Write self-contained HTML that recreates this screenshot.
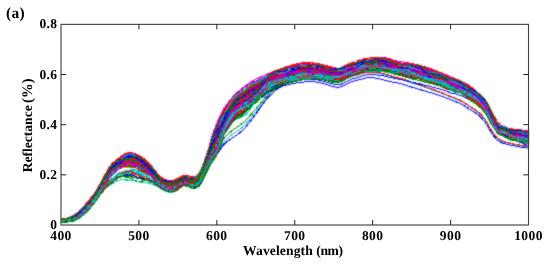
<!DOCTYPE html>
<html><head><meta charset="utf-8"><title>Reflectance spectra</title>
<style>
html,body{margin:0;padding:0;background:#fff;}
body{width:550px;height:264px;overflow:hidden;}
svg{display:block;font-family:"Liberation Serif",serif;font-weight:bold;fill:#000;text-rendering:geometricPrecision;}
.c polyline{shape-rendering:crispEdges;fill:none;stroke-width:1.05;}
</style></head>
<body>
<svg width="550" height="264" viewBox="0 0 550 264">
<rect width="550" height="264" fill="#fff"/>
<defs><filter id="b" color-interpolation-filters="sRGB" x="0" y="0" width="550" height="264" filterUnits="userSpaceOnUse"><feConvolveMatrix order="3" kernelMatrix="0.04 0.11 0.04 0.11 0.4 0.11 0.04 0.11 0.04" divisor="1" edgeMode="duplicate" preserveAlpha="false"/></filter></defs>
<g class="c" shape-rendering="crispEdges" filter="url(#b)">
<polyline points="61.0,220.5 63.0,220.5 65.0,220.3 67.0,220.0 69.0,219.6 71.0,219.0 73.0,218.5 75.0,217.7 77.0,216.4 79.0,214.7 81.0,213.2 83.0,211.1 85.0,208.9 87.0,206.7 89.0,204.2 91.0,201.5 93.0,199.0 95.0,196.0 97.0,192.7 99.0,189.2 101.0,185.7 103.0,182.5 105.0,178.9 107.0,175.7 109.0,172.4 111.0,169.4 113.0,166.9 115.0,164.7 117.0,163.1 119.0,162.1 121.0,161.1 123.0,159.7 125.0,159.2 127.0,159.2 129.0,159.6 131.0,159.9 133.0,160.3 135.0,161.1 137.0,161.8 139.0,162.9 141.0,164.1 143.0,165.1 145.0,165.9 147.0,167.1 149.0,168.6 151.0,170.1 153.0,172.0 155.0,174.1 157.0,176.0 159.0,178.2 161.0,180.1 163.0,181.5 165.0,182.3 167.0,183.3 169.0,183.5 171.0,183.8 173.0,183.4 175.0,182.7 177.0,181.8 179.0,181.0 181.0,180.2 183.0,179.4 185.0,179.2 187.0,179.5 189.0,180.3 191.0,181.0 193.0,181.2 195.0,181.3 197.0,180.6 199.0,179.2 201.0,176.1 203.0,171.8 205.0,167.2 207.0,162.5 209.0,157.4 211.0,152.0 213.0,147.0 215.0,142.3 217.0,138.0 219.0,132.7 221.0,126.8 223.0,121.5 225.0,117.3 227.0,113.6 229.0,110.3 231.0,107.5 233.0,104.8 235.0,103.0 237.0,101.6 239.0,100.6 241.0,99.4 243.0,98.2 245.0,96.5 247.0,94.7 249.0,92.8 251.0,91.2 253.0,89.7 255.0,88.4 257.0,87.4 259.0,86.2 261.0,85.1 263.0,83.9 265.0,82.6 267.0,81.2 269.0,79.9 271.0,79.0 273.0,77.6 275.0,76.5 277.0,75.1 279.0,73.8 281.0,72.7 283.0,71.6 285.0,70.5 287.0,69.5 289.0,68.5 291.0,67.5 293.0,66.6 295.0,65.9 297.0,65.2 299.0,65.0 301.0,65.0 303.0,65.2 305.0,65.6 307.0,66.0 309.0,66.3 311.0,66.5 313.0,66.5 315.0,66.7 317.0,66.9 319.0,67.1 321.0,67.4 323.0,68.3 325.0,69.2 327.0,70.1 329.0,71.1 331.0,71.7 333.0,72.1 335.0,72.5 337.0,72.7 339.0,72.6 341.0,72.4 343.0,71.7 345.0,70.4 347.0,69.3 349.0,68.4 351.0,67.1 353.0,66.2 355.0,65.2 357.0,64.2 359.0,63.0 361.0,61.7 363.0,61.2 365.0,61.2 367.0,61.6 369.0,61.9 371.0,62.2 373.0,62.4 375.0,62.3 377.0,62.5 379.0,62.5 381.0,63.2 383.0,63.7 385.0,64.0 387.0,64.3 389.0,64.7 391.0,65.1 393.0,65.7 395.0,66.3 397.0,66.5 399.0,67.0 401.0,67.3 403.0,67.9 405.0,68.1 407.0,68.2 409.0,68.1 411.0,68.4 413.0,68.5 415.0,68.0 417.0,67.6 419.0,67.1 421.0,67.0 423.0,67.3 425.0,68.0 427.0,68.0 429.0,68.4 431.0,69.3 433.0,70.2 435.0,71.2 437.0,72.2 439.0,73.3 441.0,74.5 443.0,75.6 445.0,77.1 447.0,78.4 449.0,79.4 451.0,80.2 453.0,81.0 455.0,81.2 457.0,81.9 459.0,82.6 461.0,82.8 463.0,84.3 465.0,85.9 467.0,87.2 469.0,88.8 471.0,90.2 473.0,91.3 475.0,92.7 477.0,94.2 479.0,95.8 481.0,97.4 483.0,99.0 485.0,101.7 487.0,104.5 489.0,108.8 491.0,112.6 493.0,116.0 495.0,119.9 497.0,123.3 499.0,125.4 501.0,126.9 503.0,127.9 505.0,129.6 507.0,131.1 509.0,132.5 511.0,133.6 513.0,134.5 515.0,135.2 517.0,135.5 519.0,135.5 521.0,135.7 523.0,136.2 525.0,136.2 528.5,136.7" stroke="#404040"/>
<polyline points="61.0,220.0 63.0,219.8 65.0,219.6 67.0,219.4 69.0,218.7 71.0,218.0 73.0,217.3 75.0,216.2 77.0,215.0 79.0,213.4 81.0,211.6 83.0,209.8 85.0,207.8 87.0,205.6 89.0,203.3 91.0,200.9 93.0,198.4 95.0,195.7 97.0,192.6 99.0,189.0 101.0,185.8 103.0,182.5 105.0,179.3 107.0,176.0 109.0,173.2 111.0,170.5 113.0,168.1 115.0,166.0 117.0,164.2 119.0,163.1 121.0,161.9 123.0,160.4 125.0,159.5 127.0,159.2 129.0,159.3 131.0,159.0 133.0,159.1 135.0,159.7 137.0,160.4 139.0,161.5 141.0,162.9 143.0,164.0 145.0,165.4 147.0,166.9 149.0,168.7 151.0,170.7 153.0,172.7 155.0,175.0 157.0,177.0 159.0,179.6 161.0,181.6 163.0,182.9 165.0,183.9 167.0,184.8 169.0,185.2 171.0,185.4 173.0,185.0 175.0,184.1 177.0,183.0 179.0,182.1 181.0,180.8 183.0,179.8 185.0,179.5 187.0,179.5 189.0,180.0 191.0,180.3 193.0,180.4 195.0,180.2 197.0,179.2 199.0,177.1 201.0,173.5 203.0,169.2 205.0,164.1 207.0,159.0 209.0,153.4 211.0,147.7 213.0,142.7 215.0,138.3 217.0,134.4 219.0,130.2 221.0,125.6 223.0,121.3 225.0,118.0 227.0,115.1 229.0,112.4 231.0,109.7 233.0,107.3 235.0,105.6 237.0,104.0 239.0,102.7 241.0,101.3 243.0,99.9 245.0,98.0 247.0,96.1 249.0,94.2 251.0,92.5 253.0,90.9 255.0,89.6 257.0,88.3 259.0,87.2 261.0,85.8 263.0,84.7 265.0,83.4 267.0,82.0 269.0,80.8 271.0,80.0 273.0,79.2 275.0,78.4 277.0,77.4 279.0,76.8 281.0,76.3 283.0,75.9 285.0,75.4 287.0,74.8 289.0,74.3 291.0,73.7 293.0,73.1 295.0,72.5 297.0,72.0 299.0,71.7 301.0,71.5 303.0,71.4 305.0,71.3 307.0,71.2 309.0,71.2 311.0,70.9 313.0,70.8 315.0,70.5 317.0,70.6 319.0,70.6 321.0,70.7 323.0,71.1 325.0,71.9 327.0,72.5 329.0,73.1 331.0,73.5 333.0,73.7 335.0,73.9 337.0,74.0 339.0,73.9 341.0,73.6 343.0,72.9 345.0,71.9 347.0,70.9 349.0,70.2 351.0,69.3 353.0,68.6 355.0,67.9 357.0,67.1 359.0,66.3 361.0,65.1 363.0,64.4 365.0,64.2 367.0,64.2 369.0,64.1 371.0,64.2 373.0,63.7 375.0,63.4 377.0,63.2 379.0,63.1 381.0,63.3 383.0,63.7 385.0,64.0 387.0,64.1 389.0,64.5 391.0,65.0 393.0,65.7 395.0,66.4 397.0,66.9 399.0,67.4 401.0,68.2 403.0,68.7 405.0,69.2 407.0,69.8 409.0,70.2 411.0,71.1 413.0,71.5 415.0,71.9 417.0,72.2 419.0,72.5 421.0,73.0 423.0,73.8 425.0,74.8 427.0,75.2 429.0,75.7 431.0,76.4 433.0,77.1 435.0,77.7 437.0,78.4 439.0,78.8 441.0,79.6 443.0,80.4 445.0,81.3 447.0,82.2 449.0,82.9 451.0,83.7 453.0,84.2 455.0,84.4 457.0,85.2 459.0,86.0 461.0,86.3 463.0,87.8 465.0,89.4 467.0,90.7 469.0,92.2 471.0,93.7 473.0,95.1 475.0,96.3 477.0,97.9 479.0,99.7 481.0,101.3 483.0,103.3 485.0,106.0 487.0,108.8 489.0,112.9 491.0,116.9 493.0,120.0 495.0,123.5 497.0,126.3 499.0,128.1 501.0,129.0 503.0,129.7 505.0,130.6 507.0,131.6 509.0,132.5 511.0,133.2 513.0,133.7 515.0,134.0 517.0,134.0 519.0,134.0 521.0,134.1 523.0,134.6 525.0,134.9 528.5,135.7" stroke="#bfbf00"/>
<polyline points="61.0,219.9 63.0,219.9 65.0,219.8 67.0,219.4 69.0,219.0 71.0,218.2 73.0,217.5 75.0,216.6 77.0,214.9 79.0,213.4 81.0,211.7 83.0,210.0 85.0,208.2 87.0,206.4 89.0,204.0 91.0,201.7 93.0,199.2 95.0,196.1 97.0,192.7 99.0,189.0 101.0,185.7 103.0,182.4 105.0,179.1 107.0,176.1 109.0,173.2 111.0,170.4 113.0,167.7 115.0,165.1 117.0,162.8 119.0,161.8 121.0,160.5 123.0,159.2 125.0,158.9 127.0,159.3 129.0,159.8 131.0,159.8 133.0,159.5 135.0,159.5 137.0,159.6 139.0,160.3 141.0,161.6 143.0,162.8 145.0,164.5 147.0,166.6 149.0,168.6 151.0,170.6 153.0,172.8 155.0,174.7 157.0,176.4 159.0,178.7 161.0,180.6 163.0,182.0 165.0,183.3 167.0,184.4 169.0,184.9 171.0,184.8 173.0,184.3 175.0,183.1 177.0,181.9 179.0,180.6 181.0,179.6 183.0,178.8 185.0,178.7 187.0,179.1 189.0,180.0 191.0,180.7 193.0,180.8 195.0,180.6 197.0,179.5 199.0,177.6 201.0,174.0 203.0,169.6 205.0,165.1 207.0,160.3 209.0,155.4 211.0,150.4 213.0,145.7 215.0,141.2 217.0,136.9 219.0,131.9 221.0,126.8 223.0,122.7 225.0,119.9 227.0,117.7 229.0,115.7 231.0,113.4 233.0,110.9 235.0,108.3 237.0,105.6 239.0,103.3 241.0,101.0 243.0,99.3 245.0,97.9 247.0,96.6 249.0,95.5 251.0,94.3 253.0,93.0 255.0,91.5 257.0,89.9 259.0,88.3 261.0,86.8 263.0,85.7 265.0,84.6 267.0,83.8 269.0,83.2 271.0,82.6 273.0,81.8 275.0,80.5 277.0,79.0 279.0,77.6 281.0,76.6 283.0,76.0 285.0,75.5 287.0,75.2 289.0,75.1 291.0,74.7 293.0,74.3 295.0,73.6 297.0,72.8 299.0,72.0 301.0,71.5 303.0,71.1 305.0,70.9 307.0,71.1 309.0,71.3 311.0,71.3 313.0,71.3 315.0,71.1 317.0,70.7 319.0,70.4 321.0,70.4 323.0,71.2 325.0,71.9 327.0,73.1 329.0,74.3 331.0,75.3 333.0,75.9 335.0,76.1 337.0,76.0 339.0,75.4 341.0,74.8 343.0,73.6 345.0,72.6 347.0,71.8 349.0,71.4 351.0,70.7 353.0,70.2 355.0,69.5 357.0,68.5 359.0,67.2 361.0,65.8 363.0,65.0 365.0,65.0 367.0,65.1 369.0,65.4 371.0,65.8 373.0,65.7 375.0,65.5 377.0,64.9 379.0,64.4 381.0,64.3 383.0,64.3 385.0,64.6 387.0,65.1 389.0,66.0 391.0,67.3 393.0,68.5 395.0,69.4 397.0,69.7 399.0,70.1 401.0,70.2 403.0,70.5 405.0,70.9 407.0,71.5 409.0,72.1 411.0,73.2 413.0,73.7 415.0,74.0 417.0,73.9 419.0,73.6 421.0,73.2 423.0,73.5 425.0,74.1 427.0,74.7 429.0,75.8 431.0,76.8 433.0,77.8 435.0,78.8 437.0,79.2 439.0,79.2 441.0,79.5 443.0,79.8 445.0,80.4 447.0,81.4 449.0,82.4 451.0,83.7 453.0,84.6 455.0,85.2 457.0,86.0 459.0,86.5 461.0,86.7 463.0,87.9 465.0,89.4 467.0,91.0 469.0,93.0 471.0,94.8 473.0,96.6 475.0,98.1 477.0,99.5 479.0,100.7 481.0,101.9 483.0,103.1 485.0,105.3 487.0,108.0 489.0,112.6 491.0,116.9 493.0,120.6 495.0,124.5 497.0,127.3 499.0,129.2 501.0,129.9 503.0,130.4 505.0,131.4 507.0,132.3 509.0,133.5 511.0,134.6 513.0,135.6 515.0,136.3 517.0,136.6 519.0,136.6 521.0,136.6 523.0,136.8 525.0,137.1 528.5,138.2" stroke="#404040"/>
<polyline points="61.0,220.8 63.0,220.6 65.0,220.2 67.0,220.0 69.0,219.6 71.0,219.1 73.0,218.5 75.0,217.7 77.0,216.5 79.0,214.9 81.0,213.3 83.0,211.5 85.0,209.5 87.0,207.5 89.0,205.3 91.0,202.8 93.0,200.4 95.0,197.7 97.0,194.5 99.0,190.9 101.0,187.6 103.0,184.5 105.0,181.5 107.0,178.9 109.0,176.7 111.0,174.7 113.0,172.9 115.0,170.8 117.0,168.9 119.0,167.5 121.0,166.0 123.0,164.4 125.0,163.4 127.0,163.0 129.0,163.2 131.0,163.3 133.0,163.5 135.0,163.9 137.0,164.4 139.0,165.2 141.0,166.3 143.0,167.1 145.0,168.4 147.0,170.0 149.0,172.0 151.0,173.8 153.0,175.8 155.0,177.7 157.0,179.5 159.0,181.4 161.0,182.8 163.0,184.3 165.0,185.3 167.0,186.2 169.0,186.6 171.0,187.2 173.0,186.9 175.0,186.2 177.0,185.5 179.0,184.3 181.0,183.0 183.0,182.0 185.0,181.6 187.0,181.9 189.0,182.5 191.0,182.9 193.0,183.2 195.0,183.0 197.0,182.1 199.0,180.1 201.0,176.8 203.0,172.0 205.0,167.3 207.0,162.5 209.0,157.6 211.0,153.0 213.0,148.8 215.0,144.9 217.0,141.3 219.0,136.3 221.0,130.1 223.0,124.5 225.0,119.9 227.0,116.4 229.0,113.4 231.0,110.8 233.0,108.4 235.0,106.7 237.0,105.3 239.0,103.7 241.0,102.0 243.0,100.1 245.0,98.3 247.0,96.7 249.0,95.2 251.0,94.1 253.0,92.7 255.0,91.3 257.0,89.6 259.0,87.8 261.0,85.7 263.0,83.5 265.0,81.5 267.0,80.0 269.0,78.8 271.0,78.0 273.0,77.4 275.0,76.8 277.0,75.9 279.0,75.0 281.0,74.2 283.0,73.3 285.0,72.5 287.0,72.0 289.0,71.4 291.0,70.9 293.0,70.4 295.0,69.7 297.0,69.2 299.0,68.5 301.0,67.9 303.0,67.5 305.0,67.4 307.0,67.4 309.0,67.4 311.0,67.7 313.0,67.9 315.0,68.1 317.0,68.1 319.0,68.0 321.0,67.8 323.0,68.0 325.0,68.3 327.0,68.8 329.0,69.2 331.0,69.7 333.0,70.0 335.0,70.3 337.0,70.2 339.0,70.0 341.0,69.8 343.0,68.9 345.0,67.7 347.0,67.0 349.0,66.4 351.0,66.1 353.0,65.7 355.0,65.6 357.0,64.9 359.0,63.8 361.0,62.5 363.0,61.5 365.0,61.2 367.0,61.0 369.0,61.0 371.0,61.1 373.0,61.2 375.0,61.2 377.0,61.2 379.0,61.1 381.0,61.5 383.0,61.8 385.0,61.8 387.0,61.9 389.0,62.2 391.0,62.9 393.0,63.8 395.0,64.8 397.0,65.4 399.0,65.8 401.0,66.0 403.0,66.1 405.0,66.3 407.0,66.6 409.0,66.9 411.0,68.1 413.0,69.0 415.0,69.8 417.0,70.5 419.0,71.0 421.0,71.6 423.0,72.2 425.0,72.7 427.0,72.9 429.0,73.2 431.0,73.9 433.0,74.8 435.0,75.6 437.0,76.4 439.0,77.1 441.0,77.6 443.0,78.1 445.0,78.8 447.0,79.4 449.0,80.2 451.0,81.1 453.0,81.9 455.0,82.5 457.0,83.5 459.0,84.1 461.0,84.1 463.0,85.0 465.0,86.0 467.0,87.0 469.0,88.0 471.0,89.4 473.0,90.8 475.0,92.3 477.0,94.5 479.0,96.3 481.0,98.1 483.0,100.0 485.0,102.4 487.0,105.3 489.0,109.6 491.0,113.6 493.0,117.2 495.0,121.2 497.0,124.4 499.0,126.3 501.0,127.1 503.0,127.5 505.0,128.5 507.0,129.0 509.0,130.1 511.0,130.9 513.0,131.7 515.0,132.2 517.0,132.6 519.0,132.9 521.0,133.2 523.0,133.7 525.0,133.7 528.5,134.0" stroke="#bfbf00"/>
<polyline points="61.0,221.9 63.0,221.6 65.0,221.3 67.0,220.9 69.0,220.3 71.0,219.8 73.0,219.3 75.0,218.4 77.0,217.3 79.0,215.8 81.0,214.2 83.0,212.6 85.0,210.8 87.0,208.9 89.0,206.9 91.0,204.6 93.0,202.3 95.0,199.5 97.0,196.2 99.0,192.5 101.0,189.2 103.0,185.9 105.0,182.5 107.0,179.6 109.0,176.9 111.0,174.7 113.0,172.8 115.0,171.1 117.0,169.7 119.0,168.7 121.0,168.3 123.0,167.5 125.0,167.4 127.0,167.2 129.0,167.3 131.0,167.1 133.0,166.8 135.0,166.7 137.0,166.6 139.0,166.9 141.0,167.5 143.0,168.2 145.0,169.3 147.0,170.9 149.0,172.7 151.0,175.0 153.0,177.1 155.0,179.4 157.0,181.4 159.0,183.5 161.0,185.3 163.0,186.7 165.0,187.9 167.0,188.7 169.0,188.8 171.0,188.9 173.0,188.5 175.0,187.5 177.0,186.7 179.0,185.4 181.0,184.1 183.0,183.3 185.0,183.2 187.0,183.8 189.0,184.7 191.0,185.3 193.0,185.8 195.0,185.8 197.0,185.2 199.0,183.8 201.0,180.4 203.0,175.4 205.0,170.6 207.0,165.7 209.0,161.0 211.0,156.4 213.0,152.1 215.0,148.6 217.0,145.5 219.0,141.8 221.0,136.7 223.0,132.3 225.0,129.0 227.0,126.2 229.0,123.8 231.0,121.3 233.0,118.5 235.0,116.2 237.0,114.1 239.0,111.7 241.0,109.3 243.0,107.1 245.0,105.0 247.0,103.4 249.0,102.1 251.0,101.2 253.0,100.4 255.0,99.8 257.0,98.8 259.0,97.4 261.0,95.7 263.0,93.8 265.0,91.8 267.0,89.9 269.0,88.1 271.0,86.6 273.0,85.3 275.0,83.7 277.0,82.3 279.0,81.0 281.0,80.4 283.0,79.6 285.0,79.3 287.0,79.0 289.0,79.2 291.0,79.2 293.0,79.2 295.0,79.3 297.0,79.1 299.0,78.8 301.0,78.4 303.0,77.8 305.0,77.3 307.0,76.7 309.0,76.4 311.0,75.8 313.0,75.9 315.0,75.9 317.0,76.2 319.0,76.4 321.0,76.9 323.0,77.6 325.0,78.4 327.0,79.3 329.0,79.9 331.0,80.7 333.0,81.0 335.0,81.1 337.0,80.9 339.0,80.1 341.0,78.9 343.0,77.3 345.0,75.9 347.0,74.5 349.0,73.6 351.0,72.8 353.0,72.3 355.0,72.2 357.0,72.1 359.0,71.5 361.0,71.1 363.0,70.6 365.0,70.4 367.0,70.3 369.0,70.3 371.0,70.0 373.0,69.6 375.0,69.3 377.0,68.8 379.0,68.7 381.0,68.5 383.0,68.4 385.0,68.9 387.0,69.4 389.0,70.1 391.0,71.1 393.0,72.3 395.0,73.5 397.0,74.0 399.0,74.5 401.0,74.8 403.0,74.8 405.0,74.8 407.0,74.7 409.0,74.6 411.0,74.7 413.0,74.9 415.0,75.2 417.0,75.4 419.0,75.6 421.0,76.3 423.0,77.4 425.0,78.7 427.0,79.8 429.0,80.9 431.0,82.2 433.0,83.3 435.0,84.1 437.0,84.6 439.0,85.1 441.0,85.4 443.0,85.4 445.0,85.6 447.0,86.0 449.0,86.5 451.0,87.1 453.0,87.9 455.0,88.7 457.0,89.9 459.0,91.0 461.0,91.9 463.0,93.6 465.0,95.2 467.0,96.5 469.0,97.8 471.0,99.2 473.0,100.1 475.0,101.0 477.0,102.2 479.0,103.5 481.0,104.7 483.0,106.4 485.0,108.7 487.0,111.7 489.0,116.2 491.0,120.4 493.0,124.5 495.0,128.4 497.0,131.6 499.0,133.8 501.0,135.1 503.0,135.9 505.0,136.8 507.0,137.3 509.0,137.8 511.0,138.2 513.0,138.5 515.0,138.6 517.0,138.7 519.0,139.0 521.0,139.2 523.0,139.8 525.0,140.2 528.5,141.5" stroke="#bfbf00"/>
<polyline points="61.0,220.9 63.0,220.7 65.0,220.4 67.0,220.1 69.0,219.5 71.0,219.0 73.0,218.4 75.0,217.6 77.0,216.3 79.0,214.8 81.0,213.1 83.0,211.3 85.0,209.3 87.0,207.2 89.0,204.9 91.0,202.5 93.0,200.0 95.0,197.2 97.0,194.0 99.0,190.5 101.0,187.2 103.0,184.1 105.0,180.8 107.0,177.8 109.0,175.0 111.0,172.5 113.0,170.3 115.0,168.2 117.0,166.4 119.0,165.3 121.0,164.1 123.0,162.7 125.0,162.0 127.0,161.7 129.0,161.8 131.0,161.8 133.0,161.9 135.0,162.5 137.0,163.2 139.0,164.2 141.0,165.5 143.0,166.5 145.0,167.8 147.0,169.3 149.0,171.0 151.0,172.8 153.0,174.9 155.0,176.9 157.0,178.9 159.0,181.1 161.0,182.8 163.0,184.3 165.0,185.4 167.0,186.1 169.0,186.6 171.0,186.8 173.0,186.4 175.0,185.6 177.0,184.7 179.0,183.6 181.0,182.4 183.0,181.4 185.0,181.1 187.0,181.3 189.0,182.0 191.0,182.4 193.0,182.6 195.0,182.5 197.0,181.6 199.0,180.0 201.0,176.8 203.0,172.5 205.0,168.2 207.0,163.9 209.0,159.8 211.0,156.2 213.0,153.2 215.0,151.2 217.0,150.2 219.0,147.8 221.0,143.8 223.0,140.1 225.0,137.3 227.0,135.1 229.0,133.3 231.0,131.5 233.0,129.9 235.0,128.5 237.0,127.2 239.0,126.0 241.0,124.5 243.0,122.9 245.0,121.0 247.0,119.0 249.0,116.8 251.0,114.5 253.0,112.2 255.0,109.9 257.0,107.6 259.0,105.1 261.0,102.6 263.0,100.1 265.0,97.6 267.0,95.3 269.0,93.5 271.0,92.2 273.0,90.8 275.0,89.3 277.0,87.7 279.0,86.3 281.0,85.3 283.0,84.1 285.0,83.0 287.0,82.0 289.0,81.1 291.0,80.3 293.0,79.6 295.0,79.0 297.0,78.4 299.0,78.0 301.0,77.7 303.0,77.4 305.0,77.1 307.0,77.0 309.0,76.9 311.0,76.8 313.0,76.7 315.0,76.8 317.0,76.9 319.0,77.2 321.0,77.4 323.0,77.9 325.0,78.5 327.0,79.1 329.0,79.7 331.0,80.1 333.0,80.5 335.0,80.9 337.0,81.0 339.0,80.9 341.0,80.5 343.0,79.6 345.0,78.7 347.0,77.6 349.0,76.6 351.0,75.7 353.0,75.0 355.0,74.4 357.0,73.7 359.0,72.9 361.0,72.1 363.0,71.4 365.0,71.0 367.0,70.8 369.0,70.6 371.0,70.5 373.0,70.4 375.0,70.4 377.0,70.4 379.0,70.4 381.0,70.8 383.0,71.1 385.0,71.4 387.0,71.7 389.0,72.1 391.0,72.5 393.0,73.1 395.0,73.6 397.0,73.9 399.0,74.3 401.0,74.7 403.0,75.2 405.0,75.6 407.0,76.0 409.0,76.4 411.0,77.0 413.0,77.5 415.0,77.9 417.0,78.2 419.0,78.6 421.0,79.0 423.0,79.6 425.0,80.3 427.0,80.8 429.0,81.3 431.0,81.9 433.0,82.6 435.0,83.2 437.0,83.8 439.0,84.4 441.0,85.1 443.0,85.8 445.0,86.6 447.0,87.4 449.0,88.2 451.0,88.9 453.0,89.5 455.0,90.0 457.0,90.8 459.0,91.4 461.0,91.9 463.0,93.2 465.0,94.5 467.0,95.7 469.0,97.0 471.0,98.3 473.0,99.6 475.0,100.8 477.0,102.3 479.0,103.9 481.0,105.6 483.0,107.5 485.0,110.0 487.0,113.0 489.0,116.9 491.0,120.7 493.0,124.0 495.0,127.3 497.0,130.1 499.0,131.8 501.0,132.9 503.0,133.8 505.0,134.8 507.0,135.7 509.0,136.6 511.0,137.4 513.0,138.0 515.0,138.5 517.0,138.9 519.0,139.2 521.0,139.7 523.0,140.2 525.0,140.7 528.5,141.6" stroke="#008000" style="stroke-width:1"/>
<polyline points="61.0,221.0 63.0,220.8 65.0,220.6 67.0,220.3 69.0,219.7 71.0,219.2 73.0,218.7 75.0,217.9 77.0,216.6 79.0,215.1 81.0,213.5 83.0,211.7 85.0,209.7 87.0,207.6 89.0,205.2 91.0,202.8 93.0,200.4 95.0,197.6 97.0,194.4 99.0,190.9 101.0,187.6 103.0,184.5 105.0,181.3 107.0,178.4 109.0,175.7 111.0,173.2 113.0,171.0 115.0,168.9 117.0,167.1 119.0,165.9 121.0,164.8 123.0,163.4 125.0,162.7 127.0,162.4 129.0,162.5 131.0,162.6 133.0,162.7 135.0,163.3 137.0,164.0 139.0,165.0 141.0,166.2 143.0,167.3 145.0,168.5 147.0,169.9 149.0,171.6 151.0,173.4 153.0,175.4 155.0,177.5 157.0,179.4 159.0,181.6 161.0,183.3 163.0,184.8 165.0,185.9 167.0,186.7 169.0,187.2 171.0,187.4 173.0,187.0 175.0,186.1 177.0,185.3 179.0,184.1 181.0,182.9 183.0,181.9 185.0,181.6 187.0,181.8 189.0,182.5 191.0,182.9 193.0,183.1 195.0,183.0 197.0,182.2 199.0,180.6 201.0,177.5 203.0,173.2 205.0,169.0 207.0,164.9 209.0,161.1 211.0,157.8 213.0,155.2 215.0,153.6 217.0,153.1 219.0,151.1 221.0,147.2 223.0,143.6 225.0,140.9 227.0,138.8 229.0,137.1 231.0,135.4 233.0,133.9 235.0,132.5 237.0,131.2 239.0,129.9 241.0,128.4 243.0,126.7 245.0,124.8 247.0,122.7 249.0,120.4 251.0,118.0 253.0,115.6 255.0,113.1 257.0,110.6 259.0,107.9 261.0,105.2 263.0,102.6 265.0,100.0 267.0,97.5 269.0,95.7 271.0,94.2 273.0,92.8 275.0,91.1 277.0,89.4 279.0,87.9 281.0,86.9 283.0,85.5 285.0,84.3 287.0,83.3 289.0,82.3 291.0,81.5 293.0,80.7 295.0,80.0 297.0,79.4 299.0,79.0 301.0,78.6 303.0,78.2 305.0,78.0 307.0,77.8 309.0,77.6 311.0,77.4 313.0,77.3 315.0,77.3 317.0,77.5 319.0,77.7 321.0,77.9 323.0,78.3 325.0,78.8 327.0,79.4 329.0,79.9 331.0,80.3 333.0,80.7 335.0,81.0 337.0,81.1 339.0,81.0 341.0,80.5 343.0,79.6 345.0,78.6 347.0,77.5 349.0,76.4 351.0,75.6 353.0,74.8 355.0,74.2 357.0,73.4 359.0,72.6 361.0,71.7 363.0,71.0 365.0,70.7 367.0,70.4 369.0,70.2 371.0,70.1 373.0,70.1 375.0,70.0 377.0,70.0 379.0,70.0 381.0,70.3 383.0,70.6 385.0,70.9 387.0,71.3 389.0,71.7 391.0,72.1 393.0,72.7 395.0,73.2 397.0,73.6 399.0,74.0 401.0,74.4 403.0,74.9 405.0,75.3 407.0,75.8 409.0,76.1 411.0,76.8 413.0,77.3 415.0,77.7 417.0,78.0 419.0,78.4 421.0,78.8 423.0,79.5 425.0,80.2 427.0,80.6 429.0,81.1 431.0,81.8 433.0,82.5 435.0,83.1 437.0,83.7 439.0,84.4 441.0,85.0 443.0,85.8 445.0,86.6 447.0,87.4 449.0,88.2 451.0,88.9 453.0,89.5 455.0,90.0 457.0,90.8 459.0,91.4 461.0,92.0 463.0,93.2 465.0,94.5 467.0,95.7 469.0,97.1 471.0,98.3 473.0,99.6 475.0,100.8 477.0,102.3 479.0,103.9 481.0,105.6 483.0,107.5 485.0,110.0 487.0,113.0 489.0,116.9 491.0,120.7 493.0,124.0 495.0,127.3 497.0,130.0 499.0,131.8 501.0,132.9 503.0,133.7 505.0,134.8 507.0,135.6 509.0,136.5 511.0,137.3 513.0,137.9 515.0,138.4 517.0,138.7 519.0,139.0 521.0,139.4 523.0,139.9 525.0,140.4 528.5,141.2" stroke="#00bfbf" style="stroke-width:1"/>
<polyline points="61.0,220.7 63.0,220.5 65.0,220.3 67.0,219.9 69.0,219.4 71.0,218.8 73.0,218.2 75.0,217.3 77.0,216.0 79.0,214.4 81.0,212.8 83.0,211.0 85.0,209.0 87.0,206.8 89.0,204.5 91.0,202.1 93.0,199.6 95.0,196.8 97.0,193.6 99.0,190.0 101.0,186.8 103.0,183.6 105.0,180.3 107.0,177.3 109.0,174.4 111.0,171.9 113.0,169.6 115.0,167.5 117.0,165.8 119.0,164.6 121.0,163.5 123.0,162.0 125.0,161.3 127.0,161.0 129.0,161.0 131.0,161.1 133.0,161.2 135.0,161.7 137.0,162.4 139.0,163.5 141.0,164.7 143.0,165.8 145.0,167.1 147.0,168.6 149.0,170.3 151.0,172.2 153.0,174.3 155.0,176.4 157.0,178.3 159.0,180.6 161.0,182.3 163.0,183.8 165.0,184.9 167.0,185.6 169.0,186.1 171.0,186.2 173.0,185.9 175.0,185.0 177.0,184.2 179.0,183.0 181.0,181.9 183.0,180.9 185.0,180.6 187.0,180.8 189.0,181.5 191.0,181.9 193.0,182.1 195.0,182.0 197.0,181.1 199.0,179.4 201.0,176.2 203.0,172.0 205.0,167.8 207.0,163.7 209.0,159.9 211.0,156.8 213.0,154.5 215.0,153.3 217.0,153.3 219.0,151.9 221.0,148.6 223.0,145.6 225.0,143.3 227.0,141.7 229.0,140.3 231.0,138.8 233.0,137.5 235.0,136.2 237.0,134.8 239.0,133.3 241.0,131.7 243.0,129.9 245.0,127.9 247.0,125.6 249.0,123.1 251.0,120.6 253.0,117.9 255.0,115.1 257.0,112.4 259.0,109.6 261.0,106.7 263.0,103.9 265.0,101.1 267.0,98.5 269.0,96.4 271.0,94.8 273.0,93.1 275.0,91.2 277.0,89.2 279.0,87.5 281.0,86.3 283.0,84.7 285.0,83.4 287.0,82.1 289.0,81.0 291.0,80.0 293.0,79.1 295.0,78.3 297.0,77.6 299.0,77.1 301.0,76.7 303.0,76.4 305.0,76.1 307.0,76.0 309.0,75.8 311.0,75.6 313.0,75.5 315.0,75.5 317.0,75.7 319.0,75.8 321.0,76.0 323.0,76.5 325.0,77.1 327.0,77.7 329.0,78.2 331.0,78.7 333.0,79.0 335.0,79.4 337.0,79.5 339.0,79.4 341.0,79.0 343.0,78.1 345.0,77.1 347.0,76.1 349.0,75.2 351.0,74.3 353.0,73.6 355.0,73.0 357.0,72.3 359.0,71.5 361.0,70.6 363.0,69.9 365.0,69.6 367.0,69.4 369.0,69.3 371.0,69.2 373.0,69.2 375.0,69.1 377.0,69.0 379.0,69.1 381.0,69.5 383.0,69.8 385.0,70.1 387.0,70.4 389.0,70.9 391.0,71.4 393.0,72.0 395.0,72.5 397.0,72.9 399.0,73.4 401.0,73.9 403.0,74.3 405.0,74.8 407.0,75.2 409.0,75.7 411.0,76.3 413.0,76.9 415.0,77.3 417.0,77.6 419.0,78.0 421.0,78.5 423.0,79.2 425.0,79.9 427.0,80.4 429.0,80.9 431.0,81.6 433.0,82.3 435.0,83.0 437.0,83.6 439.0,84.3 441.0,84.9 443.0,85.7 445.0,86.5 447.0,87.4 449.0,88.2 451.0,89.0 453.0,89.6 455.0,90.1 457.0,90.8 459.0,91.5 461.0,92.0 463.0,93.2 465.0,94.6 467.0,95.8 469.0,97.1 471.0,98.4 473.0,99.6 475.0,100.8 477.0,102.3 479.0,103.9 481.0,105.6 483.0,107.5 485.0,110.0 487.0,113.0 489.0,116.9 491.0,120.7 493.0,124.0 495.0,127.2 497.0,130.0 499.0,131.7 501.0,132.8 503.0,133.6 505.0,134.6 507.0,135.4 509.0,136.2 511.0,137.0 513.0,137.5 515.0,138.0 517.0,138.2 519.0,138.5 521.0,138.8 523.0,139.3 525.0,139.6 528.5,140.3" stroke="#0000ff" style="stroke-width:1"/>
<polyline points="61.0,221.7 63.0,221.5 65.0,221.2 67.0,220.9 69.0,220.5 71.0,220.0 73.0,219.6 75.0,219.0 77.0,217.8 79.0,216.3 81.0,214.8 83.0,213.0 85.0,211.1 87.0,209.0 89.0,206.7 91.0,204.4 93.0,201.9 95.0,199.2 97.0,196.0 99.0,192.6 101.0,189.4 103.0,186.4 105.0,183.3 107.0,180.6 109.0,178.1 111.0,175.8 113.0,173.7 115.0,171.6 117.0,169.8 119.0,168.5 121.0,167.5 123.0,166.3 125.0,165.6 127.0,165.3 129.0,165.4 131.0,165.5 133.0,165.7 135.0,166.3 137.0,167.1 139.0,168.1 141.0,169.3 143.0,170.3 145.0,171.4 147.0,172.7 149.0,174.2 151.0,175.9 153.0,177.7 155.0,179.6 157.0,181.5 159.0,183.6 161.0,185.2 163.0,186.8 165.0,188.0 167.0,188.8 169.0,189.4 171.0,189.6 173.0,189.2 175.0,188.4 177.0,187.5 179.0,186.3 181.0,184.9 183.0,183.8 185.0,183.6 187.0,183.9 189.0,184.5 191.0,184.9 193.0,185.2 195.0,185.1 197.0,184.4 199.0,183.1 201.0,180.0 203.0,175.5 205.0,171.2 207.0,166.8 209.0,162.6 211.0,158.6 213.0,154.8 215.0,151.6 217.0,148.9 219.0,144.7 221.0,139.0 223.0,133.8 225.0,129.6 227.0,126.2 229.0,123.2 231.0,120.3 233.0,117.9 235.0,116.1 237.0,114.6 239.0,113.2 241.0,111.8 243.0,110.3 245.0,108.6 247.0,106.9 249.0,105.1 251.0,103.3 253.0,101.6 255.0,100.0 257.0,98.4 259.0,96.7 261.0,94.9 263.0,93.0 265.0,91.1 267.0,89.4 269.0,88.0 271.0,87.0 273.0,86.1 275.0,85.0 277.0,83.8 279.0,82.8 281.0,82.1 283.0,81.3 285.0,80.5 287.0,79.8 289.0,79.2 291.0,78.7 293.0,78.1 295.0,77.7 297.0,77.3 299.0,77.0 301.0,76.8 303.0,76.6 305.0,76.5 307.0,76.5 309.0,76.4 311.0,76.4 313.0,76.4 315.0,76.6 317.0,76.9 319.0,77.1 321.0,77.5 323.0,78.1 325.0,78.7 327.0,79.4 329.0,80.1 331.0,80.6 333.0,81.1 335.0,81.5 337.0,81.8 339.0,81.8 341.0,81.4 343.0,80.6 345.0,79.7 347.0,78.7 349.0,77.8 351.0,77.0 353.0,76.3 355.0,75.8 357.0,75.2 359.0,74.6 361.0,73.9 363.0,73.3 365.0,73.0 367.0,72.7 369.0,72.6 371.0,72.6 373.0,72.7 375.0,72.8 377.0,73.0 379.0,73.3 381.0,73.7 383.0,74.2 385.0,74.7 387.0,75.3 389.0,75.8 391.0,76.4 393.0,77.0 395.0,77.6 397.0,78.1 399.0,78.6 401.0,79.2 403.0,79.9 405.0,80.5 407.0,81.2 409.0,81.8 411.0,82.6 413.0,83.3 415.0,83.9 417.0,84.6 419.0,85.2 421.0,85.9 423.0,86.6 425.0,87.4 427.0,88.0 429.0,88.7 431.0,89.5 433.0,90.2 435.0,90.8 437.0,91.5 439.0,92.3 441.0,93.0 443.0,93.8 445.0,94.7 447.0,95.6 449.0,96.5 451.0,97.3 453.0,98.1 455.0,98.8 457.0,99.6 459.0,100.5 461.0,101.4 463.0,102.6 465.0,103.8 467.0,105.1 469.0,106.4 471.0,107.8 473.0,109.1 475.0,110.4 477.0,111.8 479.0,113.4 481.0,115.2 483.0,117.4 485.0,119.9 487.0,122.9 489.0,126.6 491.0,130.1 493.0,133.2 495.0,135.9 497.0,138.1 499.0,139.6 501.0,140.7 503.0,141.6 505.0,142.3 507.0,142.8 509.0,143.3 511.0,143.8 513.0,144.3 515.0,144.7 517.0,145.1 519.0,145.4 521.0,145.8 523.0,146.1 525.0,146.5 528.5,147.0" stroke="#00bfbf" style="stroke-width:1"/>
<polyline points="61.0,221.4 63.0,221.2 65.0,220.9 67.0,220.6 69.0,220.1 71.0,219.6 73.0,219.1 75.0,218.4 77.0,217.2 79.0,215.7 81.0,214.1 83.0,212.3 85.0,210.4 87.0,208.3 89.0,206.0 91.0,203.6 93.0,201.2 95.0,198.4 97.0,195.2 99.0,191.7 101.0,188.5 103.0,185.5 105.0,182.3 107.0,179.5 109.0,176.9 111.0,174.5 113.0,172.3 115.0,170.2 117.0,168.4 119.0,167.2 121.0,166.1 123.0,164.8 125.0,164.2 127.0,163.9 129.0,163.9 131.0,164.0 133.0,164.2 135.0,164.8 137.0,165.5 139.0,166.6 141.0,167.8 143.0,168.8 145.0,170.0 147.0,171.3 149.0,172.9 151.0,174.7 153.0,176.6 155.0,178.6 157.0,180.5 159.0,182.6 161.0,184.3 163.0,185.8 165.0,187.0 167.0,187.8 169.0,188.3 171.0,188.5 173.0,188.1 175.0,187.3 177.0,186.4 179.0,185.2 181.0,183.9 183.0,182.9 185.0,182.6 187.0,182.9 189.0,183.5 191.0,183.9 193.0,184.2 195.0,184.1 197.0,183.3 199.0,181.9 201.0,178.7 203.0,174.2 205.0,169.8 207.0,165.2 209.0,160.8 211.0,156.5 213.0,152.5 215.0,149.0 217.0,146.2 219.0,141.9 221.0,136.4 223.0,131.4 225.0,127.4 227.0,124.0 229.0,121.1 231.0,118.3 233.0,115.9 235.0,114.1 237.0,112.6 239.0,111.3 241.0,109.9 243.0,108.5 245.0,106.8 247.0,105.2 249.0,103.5 251.0,101.8 253.0,100.3 255.0,98.8 257.0,97.3 259.0,95.7 261.0,94.0 263.0,92.2 265.0,90.4 267.0,88.7 269.0,87.3 271.0,86.4 273.0,85.5 275.0,84.4 277.0,83.3 279.0,82.3 281.0,81.7 283.0,80.9 285.0,80.1 287.0,79.5 289.0,78.9 291.0,78.3 293.0,77.8 295.0,77.3 297.0,76.9 299.0,76.6 301.0,76.4 303.0,76.2 305.0,76.1 307.0,76.1 309.0,76.0 311.0,76.0 313.0,76.0 315.0,76.2 317.0,76.4 319.0,76.7 321.0,77.1 323.0,77.6 325.0,78.3 327.0,78.9 329.0,79.6 331.0,80.2 333.0,80.6 335.0,81.1 337.0,81.3 339.0,81.3 341.0,80.9 343.0,80.1 345.0,79.2 347.0,78.2 349.0,77.3 351.0,76.5 353.0,75.8 355.0,75.3 357.0,74.7 359.0,74.0 361.0,73.3 363.0,72.7 365.0,72.4 367.0,72.1 369.0,72.0 371.0,72.0 373.0,72.1 375.0,72.2 377.0,72.4 379.0,72.6 381.0,73.0 383.0,73.5 385.0,74.0 387.0,74.5 389.0,75.1 391.0,75.7 393.0,76.3 395.0,76.9 397.0,77.4 399.0,78.0 401.0,78.5 403.0,79.2 405.0,79.8 407.0,80.5 409.0,81.1 411.0,81.9 413.0,82.6 415.0,83.2 417.0,83.8 419.0,84.5 421.0,85.1 423.0,85.9 425.0,86.7 427.0,87.3 429.0,88.0 431.0,88.7 433.0,89.5 435.0,90.2 437.0,90.9 439.0,91.6 441.0,92.3 443.0,93.2 445.0,94.1 447.0,95.0 449.0,95.8 451.0,96.7 453.0,97.4 455.0,98.1 457.0,99.0 459.0,99.8 461.0,100.7 463.0,101.9 465.0,103.1 467.0,104.4 469.0,105.8 471.0,107.1 473.0,108.4 475.0,109.7 477.0,111.2 479.0,112.7 481.0,114.5 483.0,116.7 485.0,119.2 487.0,122.2 489.0,126.0 491.0,129.5 493.0,132.6 495.0,135.3 497.0,137.5 499.0,139.0 501.0,140.2 503.0,141.0 505.0,141.8 507.0,142.3 509.0,142.8 511.0,143.3 513.0,143.8 515.0,144.2 517.0,144.6 519.0,144.9 521.0,145.3 523.0,145.6 525.0,145.9 528.5,146.5" stroke="#ff0000" style="stroke-width:1"/>
<polyline points="61.0,220.9 63.0,220.7 65.0,220.4 67.0,220.1 69.0,219.5 71.0,219.0 73.0,218.4 75.0,217.6 77.0,216.3 79.0,214.8 81.0,213.1 83.0,211.3 85.0,209.3 87.0,207.2 89.0,204.9 91.0,202.5 93.0,200.0 95.0,197.2 97.0,194.0 99.0,190.5 101.0,187.2 103.0,184.1 105.0,180.8 107.0,177.8 109.0,175.0 111.0,172.5 113.0,170.3 115.0,168.2 117.0,166.4 119.0,165.3 121.0,164.1 123.0,162.7 125.0,162.0 127.0,161.7 129.0,161.8 131.0,161.8 133.0,161.9 135.0,162.5 137.0,163.2 139.0,164.2 141.0,165.5 143.0,166.5 145.0,167.8 147.0,169.3 149.0,171.0 151.0,172.8 153.0,174.9 155.0,176.9 157.0,178.9 159.0,181.1 161.0,182.8 163.0,184.3 165.0,185.4 167.0,186.1 169.0,186.6 171.0,186.8 173.0,186.4 175.0,185.6 177.0,184.7 179.0,183.6 181.0,182.4 183.0,181.4 185.0,181.1 187.0,181.3 189.0,182.0 191.0,182.4 193.0,182.6 195.0,182.5 197.0,181.6 199.0,180.0 201.0,176.7 203.0,172.3 205.0,167.8 207.0,163.2 209.0,158.6 211.0,154.1 213.0,150.2 215.0,147.0 217.0,144.4 219.0,140.8 221.0,135.9 223.0,131.4 225.0,127.9 227.0,125.0 229.0,122.5 231.0,120.0 233.0,117.8 235.0,116.1 237.0,114.6 239.0,113.2 241.0,111.8 243.0,110.3 245.0,108.5 247.0,106.7 249.0,104.9 251.0,103.2 253.0,101.5 255.0,99.9 257.0,98.3 259.0,96.6 261.0,94.8 263.0,93.0 265.0,91.3 267.0,89.7 269.0,88.5 271.0,87.8 273.0,87.1 275.0,86.2 277.0,85.3 279.0,84.5 281.0,84.2 283.0,83.5 285.0,83.0 287.0,82.5 289.0,82.0 291.0,81.6 293.0,81.3 295.0,80.9 297.0,80.7 299.0,80.4 301.0,80.2 303.0,79.9 305.0,79.7 307.0,79.6 309.0,79.5 311.0,79.4 313.0,79.4 315.0,79.6 317.0,79.9 319.0,80.3 321.0,80.7 323.0,81.2 325.0,81.8 327.0,82.4 329.0,83.0 331.0,83.5 333.0,84.0 335.0,84.4 337.0,84.7 339.0,84.6 341.0,84.2 343.0,83.4 345.0,82.5 347.0,81.4 349.0,80.3 351.0,79.5 353.0,78.8 355.0,78.2 357.0,77.6 359.0,76.9 361.0,76.3 363.0,75.7 365.0,75.2 367.0,74.9 369.0,74.6 371.0,74.6 373.0,74.7 375.0,74.8 377.0,75.0 379.0,75.2 381.0,75.5 383.0,75.9 385.0,76.3 387.0,76.8 389.0,77.2 391.0,77.6 393.0,78.0 395.0,78.4 397.0,78.8 399.0,79.1 401.0,79.5 403.0,80.0 405.0,80.5 407.0,80.9 409.0,81.4 411.0,82.0 413.0,82.4 415.0,82.9 417.0,83.3 419.0,83.7 421.0,84.1 423.0,84.6 425.0,85.2 427.0,85.6 429.0,86.1 431.0,86.7 433.0,87.2 435.0,87.7 437.0,88.2 439.0,88.8 441.0,89.4 443.0,90.0 445.0,90.7 447.0,91.5 449.0,92.2 451.0,92.9 453.0,93.4 455.0,93.8 457.0,94.4 459.0,94.9 461.0,95.4 463.0,96.4 465.0,97.4 467.0,98.4 469.0,99.5 471.0,100.6 473.0,101.7 475.0,102.7 477.0,104.0 479.0,105.4 481.0,107.0 483.0,108.8 485.0,111.2 487.0,114.1 489.0,118.0 491.0,121.7 493.0,125.0 495.0,128.3 497.0,131.1 499.0,132.9 501.0,134.1 503.0,135.1 505.0,136.2 507.0,137.2 509.0,138.2 511.0,139.1 513.0,139.9 515.0,140.6 517.0,141.2 519.0,141.9 521.0,142.6 523.0,143.4 525.0,144.2 528.5,145.6" stroke="#0000ff" style="stroke-width:1"/>
<polyline points="61.0,221.6 63.0,221.3 65.0,221.1 67.0,220.8 69.0,220.3 71.0,219.8 73.0,219.4 75.0,218.7 77.0,217.5 79.0,216.0 81.0,214.5 83.0,212.7 85.0,210.8 87.0,208.7 89.0,206.3 91.0,204.0 93.0,201.6 95.0,198.8 97.0,195.6 99.0,192.1 101.0,189.0 103.0,185.9 105.0,182.8 107.0,180.1 109.0,177.5 111.0,175.1 113.0,173.0 115.0,170.9 117.0,169.1 119.0,167.9 121.0,166.8 123.0,165.6 125.0,164.9 127.0,164.6 129.0,164.7 131.0,164.8 133.0,164.9 135.0,165.6 137.0,166.3 139.0,167.3 141.0,168.5 143.0,169.5 145.0,170.7 147.0,172.0 149.0,173.6 151.0,175.3 153.0,177.2 155.0,179.1 157.0,181.0 159.0,183.1 161.0,184.7 163.0,186.3 165.0,187.5 167.0,188.3 169.0,188.8 171.0,189.1 173.0,188.6 175.0,187.8 177.0,187.0 179.0,185.7 181.0,184.4 183.0,183.3 185.0,183.1 187.0,183.4 189.0,184.0 191.0,184.4 193.0,184.7 195.0,184.6 197.0,183.8 199.0,182.5 201.0,179.4 203.0,174.9 205.0,170.6 207.0,166.2 209.0,162.0 211.0,158.0 213.0,154.4 215.0,151.4 217.0,149.0 219.0,145.1 221.0,139.7 223.0,134.8 225.0,130.9 227.0,127.6 229.0,124.8 231.0,122.2 233.0,119.9 235.0,118.1 237.0,116.6 239.0,115.4 241.0,114.1 243.0,112.7 245.0,111.2 247.0,109.6 249.0,108.0 251.0,106.4 253.0,104.9 255.0,103.3 257.0,101.8 259.0,100.1 261.0,98.3 263.0,96.4 265.0,94.6 267.0,92.9 269.0,91.7 271.0,90.9 273.0,90.1 275.0,89.2 277.0,88.1 279.0,87.3 281.0,86.9 283.0,86.1 285.0,85.5 287.0,84.9 289.0,84.4 291.0,83.9 293.0,83.5 295.0,83.2 297.0,82.9 299.0,82.7 301.0,82.4 303.0,82.2 305.0,81.9 307.0,81.8 309.0,81.6 311.0,81.6 313.0,81.6 315.0,81.8 317.0,82.2 319.0,82.6 321.0,83.1 323.0,83.6 325.0,84.1 327.0,84.7 329.0,85.4 331.0,85.9 333.0,86.4 335.0,87.0 337.0,87.3 339.0,87.3 341.0,86.8 343.0,86.0 345.0,85.2 347.0,84.1 349.0,82.9 351.0,82.1 353.0,81.4 355.0,80.8 357.0,80.3 359.0,79.8 361.0,79.3 363.0,78.8 365.0,78.3 367.0,77.8 369.0,77.6 371.0,77.6 373.0,77.7 375.0,78.0 377.0,78.4 379.0,78.8 381.0,79.1 383.0,79.6 385.0,80.2 387.0,80.8 389.0,81.3 391.0,81.8 393.0,82.2 395.0,82.5 397.0,82.9 399.0,83.3 401.0,83.8 403.0,84.4 405.0,85.0 407.0,85.6 409.0,86.2 411.0,86.8 413.0,87.5 415.0,88.0 417.0,88.6 419.0,89.2 421.0,89.8 423.0,90.5 425.0,91.0 427.0,91.6 429.0,92.2 431.0,92.8 433.0,93.4 435.0,94.0 437.0,94.6 439.0,95.2 441.0,95.9 443.0,96.7 445.0,97.5 447.0,98.3 449.0,99.1 451.0,99.9 453.0,100.7 455.0,101.4 457.0,102.2 459.0,103.1 461.0,104.0 463.0,105.1 465.0,106.3 467.0,107.6 469.0,108.9 471.0,110.2 473.0,111.4 475.0,112.7 477.0,114.1 479.0,115.7 481.0,117.5 483.0,119.7 485.0,122.2 487.0,125.1 489.0,128.8 491.0,132.2 493.0,135.2 495.0,137.7 497.0,139.8 499.0,141.2 501.0,142.3 503.0,143.2 505.0,143.8 507.0,144.3 509.0,144.7 511.0,145.2 513.0,145.6 515.0,146.0 517.0,146.4 519.0,146.8 521.0,147.1 523.0,147.4 525.0,147.7 528.5,148.2" stroke="#0000ff" style="stroke-width:1"/>
<polyline points="61.0,221.1 63.0,221.0 65.0,220.7 67.0,220.3 69.0,219.6 71.0,219.2 73.0,218.6 75.0,217.8 77.0,216.6 79.0,215.0 81.0,213.5 83.0,211.5 85.0,209.5 87.0,207.3 89.0,204.9 91.0,202.3 93.0,199.8 95.0,197.0 97.0,194.0 99.0,190.6 101.0,187.2 103.0,184.3 105.0,180.9 107.0,177.8 109.0,174.9 111.0,172.1 113.0,169.8 115.0,167.7 117.0,166.0 119.0,164.9 121.0,163.8 123.0,162.4 125.0,161.4 127.0,161.2 129.0,161.1 131.0,161.3 133.0,161.6 135.0,162.5 137.0,163.7 139.0,165.3 141.0,167.0 143.0,168.4 145.0,169.8 147.0,171.1 149.0,172.7 151.0,174.4 153.0,176.4 155.0,178.3 157.0,180.5 159.0,182.5 161.0,184.1 163.0,185.6 165.0,186.8 167.0,187.4 169.0,187.8 171.0,187.9 173.0,187.6 175.0,186.8 177.0,186.0 179.0,185.0 181.0,183.6 183.0,182.7 185.0,182.3 187.0,182.5 189.0,183.0 191.0,183.2 193.0,183.4 195.0,183.3 197.0,182.4 199.0,180.8 201.0,177.8 203.0,173.5 205.0,168.9 207.0,164.3 209.0,159.5 211.0,155.0 213.0,150.7 215.0,147.2 217.0,144.1 219.0,140.1 221.0,134.8 223.0,129.9 225.0,125.7 227.0,122.1 229.0,118.9 231.0,115.4 233.0,112.5 235.0,110.4 237.0,108.7 239.0,107.3 241.0,105.9 243.0,104.0 245.0,101.8 247.0,99.5 249.0,97.0 251.0,94.5 253.0,92.4 255.0,90.5 257.0,89.1 259.0,87.7 261.0,86.4 263.0,85.2 265.0,83.6 267.0,82.4 269.0,81.0 271.0,80.1 273.0,79.4 275.0,78.7 277.0,77.8 279.0,77.1 281.0,76.9 283.0,76.5 285.0,75.9 287.0,75.3 289.0,74.8 291.0,74.1 293.0,73.5 295.0,73.0 297.0,72.6 299.0,72.5 301.0,72.6 303.0,72.7 305.0,72.8 307.0,72.7 309.0,72.9 311.0,72.8 313.0,72.6 315.0,72.6 317.0,72.7 319.0,72.9 321.0,73.3 323.0,73.8 325.0,74.4 327.0,75.2 329.0,75.6 331.0,76.0 333.0,76.1 335.0,76.4 337.0,76.6 339.0,76.6 341.0,76.6 343.0,75.7 345.0,75.0 347.0,73.8 349.0,72.9 351.0,71.9 353.0,70.9 355.0,70.0 357.0,69.2 359.0,68.0 361.0,66.9 363.0,66.1 365.0,65.9 367.0,65.5 369.0,65.3 371.0,64.8 373.0,64.5 375.0,63.9 377.0,63.5 379.0,63.4 381.0,63.6 383.0,63.8 385.0,64.1 387.0,64.0 389.0,64.1 391.0,64.3 393.0,64.7 395.0,65.3 397.0,65.6 399.0,66.0 401.0,66.6 403.0,67.3 405.0,67.9 407.0,68.3 409.0,68.8 411.0,69.4 413.0,70.0 415.0,70.2 417.0,70.5 419.0,70.9 421.0,71.3 423.0,72.4 425.0,73.3 427.0,73.8 429.0,74.2 431.0,74.9 433.0,75.7 435.0,76.2 437.0,77.0 439.0,77.9 441.0,78.9 443.0,80.1 445.0,81.2 447.0,82.3 449.0,83.5 451.0,84.2 453.0,84.9 455.0,85.3 457.0,86.2 459.0,87.0 461.0,87.7 463.0,89.3 465.0,91.1 467.0,92.7 469.0,94.4 471.0,95.9 473.0,97.2 475.0,98.7 477.0,100.4 479.0,102.3 481.0,104.1 483.0,106.4 485.0,109.3 487.0,112.2 489.0,116.1 491.0,119.8 493.0,122.8 495.0,126.0 497.0,128.5 499.0,130.1 501.0,130.9 503.0,131.7 505.0,132.7 507.0,133.6 509.0,134.3 511.0,135.0 513.0,135.3 515.0,135.4 517.0,135.5 519.0,135.4 521.0,135.4 523.0,135.9 525.0,136.2 528.5,136.6" stroke="#0000ff"/>
<polyline points="61.0,219.2 63.0,219.2 65.0,218.9 67.0,218.5 69.0,217.7 71.0,216.8 73.0,216.0 75.0,215.0 77.0,213.6 79.0,211.9 81.0,210.2 83.0,208.3 85.0,206.0 87.0,203.7 89.0,201.2 91.0,198.8 93.0,196.3 95.0,193.5 97.0,190.4 99.0,186.8 101.0,183.3 103.0,179.8 105.0,176.0 107.0,172.2 109.0,168.6 111.0,165.8 113.0,163.6 115.0,161.7 117.0,160.4 119.0,159.6 121.0,158.4 123.0,156.5 125.0,155.2 127.0,154.5 129.0,154.1 131.0,154.0 133.0,153.9 135.0,154.8 137.0,155.5 139.0,156.8 141.0,158.4 143.0,159.4 145.0,160.5 147.0,162.1 149.0,164.0 151.0,166.4 153.0,168.9 155.0,171.5 157.0,173.9 159.0,176.7 161.0,178.7 163.0,180.2 165.0,181.1 167.0,181.4 169.0,181.8 171.0,181.9 173.0,181.7 175.0,180.8 177.0,180.1 179.0,179.2 181.0,178.4 183.0,177.5 185.0,176.9 187.0,176.8 189.0,177.3 191.0,177.6 193.0,177.7 195.0,177.5 197.0,176.5 199.0,174.5 201.0,170.8 203.0,166.1 205.0,160.9 207.0,155.2 209.0,148.9 211.0,142.3 213.0,136.9 215.0,132.6 217.0,129.1 219.0,125.6 221.0,122.0 223.0,118.2 225.0,114.9 227.0,111.9 229.0,108.9 231.0,106.1 233.0,103.8 235.0,102.3 237.0,101.3 239.0,100.5 241.0,99.4 243.0,98.1 245.0,95.9 247.0,93.4 249.0,91.1 251.0,89.3 253.0,88.0 255.0,87.3 257.0,86.7 259.0,86.0 261.0,85.1 263.0,83.7 265.0,82.2 267.0,80.4 269.0,78.9 271.0,77.6 273.0,76.6 275.0,76.0 277.0,75.4 279.0,74.9 281.0,74.7 283.0,74.3 285.0,73.8 287.0,73.0 289.0,72.2 291.0,71.6 293.0,70.9 295.0,70.5 297.0,70.2 299.0,70.2 301.0,70.2 303.0,70.0 305.0,69.9 307.0,69.7 309.0,69.4 311.0,69.1 313.0,68.7 315.0,68.9 317.0,69.2 319.0,69.6 321.0,70.0 323.0,70.8 325.0,71.6 327.0,72.2 329.0,72.5 331.0,72.7 333.0,72.7 335.0,73.1 337.0,73.2 339.0,73.4 341.0,73.3 343.0,72.8 345.0,71.7 347.0,70.5 349.0,69.5 351.0,68.5 353.0,67.6 355.0,67.1 357.0,66.7 359.0,66.1 361.0,65.2 363.0,64.9 365.0,64.6 367.0,64.3 369.0,63.9 371.0,63.4 373.0,63.0 375.0,62.6 377.0,62.4 379.0,62.5 381.0,63.3 383.0,63.7 385.0,64.0 387.0,64.1 389.0,64.1 391.0,64.4 393.0,64.8 395.0,65.6 397.0,66.0 399.0,66.8 401.0,67.5 403.0,68.2 405.0,68.6 407.0,68.8 409.0,68.5 411.0,68.8 413.0,69.0 415.0,69.1 417.0,69.4 419.0,70.0 421.0,70.7 423.0,71.9 425.0,73.0 427.0,73.2 429.0,73.4 431.0,73.8 433.0,74.4 435.0,74.7 437.0,75.6 439.0,76.4 441.0,77.3 443.0,78.3 445.0,79.4 447.0,80.3 449.0,80.7 451.0,81.2 453.0,81.6 455.0,81.9 457.0,82.9 459.0,83.8 461.0,84.8 463.0,86.6 465.0,88.6 467.0,89.8 469.0,91.1 471.0,92.3 473.0,93.3 475.0,94.5 477.0,96.1 479.0,98.0 481.0,100.2 483.0,102.6 485.0,105.3 487.0,108.5 489.0,112.5 491.0,116.1 493.0,119.2 495.0,122.6 497.0,125.6 499.0,127.7 501.0,128.8 503.0,129.9 505.0,131.1 507.0,131.8 509.0,132.5 511.0,133.0 513.0,133.2 515.0,133.3 517.0,133.3 519.0,133.4 521.0,133.7 523.0,134.4 525.0,134.8 528.5,135.5" stroke="#bf00bf"/>
<polyline points="61.0,221.1 63.0,220.8 65.0,220.6 67.0,220.3 69.0,219.6 71.0,219.2 73.0,218.7 75.0,218.2 77.0,217.1 79.0,215.5 81.0,214.0 83.0,212.1 85.0,210.2 87.0,207.9 89.0,205.4 91.0,202.7 93.0,200.2 95.0,196.9 97.0,193.6 99.0,189.9 101.0,186.5 103.0,183.1 105.0,179.8 107.0,177.0 109.0,174.4 111.0,172.2 113.0,170.1 115.0,168.3 117.0,166.6 119.0,165.3 121.0,163.9 123.0,162.1 125.0,160.9 127.0,160.1 129.0,159.8 131.0,159.7 133.0,159.4 135.0,160.2 137.0,161.0 139.0,162.5 141.0,164.2 143.0,165.8 145.0,167.7 147.0,169.5 149.0,171.5 151.0,173.3 153.0,175.5 155.0,177.3 157.0,179.0 159.0,180.9 161.0,182.3 163.0,183.4 165.0,184.3 167.0,185.0 169.0,185.4 171.0,185.6 173.0,185.6 175.0,185.0 177.0,184.6 179.0,183.9 181.0,182.9 183.0,182.1 185.0,181.9 187.0,182.3 189.0,182.9 191.0,183.4 193.0,183.5 195.0,183.3 197.0,182.3 199.0,180.7 201.0,177.3 203.0,172.7 205.0,168.1 207.0,163.4 209.0,159.0 211.0,154.6 213.0,150.8 215.0,147.5 217.0,144.5 219.0,140.2 221.0,134.4 223.0,128.5 225.0,123.7 227.0,119.3 229.0,115.2 231.0,111.5 233.0,108.1 235.0,105.6 237.0,103.9 239.0,102.2 241.0,101.1 243.0,99.9 245.0,98.7 247.0,97.5 249.0,96.3 251.0,95.0 253.0,93.7 255.0,92.2 257.0,90.4 259.0,88.8 261.0,86.7 263.0,84.6 265.0,82.5 267.0,80.6 269.0,79.2 271.0,78.3 273.0,77.7 275.0,77.2 277.0,76.5 279.0,76.2 281.0,75.9 283.0,75.7 285.0,75.3 287.0,74.9 289.0,74.4 291.0,73.9 293.0,73.1 295.0,72.3 297.0,71.6 299.0,71.1 301.0,70.7 303.0,70.4 305.0,70.3 307.0,70.5 309.0,70.9 311.0,71.1 313.0,71.7 315.0,72.2 317.0,72.7 319.0,73.3 321.0,73.8 323.0,74.4 325.0,74.9 327.0,75.5 329.0,75.8 331.0,75.9 333.0,76.0 335.0,76.1 337.0,76.0 339.0,75.8 341.0,75.6 343.0,75.1 345.0,74.3 347.0,73.6 349.0,73.1 351.0,72.5 353.0,72.0 355.0,71.6 357.0,70.8 359.0,69.8 361.0,68.5 363.0,67.4 365.0,66.7 367.0,66.2 369.0,65.7 371.0,65.5 373.0,65.2 375.0,65.0 377.0,64.9 379.0,65.1 381.0,65.7 383.0,66.3 385.0,66.9 387.0,67.3 389.0,67.8 391.0,68.0 393.0,68.5 395.0,68.8 397.0,68.7 399.0,68.6 401.0,68.5 403.0,68.5 405.0,68.4 407.0,68.4 409.0,68.6 411.0,69.4 413.0,70.1 415.0,70.7 417.0,71.2 419.0,71.9 421.0,72.5 423.0,73.3 425.0,74.1 427.0,74.3 429.0,74.5 431.0,74.9 433.0,75.3 435.0,75.6 437.0,75.9 439.0,76.6 441.0,77.2 443.0,78.3 445.0,79.5 447.0,80.8 449.0,82.1 451.0,83.4 453.0,84.6 455.0,85.5 457.0,86.7 459.0,87.6 461.0,88.3 463.0,89.4 465.0,90.7 467.0,91.6 469.0,92.8 471.0,93.9 473.0,95.1 475.0,96.5 477.0,98.3 479.0,100.3 481.0,102.4 483.0,105.0 485.0,108.0 487.0,111.4 489.0,116.0 491.0,120.0 493.0,123.5 495.0,126.7 497.0,129.6 499.0,130.9 501.0,131.8 503.0,132.1 505.0,132.8 507.0,133.4 509.0,134.2 511.0,135.0 513.0,135.6 515.0,136.1 517.0,136.5 519.0,137.0 521.0,137.4 523.0,138.1 525.0,138.4 528.5,138.8" stroke="#bf00bf"/>
<polyline points="61.0,221.1 63.0,220.9 65.0,220.6 67.0,220.1 69.0,219.6 71.0,219.1 73.0,218.5 75.0,217.7 77.0,216.5 79.0,215.0 81.0,213.5 83.0,211.8 85.0,209.7 87.0,207.5 89.0,204.9 91.0,202.5 93.0,199.9 95.0,197.0 97.0,193.8 99.0,190.4 101.0,187.3 103.0,184.2 105.0,180.9 107.0,177.8 109.0,174.7 111.0,171.9 113.0,169.3 115.0,167.2 117.0,165.6 119.0,164.8 121.0,164.1 123.0,163.0 125.0,162.4 127.0,161.9 129.0,161.6 131.0,161.4 133.0,161.1 135.0,161.7 137.0,162.6 139.0,164.0 141.0,165.8 143.0,167.2 145.0,168.5 147.0,169.8 149.0,171.4 151.0,172.8 153.0,174.7 155.0,176.6 157.0,178.6 159.0,180.8 161.0,182.7 163.0,184.2 165.0,185.2 167.0,185.8 169.0,186.0 171.0,186.0 173.0,185.5 175.0,184.6 177.0,183.8 179.0,183.0 181.0,182.2 183.0,181.3 185.0,181.2 187.0,181.5 189.0,181.9 191.0,182.3 193.0,182.4 195.0,182.3 197.0,181.4 199.0,179.9 201.0,176.8 203.0,172.6 205.0,168.1 207.0,163.4 209.0,158.4 211.0,153.4 213.0,148.7 215.0,144.7 217.0,141.4 219.0,137.5 221.0,133.0 223.0,128.9 225.0,125.5 227.0,122.3 229.0,119.0 231.0,115.6 233.0,112.4 235.0,109.9 237.0,108.2 239.0,107.0 241.0,106.1 243.0,105.2 245.0,103.9 247.0,102.3 249.0,100.2 251.0,97.9 253.0,96.0 255.0,94.2 257.0,92.8 259.0,91.7 261.0,90.7 263.0,89.4 265.0,88.2 267.0,86.7 269.0,85.2 271.0,84.1 273.0,82.8 275.0,81.5 277.0,80.4 279.0,79.7 281.0,79.6 283.0,79.2 285.0,78.9 287.0,78.5 289.0,77.9 291.0,77.2 293.0,76.3 295.0,75.6 297.0,75.2 299.0,75.0 301.0,75.0 303.0,75.2 305.0,75.3 307.0,75.4 309.0,75.3 311.0,75.1 313.0,74.7 315.0,74.7 317.0,74.7 319.0,75.0 321.0,75.5 323.0,76.4 325.0,77.4 327.0,78.2 329.0,78.7 331.0,79.0 333.0,78.9 335.0,79.0 337.0,78.8 339.0,78.4 341.0,78.4 343.0,77.7 345.0,76.8 347.0,75.9 349.0,74.9 351.0,74.0 353.0,72.8 355.0,71.7 357.0,70.9 359.0,69.9 361.0,69.2 363.0,68.6 365.0,68.6 367.0,68.7 369.0,68.5 371.0,68.3 373.0,67.8 375.0,67.5 377.0,67.1 379.0,66.9 381.0,67.5 383.0,68.1 385.0,68.9 387.0,69.4 389.0,69.9 391.0,70.3 393.0,70.6 395.0,70.7 397.0,70.9 399.0,71.1 401.0,71.5 403.0,72.4 405.0,73.0 407.0,73.6 409.0,74.0 411.0,74.4 413.0,74.5 415.0,74.4 417.0,74.4 419.0,74.5 421.0,75.1 423.0,76.0 425.0,77.3 427.0,78.1 429.0,78.7 431.0,79.5 433.0,79.9 435.0,80.3 437.0,80.6 439.0,81.1 441.0,81.9 443.0,83.1 445.0,84.3 447.0,85.7 449.0,86.8 451.0,87.6 453.0,88.2 455.0,88.4 457.0,88.8 459.0,89.5 461.0,90.1 463.0,91.8 465.0,93.7 467.0,95.3 469.0,96.9 471.0,98.3 473.0,99.5 475.0,100.4 477.0,101.5 479.0,103.0 481.0,104.6 483.0,106.8 485.0,109.7 487.0,113.1 489.0,117.5 491.0,121.2 493.0,124.3 495.0,127.4 497.0,129.9 499.0,131.4 501.0,132.4 503.0,133.6 505.0,135.0 507.0,136.1 509.0,137.2 511.0,138.1 513.0,138.5 515.0,138.8 517.0,138.8 519.0,138.8 521.0,139.3 523.0,139.8 525.0,140.4 528.5,141.8" stroke="#008000"/>
<polyline points="61.0,221.4 63.0,221.2 65.0,221.1 67.0,220.8 69.0,220.2 71.0,219.7 73.0,219.3 75.0,218.2 77.0,217.0 79.0,215.4 81.0,213.8 83.0,212.0 85.0,210.1 87.0,208.1 89.0,205.8 91.0,203.3 93.0,200.7 95.0,198.0 97.0,194.9 99.0,191.5 101.0,188.4 103.0,185.6 105.0,182.6 107.0,179.8 109.0,176.9 111.0,174.1 113.0,171.3 115.0,168.6 117.0,166.6 119.0,165.3 121.0,164.4 123.0,163.4 125.0,163.1 127.0,163.3 129.0,163.6 131.0,163.6 133.0,163.6 135.0,163.8 137.0,164.4 139.0,165.5 141.0,166.8 143.0,168.1 145.0,169.4 147.0,170.7 149.0,172.3 151.0,173.7 153.0,175.5 155.0,177.6 157.0,179.4 159.0,181.8 161.0,183.8 163.0,185.7 165.0,187.2 167.0,188.3 169.0,188.8 171.0,188.9 173.0,188.5 175.0,187.4 177.0,186.4 179.0,185.0 181.0,183.6 183.0,182.7 185.0,182.6 187.0,182.9 189.0,183.5 191.0,183.9 193.0,184.1 195.0,183.9 197.0,183.1 199.0,181.7 201.0,178.7 203.0,174.6 205.0,170.3 207.0,166.0 209.0,161.7 211.0,157.1 213.0,152.5 215.0,147.9 217.0,144.1 219.0,139.1 221.0,133.7 223.0,129.3 225.0,125.9 227.0,123.5 229.0,121.2 231.0,118.6 233.0,116.0 235.0,113.7 237.0,111.9 239.0,110.2 241.0,108.7 243.0,107.2 245.0,105.6 247.0,103.8 249.0,101.5 251.0,99.1 253.0,96.7 255.0,94.5 257.0,92.5 259.0,90.9 261.0,89.6 263.0,88.4 265.0,87.5 267.0,86.4 269.0,85.8 271.0,85.0 273.0,83.9 275.0,82.5 277.0,81.2 279.0,79.8 281.0,79.2 283.0,78.6 285.0,78.1 287.0,77.8 289.0,77.5 291.0,76.9 293.0,76.5 295.0,75.9 297.0,75.5 299.0,75.3 301.0,75.2 303.0,75.6 305.0,75.7 307.0,76.2 309.0,76.1 311.0,76.1 313.0,75.6 315.0,75.3 317.0,75.0 319.0,74.8 321.0,74.7 323.0,75.3 325.0,76.0 327.0,77.1 329.0,78.0 331.0,78.7 333.0,79.0 335.0,79.5 337.0,79.4 339.0,79.1 341.0,78.7 343.0,77.8 345.0,76.9 347.0,76.1 349.0,75.2 351.0,74.1 353.0,73.1 355.0,72.3 357.0,71.1 359.0,69.9 361.0,68.9 363.0,68.4 365.0,68.5 367.0,68.7 369.0,68.9 371.0,69.2 373.0,69.2 375.0,68.9 377.0,68.4 379.0,67.9 381.0,67.8 383.0,67.8 385.0,67.9 387.0,68.1 389.0,68.6 391.0,69.0 393.0,69.5 395.0,69.9 397.0,70.0 399.0,70.2 401.0,70.7 403.0,71.4 405.0,72.1 407.0,73.0 409.0,73.7 411.0,74.5 413.0,75.0 415.0,75.0 417.0,74.6 419.0,74.3 421.0,74.3 423.0,74.8 425.0,75.5 427.0,76.4 429.0,77.2 431.0,78.4 433.0,79.4 435.0,80.2 437.0,80.8 439.0,81.3 441.0,82.0 443.0,82.7 445.0,83.7 447.0,84.9 449.0,86.0 451.0,86.8 453.0,87.1 455.0,87.4 457.0,87.7 459.0,88.1 461.0,88.1 463.0,89.6 465.0,91.5 467.0,93.3 469.0,95.5 471.0,97.7 473.0,99.4 475.0,100.9 477.0,102.5 479.0,103.9 481.0,105.4 483.0,107.1 485.0,109.7 487.0,112.9 489.0,117.0 491.0,121.0 493.0,124.5 495.0,127.7 497.0,130.2 499.0,131.7 501.0,132.8 503.0,133.7 505.0,135.0 507.0,136.1 509.0,137.3 511.0,138.2 513.0,138.9 515.0,139.2 517.0,139.2 519.0,138.9 521.0,138.9 523.0,138.9 525.0,138.9 528.5,139.7" stroke="#ff0000"/>
<polyline points="61.0,222.5 63.0,222.1 65.0,222.0 67.0,221.8 69.0,221.6 71.0,221.3 73.0,221.1 75.0,220.6 77.0,219.5 79.0,218.1 81.0,216.6 83.0,215.0 85.0,213.1 87.0,211.4 89.0,209.4 91.0,207.2 93.0,204.9 95.0,202.2 97.0,199.1 99.0,195.7 101.0,192.5 103.0,189.8 105.0,187.3 107.0,185.6 109.0,184.3 111.0,183.1 113.0,181.7 115.0,179.9 117.0,177.9 119.0,176.4 121.0,175.5 123.0,174.7 125.0,174.8 127.0,175.1 129.0,175.8 131.0,176.5 133.0,177.1 135.0,177.5 137.0,177.6 139.0,177.5 141.0,177.6 143.0,177.7 145.0,178.5 147.0,179.3 149.0,180.6 151.0,181.8 153.0,183.2 155.0,184.6 157.0,185.8 159.0,187.0 161.0,188.1 163.0,189.3 165.0,190.4 167.0,191.2 169.0,192.0 171.0,192.4 173.0,192.0 175.0,191.4 177.0,190.6 179.0,189.0 181.0,187.3 183.0,186.0 185.0,185.9 187.0,186.5 189.0,187.1 191.0,187.8 193.0,188.5 195.0,188.3 197.0,187.7 199.0,186.6 201.0,183.3 203.0,178.8 205.0,174.2 207.0,170.4 209.0,167.0 211.0,163.9 213.0,160.8 215.0,158.0 217.0,155.0 219.0,149.6 221.0,142.0 223.0,135.4 225.0,130.3 227.0,126.4 229.0,123.5 231.0,121.1 233.0,118.9 235.0,117.1 237.0,115.0 239.0,112.4 241.0,109.8 243.0,107.2 245.0,104.9 247.0,103.2 249.0,101.8 251.0,100.8 253.0,99.5 255.0,98.0 257.0,96.0 259.0,93.6 261.0,90.9 263.0,88.5 265.0,86.5 267.0,85.1 269.0,84.2 271.0,83.9 273.0,83.5 275.0,82.7 277.0,81.5 279.0,80.4 281.0,79.5 283.0,78.5 285.0,77.8 287.0,77.3 289.0,77.2 291.0,77.3 293.0,77.3 295.0,77.2 297.0,77.0 299.0,76.4 301.0,75.9 303.0,75.4 305.0,75.0 307.0,75.3 309.0,75.4 311.0,75.9 313.0,76.3 315.0,76.9 317.0,77.2 319.0,77.3 321.0,77.1 323.0,77.3 325.0,77.5 327.0,78.2 329.0,79.0 331.0,79.9 333.0,80.7 335.0,81.3 337.0,81.4 339.0,81.0 341.0,80.1 343.0,78.8 345.0,77.5 347.0,76.1 349.0,75.5 351.0,74.9 353.0,74.6 355.0,74.2 357.0,73.5 359.0,72.5 361.0,71.3 363.0,69.9 365.0,69.1 367.0,68.7 369.0,68.6 371.0,68.6 373.0,68.9 375.0,69.1 377.0,69.1 379.0,68.9 381.0,68.7 383.0,68.4 385.0,68.1 387.0,67.9 389.0,68.3 391.0,69.0 393.0,70.0 395.0,70.9 397.0,71.3 399.0,71.5 401.0,71.3 403.0,71.2 405.0,71.2 407.0,71.0 409.0,71.2 411.0,72.3 413.0,73.3 415.0,74.1 417.0,74.6 419.0,75.0 421.0,75.0 423.0,75.3 425.0,75.7 427.0,75.9 429.0,76.5 431.0,77.7 433.0,79.0 435.0,80.3 437.0,81.3 439.0,82.1 441.0,82.5 443.0,82.9 445.0,83.5 447.0,84.1 449.0,85.1 451.0,86.3 453.0,87.5 455.0,88.7 457.0,90.2 459.0,90.9 461.0,91.6 463.0,92.6 465.0,93.5 467.0,94.5 469.0,96.1 471.0,97.8 473.0,99.6 475.0,101.6 477.0,103.7 479.0,105.6 481.0,107.3 483.0,109.0 485.0,111.2 487.0,113.9 489.0,117.9 491.0,121.9 493.0,125.7 495.0,129.4 497.0,132.3 499.0,134.3 501.0,135.2 503.0,135.6 505.0,136.2 507.0,136.5 509.0,137.2 511.0,137.9 513.0,138.7 515.0,139.4 517.0,139.9 519.0,140.3 521.0,140.6 523.0,140.4 525.0,140.3 528.5,140.3" stroke="#008000"/>
<polyline points="61.0,220.8 63.0,220.6 65.0,220.5 67.0,220.0 69.0,219.5 71.0,218.7 73.0,218.0 75.0,217.1 77.0,215.7 79.0,214.1 81.0,212.5 83.0,210.8 85.0,208.9 87.0,207.0 89.0,204.6 91.0,202.1 93.0,199.7 95.0,197.0 97.0,193.8 99.0,190.3 101.0,187.2 103.0,184.3 105.0,181.2 107.0,178.4 109.0,175.6 111.0,173.1 113.0,170.6 115.0,168.6 117.0,166.7 119.0,165.7 121.0,164.7 123.0,163.5 125.0,163.1 127.0,162.7 129.0,162.5 131.0,161.8 133.0,161.4 135.0,161.1 137.0,161.3 139.0,161.8 141.0,163.2 143.0,164.3 145.0,165.8 147.0,167.3 149.0,169.1 151.0,171.1 153.0,173.2 155.0,175.3 157.0,177.4 159.0,179.9 161.0,181.7 163.0,183.1 165.0,184.3 167.0,185.2 169.0,185.6 171.0,185.6 173.0,185.2 175.0,184.2 177.0,183.3 179.0,182.3 181.0,181.3 183.0,180.7 185.0,180.5 187.0,180.7 189.0,181.4 191.0,181.8 193.0,182.0 195.0,181.7 197.0,180.6 199.0,178.8 201.0,175.3 203.0,170.7 205.0,166.1 207.0,160.9 209.0,155.7 211.0,149.9 213.0,144.8 215.0,140.2 217.0,136.1 219.0,131.9 221.0,127.4 223.0,123.8 225.0,121.1 227.0,118.8 229.0,116.6 231.0,114.1 233.0,111.6 235.0,109.4 237.0,107.6 239.0,106.0 241.0,104.5 243.0,103.0 245.0,101.4 247.0,99.6 249.0,97.5 251.0,95.5 253.0,93.5 255.0,91.5 257.0,89.7 259.0,88.0 261.0,86.4 263.0,85.0 265.0,83.4 267.0,81.7 269.0,80.2 271.0,79.0 273.0,77.5 275.0,76.2 277.0,74.8 279.0,73.7 281.0,73.2 283.0,72.7 285.0,72.4 287.0,72.3 289.0,72.0 291.0,71.7 293.0,71.3 295.0,70.8 297.0,70.3 299.0,69.9 301.0,69.7 303.0,69.6 305.0,69.8 307.0,69.8 309.0,69.9 311.0,69.6 313.0,69.3 315.0,68.9 317.0,68.6 319.0,68.3 321.0,68.4 323.0,69.0 325.0,69.9 327.0,70.7 329.0,71.5 331.0,72.0 333.0,71.9 335.0,71.9 337.0,71.5 339.0,71.1 341.0,70.9 343.0,70.0 345.0,69.1 347.0,68.6 349.0,68.2 351.0,67.5 353.0,67.0 355.0,66.6 357.0,66.0 359.0,65.2 361.0,64.3 363.0,64.1 365.0,64.4 367.0,64.7 369.0,65.0 371.0,65.0 373.0,64.8 375.0,64.3 377.0,63.7 379.0,63.2 381.0,63.2 383.0,63.4 385.0,63.6 387.0,63.9 389.0,64.5 391.0,65.1 393.0,65.7 395.0,66.4 397.0,66.7 399.0,66.9 401.0,67.2 403.0,67.7 405.0,68.1 407.0,68.6 409.0,69.0 411.0,69.9 413.0,70.4 415.0,70.6 417.0,70.6 419.0,70.7 421.0,71.3 423.0,72.3 425.0,73.7 427.0,74.6 429.0,75.7 431.0,76.9 433.0,77.7 435.0,78.4 437.0,78.6 439.0,78.9 441.0,79.2 443.0,79.8 445.0,80.4 447.0,81.1 449.0,81.9 451.0,82.4 453.0,82.9 455.0,82.9 457.0,83.2 459.0,83.6 461.0,83.7 463.0,85.0 465.0,86.7 467.0,88.3 469.0,90.1 471.0,91.6 473.0,93.0 475.0,94.2 477.0,95.6 479.0,97.0 481.0,98.6 483.0,100.6 485.0,103.3 487.0,106.5 489.0,111.3 491.0,115.7 493.0,119.5 495.0,123.3 497.0,126.3 499.0,128.2 501.0,129.1 503.0,129.9 505.0,131.0 507.0,132.0 509.0,132.9 511.0,133.6 513.0,134.1 515.0,134.2 517.0,134.0 519.0,133.9 521.0,133.8 523.0,134.1 525.0,134.3 528.5,135.4" stroke="#0000ff" stroke-dasharray="4 2"/>
<polyline points="61.0,220.4 63.0,220.4 65.0,220.1 67.0,219.7 69.0,219.0 71.0,218.3 73.0,217.7 75.0,216.7 77.0,215.5 79.0,213.8 81.0,212.1 83.0,210.3 85.0,208.5 87.0,206.3 89.0,204.1 91.0,201.9 93.0,199.6 95.0,197.0 97.0,194.0 99.0,190.7 101.0,187.4 103.0,184.5 105.0,181.3 107.0,178.3 109.0,175.4 111.0,172.6 113.0,170.2 115.0,167.6 117.0,165.5 119.0,164.0 121.0,162.5 123.0,160.8 125.0,159.9 127.0,159.4 129.0,159.5 131.0,159.5 133.0,159.6 135.0,160.2 137.0,160.9 139.0,162.2 141.0,163.5 143.0,164.7 145.0,166.3 147.0,167.9 149.0,169.8 151.0,172.0 153.0,174.2 155.0,176.4 157.0,178.6 159.0,180.9 161.0,182.8 163.0,184.5 165.0,185.5 167.0,186.4 169.0,186.9 171.0,186.9 173.0,186.5 175.0,185.5 177.0,184.6 179.0,183.1 181.0,181.7 183.0,180.6 185.0,180.0 187.0,179.9 189.0,180.5 191.0,180.7 193.0,180.8 195.0,180.6 197.0,179.5 199.0,177.6 201.0,174.1 203.0,169.6 205.0,164.8 207.0,159.8 209.0,154.5 211.0,149.1 213.0,144.2 215.0,140.1 217.0,136.4 219.0,132.0 221.0,127.3 223.0,123.0 225.0,119.9 227.0,117.2 229.0,114.9 231.0,112.5 233.0,110.4 235.0,108.5 237.0,107.0 239.0,105.3 241.0,103.5 243.0,101.4 245.0,99.1 247.0,96.5 249.0,94.1 251.0,91.7 253.0,89.8 255.0,88.0 257.0,86.7 259.0,85.4 261.0,84.3 263.0,83.1 265.0,82.2 267.0,81.1 269.0,80.5 271.0,79.9 273.0,79.6 275.0,79.1 277.0,78.6 279.0,77.9 281.0,77.7 283.0,77.2 285.0,76.7 287.0,76.4 289.0,76.2 291.0,75.8 293.0,75.5 295.0,75.1 297.0,74.9 299.0,74.6 301.0,74.5 303.0,74.4 305.0,74.1 307.0,73.9 309.0,73.6 311.0,73.2 313.0,72.9 315.0,72.4 317.0,72.1 319.0,71.9 321.0,71.7 323.0,72.1 325.0,72.4 327.0,73.2 329.0,73.9 331.0,74.3 333.0,74.9 335.0,75.5 337.0,75.9 339.0,75.9 341.0,75.8 343.0,75.3 345.0,74.5 347.0,73.5 349.0,72.6 351.0,72.1 353.0,71.2 355.0,70.7 357.0,69.9 359.0,68.9 361.0,67.9 363.0,67.3 365.0,67.0 367.0,66.6 369.0,66.6 371.0,66.6 373.0,66.2 375.0,65.7 377.0,65.2 379.0,64.8 381.0,64.7 383.0,64.5 385.0,64.4 387.0,64.2 389.0,64.4 391.0,64.7 393.0,65.4 395.0,66.2 397.0,66.9 399.0,67.6 401.0,68.4 403.0,69.3 405.0,70.1 407.0,71.0 409.0,71.7 411.0,72.9 413.0,73.7 415.0,74.1 417.0,74.5 419.0,74.9 421.0,75.2 423.0,75.9 425.0,76.6 427.0,76.9 429.0,77.5 431.0,78.3 433.0,78.9 435.0,79.4 437.0,80.1 439.0,80.6 441.0,81.2 443.0,81.8 445.0,82.3 447.0,82.9 449.0,83.4 451.0,84.0 453.0,84.3 455.0,84.7 457.0,85.3 459.0,86.0 461.0,86.5 463.0,88.0 465.0,89.9 467.0,91.5 469.0,93.6 471.0,95.5 473.0,97.2 475.0,99.0 477.0,101.0 479.0,102.9 481.0,104.8 483.0,106.9 485.0,109.3 487.0,112.2 489.0,116.0 491.0,119.7 493.0,122.8 495.0,125.9 497.0,128.7 499.0,130.2 501.0,131.1 503.0,131.7 505.0,132.6 507.0,133.4 509.0,134.1 511.0,134.8 513.0,135.4 515.0,135.5 517.0,135.5 519.0,135.4 521.0,135.5 523.0,135.8 525.0,136.1 528.5,136.8" stroke="#bf00bf"/>
<polyline points="61.0,221.5 63.0,221.4 65.0,221.1 67.0,220.6 69.0,220.2 71.0,219.8 73.0,219.6 75.0,219.0 77.0,218.0 79.0,216.5 81.0,215.0 83.0,213.3 85.0,211.3 87.0,208.9 89.0,206.5 91.0,204.0 93.0,201.4 95.0,198.6 97.0,195.4 99.0,192.2 101.0,189.2 103.0,186.4 105.0,183.4 107.0,180.8 109.0,178.5 111.0,176.1 113.0,174.0 115.0,171.9 117.0,170.1 119.0,168.8 121.0,167.5 123.0,166.0 125.0,165.0 127.0,164.3 129.0,164.0 131.0,163.9 133.0,164.1 135.0,165.1 137.0,166.3 139.0,168.0 141.0,169.8 143.0,171.0 145.0,172.3 147.0,173.4 149.0,174.6 151.0,175.9 153.0,177.5 155.0,179.2 157.0,180.9 159.0,182.9 161.0,184.5 163.0,185.8 165.0,187.0 167.0,187.7 169.0,188.3 171.0,188.3 173.0,188.1 175.0,187.6 177.0,186.9 179.0,185.8 181.0,184.6 183.0,183.7 185.0,183.3 187.0,183.5 189.0,183.8 191.0,184.0 193.0,184.3 195.0,183.9 197.0,183.1 199.0,181.8 201.0,178.9 203.0,174.6 205.0,170.4 207.0,166.0 209.0,161.7 211.0,157.6 213.0,153.7 215.0,150.4 217.0,147.5 219.0,143.3 221.0,137.4 223.0,131.9 225.0,127.0 227.0,122.9 229.0,119.0 231.0,115.4 233.0,112.5 235.0,110.7 237.0,109.8 239.0,109.1 241.0,108.9 243.0,108.2 245.0,107.2 247.0,105.7 249.0,103.7 251.0,101.6 253.0,99.5 255.0,97.6 257.0,95.8 259.0,94.1 261.0,92.2 263.0,90.5 265.0,88.9 267.0,87.2 269.0,86.0 271.0,85.2 273.0,84.5 275.0,84.0 277.0,83.3 279.0,83.0 281.0,82.8 283.0,82.4 285.0,81.7 287.0,81.0 289.0,80.1 291.0,79.2 293.0,78.2 295.0,77.4 297.0,76.6 299.0,76.5 301.0,76.3 303.0,76.3 305.0,76.3 307.0,76.4 309.0,76.4 311.0,76.5 313.0,76.5 315.0,76.5 317.0,76.7 319.0,77.1 321.0,77.3 323.0,77.9 325.0,78.1 327.0,78.4 329.0,78.6 331.0,78.7 333.0,78.5 335.0,78.8 337.0,78.8 339.0,79.0 341.0,78.9 343.0,78.4 345.0,77.9 347.0,77.0 349.0,76.2 351.0,75.2 353.0,74.1 355.0,73.2 357.0,72.2 359.0,71.1 361.0,70.0 363.0,69.2 365.0,68.7 367.0,68.5 369.0,68.2 371.0,68.2 373.0,68.0 375.0,68.0 377.0,68.2 379.0,68.5 381.0,69.4 383.0,70.1 385.0,70.9 387.0,71.3 389.0,71.5 391.0,71.6 393.0,71.8 395.0,71.9 397.0,71.9 399.0,72.1 401.0,72.6 403.0,73.2 405.0,74.0 407.0,74.6 409.0,75.2 411.0,76.1 413.0,76.6 415.0,77.2 417.0,77.6 419.0,78.1 421.0,78.7 423.0,79.4 425.0,80.1 427.0,80.2 429.0,80.3 431.0,80.6 433.0,80.8 435.0,81.0 437.0,81.5 439.0,82.1 441.0,83.1 443.0,84.4 445.0,85.7 447.0,87.0 449.0,88.1 451.0,89.1 453.0,89.6 455.0,90.1 457.0,90.5 459.0,91.2 461.0,91.4 463.0,92.7 465.0,93.9 467.0,95.1 469.0,96.5 471.0,97.6 473.0,98.8 475.0,100.0 477.0,101.6 479.0,103.7 481.0,105.9 483.0,108.3 485.0,111.4 487.0,114.5 489.0,118.6 491.0,122.1 493.0,125.0 495.0,128.0 497.0,130.2 499.0,131.8 501.0,132.8 503.0,133.5 505.0,134.7 507.0,135.9 509.0,136.9 511.0,137.9 513.0,138.7 515.0,139.3 517.0,139.8 519.0,140.2 521.0,141.1 523.0,141.7 525.0,142.4 528.5,143.2" stroke="#ff0000"/>
<polyline points="61.0,220.0 63.0,220.0 65.0,219.7 67.0,219.3 69.0,218.5 71.0,217.8 73.0,216.9 75.0,215.9 77.0,214.5 79.0,212.9 81.0,211.2 83.0,209.3 85.0,207.2 87.0,205.1 89.0,202.5 91.0,199.7 93.0,197.2 95.0,194.1 97.0,190.8 99.0,187.0 101.0,183.6 103.0,180.3 105.0,176.8 107.0,173.6 109.0,170.5 111.0,168.0 113.0,166.0 115.0,164.1 117.0,162.7 119.0,162.2 121.0,161.4 123.0,160.2 125.0,159.6 127.0,159.3 129.0,159.1 131.0,158.7 133.0,158.4 135.0,158.6 137.0,159.2 139.0,160.2 141.0,161.7 143.0,162.9 145.0,164.4 147.0,166.2 149.0,168.1 151.0,170.0 153.0,172.1 155.0,174.2 157.0,176.1 159.0,178.3 161.0,180.2 163.0,181.3 165.0,182.2 167.0,182.9 169.0,183.2 171.0,183.2 173.0,182.8 175.0,182.1 177.0,181.4 179.0,180.6 181.0,179.8 183.0,179.3 185.0,179.1 187.0,179.5 189.0,180.3 191.0,180.7 193.0,180.7 195.0,180.4 197.0,179.3 199.0,177.1 201.0,173.4 203.0,168.8 205.0,163.6 207.0,158.1 209.0,152.0 211.0,145.8 213.0,139.9 215.0,134.8 217.0,130.0 219.0,125.2 221.0,120.3 223.0,115.9 225.0,112.3 227.0,109.1 229.0,105.9 231.0,102.7 233.0,99.5 235.0,97.1 237.0,95.2 239.0,93.8 241.0,92.8 243.0,91.9 245.0,91.0 247.0,90.1 249.0,89.0 251.0,88.0 253.0,87.1 255.0,86.2 257.0,85.1 259.0,84.2 261.0,83.0 263.0,81.6 265.0,80.2 267.0,78.5 269.0,77.1 271.0,75.9 273.0,74.9 275.0,73.7 277.0,72.7 279.0,72.1 281.0,71.7 283.0,71.4 285.0,71.3 287.0,71.0 289.0,70.7 291.0,70.3 293.0,69.7 295.0,69.1 297.0,68.7 299.0,68.3 301.0,68.1 303.0,68.2 305.0,68.4 307.0,68.6 309.0,68.9 311.0,68.9 313.0,68.9 315.0,69.1 317.0,69.3 319.0,69.7 321.0,69.9 323.0,70.9 325.0,71.6 327.0,72.4 329.0,72.9 331.0,73.1 333.0,72.9 335.0,72.6 337.0,72.2 339.0,71.6 341.0,71.3 343.0,70.1 345.0,69.0 347.0,68.1 349.0,67.6 351.0,66.8 353.0,66.2 355.0,65.7 357.0,65.0 359.0,63.9 361.0,62.8 363.0,62.3 365.0,62.2 367.0,62.2 369.0,62.3 371.0,62.1 373.0,61.8 375.0,61.4 377.0,60.9 379.0,60.8 381.0,61.3 383.0,61.9 385.0,62.4 387.0,62.8 389.0,63.4 391.0,64.0 393.0,64.7 395.0,65.3 397.0,65.2 399.0,65.5 401.0,65.5 403.0,65.6 405.0,65.7 407.0,66.1 409.0,66.1 411.0,66.7 413.0,67.1 415.0,67.4 417.0,67.5 419.0,68.1 421.0,68.9 423.0,70.1 425.0,71.5 427.0,72.5 429.0,73.3 431.0,74.5 433.0,75.4 435.0,76.1 437.0,76.7 439.0,77.3 441.0,78.1 443.0,79.0 445.0,80.2 447.0,81.4 449.0,82.5 451.0,83.4 453.0,84.3 455.0,84.9 457.0,85.5 459.0,86.1 461.0,86.5 463.0,87.8 465.0,89.1 467.0,90.2 469.0,91.5 471.0,92.6 473.0,93.4 475.0,94.2 477.0,95.4 479.0,96.9 481.0,98.4 483.0,100.3 485.0,103.0 487.0,106.4 489.0,111.1 491.0,115.3 493.0,119.0 495.0,122.7 497.0,125.8 499.0,127.5 501.0,128.5 503.0,129.0 505.0,130.0 507.0,131.0 509.0,131.7 511.0,132.4 513.0,133.0 515.0,133.0 517.0,132.9 519.0,132.7 521.0,132.9 523.0,133.2 525.0,133.5 528.5,133.9" stroke="#008000"/>
<polyline points="61.0,222.1 63.0,221.8 65.0,221.6 67.0,221.3 69.0,220.9 71.0,220.6 73.0,220.4 75.0,219.8 77.0,218.9 79.0,217.5 81.0,216.1 83.0,214.6 85.0,212.8 87.0,210.8 89.0,208.7 91.0,206.3 93.0,204.0 95.0,201.3 97.0,198.2 99.0,194.7 101.0,191.8 103.0,189.0 105.0,186.4 107.0,184.2 109.0,182.3 111.0,180.3 113.0,178.6 115.0,176.9 117.0,175.3 119.0,174.1 121.0,173.4 123.0,172.6 125.0,172.0 127.0,171.7 129.0,171.5 131.0,171.5 133.0,171.7 135.0,172.2 137.0,172.8 139.0,173.6 141.0,174.4 143.0,175.2 145.0,176.0 147.0,176.9 149.0,178.0 151.0,179.2 153.0,180.6 155.0,182.3 157.0,183.8 159.0,185.4 161.0,186.8 163.0,188.3 165.0,189.2 167.0,189.9 169.0,190.3 171.0,190.4 173.0,190.0 175.0,189.3 177.0,188.5 179.0,187.2 181.0,185.7 183.0,184.6 185.0,184.5 187.0,184.7 189.0,185.2 191.0,185.5 193.0,185.8 195.0,185.6 197.0,184.8 199.0,183.3 201.0,180.3 203.0,175.9 205.0,171.5 207.0,167.0 209.0,162.9 211.0,159.2 213.0,155.6 215.0,152.7 217.0,150.4 219.0,146.5 221.0,140.9 223.0,135.4 225.0,131.3 227.0,127.6 229.0,124.2 231.0,121.2 233.0,118.4 235.0,116.3 237.0,114.4 239.0,113.0 241.0,111.5 243.0,109.9 245.0,108.3 247.0,106.6 249.0,104.8 251.0,103.2 253.0,101.5 255.0,99.9 257.0,98.3 259.0,96.4 261.0,94.5 263.0,92.6 265.0,90.5 267.0,88.8 269.0,87.5 271.0,86.6 273.0,85.9 275.0,84.9 277.0,84.0 279.0,83.3 281.0,82.9 283.0,82.2 285.0,81.7 287.0,81.2 289.0,80.6 291.0,80.2 293.0,79.7 295.0,79.1 297.0,78.7 299.0,78.2 301.0,77.7 303.0,77.4 305.0,77.1 307.0,77.1 309.0,76.9 311.0,76.9 313.0,76.8 315.0,77.0 317.0,77.3 319.0,77.5 321.0,78.0 323.0,78.4 325.0,79.1 327.0,79.6 329.0,80.2 331.0,80.6 333.0,80.8 335.0,81.1 337.0,81.0 339.0,80.9 341.0,80.4 343.0,79.5 345.0,78.6 347.0,77.6 349.0,76.8 351.0,75.8 353.0,75.2 355.0,74.6 357.0,73.9 359.0,73.0 361.0,72.1 363.0,71.2 365.0,70.8 367.0,70.4 369.0,70.0 371.0,69.8 373.0,69.6 375.0,69.6 377.0,69.5 379.0,69.5 381.0,70.0 383.0,70.2 385.0,70.7 387.0,71.2 389.0,71.7 391.0,72.3 393.0,72.9 395.0,73.4 397.0,73.7 399.0,73.9 401.0,74.2 403.0,74.5 405.0,75.1 407.0,75.1 409.0,75.6 411.0,76.4 413.0,76.8 415.0,77.1 417.0,77.6 419.0,78.0 421.0,78.5 423.0,79.1 425.0,79.9 427.0,80.2 429.0,80.7 431.0,81.3 433.0,81.7 435.0,82.0 437.0,82.6 439.0,83.1 441.0,83.6 443.0,84.3 445.0,85.3 447.0,86.1 449.0,87.2 451.0,88.0 453.0,88.9 455.0,89.6 457.0,90.6 459.0,91.3 461.0,92.1 463.0,93.4 465.0,94.9 467.0,96.2 469.0,97.6 471.0,98.9 473.0,100.3 475.0,101.6 477.0,103.2 479.0,104.9 481.0,106.7 483.0,108.9 485.0,111.5 487.0,114.8 489.0,119.0 491.0,122.8 493.0,126.0 495.0,129.2 497.0,131.8 499.0,133.5 501.0,134.7 503.0,135.4 505.0,136.3 507.0,137.0 509.0,137.9 511.0,138.5 513.0,139.2 515.0,139.7 517.0,140.0 519.0,140.6 521.0,141.2 523.0,141.7 525.0,142.3 528.5,143.2" stroke="#00bfbf"/>
<polyline points="61.0,219.0 63.0,219.0 65.0,218.6 67.0,218.2 69.0,217.3 71.0,216.6 73.0,215.6 75.0,214.4 77.0,213.0 79.0,211.1 81.0,209.0 83.0,207.0 85.0,204.8 87.0,202.4 89.0,200.1 91.0,197.6 93.0,195.3 95.0,192.5 97.0,189.5 99.0,186.2 101.0,182.8 103.0,179.4 105.0,175.8 107.0,172.3 109.0,168.9 111.0,166.1 113.0,163.6 115.0,161.4 117.0,159.8 119.0,158.9 121.0,157.4 123.0,155.5 125.0,154.5 127.0,153.9 129.0,154.0 131.0,154.2 133.0,154.1 135.0,154.8 137.0,155.5 139.0,156.6 141.0,157.8 143.0,158.6 145.0,159.8 147.0,161.3 149.0,163.2 151.0,165.3 153.0,167.9 155.0,170.5 157.0,172.9 159.0,175.7 161.0,177.7 163.0,179.0 165.0,179.9 167.0,180.7 169.0,181.0 171.0,181.3 173.0,181.0 175.0,180.1 177.0,179.2 179.0,178.3 181.0,177.5 183.0,176.5 185.0,175.9 187.0,175.7 189.0,176.4 191.0,176.7 193.0,176.7 195.0,176.5 197.0,175.5 199.0,173.2 201.0,169.4 203.0,164.9 205.0,159.5 207.0,153.5 209.0,146.8 211.0,139.7 213.0,133.5 215.0,127.9 217.0,122.8 219.0,118.2 221.0,114.0 223.0,110.2 225.0,107.1 227.0,104.5 229.0,102.3 231.0,100.2 233.0,98.6 235.0,97.4 237.0,96.8 239.0,96.1 241.0,94.9 243.0,93.3 245.0,91.2 247.0,88.7 249.0,86.2 251.0,84.0 253.0,82.3 255.0,81.3 257.0,80.5 259.0,79.8 261.0,78.9 263.0,77.9 265.0,76.8 267.0,75.6 269.0,74.4 271.0,73.6 273.0,72.9 275.0,72.2 277.0,71.5 279.0,71.0 281.0,70.5 283.0,69.9 285.0,69.2 287.0,68.6 289.0,67.9 291.0,67.3 293.0,66.9 295.0,66.6 297.0,66.6 299.0,66.5 301.0,66.9 303.0,67.1 305.0,67.1 307.0,67.2 309.0,67.1 311.0,66.9 313.0,66.6 315.0,66.4 317.0,66.3 319.0,66.1 321.0,66.0 323.0,66.4 325.0,66.9 327.0,67.5 329.0,67.8 331.0,68.2 333.0,68.5 335.0,68.8 337.0,69.2 339.0,69.2 341.0,69.3 343.0,68.7 345.0,67.4 347.0,66.4 349.0,65.6 351.0,64.7 353.0,63.9 355.0,63.5 357.0,62.8 359.0,61.9 361.0,61.0 363.0,60.5 365.0,60.6 367.0,60.9 369.0,60.8 371.0,60.8 373.0,60.8 375.0,60.5 377.0,60.1 379.0,60.0 381.0,60.4 383.0,60.3 385.0,60.1 387.0,59.7 389.0,59.6 391.0,59.7 393.0,60.4 395.0,61.1 397.0,61.6 399.0,62.4 401.0,63.2 403.0,64.0 405.0,64.7 407.0,65.1 409.0,65.2 411.0,66.1 413.0,66.7 415.0,66.9 417.0,67.3 419.0,67.5 421.0,68.2 423.0,69.1 425.0,70.2 427.0,70.6 429.0,71.1 431.0,71.8 433.0,72.8 435.0,73.7 437.0,74.7 439.0,75.9 441.0,76.9 443.0,77.8 445.0,78.8 447.0,79.5 449.0,80.1 451.0,80.3 453.0,80.3 455.0,80.1 457.0,80.7 459.0,81.2 461.0,81.5 463.0,83.0 465.0,84.7 467.0,86.1 469.0,87.6 471.0,89.0 473.0,90.4 475.0,92.0 477.0,93.8 479.0,95.9 481.0,97.9 483.0,99.8 485.0,102.5 487.0,105.3 489.0,109.3 491.0,113.0 493.0,116.3 495.0,119.9 497.0,123.1 499.0,125.1 501.0,126.3 503.0,127.2 505.0,128.7 507.0,129.5 509.0,130.5 511.0,131.2 513.0,131.5 515.0,131.5 517.0,131.6 519.0,131.2 521.0,131.3 523.0,131.5 525.0,131.6 528.5,131.8" stroke="#bf00bf"/>
<polyline points="61.0,219.9 63.0,220.0 65.0,219.7 67.0,219.4 69.0,218.5 71.0,217.8 73.0,216.9 75.0,215.9 77.0,214.3 79.0,212.6 81.0,210.9 83.0,209.1 85.0,207.1 87.0,205.1 89.0,202.7 91.0,200.3 93.0,198.0 95.0,195.2 97.0,192.2 99.0,188.9 101.0,185.7 103.0,182.6 105.0,179.1 107.0,175.8 109.0,172.2 111.0,169.0 113.0,166.0 115.0,163.4 117.0,161.7 119.0,160.8 121.0,160.1 123.0,159.1 125.0,158.8 127.0,159.0 129.0,159.4 131.0,159.4 133.0,159.3 135.0,159.6 137.0,159.9 139.0,160.9 141.0,162.3 143.0,163.3 145.0,164.4 147.0,165.7 149.0,167.4 151.0,169.0 153.0,171.2 155.0,173.5 157.0,175.8 159.0,178.5 161.0,180.8 163.0,182.5 165.0,183.8 167.0,184.6 169.0,185.2 171.0,185.0 173.0,184.5 175.0,183.1 177.0,181.9 179.0,180.6 181.0,179.7 183.0,178.7 185.0,178.4 187.0,178.4 189.0,179.3 191.0,179.7 193.0,179.7 195.0,179.6 197.0,178.7 199.0,176.9 201.0,173.6 203.0,169.4 205.0,164.6 207.0,159.3 209.0,153.6 211.0,147.3 213.0,141.5 215.0,136.2 217.0,131.3 219.0,126.6 221.0,122.4 223.0,118.9 225.0,116.6 227.0,114.7 229.0,112.7 231.0,110.2 233.0,107.9 235.0,105.7 237.0,103.7 239.0,102.1 241.0,100.3 243.0,98.4 245.0,96.5 247.0,94.0 249.0,91.4 251.0,88.9 253.0,86.8 255.0,85.1 257.0,84.1 259.0,83.3 261.0,82.8 263.0,82.6 265.0,82.0 267.0,81.2 269.0,80.1 271.0,79.2 273.0,77.9 275.0,76.3 277.0,74.7 279.0,73.4 281.0,72.5 283.0,71.8 285.0,71.2 287.0,70.7 289.0,70.3 291.0,69.5 293.0,68.8 295.0,68.3 297.0,67.7 299.0,67.6 301.0,67.7 303.0,67.9 305.0,68.3 307.0,68.4 309.0,68.2 311.0,67.7 313.0,67.0 315.0,66.3 317.0,65.8 319.0,65.4 321.0,65.5 323.0,66.1 325.0,67.3 327.0,68.5 329.0,69.8 331.0,70.4 333.0,70.9 335.0,71.1 337.0,71.2 339.0,71.0 341.0,70.9 343.0,69.9 345.0,69.0 347.0,68.0 349.0,67.2 351.0,66.1 353.0,64.9 355.0,64.0 357.0,63.0 359.0,61.9 361.0,60.8 363.0,60.5 365.0,61.1 367.0,61.8 369.0,62.2 371.0,62.3 373.0,62.1 375.0,61.2 377.0,60.5 379.0,59.9 381.0,59.8 383.0,59.8 385.0,60.0 387.0,60.2 389.0,60.5 391.0,61.3 393.0,62.1 395.0,62.9 397.0,63.5 399.0,64.3 401.0,65.1 403.0,66.2 405.0,67.1 407.0,68.0 409.0,68.5 411.0,69.2 413.0,69.2 415.0,68.7 417.0,68.2 419.0,67.8 421.0,67.9 423.0,68.6 425.0,69.6 427.0,70.5 429.0,71.4 431.0,72.8 433.0,73.7 435.0,74.6 437.0,75.3 439.0,75.9 441.0,76.6 443.0,77.3 445.0,78.3 447.0,79.3 449.0,80.2 451.0,80.4 453.0,80.5 455.0,80.3 457.0,80.7 459.0,80.9 461.0,81.2 463.0,83.1 465.0,85.3 467.0,87.5 469.0,89.7 471.0,91.5 473.0,93.1 475.0,94.2 477.0,95.6 479.0,96.9 481.0,98.1 483.0,99.6 485.0,102.0 487.0,104.7 489.0,109.0 491.0,112.8 493.0,116.3 495.0,120.0 497.0,123.1 499.0,124.9 501.0,126.0 503.0,127.1 505.0,128.6 507.0,129.8 509.0,131.2 511.0,132.1 513.0,132.6 515.0,132.5 517.0,132.2 519.0,131.5 521.0,131.4 523.0,131.4 525.0,131.6 528.5,132.7" stroke="#bf00bf"/>
<polyline points="61.0,219.4 63.0,219.2 65.0,218.9 67.0,218.7 69.0,218.0 71.0,217.4 73.0,216.7 75.0,215.7 77.0,214.3 79.0,212.5 81.0,210.7 83.0,208.7 85.0,206.5 87.0,204.2 89.0,202.0 91.0,199.5 93.0,197.1 95.0,194.3 97.0,191.0 99.0,187.3 101.0,183.7 103.0,180.2 105.0,176.7 107.0,173.6 109.0,170.6 111.0,168.2 113.0,166.0 115.0,163.9 117.0,162.1 119.0,160.6 121.0,158.7 123.0,156.5 125.0,155.3 127.0,155.0 129.0,155.2 131.0,155.6 133.0,155.8 135.0,156.5 137.0,157.2 139.0,158.1 141.0,159.1 143.0,160.0 145.0,161.5 147.0,163.2 149.0,165.4 151.0,167.8 153.0,170.2 155.0,172.5 157.0,174.5 159.0,176.7 161.0,178.4 163.0,179.5 165.0,180.3 167.0,181.0 169.0,181.7 171.0,182.0 173.0,182.1 175.0,181.3 177.0,180.4 179.0,179.4 181.0,178.3 183.0,177.5 185.0,176.8 187.0,176.8 189.0,177.7 191.0,178.3 193.0,178.4 195.0,178.1 197.0,177.0 199.0,174.8 201.0,170.9 203.0,166.3 205.0,161.3 207.0,155.6 209.0,150.1 211.0,144.3 213.0,139.4 215.0,135.2 217.0,131.0 219.0,126.2 221.0,120.9 223.0,115.8 225.0,112.1 227.0,108.8 229.0,106.4 231.0,104.2 233.0,102.4 235.0,101.1 237.0,99.8 239.0,98.3 241.0,96.5 243.0,94.5 245.0,92.3 247.0,90.3 249.0,88.3 251.0,87.2 253.0,86.2 255.0,85.0 257.0,83.8 259.0,82.4 261.0,80.6 263.0,78.6 265.0,77.0 267.0,75.5 269.0,74.3 271.0,73.7 273.0,73.4 275.0,72.8 277.0,72.1 279.0,71.3 281.0,70.4 283.0,69.5 285.0,68.4 287.0,67.5 289.0,66.9 291.0,66.4 293.0,65.9 295.0,65.3 297.0,64.8 299.0,64.4 301.0,63.9 303.0,63.7 305.0,63.5 307.0,63.6 309.0,64.0 311.0,64.0 313.0,64.3 315.0,64.6 317.0,64.7 319.0,64.8 321.0,64.6 323.0,64.8 325.0,65.4 327.0,65.8 329.0,66.4 331.0,66.9 333.0,67.4 335.0,68.1 337.0,68.3 339.0,68.4 341.0,68.3 343.0,67.5 345.0,66.1 347.0,65.3 349.0,64.9 351.0,64.3 353.0,64.0 355.0,63.7 357.0,63.1 359.0,62.2 361.0,60.7 363.0,59.6 365.0,59.2 367.0,59.2 369.0,59.2 371.0,59.3 373.0,59.5 375.0,59.5 377.0,59.5 379.0,59.6 381.0,59.8 383.0,60.0 385.0,59.9 387.0,59.8 389.0,59.8 391.0,60.4 393.0,61.4 395.0,62.3 397.0,63.0 399.0,63.6 401.0,63.8 403.0,63.9 405.0,64.2 407.0,64.1 409.0,64.2 411.0,65.2 413.0,66.1 415.0,66.8 417.0,67.3 419.0,67.7 421.0,68.0 423.0,68.3 425.0,68.8 427.0,68.7 429.0,68.7 431.0,69.6 433.0,70.3 435.0,71.3 437.0,72.4 439.0,73.3 441.0,74.1 443.0,74.8 445.0,75.6 447.0,76.3 449.0,77.1 451.0,77.8 453.0,78.5 455.0,79.2 457.0,80.2 459.0,80.7 461.0,81.0 463.0,82.1 465.0,83.3 467.0,84.1 469.0,85.4 471.0,86.8 473.0,88.3 475.0,90.1 477.0,92.4 479.0,94.4 481.0,96.4 483.0,98.4 485.0,100.7 487.0,103.3 489.0,107.4 491.0,111.3 493.0,114.9 495.0,119.0 497.0,122.4 499.0,124.4 501.0,125.5 503.0,126.0 505.0,126.9 507.0,127.7 509.0,128.6 511.0,129.5 513.0,130.2 515.0,130.8 517.0,131.1 519.0,131.3 521.0,131.8 523.0,131.9 525.0,131.9 528.5,131.7" stroke="#ff0000"/>
<polyline points="61.0,222.0 63.0,221.7 65.0,221.4 67.0,221.0 69.0,220.5 71.0,219.9 73.0,219.4 75.0,218.5 77.0,217.4 79.0,216.0 81.0,214.4 83.0,212.6 85.0,210.7 87.0,208.5 89.0,206.2 91.0,203.7 93.0,201.5 95.0,198.9 97.0,196.0 99.0,192.8 101.0,189.6 103.0,186.8 105.0,183.5 107.0,180.5 109.0,177.7 111.0,175.3 113.0,173.0 115.0,171.0 117.0,169.4 119.0,168.6 121.0,168.1 123.0,167.0 125.0,166.6 127.0,166.0 129.0,165.6 131.0,165.6 133.0,165.5 135.0,166.0 137.0,166.9 139.0,167.8 141.0,169.1 143.0,169.9 145.0,170.8 147.0,171.9 149.0,173.2 151.0,174.9 153.0,176.9 155.0,179.0 157.0,181.3 159.0,183.7 161.0,185.7 163.0,187.5 165.0,188.8 167.0,189.7 169.0,190.1 171.0,190.3 173.0,189.8 175.0,188.9 177.0,188.2 179.0,187.1 181.0,185.8 183.0,184.7 185.0,184.7 187.0,185.0 189.0,185.4 191.0,185.6 193.0,186.0 195.0,186.1 197.0,185.4 199.0,184.4 201.0,181.5 203.0,176.9 205.0,172.4 207.0,167.6 209.0,162.9 211.0,158.0 213.0,153.3 215.0,149.2 217.0,145.8 219.0,141.5 221.0,136.2 223.0,131.3 225.0,127.4 227.0,123.8 229.0,120.6 231.0,117.3 233.0,114.6 235.0,112.6 237.0,111.3 239.0,110.1 241.0,108.7 243.0,107.1 245.0,104.8 247.0,102.4 249.0,99.4 251.0,96.8 253.0,94.5 255.0,92.7 257.0,91.4 259.0,90.4 261.0,89.2 263.0,87.9 265.0,86.4 267.0,84.5 269.0,83.0 271.0,81.5 273.0,80.2 275.0,78.7 277.0,77.7 279.0,76.8 281.0,76.3 283.0,76.0 285.0,75.5 287.0,75.0 289.0,74.5 291.0,74.0 293.0,73.5 295.0,73.2 297.0,73.1 299.0,73.2 301.0,73.3 303.0,73.5 305.0,73.5 307.0,73.5 309.0,73.3 311.0,72.8 313.0,72.2 315.0,71.9 317.0,71.9 319.0,71.9 321.0,72.3 323.0,73.0 325.0,73.7 327.0,74.6 329.0,75.1 331.0,75.4 333.0,75.4 335.0,75.5 337.0,75.5 339.0,75.4 341.0,75.2 343.0,74.4 345.0,73.4 347.0,72.3 349.0,71.2 351.0,70.1 353.0,69.3 355.0,68.5 357.0,67.9 359.0,67.3 361.0,66.6 363.0,66.4 365.0,66.7 367.0,66.7 369.0,66.6 371.0,66.4 373.0,66.1 375.0,65.4 377.0,64.9 379.0,64.6 381.0,64.8 383.0,65.2 385.0,65.2 387.0,65.4 389.0,65.6 391.0,65.7 393.0,66.3 395.0,66.8 397.0,67.1 399.0,67.8 401.0,68.5 403.0,69.4 405.0,70.1 407.0,70.5 409.0,70.8 411.0,71.2 413.0,71.4 415.0,71.2 417.0,71.2 419.0,71.6 421.0,72.3 423.0,73.5 425.0,75.0 427.0,75.9 429.0,76.8 431.0,77.6 433.0,78.4 435.0,79.1 437.0,79.7 439.0,80.5 441.0,81.2 443.0,82.4 445.0,83.2 447.0,83.9 449.0,84.6 451.0,84.9 453.0,85.0 455.0,85.0 457.0,85.5 459.0,86.1 461.0,87.0 463.0,88.7 465.0,90.8 467.0,92.3 469.0,94.1 471.0,95.4 473.0,96.6 475.0,97.7 477.0,98.9 479.0,100.5 481.0,102.2 483.0,104.4 485.0,107.2 487.0,110.4 489.0,114.5 491.0,118.4 493.0,121.7 495.0,124.9 497.0,127.9 499.0,129.7 501.0,131.0 503.0,132.0 505.0,133.3 507.0,134.3 509.0,135.1 511.0,135.5 513.0,135.7 515.0,135.5 517.0,135.1 519.0,134.7 521.0,134.8 523.0,135.0 525.0,135.4 528.5,136.2" stroke="#00bfbf"/>
<polyline points="61.0,221.8 63.0,221.6 65.0,221.3 67.0,221.1 69.0,220.6 71.0,220.5 73.0,220.1 75.0,219.6 77.0,218.5 79.0,217.2 81.0,215.9 83.0,214.3 85.0,212.5 87.0,210.5 89.0,208.4 91.0,206.2 93.0,203.9 95.0,201.4 97.0,198.4 99.0,195.2 101.0,192.2 103.0,189.7 105.0,187.0 107.0,184.7 109.0,182.8 111.0,180.9 113.0,179.3 115.0,177.4 117.0,175.7 119.0,174.6 121.0,173.7 123.0,173.1 125.0,172.8 127.0,172.5 129.0,172.6 131.0,172.7 133.0,173.0 135.0,173.4 137.0,173.9 139.0,174.6 141.0,175.2 143.0,175.8 145.0,176.4 147.0,177.1 149.0,178.0 151.0,179.1 153.0,180.6 155.0,182.3 157.0,183.8 159.0,185.4 161.0,186.7 163.0,188.2 165.0,189.2 167.0,189.8 169.0,190.2 171.0,190.4 173.0,189.8 175.0,189.1 177.0,188.2 179.0,186.8 181.0,185.4 183.0,184.2 185.0,184.0 187.0,184.3 189.0,184.9 191.0,185.4 193.0,185.7 195.0,185.7 197.0,185.0 199.0,183.6 201.0,180.8 203.0,176.3 205.0,172.2 207.0,167.9 209.0,164.0 211.0,160.4 213.0,156.8 215.0,154.2 217.0,152.0 219.0,148.0 221.0,142.6 223.0,137.4 225.0,133.2 227.0,129.9 229.0,127.2 231.0,124.3 233.0,121.8 235.0,120.1 237.0,118.7 239.0,117.3 241.0,115.8 243.0,114.1 245.0,112.4 247.0,110.5 249.0,108.5 251.0,106.7 253.0,105.0 255.0,103.3 257.0,101.6 259.0,99.7 261.0,97.8 263.0,95.9 265.0,94.1 267.0,92.2 269.0,91.0 271.0,90.1 273.0,89.2 275.0,88.2 277.0,87.1 279.0,86.1 281.0,85.7 283.0,84.9 285.0,84.2 287.0,83.4 289.0,82.9 291.0,82.5 293.0,81.8 295.0,81.4 297.0,81.0 299.0,80.6 301.0,80.2 303.0,79.7 305.0,79.4 307.0,79.1 309.0,78.7 311.0,78.4 313.0,78.2 315.0,78.1 317.0,78.3 319.0,78.3 321.0,78.6 323.0,79.0 325.0,79.5 327.0,80.0 329.0,80.3 331.0,80.9 333.0,81.1 335.0,81.4 337.0,81.6 339.0,81.3 341.0,80.9 343.0,79.9 345.0,78.8 347.0,77.6 349.0,76.6 351.0,75.7 353.0,75.0 355.0,74.4 357.0,73.5 359.0,72.7 361.0,71.9 363.0,71.1 365.0,70.7 367.0,70.5 369.0,70.3 371.0,70.1 373.0,70.1 375.0,70.1 377.0,70.0 379.0,70.1 381.0,70.6 383.0,71.0 385.0,71.2 387.0,71.6 389.0,72.3 391.0,72.8 393.0,73.6 395.0,74.2 397.0,74.8 399.0,75.2 401.0,75.8 403.0,76.4 405.0,77.1 407.0,77.5 409.0,77.9 411.0,78.7 413.0,79.3 415.0,79.6 417.0,80.0 419.0,80.5 421.0,80.9 423.0,81.5 425.0,82.1 427.0,82.5 429.0,82.9 431.0,83.5 433.0,84.1 435.0,84.6 437.0,85.1 439.0,85.7 441.0,86.2 443.0,86.8 445.0,87.3 447.0,88.2 449.0,88.9 451.0,89.5 453.0,90.1 455.0,90.8 457.0,91.6 459.0,92.2 461.0,92.9 463.0,94.3 465.0,95.7 467.0,97.1 469.0,98.4 471.0,99.7 473.0,101.1 475.0,102.5 477.0,104.0 479.0,105.7 481.0,107.4 483.0,109.3 485.0,111.8 487.0,114.7 489.0,118.7 491.0,122.5 493.0,125.7 495.0,128.9 497.0,131.5 499.0,133.3 501.0,134.3 503.0,135.1 505.0,136.0 507.0,136.7 509.0,137.5 511.0,138.3 513.0,138.9 515.0,139.5 517.0,139.7 519.0,140.1 521.0,140.5 523.0,141.1 525.0,141.6 528.5,142.5" stroke="#008000"/>
<polyline points="61.0,220.7 63.0,220.4 65.0,220.1 67.0,219.9 69.0,219.3 71.0,218.8 73.0,218.2 75.0,217.5 77.0,216.2 79.0,214.5 81.0,212.5 83.0,210.6 85.0,208.7 87.0,206.4 89.0,204.2 91.0,201.8 93.0,199.6 95.0,196.8 97.0,193.5 99.0,189.7 101.0,186.2 103.0,182.8 105.0,179.4 107.0,176.2 109.0,173.5 111.0,171.0 113.0,169.0 115.0,167.1 117.0,165.2 119.0,164.0 121.0,162.5 123.0,160.7 125.0,160.1 127.0,159.9 129.0,160.4 131.0,160.8 133.0,161.2 135.0,162.1 137.0,162.8 139.0,163.6 141.0,164.4 143.0,165.3 145.0,166.3 147.0,167.9 149.0,169.8 151.0,172.0 153.0,174.3 155.0,176.4 157.0,178.5 159.0,180.7 161.0,182.2 163.0,183.6 165.0,184.7 167.0,185.5 169.0,186.1 171.0,186.3 173.0,186.3 175.0,185.5 177.0,184.6 179.0,183.3 181.0,182.0 183.0,180.9 185.0,180.6 187.0,180.7 189.0,181.5 191.0,182.0 193.0,182.4 195.0,182.1 197.0,181.3 199.0,179.6 201.0,175.9 203.0,171.3 205.0,166.2 207.0,161.1 209.0,155.8 211.0,150.5 213.0,145.9 215.0,141.6 217.0,137.5 219.0,132.5 221.0,126.3 223.0,120.7 225.0,116.4 227.0,112.8 229.0,109.9 231.0,107.4 233.0,105.1 235.0,103.6 237.0,102.2 239.0,100.5 241.0,98.6 243.0,96.3 245.0,94.1 247.0,92.3 249.0,90.5 251.0,89.5 253.0,88.8 255.0,88.2 257.0,87.5 259.0,86.2 261.0,84.9 263.0,83.3 265.0,81.6 267.0,80.2 269.0,79.2 271.0,78.6 273.0,78.2 275.0,77.4 277.0,76.7 279.0,75.9 281.0,75.1 283.0,74.2 285.0,73.5 287.0,72.7 289.0,72.1 291.0,71.9 293.0,71.6 295.0,71.3 297.0,71.1 299.0,70.9 301.0,70.5 303.0,70.1 305.0,69.9 307.0,69.9 309.0,69.9 311.0,70.1 313.0,70.2 315.0,70.4 317.0,70.7 319.0,71.0 321.0,71.1 323.0,71.3 325.0,71.9 327.0,72.3 329.0,72.9 331.0,73.6 333.0,74.2 335.0,74.8 337.0,74.9 339.0,74.9 341.0,74.4 343.0,73.3 345.0,71.9 347.0,70.6 349.0,69.7 351.0,68.8 353.0,68.2 355.0,68.0 357.0,67.4 359.0,66.4 361.0,65.2 363.0,64.2 365.0,63.9 367.0,63.7 369.0,63.4 371.0,63.6 373.0,63.6 375.0,63.6 377.0,63.5 379.0,63.7 381.0,63.9 383.0,64.1 385.0,63.9 387.0,63.8 389.0,64.2 391.0,64.8 393.0,65.7 395.0,66.9 397.0,67.5 399.0,68.2 401.0,68.7 403.0,68.8 405.0,69.1 407.0,69.0 409.0,69.1 411.0,69.8 413.0,70.5 415.0,70.9 417.0,71.4 419.0,71.8 421.0,72.1 423.0,72.9 425.0,73.3 427.0,73.5 429.0,73.9 431.0,74.8 433.0,75.8 435.0,77.0 437.0,78.0 439.0,79.0 441.0,79.9 443.0,80.7 445.0,81.4 447.0,82.0 449.0,82.6 451.0,83.6 453.0,84.3 455.0,85.0 457.0,86.1 459.0,87.0 461.0,87.6 463.0,88.9 465.0,90.2 467.0,91.1 469.0,92.3 471.0,93.6 473.0,95.1 475.0,96.5 477.0,98.4 479.0,100.1 481.0,101.9 483.0,103.6 485.0,105.8 487.0,108.3 489.0,112.2 491.0,115.9 493.0,119.5 495.0,123.2 497.0,126.5 499.0,128.5 501.0,129.6 503.0,130.4 505.0,131.4 507.0,132.1 509.0,132.8 511.0,133.5 513.0,134.2 515.0,134.7 517.0,135.1 519.0,135.4 521.0,135.7 523.0,136.1 525.0,136.2 528.5,136.3" stroke="#008000"/>
<polyline points="61.0,222.2 63.0,221.9 65.0,221.7 67.0,221.3 69.0,220.9 71.0,220.6 73.0,220.5 75.0,220.3 77.0,219.3 79.0,218.0 81.0,216.6 83.0,214.7 85.0,212.8 87.0,210.6 89.0,208.5 91.0,206.5 93.0,204.4 95.0,202.2 97.0,199.4 99.0,196.4 101.0,193.5 103.0,190.5 105.0,187.7 107.0,185.3 109.0,183.4 111.0,181.6 113.0,180.4 115.0,179.2 117.0,177.9 119.0,176.7 121.0,175.8 123.0,174.7 125.0,173.5 127.0,172.8 129.0,172.7 131.0,173.3 133.0,174.3 135.0,175.9 137.0,177.2 139.0,178.2 141.0,178.7 143.0,178.6 145.0,178.4 147.0,178.5 149.0,179.1 151.0,180.2 153.0,181.9 155.0,183.7 157.0,185.5 159.0,187.0 161.0,188.0 163.0,189.1 165.0,189.8 167.0,190.1 169.0,190.3 171.0,190.3 173.0,190.1 175.0,189.5 177.0,189.1 179.0,188.0 181.0,186.4 183.0,185.2 185.0,184.9 187.0,185.0 189.0,185.4 191.0,185.8 193.0,186.6 195.0,186.8 197.0,186.5 199.0,186.0 201.0,183.1 203.0,178.5 205.0,174.1 207.0,169.5 209.0,165.3 211.0,161.6 213.0,158.3 215.0,156.2 217.0,154.8 219.0,151.1 221.0,144.9 223.0,138.6 225.0,132.7 227.0,127.7 229.0,123.5 231.0,120.1 233.0,117.9 235.0,117.2 237.0,116.9 239.0,116.3 241.0,115.1 243.0,112.7 245.0,109.6 247.0,106.2 249.0,102.9 251.0,100.5 253.0,98.9 255.0,97.8 257.0,97.2 259.0,96.1 261.0,94.5 263.0,92.6 265.0,90.2 267.0,88.0 269.0,86.3 271.0,85.5 273.0,85.0 275.0,84.6 277.0,84.5 279.0,84.3 281.0,84.0 283.0,83.2 285.0,82.1 287.0,80.8 289.0,79.8 291.0,79.1 293.0,78.7 295.0,78.6 297.0,78.8 299.0,79.0 301.0,79.1 303.0,78.7 305.0,78.2 307.0,77.5 309.0,76.8 311.0,76.3 313.0,76.2 315.0,76.5 317.0,77.1 319.0,77.8 321.0,78.3 323.0,78.7 325.0,78.8 327.0,78.8 329.0,78.8 331.0,78.9 333.0,79.2 335.0,79.9 337.0,80.7 339.0,81.5 341.0,81.4 343.0,80.8 345.0,79.6 347.0,77.9 349.0,76.4 351.0,75.1 353.0,74.1 355.0,73.6 357.0,73.2 359.0,72.7 361.0,72.2 363.0,71.5 365.0,70.7 367.0,69.8 369.0,69.2 371.0,68.5 373.0,68.2 375.0,68.2 377.0,68.5 379.0,69.1 381.0,69.8 383.0,70.2 385.0,70.1 387.0,69.8 389.0,69.5 391.0,69.4 393.0,69.6 395.0,70.4 397.0,71.3 399.0,72.4 401.0,73.4 403.0,74.4 405.0,74.8 407.0,75.0 409.0,75.0 411.0,75.2 413.0,75.5 415.0,75.9 417.0,76.6 419.0,77.7 421.0,78.7 423.0,79.7 425.0,80.2 427.0,79.9 429.0,79.6 431.0,79.5 433.0,79.7 435.0,80.3 437.0,81.5 439.0,82.8 441.0,84.1 443.0,85.3 445.0,86.2 447.0,86.6 449.0,87.0 451.0,87.0 453.0,87.2 455.0,87.7 457.0,88.9 459.0,90.2 461.0,91.6 463.0,93.7 465.0,95.3 467.0,96.4 469.0,97.6 471.0,98.4 473.0,99.5 475.0,101.0 477.0,103.1 479.0,105.5 481.0,108.1 483.0,110.7 485.0,113.4 487.0,116.2 489.0,119.3 491.0,122.3 493.0,125.0 495.0,127.9 497.0,130.6 499.0,132.8 501.0,134.4 503.0,135.6 505.0,136.7 507.0,137.3 509.0,137.7 511.0,137.9 513.0,138.2 515.0,138.5 517.0,139.0 519.0,139.6 521.0,140.5 523.0,141.6 525.0,142.1 528.5,142.4" stroke="#00bfbf" stroke-dasharray="4 2"/>
<polyline points="61.0,220.6 63.0,220.4 65.0,220.3 67.0,219.9 69.0,219.4 71.0,219.0 73.0,218.3 75.0,217.4 77.0,216.1 79.0,214.5 81.0,212.9 83.0,211.0 85.0,209.0 87.0,206.6 89.0,204.4 91.0,202.0 93.0,199.6 95.0,196.6 97.0,193.2 99.0,189.8 101.0,186.3 103.0,183.0 105.0,179.5 107.0,176.4 109.0,173.2 111.0,170.3 113.0,167.7 115.0,165.6 117.0,163.4 119.0,162.3 121.0,160.9 123.0,159.4 125.0,158.6 127.0,158.4 129.0,158.6 131.0,158.8 133.0,159.0 135.0,159.6 137.0,160.5 139.0,161.7 141.0,163.0 143.0,164.1 145.0,165.5 147.0,167.0 149.0,168.8 151.0,170.7 153.0,172.8 155.0,174.9 157.0,177.0 159.0,179.3 161.0,181.1 163.0,182.5 165.0,183.6 167.0,184.3 169.0,184.7 171.0,184.9 173.0,184.6 175.0,183.8 177.0,183.0 179.0,181.8 181.0,180.9 183.0,180.0 185.0,179.8 187.0,180.0 189.0,180.9 191.0,181.3 193.0,181.6 195.0,181.7 197.0,180.9 199.0,179.3 201.0,176.1 203.0,171.8 205.0,167.3 207.0,162.5 209.0,157.5 211.0,152.7 213.0,148.2 215.0,144.3 217.0,140.6 219.0,136.0 221.0,130.6 223.0,125.6 225.0,121.7 227.0,118.4 229.0,115.3 231.0,112.6 233.0,110.0 235.0,107.9 237.0,106.2 239.0,104.7 241.0,103.0 243.0,101.0 245.0,98.9 247.0,96.8 249.0,94.5 251.0,92.5 253.0,90.8 255.0,89.4 257.0,88.1 259.0,86.8 261.0,85.6 263.0,84.3 265.0,82.9 267.0,81.6 269.0,80.5 271.0,79.7 273.0,78.8 275.0,77.8 277.0,76.5 279.0,75.7 281.0,75.0 283.0,74.2 285.0,73.4 287.0,72.9 289.0,72.1 291.0,71.4 293.0,70.8 295.0,70.2 297.0,69.7 299.0,69.5 301.0,69.3 303.0,69.2 305.0,69.3 307.0,69.5 309.0,69.5 311.0,69.6 313.0,69.4 315.0,69.6 317.0,69.6 319.0,69.7 321.0,70.0 323.0,70.7 325.0,71.5 327.0,72.3 329.0,73.2 331.0,74.0 333.0,74.3 335.0,75.0 337.0,75.2 339.0,75.2 341.0,75.0 343.0,74.2 345.0,73.3 347.0,72.3 349.0,71.3 351.0,70.5 353.0,69.5 355.0,68.9 357.0,68.1 359.0,67.1 361.0,65.9 363.0,65.3 365.0,65.1 367.0,65.1 369.0,65.1 371.0,65.2 373.0,64.9 375.0,64.9 377.0,64.6 379.0,64.5 381.0,64.8 383.0,65.1 385.0,65.2 387.0,65.3 389.0,65.8 391.0,66.1 393.0,67.0 395.0,67.6 397.0,68.0 399.0,68.5 401.0,69.1 403.0,69.5 405.0,69.9 407.0,70.3 409.0,70.6 411.0,71.2 413.0,71.5 415.0,71.5 417.0,71.4 419.0,71.3 421.0,71.5 423.0,72.0 425.0,72.6 427.0,72.9 429.0,73.3 431.0,74.0 433.0,74.8 435.0,75.5 437.0,76.2 439.0,77.0 441.0,77.9 443.0,78.9 445.0,79.8 447.0,80.8 449.0,81.7 451.0,82.6 453.0,83.2 455.0,83.7 457.0,84.5 459.0,85.2 461.0,85.8 463.0,87.3 465.0,89.0 467.0,90.6 469.0,92.0 471.0,93.7 473.0,95.2 475.0,96.7 477.0,98.2 479.0,100.0 481.0,101.7 483.0,103.6 485.0,106.0 487.0,108.9 489.0,112.9 491.0,116.8 493.0,120.0 495.0,123.7 497.0,126.6 499.0,128.4 501.0,129.6 503.0,130.5 505.0,131.8 507.0,132.9 509.0,133.9 511.0,134.9 513.0,135.4 515.0,135.9 517.0,136.3 519.0,136.2 521.0,136.6 523.0,137.0 525.0,137.1 528.5,137.7" stroke="#ff0000"/>
<polyline points="61.0,220.8 63.0,220.6 65.0,220.5 67.0,220.2 69.0,219.8 71.0,219.3 73.0,218.5 75.0,217.7 77.0,216.2 79.0,214.5 81.0,212.8 83.0,211.2 85.0,209.3 87.0,207.5 89.0,205.4 91.0,203.2 93.0,200.8 95.0,198.1 97.0,194.9 99.0,191.2 101.0,187.9 103.0,184.9 105.0,181.7 107.0,179.0 109.0,176.4 111.0,173.7 113.0,171.0 115.0,168.2 117.0,165.9 119.0,164.2 121.0,162.8 123.0,161.5 125.0,161.0 127.0,161.0 129.0,161.4 131.0,161.7 133.0,161.6 135.0,161.7 137.0,161.8 139.0,162.3 141.0,163.2 143.0,164.3 145.0,165.8 147.0,167.5 149.0,169.6 151.0,171.8 153.0,174.0 155.0,176.2 157.0,178.2 159.0,180.7 161.0,182.6 163.0,184.3 165.0,185.8 167.0,186.9 169.0,187.8 171.0,188.2 173.0,187.5 175.0,186.4 177.0,185.3 179.0,183.8 181.0,182.2 183.0,181.2 185.0,180.8 187.0,181.1 189.0,182.0 191.0,182.5 193.0,182.7 195.0,182.5 197.0,181.5 199.0,179.8 201.0,176.3 203.0,171.7 205.0,167.2 207.0,162.5 209.0,157.6 211.0,152.8 213.0,148.3 215.0,144.0 217.0,140.0 219.0,134.9 221.0,129.3 223.0,124.8 225.0,121.6 227.0,119.3 229.0,117.5 231.0,115.5 233.0,113.5 235.0,111.3 237.0,109.1 239.0,106.6 241.0,104.1 243.0,101.5 245.0,99.0 247.0,96.8 249.0,94.7 251.0,92.8 253.0,91.0 255.0,89.1 257.0,87.3 259.0,85.5 261.0,83.8 263.0,82.4 265.0,81.2 267.0,80.3 269.0,79.5 271.0,78.9 273.0,78.1 275.0,76.9 277.0,75.5 279.0,74.2 281.0,73.1 283.0,72.1 285.0,71.5 287.0,71.2 289.0,70.8 291.0,70.6 293.0,70.3 295.0,69.9 297.0,69.3 299.0,68.7 301.0,68.2 303.0,68.0 305.0,68.0 307.0,68.0 309.0,68.1 311.0,68.1 313.0,67.7 315.0,67.5 317.0,67.0 319.0,66.5 321.0,66.1 323.0,66.6 325.0,67.4 327.0,68.5 329.0,69.7 331.0,70.7 333.0,71.4 335.0,72.1 337.0,72.2 339.0,72.1 341.0,71.8 343.0,70.7 345.0,69.7 347.0,68.9 349.0,68.5 351.0,68.0 353.0,67.6 355.0,67.3 357.0,66.3 359.0,65.3 361.0,64.0 363.0,63.3 365.0,63.4 367.0,63.7 369.0,63.9 371.0,64.2 373.0,64.3 375.0,63.9 377.0,63.5 379.0,62.8 381.0,62.5 383.0,62.2 385.0,62.0 387.0,62.0 389.0,62.5 391.0,63.5 393.0,64.5 395.0,65.6 397.0,66.2 399.0,66.8 401.0,67.2 403.0,67.6 405.0,68.1 407.0,68.6 409.0,69.2 411.0,70.2 413.0,71.1 415.0,71.3 417.0,71.4 419.0,71.1 421.0,70.9 423.0,71.1 425.0,71.9 427.0,72.1 429.0,72.9 431.0,74.2 433.0,75.3 435.0,76.3 437.0,76.8 439.0,77.2 441.0,77.4 443.0,77.7 445.0,78.1 447.0,78.6 449.0,79.4 451.0,80.0 453.0,80.6 455.0,81.0 457.0,81.7 459.0,82.2 461.0,82.5 463.0,83.6 465.0,85.4 467.0,86.9 469.0,89.1 471.0,91.2 473.0,93.2 475.0,94.9 477.0,96.8 479.0,98.5 481.0,99.8 483.0,101.3 485.0,103.4 487.0,106.1 489.0,110.4 491.0,114.6 493.0,118.3 495.0,122.2 497.0,125.5 499.0,127.2 501.0,128.2 503.0,128.7 505.0,129.5 507.0,130.5 509.0,131.5 511.0,132.4 513.0,133.2 515.0,133.6 517.0,133.7 519.0,133.4 521.0,133.3 523.0,133.2 525.0,133.2 528.5,133.9" stroke="#0000ff"/>
<polyline points="61.0,221.2 63.0,221.0 65.0,220.8 67.0,220.5 69.0,219.9 71.0,219.4 73.0,218.8 75.0,218.1 77.0,216.8 79.0,215.4 81.0,213.7 83.0,212.1 85.0,210.2 87.0,208.3 89.0,206.0 91.0,203.7 93.0,201.1 95.0,198.2 97.0,195.1 99.0,191.4 101.0,188.2 103.0,185.0 105.0,181.7 107.0,178.8 109.0,176.1 111.0,173.4 113.0,171.3 115.0,169.1 117.0,167.1 119.0,166.0 121.0,164.9 123.0,163.6 125.0,162.8 127.0,162.4 129.0,162.3 131.0,162.1 133.0,161.9 135.0,162.2 137.0,162.7 139.0,163.6 141.0,164.9 143.0,166.1 145.0,167.5 147.0,169.0 149.0,171.0 151.0,173.0 153.0,175.1 155.0,177.1 157.0,179.3 159.0,181.4 161.0,183.0 163.0,184.7 165.0,185.9 167.0,186.6 169.0,187.1 171.0,187.2 173.0,186.7 175.0,185.7 177.0,184.9 179.0,183.9 181.0,182.8 183.0,181.9 185.0,181.7 187.0,182.1 189.0,182.7 191.0,183.2 193.0,183.6 195.0,183.5 197.0,182.6 199.0,181.0 201.0,177.9 203.0,173.4 205.0,168.9 207.0,164.2 209.0,159.5 211.0,155.0 213.0,150.7 215.0,147.1 217.0,144.1 219.0,139.9 221.0,134.7 223.0,129.9 225.0,126.1 227.0,122.9 229.0,119.7 231.0,116.8 233.0,113.9 235.0,111.6 237.0,109.7 239.0,107.9 241.0,106.1 243.0,104.3 245.0,102.4 247.0,100.6 249.0,98.8 251.0,97.0 253.0,95.4 255.0,93.8 257.0,92.3 259.0,90.9 261.0,89.3 263.0,87.6 265.0,86.1 267.0,84.4 269.0,83.1 271.0,81.9 273.0,81.0 275.0,79.8 277.0,78.8 279.0,77.8 281.0,77.4 283.0,76.8 285.0,76.3 287.0,76.0 289.0,75.6 291.0,75.1 293.0,74.7 295.0,74.1 297.0,73.6 299.0,73.3 301.0,72.7 303.0,72.5 305.0,72.2 307.0,72.2 309.0,72.1 311.0,72.2 313.0,71.8 315.0,71.9 317.0,71.9 319.0,72.0 321.0,72.4 323.0,73.1 325.0,73.9 327.0,74.7 329.0,75.5 331.0,75.8 333.0,76.2 335.0,76.5 337.0,76.5 339.0,76.2 341.0,75.9 343.0,75.1 345.0,74.1 347.0,73.2 349.0,72.5 351.0,71.8 353.0,71.1 355.0,70.7 357.0,70.1 359.0,69.2 361.0,68.4 363.0,67.8 365.0,67.6 367.0,67.5 369.0,67.3 371.0,67.2 373.0,66.9 375.0,66.6 377.0,66.5 379.0,66.0 381.0,66.4 383.0,66.7 385.0,67.1 387.0,67.4 389.0,67.8 391.0,68.7 393.0,69.3 395.0,70.0 397.0,70.4 399.0,70.8 401.0,71.2 403.0,71.6 405.0,72.0 407.0,72.2 409.0,72.5 411.0,73.0 413.0,73.4 415.0,73.6 417.0,73.8 419.0,74.0 421.0,74.4 423.0,75.3 425.0,76.2 427.0,76.6 429.0,77.4 431.0,78.0 433.0,78.7 435.0,79.2 437.0,79.7 439.0,79.9 441.0,80.6 443.0,81.0 445.0,81.7 447.0,82.6 449.0,83.6 451.0,84.3 453.0,84.8 455.0,85.4 457.0,86.4 459.0,87.0 461.0,87.7 463.0,89.3 465.0,91.1 467.0,92.3 469.0,94.0 471.0,95.4 473.0,96.7 475.0,98.0 477.0,99.5 479.0,100.9 481.0,102.7 483.0,104.7 485.0,107.3 487.0,110.5 489.0,114.8 491.0,118.8 493.0,122.3 495.0,125.8 497.0,128.8 499.0,130.5 501.0,131.7 503.0,132.3 505.0,133.5 507.0,134.3 509.0,135.1 511.0,135.9 513.0,136.5 515.0,136.9 517.0,136.9 519.0,137.3 521.0,137.6 523.0,138.1 525.0,138.6 528.5,139.6" stroke="#ff0000"/>
<polyline points="61.0,221.2 63.0,220.8 65.0,220.4 67.0,220.0 69.0,219.5 71.0,219.1 73.0,218.8 75.0,218.0 77.0,216.9 79.0,215.3 81.0,213.6 83.0,211.6 85.0,209.4 87.0,207.0 89.0,204.7 91.0,202.6 93.0,200.4 95.0,197.9 97.0,194.8 99.0,191.4 101.0,188.0 103.0,184.5 105.0,180.8 107.0,177.6 109.0,174.8 111.0,172.4 113.0,170.9 115.0,169.4 117.0,167.9 119.0,166.9 121.0,165.5 123.0,163.7 125.0,162.3 127.0,161.4 129.0,161.5 131.0,162.1 133.0,162.9 135.0,164.4 137.0,165.7 139.0,167.1 141.0,167.9 143.0,168.5 145.0,169.1 147.0,170.1 149.0,171.7 151.0,173.6 153.0,176.1 155.0,178.4 157.0,180.7 159.0,182.9 161.0,184.4 163.0,185.6 165.0,186.5 167.0,187.0 169.0,187.3 171.0,187.5 173.0,187.5 175.0,186.9 177.0,186.3 179.0,185.0 181.0,183.6 183.0,182.3 185.0,181.6 187.0,181.6 189.0,181.9 191.0,182.3 193.0,182.6 195.0,182.6 197.0,182.0 199.0,180.6 201.0,177.1 203.0,172.4 205.0,167.3 207.0,161.9 209.0,156.5 211.0,151.3 213.0,147.0 215.0,143.9 217.0,141.6 219.0,137.9 221.0,132.6 223.0,127.2 225.0,122.3 227.0,118.0 229.0,114.3 231.0,111.4 233.0,109.6 235.0,108.7 237.0,108.3 239.0,107.6 241.0,106.1 243.0,103.9 245.0,101.0 247.0,97.7 249.0,95.0 251.0,93.0 253.0,92.1 255.0,91.6 257.0,91.3 259.0,90.7 261.0,89.3 263.0,87.5 265.0,85.3 267.0,83.1 269.0,81.5 271.0,80.4 273.0,80.0 275.0,79.6 277.0,79.4 279.0,79.1 281.0,78.8 283.0,77.9 285.0,76.9 287.0,75.9 289.0,74.8 291.0,74.1 293.0,73.7 295.0,73.8 297.0,73.9 299.0,74.0 301.0,74.0 303.0,73.7 305.0,73.2 307.0,72.7 309.0,72.2 311.0,71.8 313.0,71.7 315.0,72.2 317.0,72.8 319.0,73.3 321.0,73.9 323.0,74.4 325.0,74.5 327.0,74.7 329.0,74.7 331.0,74.9 333.0,75.1 335.0,75.8 337.0,76.4 339.0,77.0 341.0,76.8 343.0,75.8 345.0,74.5 347.0,72.9 349.0,71.5 351.0,70.1 353.0,69.2 355.0,69.0 357.0,68.7 359.0,68.2 361.0,67.5 363.0,66.6 365.0,66.0 367.0,65.4 369.0,64.7 371.0,64.2 373.0,63.8 375.0,63.7 377.0,64.0 379.0,64.5 381.0,65.4 383.0,65.6 385.0,65.6 387.0,65.1 389.0,64.8 391.0,64.8 393.0,65.4 395.0,66.4 397.0,67.4 399.0,68.6 401.0,69.6 403.0,70.3 405.0,70.6 407.0,70.5 409.0,70.2 411.0,70.4 413.0,70.7 415.0,71.2 417.0,72.0 419.0,73.0 421.0,74.0 423.0,75.1 425.0,75.9 427.0,75.8 429.0,75.5 431.0,75.6 433.0,76.2 435.0,77.1 437.0,78.3 439.0,79.7 441.0,81.0 443.0,82.3 445.0,83.0 447.0,83.6 449.0,83.9 451.0,84.0 453.0,84.4 455.0,84.9 457.0,86.1 459.0,87.5 461.0,88.7 463.0,90.7 465.0,92.2 467.0,93.2 469.0,94.0 471.0,94.8 473.0,95.8 475.0,97.0 477.0,99.0 479.0,101.5 481.0,103.8 483.0,106.1 485.0,108.8 487.0,111.4 489.0,114.9 491.0,117.9 493.0,120.8 495.0,124.3 497.0,127.3 499.0,129.6 501.0,130.9 503.0,132.2 505.0,133.2 507.0,133.7 509.0,134.3 511.0,134.5 513.0,134.7 515.0,134.9 517.0,135.2 519.0,135.6 521.0,136.4 523.0,137.3 525.0,137.8 528.5,137.9" stroke="#bf00bf"/>
<polyline points="61.0,221.2 63.0,221.1 65.0,220.8 67.0,220.6 69.0,220.0 71.0,219.2 73.0,218.6 75.0,217.6 77.0,216.4 79.0,215.1 81.0,213.8 83.0,212.4 85.0,210.9 87.0,209.0 89.0,206.5 91.0,203.8 93.0,201.0 95.0,197.7 97.0,194.2 99.0,190.7 101.0,187.5 103.0,184.8 105.0,182.0 107.0,179.5 109.0,176.9 111.0,174.0 113.0,171.4 115.0,168.6 117.0,166.7 119.0,165.5 121.0,164.7 123.0,163.9 125.0,163.7 127.0,163.5 129.0,163.0 131.0,162.2 133.0,161.0 135.0,160.6 137.0,160.8 139.0,162.0 141.0,164.3 143.0,166.5 145.0,168.9 147.0,171.3 149.0,173.3 151.0,174.9 153.0,176.4 155.0,178.1 157.0,179.8 159.0,181.9 161.0,183.7 163.0,185.4 165.0,186.8 167.0,187.8 169.0,188.3 171.0,188.3 173.0,187.4 175.0,186.2 177.0,185.2 179.0,184.1 181.0,183.0 183.0,182.4 185.0,182.6 187.0,183.1 189.0,183.7 191.0,183.9 193.0,183.5 195.0,182.9 197.0,181.5 199.0,179.6 201.0,176.2 203.0,171.8 205.0,167.7 207.0,163.5 209.0,159.3 211.0,154.8 213.0,150.2 215.0,146.1 217.0,142.4 219.0,138.4 221.0,133.7 223.0,130.3 225.0,127.7 227.0,125.4 229.0,122.4 231.0,118.9 233.0,114.8 235.0,110.6 237.0,107.2 239.0,104.7 241.0,103.2 243.0,102.5 245.0,102.3 247.0,101.9 249.0,101.0 251.0,99.3 253.0,96.9 255.0,94.0 257.0,91.4 259.0,88.9 261.0,87.3 263.0,86.0 265.0,85.1 267.0,84.0 269.0,83.0 271.0,82.0 273.0,80.6 275.0,79.0 277.0,77.5 279.0,76.5 281.0,76.2 283.0,76.4 285.0,76.9 287.0,77.2 289.0,77.4 291.0,76.9 293.0,76.1 295.0,74.8 297.0,73.5 299.0,72.3 301.0,71.6 303.0,71.5 305.0,71.7 307.0,72.4 309.0,72.7 311.0,72.8 313.0,72.7 315.0,72.3 317.0,72.1 319.0,71.8 321.0,71.9 323.0,73.0 325.0,74.2 327.0,75.6 329.0,76.6 331.0,77.1 333.0,77.2 335.0,76.6 337.0,75.8 339.0,75.0 341.0,74.5 343.0,74.0 345.0,73.6 347.0,73.6 349.0,73.7 351.0,73.3 353.0,72.8 355.0,72.1 357.0,70.7 359.0,69.2 361.0,67.8 363.0,66.9 365.0,66.9 367.0,67.1 369.0,67.3 371.0,67.2 373.0,66.6 375.0,65.7 377.0,64.7 379.0,63.7 381.0,63.8 383.0,64.2 385.0,65.1 387.0,66.4 389.0,67.8 391.0,68.8 393.0,69.6 395.0,69.7 397.0,69.2 399.0,68.6 401.0,68.5 403.0,68.6 405.0,69.2 407.0,70.1 409.0,71.1 411.0,72.3 413.0,73.2 415.0,73.3 417.0,73.1 419.0,72.9 421.0,72.9 423.0,73.8 425.0,75.2 427.0,76.3 429.0,77.6 431.0,78.6 433.0,79.2 435.0,79.0 437.0,78.6 439.0,78.1 441.0,77.8 443.0,78.1 445.0,79.3 447.0,80.9 449.0,82.8 451.0,84.5 453.0,85.7 455.0,86.4 457.0,86.8 459.0,87.1 461.0,87.1 463.0,88.3 465.0,90.1 467.0,92.0 469.0,94.1 471.0,96.2 473.0,97.7 475.0,98.6 477.0,99.7 479.0,100.7 481.0,101.9 483.0,103.8 485.0,106.9 487.0,110.8 489.0,116.1 491.0,120.9 493.0,124.7 495.0,127.8 497.0,130.1 499.0,131.0 501.0,131.2 503.0,131.3 505.0,132.1 507.0,133.0 509.0,134.2 511.0,135.5 513.0,136.4 515.0,136.7 517.0,136.7 519.0,136.5 521.0,136.5 523.0,136.8 525.0,137.4 528.5,139.1" stroke="#008000"/>
<polyline points="61.0,219.8 63.0,219.6 65.0,219.3 67.0,219.0 69.0,218.2 71.0,217.5 73.0,216.7 75.0,215.8 77.0,214.3 79.0,212.6 81.0,210.7 83.0,208.8 85.0,206.8 87.0,204.5 89.0,202.1 91.0,199.6 93.0,197.4 95.0,194.5 97.0,191.2 99.0,187.4 101.0,183.8 103.0,180.2 105.0,176.3 107.0,172.6 109.0,169.5 111.0,167.0 113.0,164.9 115.0,163.1 117.0,161.8 119.0,160.9 121.0,159.6 123.0,157.5 125.0,156.4 127.0,155.8 129.0,155.6 131.0,155.6 133.0,155.6 135.0,156.1 137.0,156.7 139.0,157.6 141.0,158.8 143.0,159.8 145.0,161.1 147.0,162.8 149.0,165.3 151.0,167.6 153.0,170.4 155.0,172.8 157.0,175.1 159.0,177.6 161.0,179.3 163.0,180.3 165.0,181.0 167.0,181.4 169.0,181.7 171.0,182.0 173.0,181.7 175.0,181.1 177.0,180.3 179.0,179.6 181.0,178.7 183.0,178.1 185.0,177.7 187.0,177.8 189.0,178.8 191.0,179.2 193.0,179.5 195.0,179.6 197.0,178.5 199.0,176.5 201.0,172.7 203.0,168.0 205.0,162.7 207.0,157.1 209.0,151.1 211.0,145.3 213.0,140.3 215.0,136.2 217.0,132.9 219.0,129.2 221.0,124.7 223.0,120.3 225.0,116.8 227.0,113.4 229.0,110.4 231.0,107.6 233.0,105.3 235.0,103.6 237.0,102.2 239.0,100.7 241.0,98.9 243.0,96.9 245.0,94.5 247.0,92.3 249.0,90.3 251.0,89.0 253.0,88.1 255.0,87.5 257.0,86.9 259.0,85.9 261.0,84.6 263.0,82.8 265.0,80.8 267.0,78.8 269.0,77.0 271.0,76.0 273.0,75.3 275.0,74.5 277.0,73.8 279.0,73.2 281.0,72.7 283.0,72.1 285.0,71.7 287.0,71.1 289.0,70.6 291.0,70.2 293.0,69.9 295.0,69.6 297.0,69.4 299.0,69.3 301.0,69.1 303.0,68.7 305.0,68.5 307.0,68.3 309.0,68.1 311.0,67.9 313.0,68.1 315.0,68.2 317.0,68.9 319.0,69.3 321.0,69.8 323.0,70.4 325.0,71.0 327.0,71.6 329.0,72.1 331.0,72.4 333.0,72.7 335.0,73.0 337.0,73.1 339.0,73.0 341.0,72.7 343.0,71.8 345.0,70.5 347.0,69.5 349.0,68.7 351.0,68.0 353.0,67.4 355.0,67.3 357.0,67.0 359.0,66.3 361.0,65.5 363.0,64.8 365.0,64.5 367.0,64.1 369.0,63.6 371.0,63.3 373.0,62.9 375.0,62.7 377.0,62.4 379.0,62.5 381.0,63.0 383.0,63.1 385.0,63.3 387.0,63.1 389.0,63.4 391.0,63.7 393.0,64.4 395.0,65.3 397.0,65.8 399.0,66.5 401.0,66.9 403.0,67.1 405.0,67.1 407.0,66.8 409.0,66.5 411.0,66.8 413.0,67.2 415.0,67.5 417.0,68.1 419.0,68.6 421.0,69.6 423.0,70.6 425.0,71.6 427.0,71.9 429.0,72.3 431.0,72.9 433.0,73.7 435.0,74.3 437.0,75.2 439.0,76.0 441.0,76.9 443.0,77.6 445.0,78.3 447.0,79.0 449.0,79.5 451.0,80.1 453.0,80.8 455.0,81.3 457.0,82.7 459.0,83.8 461.0,84.6 463.0,86.4 465.0,88.0 467.0,89.0 469.0,90.2 471.0,91.4 473.0,92.5 475.0,93.7 477.0,95.5 479.0,97.4 481.0,99.5 483.0,101.8 485.0,104.5 487.0,107.6 489.0,111.8 491.0,115.7 493.0,119.3 495.0,123.1 497.0,126.6 499.0,128.5 501.0,129.9 503.0,130.8 505.0,131.7 507.0,132.4 509.0,133.0 511.0,133.4 513.0,133.6 515.0,133.9 517.0,134.0 519.0,134.3 521.0,134.8 523.0,135.3 525.0,135.8 528.5,136.3" stroke="#ff0000"/>
<polyline points="61.0,222.6 63.0,222.4 65.0,222.1 67.0,222.1 69.0,221.8 71.0,221.4 73.0,221.2 75.0,220.8 77.0,219.6 79.0,218.3 81.0,216.7 83.0,215.0 85.0,213.2 87.0,211.0 89.0,208.9 91.0,206.7 93.0,204.5 95.0,202.3 97.0,199.4 99.0,196.5 101.0,193.9 103.0,191.3 105.0,188.8 107.0,186.5 109.0,184.5 111.0,182.3 113.0,180.5 115.0,178.7 117.0,177.0 119.0,176.4 121.0,176.3 123.0,176.4 125.0,176.9 127.0,177.4 129.0,178.0 131.0,178.6 133.0,179.5 135.0,180.3 137.0,181.0 139.0,181.4 141.0,181.3 143.0,180.9 145.0,180.4 147.0,180.0 149.0,179.9 151.0,180.2 153.0,181.3 155.0,182.6 157.0,184.3 159.0,186.1 161.0,187.5 163.0,189.2 165.0,190.5 167.0,191.2 169.0,191.8 171.0,191.8 173.0,191.1 175.0,190.3 177.0,189.3 179.0,188.0 181.0,186.4 183.0,185.2 185.0,185.0 187.0,185.3 189.0,185.9 191.0,186.3 193.0,186.9 195.0,187.2 197.0,186.8 199.0,186.3 201.0,183.8 203.0,179.6 205.0,175.6 207.0,171.4 209.0,167.4 211.0,163.2 213.0,158.9 215.0,154.8 217.0,151.4 219.0,146.4 221.0,140.0 223.0,134.8 225.0,130.5 227.0,127.3 229.0,124.6 231.0,122.2 233.0,120.3 235.0,119.2 237.0,118.4 239.0,117.5 241.0,116.4 243.0,114.9 245.0,112.7 247.0,110.0 249.0,107.0 251.0,104.3 253.0,101.8 255.0,99.9 257.0,98.4 259.0,97.2 261.0,96.2 263.0,95.1 265.0,93.8 267.0,92.2 269.0,91.0 271.0,89.8 273.0,88.7 275.0,86.9 277.0,85.1 279.0,83.7 281.0,82.5 283.0,81.3 285.0,80.0 287.0,78.8 289.0,78.0 291.0,77.1 293.0,76.7 295.0,76.3 297.0,76.2 299.0,76.5 301.0,77.1 303.0,77.5 305.0,77.6 307.0,77.8 309.0,77.6 311.0,77.2 313.0,76.8 315.0,76.5 317.0,76.4 319.0,76.4 321.0,76.5 323.0,77.3 325.0,78.0 327.0,78.7 329.0,79.5 331.0,80.1 333.0,80.6 335.0,81.2 337.0,81.4 339.0,81.4 341.0,80.9 343.0,79.9 345.0,78.5 347.0,77.0 349.0,75.1 351.0,73.6 353.0,72.0 355.0,70.8 357.0,69.9 359.0,68.9 361.0,68.1 363.0,68.0 365.0,68.5 367.0,68.8 369.0,69.3 371.0,69.6 373.0,69.8 375.0,70.0 377.0,70.0 379.0,70.1 381.0,70.4 383.0,70.7 385.0,70.8 387.0,70.8 389.0,71.0 391.0,71.2 393.0,71.6 395.0,72.1 397.0,72.8 399.0,73.5 401.0,74.5 403.0,75.5 405.0,76.3 407.0,77.0 409.0,77.3 411.0,77.4 413.0,77.3 415.0,76.8 417.0,76.3 419.0,76.0 421.0,75.8 423.0,76.3 425.0,77.0 427.0,77.6 429.0,78.4 431.0,79.6 433.0,80.7 435.0,81.9 437.0,83.2 439.0,84.5 441.0,85.8 443.0,87.0 445.0,88.1 447.0,89.2 449.0,89.8 451.0,90.0 453.0,90.1 455.0,89.9 457.0,90.3 459.0,90.6 461.0,91.1 463.0,92.7 465.0,94.5 467.0,96.3 469.0,98.1 471.0,99.6 473.0,100.9 475.0,102.1 477.0,103.3 479.0,104.8 481.0,106.1 483.0,107.7 485.0,109.9 487.0,112.5 489.0,116.2 491.0,119.4 493.0,122.5 495.0,125.7 497.0,128.9 499.0,131.0 501.0,132.8 503.0,134.2 505.0,136.0 507.0,137.5 509.0,138.9 511.0,139.7 513.0,140.4 515.0,140.6 517.0,140.7 519.0,140.6 521.0,140.7 523.0,141.0 525.0,141.0 528.5,141.7" stroke="#008000"/>
<polyline points="61.0,220.1 63.0,219.9 65.0,219.8 67.0,219.5 69.0,219.0 71.0,218.4 73.0,217.7 75.0,216.9 77.0,215.6 79.0,214.0 81.0,212.5 83.0,210.9 85.0,208.9 87.0,206.7 89.0,204.3 91.0,201.8 93.0,199.1 95.0,196.2 97.0,193.1 99.0,189.7 101.0,186.6 103.0,183.8 105.0,180.8 107.0,178.0 109.0,175.1 111.0,172.4 113.0,169.7 115.0,167.1 117.0,165.1 119.0,163.9 121.0,162.6 123.0,161.4 125.0,160.7 127.0,160.6 129.0,160.8 131.0,161.0 133.0,161.1 135.0,161.8 137.0,162.9 139.0,164.3 141.0,166.1 143.0,167.7 145.0,169.0 147.0,170.2 149.0,171.7 151.0,173.0 153.0,174.6 155.0,176.2 157.0,177.8 159.0,180.0 161.0,181.8 163.0,183.3 165.0,184.4 167.0,185.4 169.0,185.8 171.0,185.9 173.0,185.4 175.0,184.2 177.0,183.2 179.0,182.0 181.0,180.8 183.0,179.8 185.0,179.3 187.0,179.3 189.0,179.9 191.0,180.0 193.0,179.8 195.0,179.3 197.0,178.2 199.0,176.2 201.0,173.0 203.0,168.8 205.0,164.3 207.0,159.5 209.0,154.6 211.0,149.1 213.0,143.8 215.0,139.0 217.0,134.4 219.0,129.4 221.0,124.4 223.0,120.1 225.0,116.7 227.0,113.7 229.0,110.8 231.0,107.9 233.0,105.2 235.0,102.8 237.0,101.2 239.0,100.4 241.0,99.5 243.0,98.9 245.0,97.9 247.0,96.8 249.0,95.1 251.0,93.3 253.0,91.3 255.0,89.4 257.0,87.7 259.0,86.5 261.0,85.4 263.0,84.5 265.0,83.9 267.0,83.3 269.0,82.6 271.0,82.1 273.0,81.6 275.0,80.7 277.0,79.7 279.0,78.7 281.0,78.4 283.0,77.8 285.0,77.2 287.0,76.4 289.0,75.6 291.0,74.8 293.0,73.7 295.0,72.6 297.0,71.6 299.0,71.0 301.0,70.6 303.0,70.6 305.0,70.8 307.0,71.2 309.0,71.4 311.0,71.4 313.0,71.2 315.0,70.8 317.0,70.6 319.0,70.1 321.0,70.2 323.0,70.7 325.0,71.4 327.0,72.0 329.0,72.9 331.0,73.4 333.0,73.6 335.0,73.6 337.0,73.7 339.0,73.6 341.0,73.6 343.0,73.1 345.0,72.3 347.0,71.8 349.0,71.1 351.0,70.0 353.0,68.9 355.0,67.9 357.0,66.5 359.0,65.0 361.0,63.3 363.0,62.5 365.0,62.3 367.0,62.4 369.0,62.8 371.0,63.0 373.0,63.0 375.0,62.7 377.0,62.5 379.0,62.5 381.0,63.0 383.0,63.5 385.0,64.1 387.0,64.9 389.0,65.5 391.0,66.1 393.0,66.9 395.0,67.4 397.0,67.5 399.0,68.0 401.0,68.6 403.0,69.4 405.0,70.5 407.0,71.5 409.0,72.5 411.0,73.7 413.0,74.5 415.0,74.6 417.0,74.7 419.0,74.4 421.0,74.5 423.0,74.8 425.0,75.5 427.0,75.8 429.0,76.2 431.0,76.8 433.0,77.2 435.0,77.8 437.0,78.1 439.0,78.6 441.0,79.4 443.0,80.5 445.0,81.7 447.0,83.3 449.0,84.6 451.0,85.7 453.0,86.3 455.0,86.5 457.0,86.7 459.0,87.1 461.0,87.1 463.0,88.2 465.0,89.7 467.0,91.1 469.0,92.8 471.0,94.5 473.0,96.0 475.0,97.1 477.0,98.7 479.0,100.1 481.0,101.6 483.0,103.3 485.0,105.8 487.0,108.7 489.0,112.8 491.0,116.3 493.0,119.4 495.0,122.4 497.0,124.9 499.0,126.3 501.0,126.8 503.0,127.5 505.0,128.8 507.0,130.0 509.0,131.6 511.0,132.9 513.0,133.8 515.0,134.3 517.0,134.6 519.0,134.6 521.0,134.8 523.0,135.1 525.0,135.6 528.5,136.4" stroke="#0000ff"/>
<polyline points="61.0,220.0 63.0,219.9 65.0,219.7 67.0,219.5 69.0,218.9 71.0,218.3 73.0,217.7 75.0,217.0 77.0,215.8 79.0,214.2 81.0,212.7 83.0,210.9 85.0,209.0 87.0,207.0 89.0,204.7 91.0,202.2 93.0,199.6 95.0,196.8 97.0,193.4 99.0,189.8 101.0,186.2 103.0,182.8 105.0,179.1 107.0,175.8 109.0,172.6 111.0,169.7 113.0,167.2 115.0,164.9 117.0,163.2 119.0,161.9 121.0,160.8 123.0,159.3 125.0,158.7 127.0,158.9 129.0,159.1 131.0,159.6 133.0,159.7 135.0,160.5 137.0,161.5 139.0,162.4 141.0,163.8 143.0,165.1 145.0,166.5 147.0,168.0 149.0,169.8 151.0,171.6 153.0,173.6 155.0,175.6 157.0,177.3 159.0,179.3 161.0,180.9 163.0,182.0 165.0,182.6 167.0,183.1 169.0,183.2 171.0,183.2 173.0,182.7 175.0,181.7 177.0,180.6 179.0,179.6 181.0,178.8 183.0,178.1 185.0,177.9 187.0,178.1 189.0,179.1 191.0,179.9 193.0,180.2 195.0,180.2 197.0,179.4 199.0,177.8 201.0,174.4 203.0,170.1 205.0,165.4 207.0,160.7 209.0,155.8 211.0,150.9 213.0,146.3 215.0,142.4 217.0,138.9 219.0,134.4 221.0,129.0 223.0,124.3 225.0,120.3 227.0,116.9 229.0,113.7 231.0,110.6 233.0,107.6 235.0,105.0 237.0,103.1 239.0,101.2 241.0,99.4 243.0,97.7 245.0,96.2 247.0,94.7 249.0,93.4 251.0,92.7 253.0,91.8 255.0,91.3 257.0,90.7 259.0,90.0 261.0,89.2 263.0,88.1 265.0,87.0 267.0,85.9 269.0,85.1 271.0,84.5 273.0,83.9 275.0,82.9 277.0,81.9 279.0,80.9 281.0,80.2 283.0,79.4 285.0,78.5 287.0,77.8 289.0,77.0 291.0,76.3 293.0,75.6 295.0,74.8 297.0,74.0 299.0,73.2 301.0,72.8 303.0,72.2 305.0,71.8 307.0,71.7 309.0,71.5 311.0,71.3 313.0,71.2 315.0,71.4 317.0,71.5 319.0,71.8 321.0,72.1 323.0,72.9 325.0,74.0 327.0,74.8 329.0,75.8 331.0,76.6 333.0,77.1 335.0,77.7 337.0,77.8 339.0,77.7 341.0,77.2 343.0,76.4 345.0,75.1 347.0,74.0 349.0,73.1 351.0,72.0 353.0,71.1 355.0,70.3 357.0,69.4 359.0,68.2 361.0,67.0 363.0,66.0 365.0,65.6 367.0,65.4 369.0,65.3 371.0,65.2 373.0,65.2 375.0,65.0 377.0,64.9 379.0,64.9 381.0,65.5 383.0,66.0 385.0,66.7 387.0,67.4 389.0,68.3 391.0,69.3 393.0,70.5 395.0,71.7 397.0,72.4 399.0,73.1 401.0,73.8 403.0,74.3 405.0,74.8 407.0,75.0 409.0,75.3 411.0,76.1 413.0,76.2 415.0,76.2 417.0,76.2 419.0,76.2 421.0,76.0 423.0,76.3 425.0,76.7 427.0,76.8 429.0,77.0 431.0,77.5 433.0,78.1 435.0,78.5 437.0,79.2 439.0,79.6 441.0,80.3 443.0,81.1 445.0,81.9 447.0,83.0 449.0,84.0 451.0,85.1 453.0,86.0 455.0,86.8 457.0,88.0 459.0,88.9 461.0,89.6 463.0,91.2 465.0,92.9 467.0,94.1 469.0,95.7 471.0,97.1 473.0,98.4 475.0,99.3 477.0,100.7 479.0,101.9 481.0,103.2 483.0,104.8 485.0,106.9 487.0,109.5 489.0,113.3 491.0,116.9 493.0,120.2 495.0,123.7 497.0,126.7 499.0,128.6 501.0,129.7 503.0,130.5 505.0,131.6 507.0,132.7 509.0,134.0 511.0,135.0 513.0,136.1 515.0,136.8 517.0,137.5 519.0,138.1 521.0,138.9 523.0,139.6 525.0,140.4 528.5,141.8" stroke="#bf00bf"/>
<polyline points="61.0,219.8 63.0,219.8 65.0,219.5 67.0,219.2 69.0,218.5 71.0,217.8 73.0,217.2 75.0,216.1 77.0,214.9 79.0,213.3 81.0,211.6 83.0,209.9 85.0,208.1 87.0,206.0 89.0,203.9 91.0,201.6 93.0,199.2 95.0,196.4 97.0,193.1 99.0,189.4 101.0,186.0 103.0,182.6 105.0,179.0 107.0,175.4 109.0,172.2 111.0,169.2 113.0,166.3 115.0,163.8 117.0,161.7 119.0,160.5 121.0,159.2 123.0,157.5 125.0,156.8 127.0,156.7 129.0,157.1 131.0,157.5 133.0,157.7 135.0,158.2 137.0,159.0 139.0,160.1 141.0,161.7 143.0,162.9 145.0,164.6 147.0,166.4 149.0,168.4 151.0,170.5 153.0,172.9 155.0,175.2 157.0,177.2 159.0,179.5 161.0,181.2 163.0,182.8 165.0,183.7 167.0,184.3 169.0,184.6 171.0,184.6 173.0,184.1 175.0,183.1 177.0,182.0 179.0,180.8 181.0,179.6 183.0,178.6 185.0,178.3 187.0,178.5 189.0,179.4 191.0,179.7 193.0,180.0 195.0,180.1 197.0,179.1 199.0,177.4 201.0,174.1 203.0,169.7 205.0,165.0 207.0,160.3 209.0,155.3 211.0,150.3 213.0,145.8 215.0,141.8 217.0,138.4 219.0,134.2 221.0,129.3 223.0,125.0 225.0,121.7 227.0,118.9 229.0,116.3 231.0,113.5 233.0,110.7 235.0,108.5 237.0,106.2 239.0,103.8 241.0,101.4 243.0,99.1 245.0,96.6 247.0,94.2 249.0,92.1 251.0,90.4 253.0,89.0 255.0,87.9 257.0,87.1 259.0,86.3 261.0,85.4 263.0,84.4 265.0,83.7 267.0,82.7 269.0,82.0 271.0,81.5 273.0,81.1 275.0,80.2 277.0,79.3 279.0,78.4 281.0,77.8 283.0,77.0 285.0,76.4 287.0,75.8 289.0,75.5 291.0,74.8 293.0,74.3 295.0,73.7 297.0,73.2 299.0,72.7 301.0,72.2 303.0,71.7 305.0,71.4 307.0,71.1 309.0,70.9 311.0,70.5 313.0,70.2 315.0,70.0 317.0,69.9 319.0,69.9 321.0,70.0 323.0,70.7 325.0,71.7 327.0,72.5 329.0,73.7 331.0,74.6 333.0,75.3 335.0,76.0 337.0,76.4 339.0,76.5 341.0,76.2 343.0,75.3 345.0,74.3 347.0,73.3 349.0,72.4 351.0,71.5 353.0,70.6 355.0,69.9 357.0,69.0 359.0,67.9 361.0,66.6 363.0,65.8 365.0,65.4 367.0,65.2 369.0,65.1 371.0,64.8 373.0,64.5 375.0,64.0 377.0,63.6 379.0,63.2 381.0,63.2 383.0,63.3 385.0,63.4 387.0,63.6 389.0,64.4 391.0,65.1 393.0,66.4 395.0,67.6 397.0,68.4 399.0,69.3 401.0,70.1 403.0,70.9 405.0,71.5 407.0,72.1 409.0,72.7 411.0,73.4 413.0,73.8 415.0,74.0 417.0,74.0 419.0,74.1 421.0,74.1 423.0,74.3 425.0,74.8 427.0,75.0 429.0,75.4 431.0,76.1 433.0,76.8 435.0,77.4 437.0,77.8 439.0,78.4 441.0,79.0 443.0,79.5 445.0,80.1 447.0,80.9 449.0,81.7 451.0,82.5 453.0,83.2 455.0,84.0 457.0,84.9 459.0,86.0 461.0,86.6 463.0,88.6 465.0,90.6 467.0,92.2 469.0,94.3 471.0,96.0 473.0,97.6 475.0,99.0 477.0,100.8 479.0,102.3 481.0,103.7 483.0,105.3 485.0,107.4 487.0,110.0 489.0,113.7 491.0,117.4 493.0,120.5 495.0,123.9 497.0,126.8 499.0,128.6 501.0,129.4 503.0,130.1 505.0,131.2 507.0,132.1 509.0,133.2 511.0,134.0 513.0,134.5 515.0,135.0 517.0,135.1 519.0,135.3 521.0,135.7 523.0,136.3 525.0,136.7 528.5,137.9" stroke="#ff0000" stroke-dasharray="4 2"/>
<polyline points="61.0,221.6 63.0,221.5 65.0,221.2 67.0,220.9 69.0,220.5 71.0,220.1 73.0,219.7 75.0,219.1 77.0,217.8 79.0,216.6 81.0,215.2 83.0,213.7 85.0,212.2 87.0,210.4 89.0,208.5 91.0,206.1 93.0,203.5 95.0,200.5 97.0,197.1 99.0,193.4 101.0,190.1 103.0,187.2 105.0,184.5 107.0,182.4 109.0,181.0 111.0,179.4 113.0,178.1 115.0,176.3 117.0,174.6 119.0,173.3 121.0,172.3 123.0,171.6 125.0,171.2 127.0,171.0 129.0,171.2 131.0,171.0 133.0,170.7 135.0,170.6 137.0,170.4 139.0,170.7 141.0,171.4 143.0,172.4 145.0,174.0 147.0,175.9 149.0,177.7 151.0,179.5 153.0,181.1 155.0,182.7 157.0,184.0 159.0,185.4 161.0,186.6 163.0,187.9 165.0,189.0 167.0,189.8 169.0,190.5 171.0,190.7 173.0,190.1 175.0,189.3 177.0,188.3 179.0,186.9 181.0,185.4 183.0,184.4 185.0,184.3 187.0,184.8 189.0,185.7 191.0,186.1 193.0,186.2 195.0,185.9 197.0,184.6 199.0,182.7 201.0,178.9 203.0,174.1 205.0,169.5 207.0,165.0 209.0,161.2 211.0,157.7 213.0,154.5 215.0,152.1 217.0,149.9 219.0,145.8 221.0,140.1 223.0,135.0 225.0,131.1 227.0,128.1 229.0,125.5 231.0,122.9 233.0,119.9 235.0,116.9 237.0,113.9 239.0,111.0 241.0,108.5 243.0,106.4 245.0,104.9 247.0,104.3 249.0,103.8 251.0,103.2 253.0,102.2 255.0,100.7 257.0,98.6 259.0,95.9 261.0,93.0 263.0,90.3 265.0,88.0 267.0,86.1 269.0,84.7 271.0,83.8 273.0,83.0 275.0,81.9 277.0,80.5 279.0,79.5 281.0,78.7 283.0,78.3 285.0,78.0 287.0,77.9 289.0,78.0 291.0,78.0 293.0,77.5 295.0,77.0 297.0,76.2 299.0,74.9 301.0,73.9 303.0,72.9 305.0,72.5 307.0,72.2 309.0,72.5 311.0,72.8 313.0,73.2 315.0,73.6 317.0,73.9 319.0,74.0 321.0,74.1 323.0,74.4 325.0,74.9 327.0,75.7 329.0,76.6 331.0,77.1 333.0,77.2 335.0,77.2 337.0,76.7 339.0,75.7 341.0,74.9 343.0,73.4 345.0,72.2 347.0,71.7 349.0,71.3 351.0,71.4 353.0,71.3 355.0,71.3 357.0,70.8 359.0,69.8 361.0,68.4 363.0,67.1 365.0,66.4 367.0,65.9 369.0,65.8 371.0,65.7 373.0,65.7 375.0,65.3 377.0,65.1 379.0,64.7 381.0,64.9 383.0,65.2 385.0,65.5 387.0,66.2 389.0,67.5 391.0,68.7 393.0,70.3 395.0,71.2 397.0,71.5 399.0,71.5 401.0,71.2 403.0,71.0 405.0,70.6 407.0,70.8 409.0,71.2 411.0,72.2 413.0,73.4 415.0,74.5 417.0,75.3 419.0,75.9 421.0,76.5 423.0,77.2 425.0,78.1 427.0,78.7 429.0,79.5 431.0,80.6 433.0,81.6 435.0,82.2 437.0,82.3 439.0,82.3 441.0,82.1 443.0,82.1 445.0,82.3 447.0,83.1 449.0,84.3 451.0,85.8 453.0,87.4 455.0,88.6 457.0,89.9 459.0,90.9 461.0,91.2 463.0,92.1 465.0,93.0 467.0,93.7 469.0,94.7 471.0,95.9 473.0,97.3 475.0,98.5 477.0,100.1 479.0,101.4 481.0,102.8 483.0,104.4 485.0,106.9 487.0,110.0 489.0,114.7 491.0,119.3 493.0,123.3 495.0,127.1 497.0,130.2 499.0,131.6 501.0,132.2 503.0,132.1 505.0,132.4 507.0,132.6 509.0,133.2 511.0,134.0 513.0,134.6 515.0,135.4 517.0,135.9 519.0,136.3 521.0,136.7 523.0,137.2 525.0,137.5 528.5,138.4" stroke="#008000"/>
<polyline points="61.0,221.9 63.0,221.8 65.0,221.5 67.0,221.2 69.0,220.8 71.0,220.5 73.0,220.1 75.0,219.4 77.0,218.3 79.0,216.8 81.0,215.4 83.0,213.4 85.0,211.5 87.0,209.3 89.0,207.0 91.0,204.6 93.0,201.9 95.0,199.0 97.0,195.9 99.0,192.2 101.0,188.8 103.0,185.7 105.0,182.5 107.0,179.3 109.0,176.7 111.0,174.2 113.0,171.8 115.0,169.5 117.0,167.6 119.0,166.3 121.0,165.0 123.0,163.7 125.0,163.1 127.0,163.2 129.0,163.5 131.0,164.2 133.0,164.6 135.0,165.6 137.0,166.6 139.0,168.0 141.0,169.5 143.0,170.7 145.0,172.1 147.0,173.5 149.0,175.1 151.0,176.8 153.0,178.7 155.0,180.4 157.0,182.3 159.0,184.2 161.0,185.8 163.0,187.3 165.0,188.5 167.0,189.3 169.0,189.9 171.0,190.2 173.0,189.9 175.0,189.3 177.0,188.6 179.0,187.3 181.0,186.1 183.0,184.9 185.0,184.9 187.0,185.4 189.0,185.8 191.0,186.5 193.0,187.1 195.0,187.0 197.0,186.6 199.0,185.6 201.0,182.7 203.0,178.3 205.0,174.1 207.0,170.1 209.0,166.2 211.0,162.6 213.0,159.0 215.0,155.7 217.0,152.3 219.0,146.9 221.0,139.8 223.0,133.2 225.0,127.9 227.0,123.4 229.0,119.4 231.0,115.8 233.0,112.6 235.0,110.3 237.0,108.0 239.0,106.2 241.0,104.3 243.0,102.2 245.0,100.1 247.0,98.0 249.0,96.2 251.0,94.5 253.0,92.9 255.0,91.6 257.0,90.3 259.0,89.0 261.0,87.5 263.0,86.0 265.0,84.7 267.0,83.6 269.0,82.5 271.0,81.8 273.0,81.3 275.0,80.6 277.0,79.6 279.0,78.5 281.0,78.0 283.0,77.2 285.0,76.5 287.0,75.8 289.0,75.3 291.0,74.7 293.0,74.3 295.0,73.8 297.0,73.2 299.0,72.8 301.0,72.7 303.0,72.6 305.0,72.6 307.0,72.7 309.0,72.7 311.0,73.0 313.0,73.1 315.0,73.4 317.0,73.7 319.0,74.0 321.0,74.4 323.0,75.3 325.0,75.9 327.0,76.7 329.0,77.5 331.0,78.2 333.0,78.8 335.0,79.3 337.0,79.6 339.0,79.6 341.0,79.1 343.0,78.2 345.0,77.1 347.0,75.9 349.0,74.7 351.0,73.7 353.0,72.8 355.0,72.1 357.0,71.1 359.0,70.0 361.0,68.5 363.0,67.5 365.0,67.0 367.0,66.7 369.0,66.3 371.0,66.3 373.0,66.2 375.0,65.9 377.0,65.6 379.0,65.4 381.0,65.8 383.0,65.9 385.0,66.0 387.0,66.2 389.0,66.5 391.0,67.0 393.0,67.8 395.0,68.5 397.0,68.8 399.0,69.3 401.0,69.6 403.0,69.9 405.0,70.1 407.0,70.4 409.0,70.7 411.0,71.3 413.0,71.6 415.0,71.8 417.0,71.9 419.0,71.8 421.0,71.9 423.0,72.4 425.0,72.9 427.0,73.2 429.0,73.5 431.0,74.2 433.0,75.1 435.0,76.1 437.0,76.9 439.0,77.8 441.0,78.7 443.0,79.6 445.0,80.9 447.0,82.0 449.0,83.2 451.0,84.2 453.0,85.2 455.0,86.0 457.0,87.4 459.0,88.4 461.0,89.2 463.0,90.8 465.0,92.4 467.0,93.8 469.0,95.6 471.0,97.2 473.0,98.7 475.0,100.3 477.0,102.0 479.0,103.7 481.0,105.5 483.0,107.3 485.0,109.7 487.0,112.6 489.0,116.5 491.0,120.1 493.0,123.4 495.0,126.7 497.0,129.4 499.0,131.2 501.0,132.2 503.0,133.0 505.0,133.9 507.0,134.7 509.0,135.5 511.0,136.3 513.0,136.9 515.0,137.6 517.0,137.8 519.0,138.0 521.0,138.3 523.0,138.4 525.0,138.6 528.5,139.0" stroke="#0000ff"/>
<polyline points="61.0,219.1 63.0,219.0 65.0,218.8 67.0,218.4 69.0,217.8 71.0,217.0 73.0,216.1 75.0,215.2 77.0,213.6 79.0,211.8 81.0,209.8 83.0,207.8 85.0,205.7 87.0,203.5 89.0,201.0 91.0,198.8 93.0,196.2 95.0,193.2 97.0,189.9 99.0,186.0 101.0,182.6 103.0,178.9 105.0,175.1 107.0,171.6 109.0,168.4 111.0,165.8 113.0,163.5 115.0,161.4 117.0,159.7 119.0,158.5 121.0,157.0 123.0,154.9 125.0,154.0 127.0,153.7 129.0,154.0 131.0,154.3 133.0,154.6 135.0,155.1 137.0,155.7 139.0,156.7 141.0,157.9 143.0,158.8 145.0,160.3 147.0,162.0 149.0,164.4 151.0,166.8 153.0,169.3 155.0,171.6 157.0,173.7 159.0,176.0 161.0,177.7 163.0,178.8 165.0,179.4 167.0,180.1 169.0,180.3 171.0,180.6 173.0,180.3 175.0,179.6 177.0,178.8 179.0,178.0 181.0,177.0 183.0,176.3 185.0,175.9 187.0,175.9 189.0,177.0 191.0,177.6 193.0,177.7 195.0,177.6 197.0,176.6 199.0,174.3 201.0,170.5 203.0,165.9 205.0,160.5 207.0,155.0 209.0,149.0 211.0,142.8 213.0,137.7 215.0,132.9 217.0,128.6 219.0,124.0 221.0,118.8 223.0,114.3 225.0,110.7 227.0,107.6 229.0,105.0 231.0,102.7 233.0,100.6 235.0,99.1 237.0,97.7 239.0,96.1 241.0,94.4 243.0,92.3 245.0,90.1 247.0,88.4 249.0,86.8 251.0,85.6 253.0,84.9 255.0,84.1 257.0,83.3 259.0,82.3 261.0,80.7 263.0,79.2 265.0,77.9 267.0,76.4 269.0,75.2 271.0,74.7 273.0,74.2 275.0,73.5 277.0,72.7 279.0,72.0 281.0,71.2 283.0,70.2 285.0,69.6 287.0,68.9 289.0,68.2 291.0,67.8 293.0,67.3 295.0,67.0 297.0,66.7 299.0,66.2 301.0,65.9 303.0,65.6 305.0,65.5 307.0,65.6 309.0,65.6 311.0,65.9 313.0,66.1 315.0,66.2 317.0,66.5 319.0,66.7 321.0,66.8 323.0,67.1 325.0,67.7 327.0,68.5 329.0,69.1 331.0,69.6 333.0,70.2 335.0,70.7 337.0,70.8 339.0,70.9 341.0,70.6 343.0,69.5 345.0,68.2 347.0,67.3 349.0,66.5 351.0,65.7 353.0,65.2 355.0,64.9 357.0,64.2 359.0,63.2 361.0,61.9 363.0,60.9 365.0,60.6 367.0,60.5 369.0,60.3 371.0,60.5 373.0,60.4 375.0,60.4 377.0,60.1 379.0,60.3 381.0,60.5 383.0,60.6 385.0,60.7 387.0,60.6 389.0,60.8 391.0,61.3 393.0,62.5 395.0,63.5 397.0,64.2 399.0,64.7 401.0,65.1 403.0,65.4 405.0,65.4 407.0,65.4 409.0,65.6 411.0,66.2 413.0,66.9 415.0,67.3 417.0,67.8 419.0,68.0 421.0,68.4 423.0,69.0 425.0,69.6 427.0,69.7 429.0,70.0 431.0,70.9 433.0,71.8 435.0,72.9 437.0,73.9 439.0,74.7 441.0,75.6 443.0,76.4 445.0,77.2 447.0,78.1 449.0,78.8 451.0,79.7 453.0,80.3 455.0,81.0 457.0,82.2 459.0,83.0 461.0,83.5 463.0,84.8 465.0,86.1 467.0,87.1 469.0,88.3 471.0,89.7 473.0,91.0 475.0,92.5 477.0,94.5 479.0,96.3 481.0,97.9 483.0,99.9 485.0,102.2 487.0,104.7 489.0,108.9 491.0,112.9 493.0,116.4 495.0,120.4 497.0,123.6 499.0,125.7 501.0,126.7 503.0,127.3 505.0,128.4 507.0,129.0 509.0,129.9 511.0,130.6 513.0,131.3 515.0,131.6 517.0,132.0 519.0,132.0 521.0,132.3 523.0,132.5 525.0,132.7 528.5,132.6" stroke="#ff0000"/>
<polyline points="61.0,219.5 63.0,219.5 65.0,219.1 67.0,218.7 69.0,218.1 71.0,217.4 73.0,216.5 75.0,215.3 77.0,214.0 79.0,212.0 81.0,210.4 83.0,208.3 85.0,206.2 87.0,204.0 89.0,201.6 91.0,199.1 93.0,196.8 95.0,193.6 97.0,190.1 99.0,186.3 101.0,182.6 103.0,178.9 105.0,174.9 107.0,171.3 109.0,168.1 111.0,165.5 113.0,163.3 115.0,161.4 117.0,159.7 119.0,158.9 121.0,157.6 123.0,155.6 125.0,154.8 127.0,154.7 129.0,155.1 131.0,155.4 133.0,155.4 135.0,155.9 137.0,156.4 139.0,157.3 141.0,158.4 143.0,159.5 145.0,160.9 147.0,162.8 149.0,165.2 151.0,167.7 153.0,170.2 155.0,172.6 157.0,174.6 159.0,177.0 161.0,178.5 163.0,179.5 165.0,180.2 167.0,180.7 169.0,181.0 171.0,181.1 173.0,181.0 175.0,180.2 177.0,179.4 179.0,178.6 181.0,177.6 183.0,176.9 185.0,176.7 187.0,176.8 189.0,177.9 191.0,178.7 193.0,178.9 195.0,178.7 197.0,177.7 199.0,175.5 201.0,171.5 203.0,166.9 205.0,161.6 207.0,156.1 209.0,149.9 211.0,144.0 213.0,138.7 215.0,134.2 217.0,129.8 219.0,125.3 221.0,120.3 223.0,115.7 225.0,112.1 227.0,109.1 229.0,106.4 231.0,103.9 233.0,101.4 235.0,99.2 237.0,97.5 239.0,95.5 241.0,93.6 243.0,91.5 245.0,89.2 247.0,87.4 249.0,86.2 251.0,85.3 253.0,84.9 255.0,84.4 257.0,83.8 259.0,83.0 261.0,81.5 263.0,80.0 265.0,78.4 267.0,76.9 269.0,75.6 271.0,74.8 273.0,74.0 275.0,73.1 277.0,72.3 279.0,71.3 281.0,70.6 283.0,70.0 285.0,69.1 287.0,68.6 289.0,68.4 291.0,67.9 293.0,67.7 295.0,67.3 297.0,67.1 299.0,66.7 301.0,66.3 303.0,66.1 305.0,65.9 307.0,65.9 309.0,66.2 311.0,66.3 313.0,66.4 315.0,66.7 317.0,67.2 319.0,67.5 321.0,67.8 323.0,68.5 325.0,69.3 327.0,70.1 329.0,70.8 331.0,71.4 333.0,71.9 335.0,72.2 337.0,72.3 339.0,72.0 341.0,71.6 343.0,70.4 345.0,68.9 347.0,67.8 349.0,67.0 351.0,66.3 353.0,65.7 355.0,65.5 357.0,64.9 359.0,64.0 361.0,62.9 363.0,61.7 365.0,61.6 367.0,61.4 369.0,61.2 371.0,61.1 373.0,60.8 375.0,60.5 377.0,60.3 379.0,60.1 381.0,60.6 383.0,60.6 385.0,60.6 387.0,60.7 389.0,61.0 391.0,61.7 393.0,62.8 395.0,63.9 397.0,64.5 399.0,65.0 401.0,65.1 403.0,65.2 405.0,65.1 407.0,64.9 409.0,64.6 411.0,65.1 413.0,65.5 415.0,66.0 417.0,66.1 419.0,66.6 421.0,66.9 423.0,67.8 425.0,68.6 427.0,68.9 429.0,69.5 431.0,70.5 433.0,71.5 435.0,72.5 437.0,73.7 439.0,74.6 441.0,75.3 443.0,76.0 445.0,76.8 447.0,77.6 449.0,78.5 451.0,79.3 453.0,80.2 455.0,81.1 457.0,82.5 459.0,83.7 461.0,84.2 463.0,85.8 465.0,87.3 467.0,88.2 469.0,89.4 471.0,90.7 473.0,92.0 475.0,93.2 477.0,95.1 479.0,96.7 481.0,98.2 483.0,100.1 485.0,102.5 487.0,105.4 489.0,109.5 491.0,113.5 493.0,117.3 495.0,121.3 497.0,124.7 499.0,126.9 501.0,128.0 503.0,128.8 505.0,129.8 507.0,130.2 509.0,131.0 511.0,131.6 513.0,132.2 515.0,132.5 517.0,132.8 519.0,133.0 521.0,133.1 523.0,133.5 525.0,133.6 528.5,134.0" stroke="#ff0000"/>
<polyline points="61.0,219.3 63.0,219.0 65.0,218.7 67.0,218.4 69.0,217.7 71.0,216.9 73.0,215.9 75.0,214.9 77.0,213.4 79.0,211.7 81.0,210.0 83.0,207.9 85.0,205.8 87.0,203.5 89.0,201.0 91.0,198.6 93.0,196.2 95.0,193.3 97.0,190.2 99.0,186.7 101.0,183.2 103.0,179.6 105.0,175.8 107.0,172.2 109.0,168.6 111.0,165.6 113.0,163.2 115.0,161.1 117.0,159.5 119.0,158.4 121.0,157.2 123.0,155.1 125.0,153.9 127.0,153.1 129.0,153.1 131.0,152.9 133.0,153.0 135.0,153.6 137.0,154.4 139.0,155.8 141.0,157.5 143.0,158.7 145.0,160.2 147.0,161.9 149.0,164.1 151.0,166.3 153.0,168.9 155.0,171.4 157.0,173.8 159.0,176.6 161.0,178.4 163.0,179.8 165.0,180.6 167.0,181.2 169.0,181.5 171.0,181.6 173.0,181.3 175.0,180.4 177.0,179.5 179.0,178.7 181.0,177.8 183.0,177.0 185.0,176.6 187.0,176.4 189.0,177.2 191.0,177.5 193.0,177.6 195.0,177.3 197.0,176.3 199.0,174.1 201.0,170.5 203.0,165.9 205.0,160.7 207.0,154.9 209.0,148.8 211.0,142.2 213.0,136.8 215.0,132.0 217.0,127.6 219.0,123.6 221.0,119.5 223.0,115.5 225.0,112.1 227.0,109.0 229.0,105.9 231.0,103.0 233.0,100.4 235.0,98.4 237.0,96.9 239.0,95.7 241.0,94.4 243.0,92.8 245.0,90.8 247.0,88.5 249.0,86.4 251.0,84.7 253.0,83.4 255.0,82.5 257.0,82.0 259.0,81.5 261.0,80.9 263.0,79.8 265.0,78.7 267.0,77.4 269.0,76.0 271.0,75.4 273.0,74.8 275.0,74.3 277.0,73.8 279.0,73.6 281.0,73.3 283.0,73.0 285.0,72.7 287.0,72.2 289.0,71.4 291.0,70.9 293.0,70.4 295.0,69.9 297.0,69.7 299.0,69.4 301.0,69.4 303.0,69.4 305.0,69.2 307.0,69.2 309.0,69.0 311.0,68.7 313.0,68.5 315.0,68.4 317.0,68.6 319.0,68.8 321.0,69.2 323.0,69.9 325.0,70.5 327.0,71.1 329.0,71.7 331.0,72.0 333.0,72.2 335.0,72.7 337.0,72.8 339.0,73.1 341.0,73.0 343.0,72.5 345.0,71.6 347.0,70.6 349.0,69.7 351.0,68.9 353.0,68.1 355.0,67.6 357.0,66.8 359.0,66.0 361.0,65.0 363.0,64.4 365.0,64.1 367.0,64.0 369.0,63.7 371.0,63.3 373.0,62.9 375.0,62.4 377.0,62.0 379.0,61.9 381.0,62.5 383.0,62.7 385.0,62.9 387.0,62.8 389.0,63.0 391.0,63.3 393.0,63.9 395.0,64.5 397.0,65.0 399.0,65.8 401.0,66.4 403.0,67.2 405.0,67.6 407.0,68.0 409.0,68.3 411.0,68.9 413.0,69.3 415.0,69.4 417.0,69.8 419.0,70.2 421.0,70.9 423.0,71.9 425.0,72.7 427.0,73.1 429.0,73.4 431.0,73.9 433.0,74.5 435.0,74.9 437.0,75.6 439.0,76.4 441.0,77.1 443.0,78.2 445.0,79.2 447.0,80.1 449.0,80.9 451.0,81.4 453.0,81.8 455.0,82.0 457.0,83.0 459.0,83.9 461.0,84.7 463.0,86.5 465.0,88.3 467.0,89.7 469.0,91.2 471.0,92.5 473.0,93.8 475.0,95.0 477.0,96.9 479.0,98.7 481.0,100.8 483.0,103.0 485.0,105.8 487.0,108.8 489.0,112.8 491.0,116.5 493.0,119.6 495.0,123.1 497.0,125.9 499.0,127.8 501.0,128.9 503.0,129.4 505.0,130.6 507.0,131.5 509.0,132.4 511.0,132.9 513.0,133.3 515.0,133.4 517.0,133.5 519.0,133.4 521.0,133.9 523.0,134.1 525.0,134.6 528.5,135.5" stroke="#bf00bf"/>
<polyline points="61.0,220.0 63.0,219.8 65.0,219.8 67.0,219.3 69.0,218.5 71.0,217.5 73.0,216.7 75.0,215.6 77.0,214.2 79.0,212.9 81.0,211.5 83.0,209.9 85.0,208.0 87.0,205.6 89.0,203.0 91.0,200.4 93.0,197.7 95.0,194.8 97.0,191.7 99.0,188.5 101.0,185.5 103.0,182.6 105.0,179.1 107.0,175.6 109.0,171.9 111.0,168.7 113.0,165.7 115.0,163.3 117.0,161.9 119.0,161.5 121.0,161.2 123.0,160.2 125.0,159.8 127.0,159.1 129.0,158.5 131.0,157.5 133.0,156.5 135.0,156.6 137.0,157.3 139.0,158.9 141.0,161.0 143.0,162.8 145.0,164.6 147.0,165.8 149.0,167.2 151.0,168.9 153.0,170.9 155.0,172.8 157.0,175.4 159.0,178.0 161.0,180.3 163.0,181.9 165.0,183.0 167.0,183.6 169.0,183.6 171.0,183.3 173.0,182.8 175.0,181.5 177.0,180.7 179.0,180.1 181.0,179.4 183.0,179.1 185.0,179.0 187.0,179.1 189.0,179.8 191.0,179.9 193.0,179.7 195.0,179.3 197.0,178.3 199.0,176.6 201.0,173.5 203.0,169.4 205.0,164.8 207.0,159.6 209.0,153.7 211.0,147.2 213.0,140.9 215.0,135.3 217.0,130.6 219.0,126.8 221.0,123.4 223.0,120.4 225.0,118.0 227.0,115.2 229.0,111.9 231.0,108.0 233.0,103.8 235.0,100.4 237.0,98.5 239.0,97.4 241.0,96.8 243.0,96.6 245.0,95.6 247.0,93.8 249.0,91.6 251.0,88.8 253.0,86.1 255.0,83.9 257.0,82.7 259.0,82.2 261.0,82.1 263.0,81.7 265.0,81.3 267.0,80.0 269.0,78.3 271.0,76.8 273.0,74.9 275.0,73.2 277.0,71.9 279.0,71.1 281.0,71.1 283.0,71.1 285.0,71.3 287.0,71.3 289.0,70.7 291.0,69.6 293.0,68.3 295.0,67.2 297.0,66.3 299.0,65.9 301.0,66.1 303.0,66.5 305.0,67.1 307.0,67.2 309.0,67.3 311.0,66.5 313.0,65.7 315.0,64.9 317.0,64.5 319.0,64.5 321.0,65.1 323.0,66.4 325.0,68.0 327.0,69.3 329.0,69.9 331.0,70.0 333.0,69.7 335.0,69.5 337.0,68.9 339.0,68.7 341.0,69.0 343.0,68.7 345.0,68.2 347.0,67.8 349.0,67.3 351.0,66.5 353.0,65.3 355.0,64.1 357.0,63.0 359.0,62.0 361.0,61.2 363.0,61.1 365.0,61.9 367.0,62.6 369.0,62.5 371.0,62.2 373.0,61.4 375.0,60.2 377.0,59.3 379.0,58.7 381.0,59.2 383.0,60.0 385.0,61.1 387.0,62.0 389.0,62.7 391.0,63.2 393.0,63.5 395.0,63.8 397.0,63.8 399.0,64.1 401.0,64.8 403.0,65.9 405.0,67.0 407.0,67.9 409.0,68.6 411.0,69.1 413.0,68.9 415.0,68.3 417.0,67.8 419.0,67.6 421.0,68.0 423.0,69.5 425.0,71.4 427.0,72.7 429.0,73.6 431.0,74.4 433.0,74.7 435.0,74.4 437.0,74.3 439.0,74.4 441.0,75.0 443.0,76.1 445.0,77.7 447.0,79.3 449.0,80.3 451.0,80.9 453.0,81.1 455.0,80.7 457.0,80.7 459.0,80.9 461.0,81.3 463.0,83.3 465.0,85.6 467.0,87.9 469.0,90.0 471.0,91.6 473.0,92.4 475.0,92.8 477.0,93.7 479.0,94.6 481.0,96.0 483.0,98.2 485.0,101.5 487.0,105.2 489.0,109.9 491.0,114.3 493.0,117.4 495.0,120.6 497.0,123.3 499.0,124.6 501.0,125.4 503.0,126.2 505.0,127.9 507.0,129.3 509.0,130.7 511.0,131.8 513.0,132.1 515.0,131.8 517.0,131.1 519.0,130.5 521.0,130.5 523.0,130.9 525.0,131.8 528.5,133.6" stroke="#0000ff"/>
<polyline points="61.0,222.3 63.0,222.1 65.0,221.8 67.0,221.5 69.0,221.3 71.0,220.8 73.0,220.6 75.0,220.1 77.0,219.3 79.0,217.9 81.0,216.6 83.0,215.0 85.0,213.2 87.0,211.2 89.0,208.9 91.0,206.4 93.0,204.3 95.0,201.8 97.0,198.9 99.0,196.1 101.0,193.6 103.0,191.3 105.0,189.1 107.0,187.2 109.0,185.4 111.0,183.4 113.0,181.6 115.0,179.6 117.0,178.0 119.0,176.8 121.0,176.3 123.0,175.8 125.0,175.6 127.0,175.2 129.0,175.1 131.0,175.1 133.0,175.3 135.0,176.2 137.0,177.2 139.0,178.2 141.0,179.1 143.0,179.6 145.0,179.9 147.0,180.1 149.0,180.5 151.0,180.9 153.0,181.9 155.0,183.3 157.0,184.8 159.0,186.5 161.0,187.8 163.0,189.3 165.0,190.7 167.0,191.4 169.0,191.8 171.0,191.9 173.0,191.4 175.0,190.4 177.0,189.6 179.0,188.2 181.0,186.8 183.0,185.6 185.0,185.3 187.0,185.3 189.0,185.6 191.0,185.6 193.0,185.7 195.0,185.5 197.0,184.8 199.0,183.8 201.0,181.1 203.0,176.9 205.0,172.9 207.0,168.7 209.0,164.7 211.0,160.7 213.0,156.6 215.0,153.1 217.0,150.2 219.0,145.8 221.0,140.1 223.0,134.9 225.0,130.8 227.0,127.0 229.0,123.7 231.0,120.3 233.0,117.8 235.0,115.8 237.0,114.5 239.0,113.6 241.0,112.7 243.0,111.6 245.0,109.9 247.0,107.7 249.0,104.6 251.0,101.7 253.0,98.5 255.0,95.9 257.0,93.8 259.0,92.0 261.0,90.4 263.0,89.0 265.0,87.7 267.0,86.3 269.0,85.1 271.0,84.0 273.0,83.1 275.0,82.0 277.0,81.0 279.0,80.2 281.0,80.0 283.0,79.4 285.0,78.8 287.0,77.9 289.0,77.2 291.0,76.2 293.0,75.4 295.0,74.6 297.0,74.1 299.0,73.9 301.0,74.0 303.0,74.1 305.0,74.4 307.0,74.7 309.0,74.7 311.0,74.5 313.0,74.0 315.0,73.7 317.0,73.5 319.0,73.5 321.0,73.5 323.0,73.9 325.0,74.7 327.0,75.3 329.0,75.7 331.0,75.9 333.0,76.1 335.0,76.2 337.0,76.3 339.0,76.5 341.0,76.6 343.0,76.3 345.0,75.7 347.0,74.8 349.0,74.0 351.0,72.8 353.0,71.7 355.0,70.6 357.0,69.6 359.0,68.4 361.0,67.3 363.0,66.8 365.0,66.7 367.0,66.9 369.0,66.9 371.0,66.9 373.0,66.7 375.0,66.3 377.0,66.1 379.0,66.0 381.0,66.5 383.0,66.9 385.0,67.3 387.0,67.4 389.0,67.7 391.0,67.7 393.0,68.0 395.0,68.1 397.0,68.3 399.0,68.7 401.0,69.4 403.0,70.3 405.0,71.4 407.0,72.4 409.0,73.2 411.0,74.1 413.0,74.5 415.0,74.8 417.0,74.8 419.0,74.8 421.0,75.3 423.0,76.0 425.0,77.0 427.0,77.3 429.0,77.8 431.0,78.4 433.0,78.7 435.0,79.3 437.0,79.7 439.0,80.5 441.0,81.5 443.0,82.6 445.0,83.8 447.0,85.1 449.0,86.1 451.0,86.8 453.0,87.0 455.0,86.9 457.0,87.2 459.0,87.5 461.0,87.9 463.0,89.2 465.0,91.0 467.0,92.7 469.0,94.4 471.0,96.1 473.0,97.6 475.0,98.9 477.0,100.6 479.0,102.4 481.0,104.3 483.0,106.5 485.0,109.4 487.0,112.6 489.0,116.6 491.0,120.2 493.0,123.1 495.0,126.0 497.0,128.3 499.0,129.8 501.0,130.7 503.0,131.7 505.0,132.9 507.0,134.3 509.0,135.4 511.0,136.3 513.0,136.9 515.0,137.2 517.0,137.2 519.0,137.2 521.0,137.3 523.0,137.7 525.0,138.1 528.5,139.0" stroke="#008000"/>
<polyline points="61.0,221.1 63.0,220.9 65.0,220.7 67.0,220.5 69.0,220.1 71.0,219.4 73.0,219.0 75.0,218.2 77.0,216.8 79.0,215.2 81.0,213.4 83.0,211.6 85.0,209.7 87.0,207.6 89.0,205.5 91.0,203.3 93.0,201.0 95.0,198.1 97.0,194.9 99.0,191.3 101.0,188.1 103.0,185.0 105.0,181.7 107.0,179.2 109.0,176.9 111.0,174.9 113.0,172.9 115.0,170.7 117.0,168.7 119.0,167.1 121.0,165.6 123.0,164.0 125.0,163.2 127.0,163.1 129.0,163.3 131.0,163.9 133.0,164.1 135.0,164.6 137.0,164.8 139.0,165.4 141.0,166.2 143.0,167.0 145.0,168.4 147.0,169.9 149.0,171.8 151.0,173.9 153.0,176.1 155.0,178.0 157.0,179.9 159.0,181.8 161.0,183.3 163.0,184.7 165.0,185.9 167.0,186.8 169.0,187.4 171.0,187.8 173.0,187.7 175.0,186.8 177.0,186.2 179.0,184.7 181.0,183.3 183.0,182.3 185.0,181.8 187.0,182.0 189.0,183.0 191.0,183.3 193.0,183.7 195.0,183.6 197.0,182.7 199.0,181.1 201.0,177.5 203.0,172.8 205.0,168.1 207.0,163.3 209.0,158.8 211.0,154.4 213.0,150.6 215.0,147.0 217.0,143.8 219.0,139.1 221.0,133.2 223.0,127.8 225.0,123.7 227.0,120.7 229.0,118.5 231.0,116.6 233.0,115.0 235.0,113.6 237.0,112.3 239.0,110.7 241.0,108.7 243.0,106.4 245.0,104.2 247.0,102.2 249.0,100.5 251.0,99.3 253.0,97.7 255.0,96.1 257.0,94.3 259.0,92.1 261.0,89.8 263.0,87.6 265.0,85.7 267.0,84.1 269.0,82.8 271.0,82.4 273.0,82.0 275.0,81.0 277.0,80.2 279.0,79.0 281.0,78.3 283.0,77.4 285.0,76.5 287.0,76.0 289.0,75.6 291.0,75.5 293.0,75.4 295.0,75.2 297.0,74.9 299.0,74.6 301.0,74.2 303.0,73.7 305.0,73.5 307.0,73.4 309.0,73.5 311.0,73.7 313.0,73.8 315.0,74.0 317.0,74.0 319.0,73.9 321.0,73.6 323.0,73.7 325.0,74.0 327.0,74.4 329.0,74.8 331.0,75.5 333.0,76.0 335.0,76.6 337.0,76.6 339.0,76.5 341.0,75.9 343.0,74.6 345.0,73.4 347.0,72.3 349.0,71.7 351.0,71.2 353.0,70.7 355.0,70.5 357.0,69.8 359.0,68.9 361.0,67.9 363.0,67.0 365.0,66.5 367.0,66.4 369.0,66.4 371.0,66.7 373.0,67.0 375.0,67.1 377.0,67.1 379.0,67.1 381.0,67.2 383.0,67.0 385.0,66.9 387.0,66.8 389.0,67.0 391.0,67.6 393.0,68.8 395.0,69.5 397.0,70.1 399.0,70.6 401.0,70.8 403.0,70.9 405.0,71.1 407.0,71.3 409.0,71.8 411.0,72.7 413.0,73.8 415.0,74.6 417.0,75.2 419.0,75.9 421.0,76.1 423.0,76.7 425.0,77.2 427.0,77.5 429.0,77.9 431.0,79.1 433.0,80.1 435.0,81.3 437.0,82.2 439.0,82.9 441.0,83.5 443.0,83.9 445.0,84.4 447.0,84.9 449.0,85.5 451.0,86.2 453.0,87.0 455.0,87.7 457.0,88.5 459.0,89.2 461.0,89.5 463.0,90.4 465.0,91.4 467.0,92.3 469.0,93.6 471.0,95.1 473.0,96.8 475.0,98.3 477.0,100.3 479.0,102.3 481.0,104.0 483.0,105.8 485.0,108.3 487.0,110.9 489.0,114.8 491.0,118.7 493.0,122.3 495.0,126.1 497.0,129.1 499.0,131.0 501.0,132.1 503.0,132.8 505.0,133.5 507.0,133.9 509.0,134.8 511.0,135.4 513.0,136.1 515.0,136.6 517.0,137.1 519.0,137.3 521.0,137.5 523.0,137.7 525.0,137.7 528.5,137.8" stroke="#bf00bf"/>
<polyline points="61.0,221.0 63.0,221.0 65.0,220.6 67.0,220.2 69.0,219.6 71.0,219.0 73.0,218.6 75.0,218.0 77.0,216.6 79.0,215.1 81.0,213.4 83.0,211.7 85.0,209.6 87.0,207.3 89.0,204.9 91.0,202.5 93.0,199.9 95.0,197.0 97.0,193.7 99.0,190.2 101.0,186.9 103.0,183.9 105.0,180.4 107.0,177.3 109.0,174.5 111.0,172.1 113.0,169.8 115.0,168.0 117.0,166.4 119.0,165.5 121.0,164.5 123.0,163.5 125.0,162.8 127.0,162.5 129.0,162.6 131.0,162.8 133.0,163.1 135.0,163.7 137.0,164.6 139.0,165.8 141.0,167.0 143.0,168.0 145.0,169.1 147.0,170.4 149.0,171.8 151.0,173.4 153.0,175.4 155.0,177.5 157.0,179.4 159.0,181.6 161.0,183.3 163.0,184.8 165.0,185.9 167.0,186.7 169.0,187.0 171.0,187.4 173.0,187.0 175.0,186.2 177.0,185.6 179.0,184.5 181.0,183.4 183.0,182.3 185.0,182.3 187.0,182.5 189.0,182.9 191.0,183.5 193.0,183.7 195.0,183.6 197.0,182.9 199.0,181.4 201.0,178.3 203.0,173.7 205.0,169.0 207.0,164.1 209.0,158.9 211.0,153.5 213.0,148.4 215.0,143.8 217.0,139.6 219.0,134.2 221.0,128.2 223.0,122.8 225.0,118.1 227.0,114.0 229.0,110.4 231.0,106.7 233.0,103.9 235.0,101.7 237.0,100.4 239.0,99.3 241.0,98.2 243.0,96.8 245.0,95.3 247.0,93.5 249.0,91.7 251.0,90.4 253.0,88.9 255.0,87.8 257.0,87.1 259.0,86.0 261.0,85.2 263.0,83.9 265.0,82.4 267.0,80.9 269.0,79.5 271.0,78.6 273.0,77.5 275.0,76.5 277.0,75.5 279.0,74.8 281.0,74.1 283.0,73.6 285.0,73.0 287.0,72.4 289.0,71.7 291.0,71.2 293.0,70.4 295.0,69.9 297.0,69.6 299.0,69.3 301.0,69.3 303.0,69.5 305.0,69.5 307.0,69.6 309.0,69.7 311.0,69.7 313.0,69.6 315.0,69.7 317.0,70.0 319.0,70.3 321.0,70.7 323.0,71.3 325.0,72.0 327.0,72.9 329.0,73.4 331.0,73.8 333.0,73.9 335.0,73.9 337.0,74.0 339.0,73.7 341.0,73.5 343.0,72.6 345.0,71.5 347.0,70.2 349.0,69.4 351.0,68.3 353.0,67.4 355.0,66.6 357.0,65.8 359.0,64.9 361.0,63.8 363.0,63.0 365.0,63.1 367.0,63.1 369.0,63.0 371.0,62.8 373.0,62.6 375.0,62.4 377.0,62.2 379.0,62.2 381.0,62.7 383.0,63.1 385.0,63.4 387.0,63.8 389.0,64.0 391.0,64.4 393.0,65.1 395.0,65.7 397.0,66.0 399.0,66.5 401.0,66.9 403.0,67.4 405.0,67.8 407.0,67.9 409.0,68.0 411.0,68.6 413.0,68.8 415.0,68.9 417.0,69.0 419.0,69.2 421.0,69.6 423.0,70.6 425.0,71.6 427.0,72.2 429.0,72.7 431.0,73.6 433.0,74.5 435.0,75.3 437.0,76.1 439.0,77.1 441.0,78.0 443.0,79.2 445.0,80.3 447.0,81.5 449.0,82.4 451.0,83.3 453.0,83.9 455.0,84.2 457.0,85.1 459.0,85.8 461.0,86.3 463.0,87.9 465.0,89.5 467.0,90.7 469.0,92.0 471.0,93.2 473.0,94.2 475.0,95.3 477.0,96.7 479.0,98.4 481.0,100.1 483.0,102.1 485.0,104.7 487.0,107.7 489.0,111.8 491.0,115.7 493.0,119.1 495.0,122.5 497.0,125.7 499.0,127.6 501.0,128.7 503.0,129.6 505.0,130.8 507.0,131.8 509.0,132.9 511.0,133.7 513.0,134.0 515.0,134.4 517.0,134.4 519.0,134.5 521.0,134.7 523.0,135.1 525.0,135.4 528.5,135.7" stroke="#ff0000"/>
<polyline points="61.0,219.8 63.0,219.6 65.0,219.3 67.0,218.9 69.0,218.1 71.0,217.4 73.0,216.7 75.0,215.7 77.0,214.4 79.0,212.7 81.0,211.0 83.0,208.9 85.0,206.7 87.0,204.2 89.0,201.6 91.0,199.2 93.0,197.0 95.0,194.4 97.0,191.7 99.0,188.4 101.0,185.3 103.0,181.7 105.0,177.8 107.0,173.9 109.0,170.1 111.0,166.9 113.0,164.6 115.0,162.8 117.0,161.7 119.0,161.2 121.0,160.5 123.0,158.9 125.0,157.7 127.0,156.8 129.0,156.7 131.0,156.6 133.0,157.0 135.0,158.1 137.0,159.4 139.0,161.0 141.0,162.3 143.0,162.9 145.0,163.4 147.0,164.0 149.0,165.4 151.0,167.2 153.0,169.7 155.0,172.3 157.0,174.9 159.0,178.0 161.0,180.1 163.0,181.5 165.0,182.6 167.0,183.1 169.0,183.0 171.0,183.0 173.0,182.7 175.0,181.8 177.0,181.0 179.0,180.3 181.0,179.3 183.0,178.4 185.0,177.8 187.0,177.5 189.0,177.9 191.0,178.2 193.0,178.2 195.0,178.4 197.0,177.5 199.0,176.0 201.0,172.8 203.0,168.4 205.0,163.2 207.0,157.3 209.0,150.6 211.0,143.6 213.0,137.6 215.0,132.6 217.0,128.8 219.0,125.4 221.0,121.6 223.0,118.0 225.0,114.5 227.0,111.0 229.0,107.7 231.0,104.5 233.0,102.1 235.0,100.9 237.0,100.5 239.0,100.4 241.0,99.5 243.0,98.0 245.0,95.2 247.0,91.7 249.0,88.1 251.0,85.1 253.0,83.0 255.0,82.4 257.0,82.2 259.0,82.4 261.0,82.5 263.0,81.8 265.0,80.6 267.0,78.7 269.0,76.7 271.0,75.0 273.0,73.8 275.0,72.6 277.0,72.0 279.0,71.5 281.0,71.0 283.0,70.4 285.0,69.4 287.0,68.4 289.0,67.2 291.0,65.8 293.0,65.0 295.0,64.7 297.0,64.6 299.0,64.9 301.0,65.5 303.0,66.0 305.0,66.2 307.0,65.8 309.0,65.3 311.0,64.5 313.0,63.9 315.0,63.5 317.0,63.6 319.0,63.9 321.0,64.7 323.0,65.6 325.0,66.5 327.0,67.2 329.0,67.5 331.0,67.5 333.0,67.6 335.0,67.9 337.0,68.3 339.0,68.9 341.0,69.4 343.0,68.8 345.0,67.7 347.0,66.2 349.0,65.0 351.0,63.5 353.0,62.2 355.0,61.4 357.0,60.7 359.0,60.1 361.0,59.6 363.0,59.7 365.0,60.2 367.0,60.3 369.0,60.1 371.0,59.7 373.0,59.0 375.0,58.5 377.0,58.0 379.0,58.2 381.0,59.2 383.0,59.9 385.0,60.1 387.0,60.0 389.0,59.7 391.0,59.5 393.0,60.0 395.0,60.7 397.0,61.4 399.0,62.9 401.0,64.1 403.0,65.5 405.0,66.4 407.0,66.8 409.0,66.5 411.0,66.4 413.0,66.1 415.0,65.7 417.0,65.8 419.0,66.1 421.0,66.9 423.0,68.2 425.0,69.7 427.0,70.0 429.0,70.4 431.0,70.8 433.0,71.1 435.0,71.8 437.0,72.8 439.0,74.1 441.0,75.8 443.0,77.3 445.0,78.6 447.0,79.4 449.0,79.7 451.0,79.5 453.0,79.1 455.0,78.7 457.0,79.2 459.0,79.9 461.0,81.0 463.0,83.3 465.0,85.6 467.0,87.2 469.0,88.5 471.0,89.5 473.0,90.2 475.0,91.0 477.0,92.3 479.0,94.2 481.0,96.3 483.0,98.5 485.0,101.3 487.0,104.2 489.0,107.8 491.0,111.2 493.0,113.9 495.0,117.4 497.0,120.7 499.0,122.9 501.0,124.6 503.0,126.0 505.0,128.0 507.0,129.3 509.0,130.4 511.0,130.8 513.0,130.8 515.0,130.6 517.0,130.3 519.0,129.9 521.0,130.4 523.0,131.2 525.0,131.7 528.5,132.5" stroke="#bf00bf" stroke-dasharray="4 2"/>
<polyline points="61.0,219.8 63.0,219.6 65.0,219.4 67.0,219.3 69.0,218.6 71.0,217.9 73.0,217.0 75.0,216.0 77.0,214.3 79.0,212.6 81.0,210.7 83.0,208.6 85.0,206.9 87.0,204.9 89.0,202.6 91.0,200.3 93.0,197.7 95.0,194.6 97.0,191.0 99.0,187.1 101.0,183.7 103.0,180.4 105.0,177.1 107.0,174.4 109.0,171.6 111.0,169.4 113.0,167.1 115.0,164.7 117.0,162.4 119.0,160.9 121.0,159.4 123.0,157.7 125.0,157.4 127.0,157.8 129.0,158.5 131.0,158.9 133.0,158.7 135.0,158.6 137.0,158.3 139.0,158.7 141.0,159.7 143.0,160.7 145.0,162.5 147.0,164.6 149.0,167.0 151.0,169.3 153.0,171.5 155.0,173.5 157.0,175.4 159.0,177.7 161.0,179.4 163.0,180.9 165.0,182.2 167.0,183.3 169.0,184.2 171.0,184.6 173.0,184.5 175.0,183.5 177.0,182.3 179.0,181.1 181.0,179.7 183.0,178.7 185.0,178.4 187.0,178.5 189.0,179.6 191.0,180.1 193.0,180.1 195.0,179.8 197.0,178.5 199.0,175.9 201.0,171.9 203.0,167.4 205.0,162.3 207.0,157.3 209.0,152.0 211.0,146.8 213.0,142.0 215.0,137.5 217.0,132.7 219.0,127.2 221.0,121.8 223.0,117.3 225.0,114.3 227.0,112.5 229.0,111.2 231.0,109.8 233.0,108.2 235.0,106.4 237.0,104.4 239.0,102.0 241.0,99.6 243.0,97.6 245.0,96.2 247.0,95.0 249.0,94.5 251.0,93.8 253.0,92.8 255.0,91.3 257.0,89.2 259.0,86.9 261.0,84.6 263.0,82.7 265.0,81.3 267.0,80.1 269.0,79.5 271.0,79.0 273.0,78.5 275.0,77.5 277.0,76.3 279.0,74.7 281.0,73.6 283.0,72.4 285.0,71.9 287.0,71.7 289.0,71.7 291.0,71.6 293.0,71.7 295.0,71.3 297.0,70.8 299.0,70.0 301.0,69.2 303.0,68.9 305.0,69.0 307.0,69.2 309.0,69.9 311.0,70.3 313.0,70.7 315.0,70.9 317.0,70.8 319.0,70.6 321.0,70.1 323.0,70.2 325.0,70.6 327.0,71.4 329.0,72.4 331.0,73.2 333.0,73.8 335.0,74.3 337.0,74.1 339.0,73.3 341.0,72.4 343.0,71.2 345.0,69.8 347.0,69.0 349.0,68.6 351.0,68.4 353.0,68.1 355.0,67.9 357.0,67.1 359.0,65.9 361.0,64.2 363.0,63.1 365.0,62.7 367.0,62.9 369.0,63.3 371.0,63.8 373.0,64.3 375.0,64.4 377.0,64.2 379.0,63.7 381.0,63.5 383.0,63.2 385.0,63.0 387.0,63.1 389.0,63.8 391.0,64.8 393.0,66.0 395.0,66.9 397.0,67.2 399.0,67.2 401.0,67.2 403.0,66.8 405.0,66.7 407.0,66.9 409.0,67.3 411.0,68.8 413.0,69.7 415.0,70.5 417.0,70.9 419.0,70.8 421.0,70.7 423.0,70.9 425.0,71.5 427.0,71.9 429.0,72.9 431.0,74.3 433.0,76.0 435.0,77.4 437.0,78.3 439.0,78.7 441.0,78.9 443.0,79.3 445.0,79.7 447.0,80.4 449.0,81.6 451.0,82.7 453.0,83.9 455.0,84.7 457.0,85.7 459.0,86.1 461.0,85.9 463.0,86.6 465.0,87.5 467.0,88.3 469.0,90.0 471.0,91.9 473.0,93.7 475.0,95.6 477.0,97.5 479.0,99.1 481.0,100.4 483.0,101.8 485.0,103.8 487.0,106.7 489.0,111.0 491.0,115.4 493.0,119.7 495.0,123.9 497.0,127.1 499.0,128.9 501.0,129.6 503.0,130.0 505.0,130.6 507.0,131.2 509.0,132.2 511.0,133.3 513.0,134.2 515.0,135.0 517.0,135.3 519.0,135.3 521.0,135.1 523.0,134.9 525.0,134.6 528.5,134.6" stroke="#0000ff"/>
<polyline points="61.0,219.0 63.0,218.9 65.0,218.7 67.0,218.4 69.0,217.5 71.0,216.6 73.0,215.7 75.0,214.4 77.0,212.8 79.0,211.0 81.0,209.2 83.0,207.3 85.0,205.6 87.0,203.4 89.0,201.3 91.0,198.8 93.0,196.3 95.0,193.1 97.0,189.7 99.0,185.8 101.0,182.3 103.0,178.9 105.0,175.4 107.0,172.0 109.0,168.8 111.0,166.1 113.0,163.6 115.0,161.3 117.0,159.7 119.0,158.8 121.0,157.6 123.0,156.1 125.0,155.7 127.0,155.8 129.0,155.9 131.0,155.8 133.0,155.2 135.0,155.1 137.0,155.0 139.0,155.6 141.0,157.0 143.0,158.6 145.0,160.3 147.0,162.5 149.0,164.9 151.0,167.3 153.0,169.7 155.0,171.9 157.0,174.0 159.0,176.3 161.0,178.1 163.0,179.3 165.0,180.1 167.0,180.8 169.0,181.2 171.0,181.1 173.0,180.9 175.0,179.7 177.0,178.5 179.0,177.5 181.0,176.7 183.0,176.2 185.0,176.0 187.0,176.1 189.0,177.1 191.0,177.7 193.0,177.6 195.0,177.2 197.0,175.7 199.0,173.2 201.0,169.1 203.0,164.5 205.0,159.3 207.0,153.6 209.0,147.3 211.0,140.4 213.0,134.5 215.0,128.7 217.0,123.3 219.0,118.6 221.0,114.0 223.0,110.5 225.0,108.0 227.0,106.1 229.0,103.9 231.0,101.5 233.0,98.6 235.0,96.0 237.0,93.6 239.0,91.3 241.0,89.2 243.0,87.6 245.0,86.2 247.0,85.2 249.0,84.3 251.0,83.5 253.0,82.7 255.0,81.7 257.0,80.8 259.0,79.7 261.0,78.6 263.0,77.6 265.0,76.7 267.0,75.7 269.0,74.7 271.0,73.8 273.0,73.0 275.0,71.9 277.0,70.7 279.0,69.7 281.0,68.9 283.0,68.5 285.0,68.5 287.0,68.3 289.0,68.4 291.0,68.1 293.0,67.7 295.0,67.1 297.0,66.3 299.0,65.6 301.0,65.2 303.0,64.7 305.0,64.9 307.0,65.0 309.0,65.3 311.0,65.2 313.0,65.0 315.0,64.9 317.0,64.7 319.0,64.6 321.0,64.5 323.0,65.2 325.0,66.2 327.0,67.2 329.0,68.4 331.0,68.9 333.0,69.2 335.0,69.4 337.0,68.8 339.0,68.3 341.0,67.8 343.0,66.6 345.0,65.5 347.0,64.8 349.0,64.6 351.0,64.2 353.0,63.7 355.0,63.4 357.0,62.7 359.0,61.5 361.0,60.1 363.0,59.2 365.0,59.3 367.0,59.6 369.0,59.8 371.0,59.8 373.0,59.4 375.0,58.8 377.0,58.1 379.0,57.4 381.0,57.4 383.0,57.5 385.0,57.6 387.0,58.1 389.0,58.8 391.0,59.9 393.0,61.2 395.0,62.3 397.0,62.7 399.0,62.9 401.0,63.1 403.0,63.2 405.0,63.3 407.0,63.6 409.0,64.0 411.0,65.1 413.0,65.8 415.0,65.9 417.0,66.0 419.0,66.1 421.0,66.3 423.0,67.2 425.0,68.4 427.0,69.1 429.0,70.1 431.0,71.4 433.0,72.6 435.0,73.3 437.0,73.8 439.0,74.0 441.0,74.3 443.0,74.6 445.0,75.2 447.0,76.1 449.0,77.1 451.0,78.1 453.0,78.9 455.0,79.7 457.0,80.5 459.0,81.2 461.0,81.3 463.0,82.6 465.0,84.3 467.0,85.6 469.0,87.4 471.0,88.9 473.0,90.5 475.0,91.8 477.0,93.1 479.0,94.6 481.0,95.7 483.0,97.3 485.0,99.6 487.0,102.6 489.0,107.5 491.0,112.0 493.0,115.9 495.0,119.8 497.0,123.2 499.0,125.0 501.0,125.7 503.0,126.0 505.0,126.8 507.0,127.6 509.0,128.6 511.0,129.5 513.0,130.2 515.0,130.3 517.0,130.3 519.0,130.0 521.0,129.9 523.0,130.2 525.0,130.3 528.5,131.1" stroke="#bf00bf"/>
<polyline points="61.0,221.5 63.0,221.4 65.0,221.2 67.0,220.8 69.0,220.3 71.0,219.9 73.0,219.5 75.0,218.7 77.0,217.5 79.0,216.0 81.0,214.3 83.0,212.5 85.0,210.5 87.0,208.3 89.0,206.0 91.0,203.7 93.0,201.4 95.0,198.7 97.0,195.6 99.0,192.2 101.0,189.0 103.0,185.9 105.0,182.6 107.0,179.6 109.0,176.9 111.0,174.3 113.0,171.9 115.0,169.8 117.0,167.8 119.0,166.5 121.0,165.3 123.0,164.1 125.0,163.3 127.0,163.2 129.0,163.4 131.0,163.6 133.0,164.0 135.0,164.7 137.0,165.4 139.0,166.3 141.0,167.3 143.0,168.0 145.0,169.1 147.0,170.3 149.0,172.0 151.0,173.8 153.0,175.8 155.0,178.0 157.0,180.1 159.0,182.5 161.0,184.3 163.0,186.1 165.0,187.3 167.0,188.2 169.0,188.9 171.0,189.1 173.0,188.8 175.0,187.9 177.0,187.2 179.0,185.9 181.0,184.5 183.0,183.4 185.0,183.0 187.0,183.4 189.0,184.1 191.0,184.4 193.0,184.9 195.0,185.0 197.0,184.4 199.0,183.1 201.0,180.4 203.0,175.9 205.0,171.4 207.0,166.8 209.0,162.6 211.0,158.4 213.0,154.2 215.0,150.7 217.0,147.4 219.0,142.9 221.0,136.9 223.0,131.8 225.0,127.5 227.0,123.9 229.0,121.0 231.0,118.5 233.0,116.3 235.0,114.7 237.0,113.4 239.0,112.0 241.0,110.1 243.0,107.8 245.0,105.4 247.0,102.7 249.0,100.1 251.0,97.8 253.0,95.8 255.0,93.9 257.0,92.5 259.0,90.9 261.0,89.4 263.0,87.7 265.0,86.1 267.0,84.4 269.0,83.1 271.0,82.1 273.0,81.2 275.0,80.1 277.0,79.0 279.0,77.8 281.0,77.3 283.0,76.1 285.0,75.3 287.0,74.5 289.0,73.9 291.0,73.4 293.0,73.0 295.0,72.6 297.0,72.4 299.0,72.3 301.0,72.3 303.0,72.5 305.0,72.3 307.0,72.3 309.0,72.3 311.0,72.2 313.0,71.8 315.0,71.8 317.0,71.9 319.0,71.9 321.0,72.0 323.0,72.4 325.0,73.1 327.0,74.0 329.0,74.6 331.0,75.3 333.0,75.7 335.0,76.3 337.0,76.6 339.0,76.6 341.0,76.4 343.0,75.4 345.0,74.3 347.0,73.1 349.0,72.1 351.0,71.1 353.0,70.3 355.0,69.7 357.0,69.0 359.0,68.1 361.0,67.3 363.0,66.8 365.0,66.5 367.0,66.5 369.0,66.6 371.0,66.6 373.0,66.5 375.0,66.4 377.0,66.4 379.0,66.3 381.0,66.5 383.0,66.5 385.0,66.4 387.0,66.4 389.0,66.4 391.0,66.8 393.0,67.4 395.0,68.2 397.0,68.7 399.0,69.3 401.0,69.9 403.0,70.5 405.0,71.0 407.0,71.4 409.0,71.6 411.0,72.1 413.0,72.4 415.0,72.6 417.0,72.6 419.0,72.9 421.0,73.1 423.0,73.7 425.0,74.4 427.0,74.8 429.0,75.3 431.0,76.0 433.0,77.0 435.0,77.8 437.0,78.8 439.0,79.7 441.0,80.7 443.0,81.5 445.0,82.3 447.0,83.1 449.0,83.7 451.0,84.2 453.0,84.6 455.0,84.8 457.0,85.7 459.0,86.4 461.0,87.0 463.0,88.4 465.0,90.2 467.0,91.7 469.0,93.2 471.0,94.9 473.0,96.4 475.0,97.9 477.0,99.7 479.0,101.6 481.0,103.2 483.0,105.1 485.0,107.6 487.0,110.4 489.0,114.3 491.0,117.9 493.0,121.4 495.0,124.8 497.0,127.8 499.0,130.0 501.0,131.2 503.0,132.2 505.0,133.3 507.0,134.2 509.0,135.2 511.0,135.9 513.0,136.5 515.0,136.9 517.0,136.9 519.0,136.9 521.0,137.1 523.0,137.4 525.0,137.6 528.5,138.1" stroke="#bf00bf"/>
<polyline points="61.0,221.8 63.0,221.6 65.0,221.5 67.0,221.2 69.0,220.7 71.0,220.3 73.0,219.9 75.0,219.1 77.0,217.9 79.0,216.2 81.0,214.6 83.0,212.8 85.0,210.9 87.0,208.9 89.0,206.9 91.0,204.7 93.0,202.4 95.0,199.8 97.0,196.7 99.0,193.1 101.0,189.9 103.0,186.8 105.0,183.8 107.0,181.2 109.0,179.0 111.0,176.6 113.0,174.6 115.0,172.4 117.0,170.3 119.0,168.9 121.0,167.7 123.0,166.4 125.0,166.0 127.0,166.1 129.0,166.7 131.0,167.1 133.0,167.4 135.0,167.8 137.0,168.2 139.0,168.5 141.0,169.1 143.0,169.8 145.0,170.7 147.0,172.0 149.0,173.8 151.0,175.7 153.0,177.7 155.0,179.5 157.0,181.5 159.0,183.3 161.0,184.9 163.0,186.4 165.0,187.6 167.0,188.4 169.0,189.2 171.0,189.6 173.0,189.4 175.0,188.5 177.0,187.6 179.0,186.1 181.0,184.7 183.0,183.6 185.0,183.4 187.0,183.8 189.0,184.6 191.0,185.2 193.0,185.9 195.0,185.8 197.0,185.1 199.0,184.0 201.0,180.8 203.0,176.1 205.0,171.7 207.0,167.1 209.0,163.1 211.0,159.0 213.0,155.4 215.0,151.9 217.0,148.7 219.0,144.0 221.0,137.9 223.0,132.4 225.0,128.4 227.0,125.5 229.0,123.3 231.0,121.3 233.0,120.0 235.0,118.5 237.0,117.1 239.0,115.1 241.0,112.8 243.0,110.5 245.0,108.0 247.0,105.7 249.0,103.7 251.0,102.1 253.0,100.5 255.0,98.8 257.0,97.0 259.0,94.9 261.0,92.9 263.0,90.7 265.0,88.9 267.0,87.3 269.0,86.1 271.0,85.3 273.0,84.5 275.0,83.4 277.0,82.2 279.0,80.7 281.0,79.7 283.0,78.6 285.0,77.7 287.0,77.0 289.0,76.8 291.0,76.7 293.0,76.6 295.0,76.3 297.0,76.3 299.0,76.1 301.0,75.7 303.0,75.5 305.0,75.1 307.0,74.9 309.0,75.0 311.0,74.9 313.0,74.9 315.0,74.8 317.0,74.9 319.0,74.7 321.0,74.6 323.0,74.7 325.0,75.1 327.0,75.8 329.0,76.5 331.0,77.3 333.0,77.9 335.0,78.5 337.0,78.7 339.0,78.4 341.0,77.8 343.0,76.4 345.0,75.0 347.0,73.6 349.0,72.8 351.0,72.0 353.0,71.4 355.0,71.2 357.0,70.4 359.0,69.8 361.0,68.8 363.0,68.0 365.0,68.0 367.0,67.8 369.0,67.8 371.0,68.2 373.0,68.3 375.0,68.3 377.0,68.3 379.0,68.1 381.0,68.0 383.0,67.8 385.0,67.4 387.0,67.5 389.0,67.9 391.0,68.3 393.0,69.3 395.0,70.4 397.0,71.0 399.0,71.5 401.0,71.9 403.0,72.2 405.0,72.5 407.0,72.7 409.0,72.8 411.0,73.6 413.0,74.3 415.0,74.8 417.0,75.2 419.0,75.4 421.0,75.7 423.0,76.0 425.0,76.6 427.0,77.0 429.0,77.6 431.0,78.8 433.0,80.1 435.0,81.4 437.0,82.2 439.0,83.2 441.0,83.7 443.0,84.0 445.0,84.4 447.0,84.8 449.0,85.4 451.0,86.0 453.0,86.5 455.0,87.2 457.0,88.0 459.0,88.7 461.0,89.0 463.0,90.2 465.0,91.7 467.0,92.8 469.0,94.4 471.0,96.1 473.0,97.8 475.0,99.5 477.0,101.3 479.0,103.1 481.0,104.7 483.0,106.2 485.0,108.5 487.0,111.0 489.0,115.2 491.0,118.9 493.0,122.7 495.0,126.6 497.0,129.7 499.0,131.8 501.0,133.1 503.0,133.8 505.0,134.9 507.0,135.6 509.0,136.3 511.0,137.0 513.0,137.7 515.0,138.3 517.0,138.6 519.0,138.8 521.0,139.0 523.0,139.1 525.0,139.0 528.5,139.7" stroke="#008000"/>
<polyline points="61.0,221.7 63.0,221.6 65.0,221.3 67.0,221.0 69.0,220.5 71.0,220.1 73.0,219.5 75.0,218.7 77.0,217.6 79.0,216.1 81.0,214.8 83.0,213.2 85.0,211.6 87.0,209.5 89.0,207.3 91.0,204.8 93.0,202.0 95.0,199.4 97.0,196.1 99.0,192.7 101.0,189.7 103.0,187.1 105.0,184.2 107.0,181.8 109.0,179.1 111.0,176.4 113.0,173.5 115.0,170.9 117.0,168.8 119.0,167.7 121.0,166.9 123.0,166.3 125.0,165.9 127.0,165.9 129.0,165.8 131.0,165.5 133.0,165.0 135.0,165.2 137.0,165.9 139.0,167.1 141.0,168.9 143.0,170.5 145.0,172.3 147.0,173.9 149.0,175.2 151.0,176.4 153.0,178.0 155.0,179.6 157.0,181.3 159.0,183.3 161.0,185.2 163.0,187.1 165.0,188.4 167.0,189.4 169.0,189.7 171.0,189.7 173.0,189.0 175.0,187.8 177.0,186.8 179.0,185.5 181.0,184.3 183.0,183.5 185.0,183.6 187.0,183.9 189.0,184.4 191.0,184.9 193.0,184.9 195.0,184.6 197.0,183.7 199.0,182.3 201.0,179.6 203.0,175.4 205.0,171.5 207.0,167.5 209.0,163.5 211.0,159.2 213.0,154.8 215.0,150.8 217.0,147.3 219.0,142.8 221.0,137.5 223.0,133.3 225.0,130.1 227.0,127.4 229.0,124.6 231.0,121.4 233.0,117.9 235.0,114.9 237.0,112.4 239.0,110.4 241.0,109.1 243.0,108.1 245.0,107.0 247.0,105.7 249.0,103.6 251.0,101.2 253.0,98.5 255.0,96.0 257.0,93.6 259.0,91.8 261.0,90.6 263.0,89.5 265.0,88.7 267.0,87.7 269.0,86.8 271.0,85.8 273.0,84.8 275.0,83.3 277.0,81.6 279.0,80.6 281.0,80.3 283.0,80.1 285.0,79.8 287.0,79.6 289.0,79.4 291.0,78.9 293.0,78.0 295.0,77.1 297.0,76.3 299.0,75.5 301.0,75.2 303.0,75.5 305.0,75.7 307.0,75.8 309.0,76.0 311.0,75.7 313.0,75.2 315.0,74.6 317.0,74.2 319.0,73.9 321.0,74.1 323.0,74.8 325.0,76.0 327.0,77.1 329.0,77.9 331.0,78.6 333.0,78.8 335.0,78.7 337.0,78.5 339.0,78.0 341.0,77.6 343.0,76.9 345.0,76.5 347.0,75.8 349.0,75.3 351.0,74.3 353.0,73.3 355.0,72.4 357.0,71.1 359.0,69.8 361.0,68.7 363.0,68.1 365.0,68.2 367.0,68.5 369.0,68.7 371.0,68.7 373.0,68.5 375.0,67.7 377.0,66.9 379.0,66.4 381.0,66.4 383.0,66.7 385.0,67.3 387.0,68.2 389.0,69.0 391.0,69.8 393.0,70.3 395.0,70.7 397.0,70.6 399.0,70.7 401.0,71.2 403.0,71.9 405.0,73.0 407.0,73.9 409.0,75.1 411.0,76.2 413.0,76.6 415.0,76.5 417.0,76.2 419.0,75.9 421.0,76.0 423.0,76.7 425.0,77.8 427.0,78.8 429.0,79.7 431.0,80.7 433.0,81.3 435.0,81.5 437.0,81.6 439.0,81.7 441.0,82.1 443.0,82.7 445.0,83.7 447.0,85.2 449.0,86.4 451.0,87.5 453.0,88.2 455.0,88.4 457.0,88.7 459.0,88.8 461.0,89.0 463.0,90.5 465.0,92.4 467.0,94.5 469.0,96.7 471.0,98.7 473.0,100.1 475.0,101.4 477.0,102.4 479.0,103.5 481.0,104.8 483.0,106.7 485.0,109.5 487.0,112.9 489.0,117.2 491.0,121.4 493.0,124.7 495.0,127.6 497.0,129.9 499.0,131.1 501.0,131.9 503.0,132.4 505.0,133.6 507.0,134.8 509.0,136.1 511.0,137.2 513.0,138.1 515.0,138.3 517.0,138.3 519.0,138.1 521.0,138.1 523.0,138.5 525.0,138.9 528.5,140.5" stroke="#ff0000"/>
<polyline points="61.0,219.4 63.0,219.2 65.0,219.0 67.0,218.6 69.0,218.0 71.0,217.2 73.0,216.6 75.0,215.6 77.0,214.1 79.0,212.4 81.0,210.3 83.0,208.5 85.0,206.3 87.0,204.2 89.0,201.7 91.0,199.7 93.0,197.1 95.0,194.2 97.0,190.8 99.0,186.7 101.0,182.8 103.0,179.0 105.0,174.9 107.0,171.4 109.0,168.3 111.0,166.1 113.0,164.4 115.0,163.2 117.0,162.0 119.0,161.4 121.0,160.0 123.0,158.5 125.0,157.6 127.0,157.4 129.0,157.7 131.0,158.3 133.0,158.7 135.0,159.4 137.0,159.8 139.0,160.4 141.0,161.3 143.0,161.8 145.0,162.9 147.0,164.5 149.0,166.8 151.0,169.2 153.0,171.8 155.0,174.3 157.0,176.3 159.0,178.5 161.0,179.8 163.0,180.8 165.0,181.3 167.0,181.7 169.0,182.0 171.0,182.1 173.0,182.0 175.0,181.3 177.0,180.5 179.0,179.4 181.0,178.4 183.0,177.5 185.0,177.0 187.0,176.9 189.0,177.9 191.0,178.7 193.0,178.9 195.0,178.8 197.0,177.8 199.0,175.5 201.0,171.4 203.0,166.4 205.0,160.8 207.0,154.5 209.0,148.2 211.0,141.8 213.0,136.6 215.0,132.1 217.0,128.1 219.0,123.6 221.0,118.7 223.0,113.8 225.0,109.7 227.0,106.3 229.0,103.2 231.0,100.7 233.0,98.6 235.0,96.9 237.0,95.5 239.0,93.8 241.0,91.6 243.0,89.1 245.0,87.0 247.0,85.1 249.0,84.1 251.0,84.1 253.0,84.5 255.0,85.1 257.0,85.2 259.0,84.7 261.0,83.4 263.0,81.6 265.0,79.5 267.0,77.5 269.0,75.9 271.0,74.8 273.0,74.2 275.0,73.5 277.0,72.7 279.0,71.7 281.0,70.9 283.0,70.0 285.0,69.1 287.0,68.4 289.0,67.8 291.0,67.4 293.0,67.2 295.0,66.8 297.0,66.7 299.0,66.3 301.0,65.8 303.0,65.1 305.0,64.6 307.0,64.2 309.0,64.2 311.0,64.3 313.0,64.7 315.0,65.3 317.0,66.0 319.0,66.5 321.0,66.9 323.0,67.6 325.0,68.2 327.0,68.8 329.0,69.2 331.0,69.6 333.0,70.0 335.0,70.4 337.0,70.3 339.0,70.0 341.0,69.4 343.0,67.9 345.0,66.0 347.0,64.5 349.0,63.7 351.0,62.9 353.0,62.4 355.0,62.4 357.0,62.0 359.0,61.3 361.0,60.2 363.0,59.1 365.0,58.8 367.0,58.4 369.0,58.0 371.0,57.8 373.0,57.5 375.0,57.3 377.0,57.3 379.0,57.5 381.0,58.1 383.0,58.4 385.0,58.6 387.0,58.6 389.0,59.0 391.0,59.9 393.0,61.3 395.0,62.8 397.0,63.8 399.0,64.5 401.0,65.1 403.0,64.9 405.0,64.4 407.0,63.8 409.0,63.0 411.0,63.6 413.0,63.9 415.0,64.4 417.0,65.0 419.0,65.7 421.0,66.4 423.0,67.3 425.0,68.2 427.0,68.4 429.0,68.8 431.0,69.6 433.0,70.9 435.0,72.1 437.0,73.2 439.0,74.3 441.0,75.3 443.0,76.0 445.0,76.5 447.0,77.0 449.0,77.7 451.0,78.5 453.0,79.3 455.0,80.5 457.0,82.1 459.0,83.7 461.0,84.7 463.0,86.1 465.0,87.4 467.0,87.9 469.0,88.6 471.0,89.5 473.0,90.2 475.0,91.2 477.0,92.9 479.0,94.6 481.0,96.3 483.0,97.8 485.0,100.0 487.0,102.4 489.0,106.3 491.0,110.4 493.0,114.0 495.0,118.3 497.0,122.2 499.0,124.5 501.0,125.8 503.0,126.4 505.0,127.3 507.0,127.7 509.0,128.3 511.0,128.6 513.0,129.0 515.0,129.3 517.0,129.6 519.0,129.8 521.0,130.3 523.0,130.7 525.0,130.8 528.5,130.7" stroke="#ff0000"/>
<polyline points="61.0,220.2 63.0,220.0 65.0,219.6 67.0,219.4 69.0,218.5 71.0,217.6 73.0,216.9 75.0,215.9 77.0,214.6 79.0,213.0 81.0,211.2 83.0,209.4 85.0,207.2 87.0,205.0 89.0,202.5 91.0,199.9 93.0,197.4 95.0,194.6 97.0,191.6 99.0,188.1 101.0,185.0 103.0,181.6 105.0,178.0 107.0,174.5 109.0,171.1 111.0,168.1 113.0,165.7 115.0,163.9 117.0,162.5 119.0,161.9 121.0,160.8 123.0,159.3 125.0,158.4 127.0,157.7 129.0,157.3 131.0,157.1 133.0,157.0 135.0,157.6 137.0,158.4 139.0,159.9 141.0,161.4 143.0,162.6 145.0,163.9 147.0,165.3 149.0,166.9 151.0,168.9 153.0,171.3 155.0,173.8 157.0,176.1 159.0,178.9 161.0,181.2 163.0,182.7 165.0,183.6 167.0,184.4 169.0,184.7 171.0,184.7 173.0,184.3 175.0,183.5 177.0,182.8 179.0,181.9 181.0,181.0 183.0,180.1 185.0,179.7 187.0,179.8 189.0,180.2 191.0,180.5 193.0,180.4 195.0,180.2 197.0,179.3 199.0,177.5 201.0,174.1 203.0,169.7 205.0,164.7 207.0,159.1 209.0,153.0 211.0,146.8 213.0,141.1 215.0,136.3 217.0,132.1 219.0,128.3 221.0,124.0 223.0,120.2 225.0,116.6 227.0,113.4 229.0,110.1 231.0,106.7 233.0,103.9 235.0,101.9 237.0,100.7 239.0,99.7 241.0,98.8 243.0,97.6 245.0,95.7 247.0,93.3 249.0,90.7 251.0,88.3 253.0,86.6 255.0,85.3 257.0,84.6 259.0,84.0 261.0,83.4 263.0,82.3 265.0,81.1 267.0,79.5 269.0,78.0 271.0,76.6 273.0,75.7 275.0,74.7 277.0,74.0 279.0,73.7 281.0,73.7 283.0,73.3 285.0,73.1 287.0,72.6 289.0,72.0 291.0,71.3 293.0,70.8 295.0,70.3 297.0,70.2 299.0,70.3 301.0,70.3 303.0,70.7 305.0,70.8 307.0,70.7 309.0,70.5 311.0,70.1 313.0,69.7 315.0,69.6 317.0,69.6 319.0,70.0 321.0,70.5 323.0,71.3 325.0,72.1 327.0,72.8 329.0,73.2 331.0,73.4 333.0,73.3 335.0,73.5 337.0,73.3 339.0,73.5 341.0,73.4 343.0,72.9 345.0,71.9 347.0,71.0 349.0,70.0 351.0,68.9 353.0,67.9 355.0,67.2 357.0,66.5 359.0,65.8 361.0,65.0 363.0,64.7 365.0,64.8 367.0,64.8 369.0,64.5 371.0,64.1 373.0,63.4 375.0,62.8 377.0,62.3 379.0,62.1 381.0,62.6 383.0,63.0 385.0,63.2 387.0,63.4 389.0,63.3 391.0,63.3 393.0,63.7 395.0,64.1 397.0,64.5 399.0,65.0 401.0,65.7 403.0,66.6 405.0,67.1 407.0,67.7 409.0,67.6 411.0,68.1 413.0,68.2 415.0,68.2 417.0,68.4 419.0,68.8 421.0,69.7 423.0,71.0 425.0,72.3 427.0,73.1 429.0,73.6 431.0,74.4 433.0,74.9 435.0,75.4 437.0,76.1 439.0,76.9 441.0,78.0 443.0,79.1 445.0,80.4 447.0,81.3 449.0,82.1 451.0,82.4 453.0,82.7 455.0,82.6 457.0,83.3 459.0,84.0 461.0,84.8 463.0,86.7 465.0,88.7 467.0,90.4 469.0,92.0 471.0,93.3 473.0,94.4 475.0,95.3 477.0,96.8 479.0,98.6 481.0,100.6 483.0,103.2 485.0,106.0 487.0,109.4 489.0,113.6 491.0,117.4 493.0,120.4 495.0,123.7 497.0,126.5 499.0,128.2 501.0,129.4 503.0,130.4 505.0,131.8 507.0,132.7 509.0,133.5 511.0,134.0 513.0,134.1 515.0,134.0 517.0,133.7 519.0,133.5 521.0,133.7 523.0,134.0 525.0,134.5 528.5,135.3" stroke="#0000ff"/>
<polyline points="61.0,219.4 63.0,219.3 65.0,219.1 67.0,218.7 69.0,218.0 71.0,217.2 73.0,216.4 75.0,215.4 77.0,213.8 79.0,212.2 81.0,210.2 83.0,208.2 85.0,206.1 87.0,203.9 89.0,201.5 91.0,199.2 93.0,196.7 95.0,194.0 97.0,190.7 99.0,187.2 101.0,183.7 103.0,180.3 105.0,176.8 107.0,173.4 109.0,170.3 111.0,167.7 113.0,165.4 115.0,163.5 117.0,161.8 119.0,160.6 121.0,159.3 123.0,157.5 125.0,156.5 127.0,156.0 129.0,156.0 131.0,156.2 133.0,156.2 135.0,157.0 137.0,157.6 139.0,158.8 141.0,160.1 143.0,161.2 145.0,162.6 147.0,164.3 149.0,166.3 151.0,168.4 153.0,170.9 155.0,173.3 157.0,175.5 159.0,177.9 161.0,179.6 163.0,181.0 165.0,181.8 167.0,182.4 169.0,182.9 171.0,183.0 173.0,182.8 175.0,182.1 177.0,181.3 179.0,180.3 181.0,179.4 183.0,178.5 185.0,178.0 187.0,178.2 189.0,178.8 191.0,179.2 193.0,179.1 195.0,179.1 197.0,178.0 199.0,175.9 201.0,172.0 203.0,167.6 205.0,162.4 207.0,156.9 209.0,150.7 211.0,144.8 213.0,139.5 215.0,134.6 217.0,130.5 219.0,126.1 221.0,121.4 223.0,116.8 225.0,113.3 227.0,110.2 229.0,107.5 231.0,104.9 233.0,102.8 235.0,101.1 237.0,99.7 239.0,98.7 241.0,97.2 243.0,95.7 245.0,93.8 247.0,91.8 249.0,90.1 251.0,88.6 253.0,87.5 255.0,86.5 257.0,85.6 259.0,84.7 261.0,83.6 263.0,82.2 265.0,80.8 267.0,79.6 269.0,78.4 271.0,77.7 273.0,77.4 275.0,76.9 277.0,76.3 279.0,75.7 281.0,75.4 283.0,75.0 285.0,74.5 287.0,74.0 289.0,73.6 291.0,73.2 293.0,72.9 295.0,72.6 297.0,72.4 299.0,72.2 301.0,72.1 303.0,71.8 305.0,71.7 307.0,71.7 309.0,71.5 311.0,71.4 313.0,71.4 315.0,71.4 317.0,71.4 319.0,71.6 321.0,71.7 323.0,72.1 325.0,72.5 327.0,73.0 329.0,73.5 331.0,73.7 333.0,73.9 335.0,74.3 337.0,74.4 339.0,74.4 341.0,74.2 343.0,73.2 345.0,72.1 347.0,71.1 349.0,70.2 351.0,69.5 353.0,68.7 355.0,68.2 357.0,67.4 359.0,66.6 361.0,65.4 363.0,64.7 365.0,64.3 367.0,64.3 369.0,64.0 371.0,63.8 373.0,63.6 375.0,63.4 377.0,63.1 379.0,63.0 381.0,63.3 383.0,63.3 385.0,63.5 387.0,63.4 389.0,63.5 391.0,64.0 393.0,64.5 395.0,65.2 397.0,65.9 399.0,66.5 401.0,66.9 403.0,67.5 405.0,68.0 407.0,68.2 409.0,68.6 411.0,69.5 413.0,70.2 415.0,70.6 417.0,71.2 419.0,71.7 421.0,72.4 423.0,73.3 425.0,74.2 427.0,74.5 429.0,75.2 431.0,75.8 433.0,76.6 435.0,77.4 437.0,78.3 439.0,79.2 441.0,79.9 443.0,80.8 445.0,81.7 447.0,82.4 449.0,83.1 451.0,83.7 453.0,84.3 455.0,84.7 457.0,85.5 459.0,86.3 461.0,86.9 463.0,88.3 465.0,89.8 467.0,91.1 469.0,92.3 471.0,93.7 473.0,95.0 475.0,96.5 477.0,98.3 479.0,100.1 481.0,102.1 483.0,104.3 485.0,106.9 487.0,109.7 489.0,113.8 491.0,117.3 493.0,120.7 495.0,124.1 497.0,127.1 499.0,128.9 501.0,130.0 503.0,130.7 505.0,131.6 507.0,132.4 509.0,133.0 511.0,133.6 513.0,134.1 515.0,134.3 517.0,134.4 519.0,134.5 521.0,134.7 523.0,135.2 525.0,135.4 528.5,135.7" stroke="#bf00bf"/>
<polyline points="61.0,219.7 63.0,219.8 65.0,219.6 67.0,219.3 69.0,218.6 71.0,217.9 73.0,217.1 75.0,215.9 77.0,214.3 79.0,212.5 81.0,210.6 83.0,208.8 85.0,206.9 87.0,204.8 89.0,202.3 91.0,199.8 93.0,197.0 95.0,194.0 97.0,190.6 99.0,187.0 101.0,183.5 103.0,180.5 105.0,177.1 107.0,174.2 109.0,171.2 111.0,168.5 113.0,166.1 115.0,163.7 117.0,162.0 119.0,161.1 121.0,160.2 123.0,159.2 125.0,159.0 127.0,159.1 129.0,159.4 131.0,159.3 133.0,159.0 135.0,158.7 137.0,158.9 139.0,159.6 141.0,160.8 143.0,161.9 145.0,163.6 147.0,165.2 149.0,167.0 151.0,168.9 153.0,171.1 155.0,172.9 157.0,175.0 159.0,177.6 161.0,179.6 163.0,181.3 165.0,182.6 167.0,183.7 169.0,184.4 171.0,184.7 173.0,184.2 175.0,183.2 177.0,182.2 179.0,181.1 181.0,179.9 183.0,179.2 185.0,179.0 187.0,179.3 189.0,180.1 191.0,180.5 193.0,180.6 195.0,180.1 197.0,178.8 199.0,176.6 201.0,173.0 203.0,168.6 205.0,163.7 207.0,158.6 209.0,153.1 211.0,147.4 213.0,141.8 215.0,136.5 217.0,131.9 219.0,126.9 221.0,122.1 223.0,118.3 225.0,115.8 227.0,113.6 229.0,111.6 231.0,109.5 233.0,107.2 235.0,104.9 237.0,103.1 239.0,101.5 241.0,100.2 243.0,99.3 245.0,98.4 247.0,97.5 249.0,96.5 251.0,95.3 253.0,93.9 255.0,92.1 257.0,90.5 259.0,88.7 261.0,87.3 263.0,85.8 265.0,84.7 267.0,83.4 269.0,82.4 271.0,81.3 273.0,80.2 275.0,78.8 277.0,77.2 279.0,76.1 281.0,75.2 283.0,74.5 285.0,74.2 287.0,73.9 289.0,73.8 291.0,73.4 293.0,73.0 295.0,72.4 297.0,71.8 299.0,71.4 301.0,71.2 303.0,71.2 305.0,71.6 307.0,72.0 309.0,72.3 311.0,72.6 313.0,72.5 315.0,72.5 317.0,72.4 319.0,72.3 321.0,72.2 323.0,72.8 325.0,73.7 327.0,74.5 329.0,75.4 331.0,75.8 333.0,75.9 335.0,76.0 337.0,75.6 339.0,74.8 341.0,74.0 343.0,73.0 345.0,71.7 347.0,70.9 349.0,70.3 351.0,69.5 353.0,68.7 355.0,68.1 357.0,67.1 359.0,65.9 361.0,64.7 363.0,64.1 365.0,64.3 367.0,64.6 369.0,65.0 371.0,65.4 373.0,65.5 375.0,65.2 377.0,64.8 379.0,64.5 381.0,64.6 383.0,64.8 385.0,65.2 387.0,65.7 389.0,66.3 391.0,67.0 393.0,67.8 395.0,68.2 397.0,68.2 399.0,68.2 401.0,68.1 403.0,68.3 405.0,68.6 407.0,69.1 409.0,69.4 411.0,70.2 413.0,70.8 415.0,70.8 417.0,70.8 419.0,70.7 421.0,70.9 423.0,71.4 425.0,72.6 427.0,73.5 429.0,74.6 431.0,76.1 433.0,77.2 435.0,78.2 437.0,78.9 439.0,79.5 441.0,80.0 443.0,80.7 445.0,81.8 447.0,82.9 449.0,84.1 451.0,85.1 453.0,85.9 455.0,86.3 457.0,86.8 459.0,87.0 461.0,87.0 463.0,88.1 465.0,89.4 467.0,90.7 469.0,92.3 471.0,93.9 473.0,95.4 475.0,96.6 477.0,97.9 479.0,99.3 481.0,100.5 483.0,102.2 485.0,104.8 487.0,107.9 489.0,112.5 491.0,116.9 493.0,120.7 495.0,124.5 497.0,127.6 499.0,129.2 501.0,130.3 503.0,131.0 505.0,132.1 507.0,133.1 509.0,134.5 511.0,135.4 513.0,136.1 515.0,136.4 517.0,136.5 519.0,136.3 521.0,136.1 523.0,136.2 525.0,136.1 528.5,136.7" stroke="#ff0000"/>
<polyline points="61.0,219.4 63.0,219.1 65.0,219.0 67.0,218.7 69.0,217.9 71.0,217.2 73.0,216.2 75.0,215.0 77.0,213.3 79.0,211.5 81.0,209.6 83.0,207.6 85.0,205.4 87.0,203.2 89.0,200.8 91.0,198.3 93.0,195.7 95.0,192.6 97.0,189.4 99.0,185.6 101.0,182.1 103.0,178.6 105.0,175.1 107.0,171.8 109.0,168.5 111.0,165.7 113.0,163.2 115.0,160.9 117.0,159.1 119.0,158.3 121.0,156.9 123.0,155.4 125.0,154.8 127.0,154.8 129.0,155.3 131.0,155.4 133.0,155.5 135.0,155.8 137.0,156.4 139.0,157.5 141.0,159.0 143.0,160.2 145.0,161.8 147.0,163.7 149.0,166.0 151.0,168.1 153.0,170.5 155.0,172.6 157.0,174.7 159.0,177.3 161.0,179.4 163.0,181.0 165.0,182.1 167.0,183.2 169.0,183.8 171.0,184.0 173.0,183.8 175.0,182.8 177.0,181.8 179.0,180.6 181.0,179.5 183.0,178.5 185.0,178.1 187.0,177.9 189.0,178.7 191.0,179.0 193.0,179.0 195.0,178.5 197.0,177.1 199.0,174.7 201.0,170.8 203.0,166.2 205.0,161.1 207.0,155.2 209.0,149.1 211.0,142.4 213.0,136.5 215.0,130.7 217.0,125.2 219.0,119.6 221.0,114.6 223.0,110.2 225.0,107.0 227.0,104.2 229.0,101.5 231.0,99.1 233.0,96.5 235.0,94.5 237.0,92.6 239.0,90.9 241.0,89.3 243.0,87.7 245.0,86.0 247.0,84.6 249.0,83.1 251.0,81.8 253.0,80.6 255.0,79.6 257.0,78.7 259.0,77.7 261.0,76.7 263.0,75.9 265.0,74.9 267.0,74.1 269.0,73.2 271.0,72.7 273.0,72.1 275.0,71.4 277.0,70.5 279.0,69.7 281.0,68.9 283.0,68.5 285.0,68.2 287.0,68.0 289.0,67.6 291.0,67.3 293.0,66.9 295.0,66.5 297.0,66.0 299.0,65.7 301.0,65.5 303.0,65.8 305.0,65.9 307.0,66.4 309.0,66.8 311.0,67.0 313.0,67.1 315.0,67.1 317.0,67.0 319.0,66.9 321.0,66.9 323.0,67.5 325.0,68.1 327.0,68.9 329.0,69.7 331.0,70.4 333.0,70.7 335.0,70.8 337.0,70.7 339.0,70.4 341.0,70.1 343.0,68.9 345.0,67.8 347.0,66.9 349.0,66.4 351.0,65.6 353.0,64.9 355.0,64.3 357.0,63.1 359.0,62.1 361.0,60.5 363.0,59.6 365.0,59.5 367.0,59.7 369.0,59.9 371.0,60.0 373.0,59.7 375.0,59.2 377.0,58.7 379.0,58.2 381.0,58.4 383.0,58.3 385.0,58.2 387.0,58.3 389.0,58.5 391.0,59.2 393.0,60.0 395.0,60.8 397.0,61.1 399.0,61.5 401.0,61.7 403.0,62.0 405.0,62.4 407.0,62.7 409.0,63.0 411.0,64.1 413.0,64.8 415.0,65.2 417.0,65.3 419.0,65.4 421.0,65.7 423.0,66.5 425.0,67.6 427.0,68.2 429.0,69.0 431.0,70.3 433.0,71.6 435.0,72.7 437.0,73.7 439.0,74.6 441.0,75.3 443.0,76.3 445.0,77.2 447.0,78.3 449.0,79.5 451.0,80.5 453.0,81.3 455.0,81.8 457.0,82.6 459.0,83.1 461.0,83.3 463.0,84.6 465.0,86.2 467.0,87.2 469.0,89.1 471.0,90.7 473.0,92.3 475.0,93.6 477.0,95.4 479.0,96.9 481.0,98.4 483.0,100.2 485.0,102.5 487.0,105.4 489.0,109.7 491.0,113.6 493.0,117.2 495.0,120.9 497.0,124.0 499.0,125.7 501.0,126.5 503.0,126.9 505.0,127.9 507.0,128.6 509.0,129.8 511.0,130.6 513.0,131.2 515.0,131.3 517.0,131.2 519.0,130.9 521.0,130.7 523.0,130.5 525.0,130.5 528.5,130.5" stroke="#bf00bf"/>
<polyline points="61.0,221.1 63.0,220.9 65.0,220.7 67.0,220.5 69.0,220.1 71.0,219.4 73.0,219.0 75.0,218.4 77.0,217.1 79.0,215.7 81.0,214.4 83.0,212.7 85.0,210.7 87.0,208.6 89.0,206.2 91.0,203.7 93.0,201.5 95.0,198.6 97.0,195.4 99.0,192.2 101.0,189.2 103.0,186.1 105.0,183.0 107.0,180.0 109.0,177.2 111.0,174.4 113.0,172.1 115.0,169.9 117.0,168.3 119.0,167.5 121.0,166.7 123.0,165.8 125.0,165.5 127.0,165.2 129.0,165.2 131.0,165.4 133.0,165.5 135.0,166.4 137.0,167.4 139.0,168.5 141.0,169.9 143.0,171.0 145.0,171.8 147.0,172.7 149.0,173.9 151.0,175.2 153.0,176.8 155.0,178.7 157.0,180.4 159.0,182.6 161.0,184.4 163.0,185.9 165.0,187.0 167.0,187.8 169.0,188.0 171.0,188.1 173.0,187.3 175.0,186.3 177.0,185.4 179.0,184.1 181.0,182.8 183.0,181.8 185.0,181.4 187.0,181.5 189.0,181.9 191.0,182.4 193.0,182.5 195.0,182.4 197.0,181.6 199.0,180.1 201.0,177.2 203.0,173.0 205.0,168.7 207.0,164.2 209.0,159.5 211.0,155.3 213.0,151.2 215.0,147.9 217.0,145.3 219.0,142.1 221.0,137.6 223.0,133.4 225.0,130.1 227.0,127.4 229.0,124.6 231.0,121.8 233.0,119.3 235.0,117.5 237.0,115.8 239.0,114.8 241.0,113.7 243.0,112.4 245.0,110.9 247.0,108.9 249.0,106.5 251.0,104.4 253.0,102.2 255.0,100.4 257.0,98.9 259.0,97.5 261.0,96.2 263.0,94.9 265.0,93.3 267.0,91.7 269.0,90.2 271.0,88.9 273.0,87.8 275.0,86.5 277.0,85.1 279.0,84.0 281.0,83.4 283.0,82.4 285.0,81.5 287.0,80.7 289.0,79.7 291.0,78.8 293.0,77.9 295.0,77.1 297.0,76.4 299.0,76.0 301.0,75.8 303.0,75.8 305.0,75.7 307.0,75.4 309.0,75.4 311.0,75.0 313.0,74.5 315.0,74.3 317.0,74.3 319.0,74.3 321.0,74.8 323.0,75.5 325.0,76.2 327.0,77.0 329.0,77.6 331.0,78.1 333.0,78.2 335.0,78.5 337.0,78.4 339.0,78.2 341.0,78.1 343.0,77.4 345.0,76.2 347.0,75.0 349.0,73.9 351.0,72.5 353.0,71.4 355.0,70.3 357.0,69.4 359.0,68.3 361.0,67.3 363.0,66.8 365.0,66.7 367.0,66.8 369.0,66.9 371.0,66.7 373.0,66.6 375.0,66.3 377.0,66.1 379.0,66.2 381.0,66.9 383.0,67.7 385.0,68.2 387.0,69.0 389.0,69.7 391.0,70.2 393.0,70.9 395.0,71.5 397.0,72.1 399.0,72.7 401.0,73.5 403.0,74.5 405.0,75.4 407.0,76.0 409.0,76.5 411.0,77.0 413.0,77.1 415.0,77.0 417.0,76.8 419.0,76.9 421.0,77.3 423.0,77.9 425.0,78.7 427.0,79.3 429.0,79.7 431.0,80.3 433.0,80.8 435.0,81.2 437.0,81.6 439.0,82.2 441.0,83.2 443.0,84.2 445.0,85.3 447.0,86.4 449.0,87.4 451.0,88.0 453.0,88.5 455.0,88.7 457.0,89.4 459.0,89.9 461.0,90.5 463.0,92.1 465.0,93.9 467.0,95.3 469.0,96.9 471.0,98.1 473.0,99.3 475.0,100.0 477.0,101.3 479.0,102.4 481.0,104.0 483.0,105.7 485.0,108.3 487.0,111.2 489.0,115.1 491.0,118.7 493.0,121.7 495.0,124.9 497.0,127.6 499.0,129.4 501.0,130.6 503.0,131.7 505.0,133.1 507.0,134.5 509.0,135.7 511.0,136.7 513.0,137.4 515.0,137.8 517.0,138.0 519.0,138.2 521.0,138.9 523.0,139.6 525.0,140.4 528.5,141.6" stroke="#0000ff" stroke-dasharray="4 2"/>
<polyline points="61.0,219.2 63.0,219.1 65.0,219.1 67.0,218.9 69.0,218.3 71.0,217.6 73.0,216.6 75.0,215.3 77.0,213.5 79.0,211.6 81.0,209.7 83.0,207.9 85.0,206.2 87.0,204.2 89.0,202.1 91.0,199.6 93.0,196.8 95.0,193.3 97.0,189.8 99.0,185.7 101.0,182.3 103.0,179.2 105.0,175.8 107.0,173.1 109.0,170.2 111.0,167.6 113.0,164.7 115.0,161.8 117.0,159.3 119.0,157.8 121.0,156.5 123.0,155.0 125.0,155.1 127.0,156.1 129.0,156.8 131.0,157.1 133.0,156.5 135.0,155.9 137.0,155.3 139.0,155.3 141.0,156.4 143.0,157.9 145.0,160.1 147.0,162.5 149.0,165.1 151.0,167.3 153.0,169.5 155.0,171.2 157.0,172.8 159.0,175.0 161.0,176.8 163.0,178.2 165.0,179.5 167.0,180.6 169.0,181.4 171.0,181.7 173.0,181.4 175.0,180.1 177.0,178.8 179.0,177.8 181.0,176.9 183.0,176.4 185.0,176.4 187.0,177.1 189.0,178.6 191.0,179.3 193.0,179.4 195.0,179.1 197.0,177.6 199.0,175.1 201.0,171.0 203.0,166.7 205.0,161.9 207.0,157.1 209.0,152.2 211.0,146.9 213.0,141.6 215.0,136.2 217.0,130.5 219.0,124.3 221.0,118.8 223.0,114.8 225.0,112.6 227.0,111.6 229.0,110.7 231.0,109.4 233.0,107.5 235.0,104.8 237.0,101.7 239.0,98.7 241.0,96.0 243.0,93.9 245.0,92.9 247.0,92.3 249.0,92.0 251.0,91.5 253.0,90.2 255.0,87.9 257.0,85.5 259.0,82.8 261.0,80.8 263.0,79.2 265.0,78.2 267.0,77.8 269.0,77.3 271.0,77.0 273.0,76.2 275.0,74.6 277.0,72.6 279.0,70.6 281.0,69.0 283.0,67.9 285.0,67.5 287.0,67.5 289.0,67.9 291.0,67.8 293.0,67.6 295.0,66.7 297.0,65.7 299.0,64.6 301.0,63.9 303.0,63.5 305.0,63.8 307.0,64.5 309.0,65.5 311.0,66.2 313.0,66.5 315.0,66.3 317.0,65.9 319.0,65.0 321.0,64.6 323.0,64.8 325.0,65.9 327.0,67.2 329.0,68.7 331.0,69.9 333.0,70.7 335.0,71.0 337.0,70.4 339.0,69.6 341.0,68.5 343.0,67.2 345.0,65.8 347.0,65.6 349.0,65.8 351.0,65.7 353.0,65.5 355.0,65.1 357.0,64.0 359.0,62.3 361.0,60.3 363.0,59.2 365.0,59.3 367.0,60.0 369.0,60.9 371.0,61.8 373.0,62.3 375.0,62.4 377.0,61.5 379.0,60.7 381.0,60.2 383.0,59.5 385.0,59.5 387.0,60.0 389.0,61.1 391.0,62.5 393.0,64.1 395.0,65.0 397.0,65.0 399.0,64.8 401.0,64.3 403.0,64.0 405.0,63.8 407.0,64.3 409.0,64.9 411.0,66.5 413.0,67.6 415.0,68.1 417.0,67.7 419.0,67.0 421.0,66.3 423.0,66.3 425.0,66.7 427.0,67.4 429.0,68.7 431.0,70.9 433.0,72.7 435.0,74.0 437.0,74.7 439.0,74.8 441.0,74.7 443.0,74.7 445.0,75.1 447.0,76.1 449.0,77.6 451.0,79.2 453.0,80.6 455.0,81.3 457.0,82.1 459.0,82.1 461.0,81.5 463.0,81.9 465.0,82.9 467.0,84.2 469.0,86.4 471.0,88.7 473.0,90.9 475.0,92.7 477.0,94.5 479.0,95.6 481.0,96.3 483.0,97.2 485.0,99.3 487.0,102.2 489.0,106.9 491.0,111.9 493.0,116.5 495.0,120.9 497.0,124.3 499.0,126.0 501.0,126.6 503.0,126.7 505.0,127.4 507.0,128.3 509.0,129.7 511.0,131.3 513.0,132.5 515.0,133.2 517.0,133.4 519.0,133.0 521.0,132.5 523.0,131.8 525.0,131.5 528.5,131.7" stroke="#bf00bf"/>
<polyline points="61.0,220.1 63.0,219.9 65.0,219.6 67.0,219.3 69.0,218.6 71.0,218.0 73.0,217.3 75.0,216.5 77.0,215.1 79.0,213.7 81.0,212.0 83.0,210.3 85.0,208.3 87.0,206.1 89.0,203.6 91.0,201.2 93.0,198.7 95.0,195.9 97.0,192.6 99.0,189.0 101.0,185.6 103.0,182.5 105.0,179.1 107.0,176.1 109.0,173.4 111.0,170.8 113.0,168.9 115.0,167.2 117.0,165.6 119.0,164.6 121.0,163.5 123.0,161.9 125.0,160.9 127.0,160.4 129.0,160.2 131.0,159.9 133.0,159.9 135.0,160.5 137.0,161.2 139.0,162.4 141.0,163.8 143.0,165.1 145.0,166.4 147.0,168.0 149.0,169.8 151.0,171.7 153.0,173.9 155.0,176.0 157.0,178.0 159.0,180.2 161.0,181.8 163.0,183.3 165.0,184.3 167.0,185.0 169.0,185.2 171.0,185.5 173.0,185.1 175.0,184.2 177.0,183.5 179.0,182.3 181.0,181.1 183.0,180.3 185.0,179.8 187.0,179.8 189.0,180.3 191.0,180.5 193.0,180.5 195.0,180.1 197.0,179.0 199.0,176.9 201.0,173.1 203.0,168.6 205.0,163.6 207.0,158.3 209.0,152.8 211.0,147.2 213.0,142.5 215.0,138.4 217.0,135.1 219.0,131.3 221.0,126.8 223.0,122.6 225.0,118.9 227.0,115.8 229.0,112.7 231.0,109.7 233.0,107.1 235.0,105.1 237.0,103.7 239.0,102.5 241.0,101.4 243.0,100.2 245.0,98.6 247.0,97.0 249.0,95.6 251.0,94.0 253.0,92.8 255.0,91.6 257.0,90.2 259.0,88.9 261.0,87.6 263.0,85.6 265.0,83.9 267.0,82.1 269.0,80.6 271.0,79.6 273.0,78.8 275.0,78.0 277.0,77.2 279.0,76.7 281.0,76.3 283.0,75.9 285.0,75.4 287.0,74.8 289.0,74.2 291.0,73.5 293.0,72.8 295.0,72.2 297.0,71.4 299.0,71.0 301.0,70.7 303.0,70.3 305.0,70.2 307.0,70.1 309.0,69.9 311.0,69.9 313.0,69.8 315.0,69.9 317.0,70.2 319.0,70.4 321.0,70.6 323.0,71.1 325.0,71.8 327.0,72.3 329.0,72.6 331.0,72.8 333.0,72.6 335.0,72.8 337.0,72.8 339.0,72.4 341.0,72.4 343.0,71.5 345.0,70.5 347.0,69.6 349.0,69.1 351.0,68.3 353.0,67.6 355.0,67.1 357.0,66.4 359.0,65.6 361.0,64.3 363.0,63.5 365.0,63.2 367.0,62.8 369.0,62.8 371.0,62.4 373.0,62.2 375.0,61.8 377.0,61.5 379.0,61.6 381.0,62.2 383.0,62.8 385.0,63.4 387.0,63.7 389.0,64.2 391.0,64.8 393.0,65.6 395.0,66.3 397.0,66.6 399.0,67.1 401.0,67.5 403.0,68.0 405.0,68.2 407.0,68.5 409.0,68.9 411.0,69.6 413.0,70.3 415.0,70.8 417.0,71.4 419.0,71.8 421.0,72.6 423.0,73.6 425.0,74.7 427.0,75.1 429.0,75.5 431.0,75.9 433.0,76.4 435.0,76.8 437.0,77.3 439.0,77.8 441.0,78.5 443.0,79.5 445.0,80.4 447.0,81.4 449.0,82.2 451.0,83.0 453.0,83.7 455.0,84.3 457.0,85.3 459.0,86.0 461.0,86.6 463.0,88.0 465.0,89.3 467.0,90.3 469.0,91.5 471.0,92.6 473.0,93.5 475.0,94.6 477.0,96.2 479.0,98.0 481.0,99.8 483.0,101.9 485.0,104.8 487.0,107.9 489.0,112.1 491.0,116.0 493.0,119.3 495.0,122.8 497.0,125.9 499.0,127.4 501.0,128.5 503.0,129.0 505.0,130.0 507.0,130.8 509.0,131.7 511.0,132.5 513.0,133.0 515.0,133.4 517.0,133.5 519.0,133.8 521.0,134.5 523.0,135.0 525.0,135.5 528.5,136.5" stroke="#bf00bf"/>
<polyline points="61.0,220.8 63.0,220.8 65.0,220.6 67.0,220.3 69.0,219.7 71.0,219.0 73.0,218.3 75.0,217.4 77.0,216.0 79.0,214.4 81.0,212.9 83.0,211.2 85.0,209.3 87.0,207.4 89.0,205.1 91.0,202.7 93.0,200.1 95.0,197.1 97.0,193.8 99.0,190.2 101.0,187.3 103.0,184.3 105.0,181.3 107.0,178.6 109.0,175.6 111.0,172.9 113.0,170.0 115.0,167.4 117.0,165.0 119.0,163.9 121.0,163.0 123.0,161.9 125.0,161.6 127.0,161.8 129.0,162.0 131.0,161.7 133.0,161.3 135.0,161.3 137.0,161.6 139.0,162.6 141.0,164.2 143.0,165.8 145.0,167.6 147.0,169.3 149.0,171.1 151.0,172.8 153.0,174.7 155.0,176.5 157.0,178.3 159.0,180.6 161.0,182.6 163.0,184.3 165.0,185.7 167.0,186.7 169.0,187.4 171.0,187.4 173.0,186.9 175.0,185.8 177.0,184.8 179.0,183.7 181.0,182.6 183.0,181.8 185.0,181.7 187.0,182.2 189.0,183.0 191.0,183.3 193.0,183.5 195.0,183.2 197.0,182.2 199.0,180.6 201.0,177.4 203.0,173.2 205.0,168.8 207.0,164.3 209.0,159.7 211.0,154.7 213.0,149.6 215.0,144.4 217.0,139.6 219.0,133.9 221.0,128.3 223.0,123.6 225.0,120.3 227.0,117.5 229.0,114.8 231.0,111.9 233.0,108.7 235.0,105.7 237.0,103.2 239.0,101.2 241.0,99.3 243.0,97.8 245.0,96.2 247.0,94.8 249.0,93.2 251.0,91.1 253.0,88.9 255.0,86.7 257.0,84.6 259.0,83.0 261.0,81.7 263.0,81.0 265.0,80.2 267.0,79.4 269.0,78.8 271.0,78.0 273.0,76.9 275.0,75.5 277.0,74.1 279.0,72.9 281.0,72.0 283.0,71.7 285.0,71.5 287.0,71.4 289.0,71.2 291.0,70.8 293.0,70.2 295.0,69.4 297.0,68.6 299.0,67.9 301.0,67.6 303.0,67.6 305.0,68.1 307.0,68.5 309.0,69.0 311.0,69.0 313.0,68.6 315.0,68.0 317.0,67.5 319.0,67.1 321.0,66.9 323.0,67.8 325.0,68.8 327.0,70.0 329.0,71.1 331.0,72.0 333.0,72.2 335.0,72.4 337.0,72.0 339.0,71.7 341.0,71.3 343.0,70.7 345.0,69.9 347.0,69.5 349.0,69.2 351.0,68.5 353.0,67.7 355.0,66.9 357.0,65.8 359.0,64.4 361.0,62.9 363.0,62.4 365.0,62.6 367.0,63.0 369.0,63.3 371.0,63.5 373.0,63.3 375.0,62.7 377.0,61.7 379.0,61.0 381.0,60.8 383.0,60.9 385.0,61.1 387.0,61.5 389.0,62.3 391.0,63.0 393.0,63.9 395.0,64.6 397.0,64.6 399.0,64.7 401.0,64.9 403.0,65.4 405.0,66.1 407.0,67.0 409.0,67.7 411.0,68.9 413.0,69.5 415.0,69.5 417.0,69.4 419.0,69.0 421.0,68.7 423.0,69.3 425.0,70.4 427.0,71.2 429.0,72.3 431.0,73.5 433.0,74.6 435.0,75.3 437.0,75.6 439.0,75.7 441.0,76.1 443.0,76.6 445.0,77.5 447.0,78.8 449.0,80.0 451.0,81.2 453.0,81.8 455.0,82.0 457.0,82.4 459.0,82.7 461.0,82.7 463.0,84.0 465.0,85.8 467.0,87.7 469.0,90.0 471.0,92.0 473.0,93.9 475.0,95.3 477.0,96.8 479.0,98.0 481.0,99.3 483.0,100.9 485.0,103.5 487.0,106.8 489.0,111.3 491.0,115.6 493.0,119.4 495.0,122.9 497.0,125.8 499.0,127.1 501.0,128.0 503.0,128.3 505.0,129.5 507.0,130.7 509.0,132.0 511.0,133.0 513.0,133.9 515.0,134.2 517.0,134.1 519.0,133.8 521.0,133.6 523.0,133.7 525.0,133.7 528.5,134.9" stroke="#ff0000"/>
<polyline points="61.0,221.7 63.0,221.6 65.0,221.3 67.0,221.0 69.0,220.7 71.0,220.2 73.0,220.0 75.0,219.3 77.0,218.2 79.0,217.0 81.0,215.6 83.0,214.1 85.0,212.3 87.0,210.4 89.0,208.2 91.0,206.2 93.0,203.9 95.0,201.4 97.0,198.6 99.0,195.5 101.0,192.6 103.0,190.0 105.0,187.3 107.0,184.9 109.0,182.6 111.0,180.3 113.0,178.2 115.0,176.3 117.0,174.6 119.0,173.5 121.0,173.0 123.0,172.7 125.0,172.5 127.0,172.6 129.0,172.8 131.0,173.0 133.0,173.5 135.0,174.3 137.0,175.1 139.0,176.0 141.0,176.9 143.0,177.6 145.0,178.2 147.0,178.6 149.0,179.4 151.0,180.1 153.0,181.6 155.0,183.2 157.0,184.8 159.0,186.3 161.0,187.9 163.0,189.3 165.0,190.6 167.0,191.0 169.0,191.3 171.0,191.2 173.0,190.5 175.0,189.5 177.0,188.6 179.0,187.1 181.0,185.6 183.0,184.4 185.0,184.2 187.0,184.4 189.0,185.0 191.0,185.3 193.0,185.7 195.0,185.7 197.0,185.1 199.0,184.1 201.0,181.3 203.0,177.1 205.0,173.0 207.0,168.6 209.0,164.7 211.0,160.3 213.0,156.3 215.0,152.5 217.0,149.4 219.0,144.9 221.0,139.1 223.0,133.8 225.0,129.5 227.0,125.9 229.0,122.6 231.0,119.5 233.0,116.5 235.0,114.3 237.0,112.6 239.0,111.0 241.0,109.4 243.0,107.5 245.0,105.4 247.0,103.0 249.0,100.5 251.0,98.1 253.0,96.2 255.0,94.5 257.0,93.2 259.0,92.2 261.0,91.3 263.0,90.3 265.0,89.3 267.0,88.0 269.0,87.0 271.0,86.3 273.0,85.3 275.0,84.3 277.0,83.3 279.0,82.4 281.0,81.8 283.0,81.1 285.0,80.4 287.0,79.7 289.0,79.1 291.0,78.4 293.0,77.7 295.0,77.1 297.0,76.8 299.0,76.4 301.0,76.2 303.0,76.0 305.0,75.9 307.0,75.6 309.0,75.3 311.0,74.7 313.0,74.1 315.0,73.7 317.0,73.4 319.0,73.5 321.0,73.7 323.0,74.3 325.0,75.2 327.0,76.1 329.0,76.8 331.0,77.3 333.0,77.9 335.0,78.3 337.0,78.3 339.0,78.4 341.0,78.1 343.0,77.2 345.0,76.3 347.0,75.0 349.0,74.0 351.0,72.7 353.0,71.7 355.0,70.7 357.0,69.6 359.0,68.6 361.0,67.4 363.0,66.9 365.0,66.8 367.0,66.8 369.0,66.6 371.0,66.4 373.0,66.1 375.0,65.6 377.0,65.2 379.0,65.0 381.0,65.2 383.0,65.4 385.0,65.7 387.0,66.1 389.0,66.6 391.0,67.1 393.0,68.1 395.0,69.1 397.0,69.6 399.0,70.5 401.0,71.5 403.0,72.6 405.0,73.6 407.0,74.4 409.0,75.0 411.0,75.8 413.0,76.1 415.0,76.1 417.0,76.2 419.0,76.2 421.0,76.3 423.0,77.0 425.0,77.8 427.0,78.4 429.0,78.8 431.0,79.6 433.0,80.3 435.0,80.8 437.0,81.4 439.0,81.7 441.0,82.6 443.0,83.5 445.0,84.5 447.0,85.3 449.0,86.1 451.0,86.8 453.0,87.1 455.0,87.4 457.0,88.0 459.0,88.8 461.0,89.5 463.0,91.4 465.0,93.3 467.0,95.0 469.0,97.0 471.0,98.5 473.0,100.0 475.0,101.2 477.0,102.6 479.0,104.0 481.0,105.3 483.0,107.2 485.0,109.5 487.0,112.1 489.0,116.1 491.0,119.4 493.0,122.6 495.0,125.5 497.0,128.1 499.0,129.7 501.0,130.8 503.0,131.5 505.0,132.8 507.0,133.7 509.0,134.9 511.0,135.7 513.0,136.3 515.0,136.6 517.0,136.5 519.0,136.7 521.0,137.0 523.0,137.5 525.0,138.1 528.5,139.4" stroke="#ff0000"/>
<polyline points="61.0,222.2 63.0,222.0 65.0,221.6 67.0,221.3 69.0,221.0 71.0,220.7 73.0,220.4 75.0,220.0 77.0,218.6 79.0,217.4 81.0,216.0 83.0,214.4 85.0,212.6 87.0,210.5 89.0,208.3 91.0,206.2 93.0,203.9 95.0,201.0 97.0,198.2 99.0,194.9 101.0,191.8 103.0,189.1 105.0,186.4 107.0,184.1 109.0,182.1 111.0,180.1 113.0,178.4 115.0,176.6 117.0,175.0 119.0,173.8 121.0,173.2 123.0,172.6 125.0,172.3 127.0,172.2 129.0,172.3 131.0,172.6 133.0,172.9 135.0,173.5 137.0,174.2 139.0,174.7 141.0,175.6 143.0,176.1 145.0,176.6 147.0,177.5 149.0,178.4 151.0,179.6 153.0,181.0 155.0,182.7 157.0,184.3 159.0,185.9 161.0,187.4 163.0,188.8 165.0,189.8 167.0,190.6 169.0,191.1 171.0,191.2 173.0,190.8 175.0,190.0 177.0,189.1 179.0,187.8 181.0,186.3 183.0,185.2 185.0,185.0 187.0,185.2 189.0,185.9 191.0,186.4 193.0,186.7 195.0,186.7 197.0,186.2 199.0,185.1 201.0,182.2 203.0,177.6 205.0,173.4 207.0,168.9 209.0,164.9 211.0,161.0 213.0,157.4 215.0,153.9 217.0,151.0 219.0,146.3 221.0,140.0 223.0,134.2 225.0,129.8 227.0,125.8 229.0,122.3 231.0,119.0 233.0,116.3 235.0,114.3 237.0,112.6 239.0,111.0 241.0,109.2 243.0,107.5 245.0,105.5 247.0,103.4 249.0,101.4 251.0,99.5 253.0,97.7 255.0,96.3 257.0,94.8 259.0,93.2 261.0,91.7 263.0,89.9 265.0,88.4 267.0,86.8 269.0,85.6 271.0,84.7 273.0,83.9 275.0,83.0 277.0,82.0 279.0,81.1 281.0,80.7 283.0,80.0 285.0,79.4 287.0,78.9 289.0,78.4 291.0,77.9 293.0,77.5 295.0,77.2 297.0,76.8 299.0,76.6 301.0,76.3 303.0,76.2 305.0,76.0 307.0,76.0 309.0,75.9 311.0,75.7 313.0,75.6 315.0,75.7 317.0,76.0 319.0,76.1 321.0,76.4 323.0,77.0 325.0,77.6 327.0,78.3 329.0,79.0 331.0,79.2 333.0,79.7 335.0,80.1 337.0,80.1 339.0,80.0 341.0,79.6 343.0,78.7 345.0,77.6 347.0,76.4 349.0,75.3 351.0,74.4 353.0,73.5 355.0,72.8 357.0,72.0 359.0,71.2 361.0,70.3 363.0,69.5 365.0,69.0 367.0,68.8 369.0,68.6 371.0,68.5 373.0,68.2 375.0,68.1 377.0,67.9 379.0,67.8 381.0,68.1 383.0,68.1 385.0,68.4 387.0,68.8 389.0,69.0 391.0,69.5 393.0,70.1 395.0,70.7 397.0,71.1 399.0,71.6 401.0,72.1 403.0,72.6 405.0,72.8 407.0,73.3 409.0,73.5 411.0,74.2 413.0,74.6 415.0,75.0 417.0,75.2 419.0,75.5 421.0,75.8 423.0,76.6 425.0,77.4 427.0,77.8 429.0,78.3 431.0,79.2 433.0,79.9 435.0,80.7 437.0,81.4 439.0,82.1 441.0,82.9 443.0,83.7 445.0,84.6 447.0,85.6 449.0,86.3 451.0,87.3 453.0,87.7 455.0,88.5 457.0,89.3 459.0,90.4 461.0,90.9 463.0,92.5 465.0,94.0 467.0,95.4 469.0,97.1 471.0,98.5 473.0,99.8 475.0,101.4 477.0,102.8 479.0,104.6 481.0,106.2 483.0,108.2 485.0,110.9 487.0,113.7 489.0,117.8 491.0,121.4 493.0,124.8 495.0,128.0 497.0,130.7 499.0,132.5 501.0,133.6 503.0,134.4 505.0,135.4 507.0,136.1 509.0,136.9 511.0,137.6 513.0,138.0 515.0,138.4 517.0,138.6 519.0,138.8 521.0,139.1 523.0,139.4 525.0,139.6 528.5,140.3" stroke="#00bfbf"/>
<polyline points="61.0,221.1 63.0,221.0 65.0,220.7 67.0,220.5 69.0,220.0 71.0,219.5 73.0,219.0 75.0,218.1 77.0,216.8 79.0,215.2 81.0,213.5 83.0,211.8 85.0,209.8 87.0,207.8 89.0,205.5 91.0,203.0 93.0,200.6 95.0,197.8 97.0,194.7 99.0,191.1 101.0,188.1 103.0,185.1 105.0,182.2 107.0,179.7 109.0,177.1 111.0,174.6 113.0,172.1 115.0,169.6 117.0,167.4 119.0,165.7 121.0,164.3 123.0,162.9 125.0,162.6 127.0,162.5 129.0,162.9 131.0,163.4 133.0,163.8 135.0,164.3 137.0,165.2 139.0,166.3 141.0,167.8 143.0,169.3 145.0,170.7 147.0,172.3 149.0,174.0 151.0,175.7 153.0,177.4 155.0,179.2 157.0,180.9 159.0,183.1 161.0,184.6 163.0,186.4 165.0,187.7 167.0,188.8 169.0,189.5 171.0,189.7 173.0,189.4 175.0,188.3 177.0,187.3 179.0,185.8 181.0,184.3 183.0,183.2 185.0,182.8 187.0,183.1 189.0,183.8 191.0,183.9 193.0,184.1 195.0,183.9 197.0,183.0 199.0,181.6 201.0,178.4 203.0,174.0 205.0,169.7 207.0,165.4 209.0,160.9 211.0,156.6 213.0,152.4 215.0,148.3 217.0,144.3 219.0,138.8 221.0,132.4 223.0,127.0 225.0,122.7 227.0,119.5 229.0,116.6 231.0,114.0 233.0,111.5 235.0,109.5 237.0,107.4 239.0,105.7 241.0,103.8 243.0,102.0 245.0,100.2 247.0,98.3 249.0,96.3 251.0,94.4 253.0,92.4 255.0,90.2 257.0,88.3 259.0,86.6 261.0,85.0 263.0,83.6 265.0,82.6 267.0,81.8 269.0,81.2 271.0,80.9 273.0,80.5 275.0,79.8 277.0,78.8 279.0,77.9 281.0,77.3 283.0,76.6 285.0,76.1 287.0,75.7 289.0,75.3 291.0,74.8 293.0,74.5 295.0,73.9 297.0,73.3 299.0,72.8 301.0,72.5 303.0,72.4 305.0,72.6 307.0,72.7 309.0,73.0 311.0,73.1 313.0,73.0 315.0,72.9 317.0,72.8 319.0,72.4 321.0,72.2 323.0,72.5 325.0,72.9 327.0,73.6 329.0,74.4 331.0,75.1 333.0,75.6 335.0,76.1 337.0,76.2 339.0,76.0 341.0,75.8 343.0,74.9 345.0,74.0 347.0,73.2 349.0,72.4 351.0,71.6 353.0,70.8 355.0,70.1 357.0,68.9 359.0,67.5 361.0,65.9 363.0,64.9 365.0,64.5 367.0,64.5 369.0,64.5 371.0,64.5 373.0,64.7 375.0,64.2 377.0,63.9 379.0,63.5 381.0,63.3 383.0,63.3 385.0,63.2 387.0,63.2 389.0,63.6 391.0,64.0 393.0,64.8 395.0,65.7 397.0,65.9 399.0,66.3 401.0,66.7 403.0,67.2 405.0,67.9 407.0,68.7 409.0,69.6 411.0,70.8 413.0,71.9 415.0,72.3 417.0,72.5 419.0,72.6 421.0,72.6 423.0,73.0 425.0,73.7 427.0,74.0 429.0,74.5 431.0,75.6 433.0,76.5 435.0,77.4 437.0,78.1 439.0,78.7 441.0,79.3 443.0,80.1 445.0,81.1 447.0,82.1 449.0,83.3 451.0,84.3 453.0,85.1 455.0,85.6 457.0,86.3 459.0,86.9 461.0,87.0 463.0,88.3 465.0,89.7 467.0,91.3 469.0,93.1 471.0,95.1 473.0,97.1 475.0,98.8 477.0,100.8 479.0,102.5 481.0,104.3 483.0,105.9 485.0,108.4 487.0,111.1 489.0,115.2 491.0,118.8 493.0,122.2 495.0,125.5 497.0,128.1 499.0,129.5 501.0,130.3 503.0,130.6 505.0,131.4 507.0,132.3 509.0,133.3 511.0,134.4 513.0,135.0 515.0,135.5 517.0,135.7 519.0,135.5 521.0,135.6 523.0,135.5 525.0,135.6 528.5,135.8" stroke="#008000"/>
<polyline points="61.0,220.5 63.0,220.5 65.0,220.1 67.0,219.7 69.0,219.0 71.0,218.4 73.0,217.5 75.0,216.5 77.0,215.0 79.0,213.3 81.0,211.6 83.0,209.9 85.0,208.0 87.0,206.3 89.0,204.2 91.0,202.1 93.0,199.9 95.0,197.1 97.0,194.1 99.0,190.6 101.0,187.2 103.0,183.5 105.0,179.9 107.0,176.6 109.0,173.2 111.0,170.4 113.0,168.0 115.0,166.0 117.0,164.2 119.0,163.5 121.0,162.8 123.0,161.7 125.0,161.3 127.0,161.5 129.0,161.7 131.0,161.7 133.0,161.6 135.0,161.6 137.0,161.4 139.0,161.7 141.0,162.1 143.0,162.7 145.0,163.7 147.0,165.2 149.0,167.3 151.0,169.8 153.0,172.3 155.0,174.9 157.0,177.3 159.0,179.9 161.0,181.9 163.0,183.4 165.0,184.3 167.0,184.9 169.0,185.2 171.0,185.0 173.0,184.5 175.0,183.3 177.0,182.4 179.0,181.1 181.0,179.9 183.0,179.2 185.0,179.0 187.0,179.3 189.0,180.4 191.0,181.1 193.0,181.7 195.0,181.6 197.0,181.0 199.0,179.2 201.0,175.7 203.0,171.1 205.0,166.0 207.0,160.5 209.0,154.9 211.0,149.0 213.0,144.0 215.0,139.5 217.0,135.9 219.0,132.1 221.0,128.0 223.0,124.5 225.0,122.0 227.0,120.2 229.0,118.5 231.0,116.6 233.0,114.7 235.0,112.9 237.0,110.8 239.0,108.5 241.0,105.8 243.0,102.7 245.0,99.8 247.0,97.1 249.0,94.9 251.0,93.2 253.0,92.0 255.0,91.4 257.0,90.9 259.0,90.2 261.0,89.3 263.0,88.1 265.0,86.6 267.0,85.1 269.0,83.6 271.0,82.3 273.0,80.9 275.0,79.4 277.0,77.9 279.0,76.6 281.0,75.6 283.0,74.7 285.0,74.1 287.0,73.8 289.0,73.7 291.0,73.7 293.0,73.7 295.0,73.7 297.0,73.8 299.0,73.7 301.0,73.4 303.0,73.1 305.0,72.4 307.0,72.0 309.0,71.3 311.0,70.7 313.0,70.0 315.0,69.6 317.0,69.5 319.0,69.4 321.0,69.6 323.0,70.4 325.0,71.4 327.0,72.5 329.0,73.6 331.0,74.5 333.0,75.0 335.0,75.5 337.0,75.5 339.0,75.1 341.0,74.4 343.0,73.1 345.0,71.6 347.0,70.1 349.0,69.1 351.0,68.2 353.0,67.7 355.0,67.5 357.0,67.1 359.0,66.8 361.0,66.3 363.0,66.2 365.0,66.5 367.0,66.7 369.0,66.7 371.0,66.5 373.0,66.1 375.0,65.7 377.0,65.0 379.0,64.5 381.0,64.2 383.0,64.0 385.0,63.9 387.0,63.9 389.0,64.4 391.0,65.3 393.0,66.7 395.0,68.2 397.0,69.3 399.0,70.3 401.0,71.2 403.0,71.9 405.0,72.1 407.0,72.3 409.0,72.2 411.0,72.5 413.0,72.6 415.0,72.4 417.0,72.3 419.0,72.4 421.0,72.8 423.0,73.8 425.0,75.0 427.0,75.8 429.0,77.0 431.0,78.2 433.0,79.5 435.0,80.5 437.0,81.2 439.0,81.8 441.0,82.1 443.0,82.2 445.0,82.3 447.0,82.3 449.0,82.5 451.0,82.6 453.0,82.7 455.0,82.9 457.0,84.1 459.0,85.0 461.0,85.9 463.0,87.9 465.0,89.9 467.0,91.6 469.0,93.7 471.0,95.2 473.0,96.4 475.0,97.6 477.0,98.7 479.0,100.1 481.0,101.3 483.0,102.6 485.0,104.7 487.0,107.3 489.0,111.4 491.0,115.6 493.0,119.3 495.0,123.4 497.0,127.1 499.0,129.2 501.0,131.0 503.0,132.0 505.0,133.0 507.0,133.9 509.0,134.5 511.0,135.0 513.0,135.2 515.0,135.1 517.0,135.2 519.0,135.1 521.0,135.1 523.0,135.7 525.0,136.2 528.5,137.5" stroke="#bf00bf"/>
<polyline points="61.0,220.8 63.0,220.5 65.0,220.3 67.0,219.9 69.0,219.6 71.0,218.9 73.0,218.4 75.0,217.8 77.0,216.6 79.0,215.1 81.0,213.5 83.0,211.7 85.0,209.6 87.0,207.2 89.0,204.6 91.0,201.9 93.0,199.1 95.0,196.0 97.0,192.6 99.0,189.0 101.0,185.6 103.0,182.5 105.0,179.3 107.0,176.5 109.0,174.0 111.0,171.9 113.0,170.0 115.0,168.2 117.0,166.6 119.0,165.7 121.0,164.5 123.0,163.0 125.0,162.1 127.0,161.4 129.0,161.2 131.0,161.0 133.0,161.0 135.0,161.6 137.0,162.4 139.0,163.8 141.0,165.5 143.0,166.8 145.0,168.3 147.0,169.9 149.0,171.5 151.0,173.1 153.0,174.8 155.0,176.7 157.0,178.4 159.0,180.3 161.0,181.9 163.0,183.1 165.0,184.3 167.0,184.9 169.0,185.5 171.0,185.7 173.0,185.6 175.0,184.9 177.0,184.3 179.0,183.8 181.0,182.5 183.0,181.9 185.0,181.6 187.0,181.9 189.0,182.5 191.0,182.5 193.0,182.7 195.0,182.3 197.0,181.2 199.0,179.3 201.0,175.7 203.0,171.1 205.0,166.4 207.0,161.4 209.0,156.4 211.0,151.2 213.0,146.5 215.0,142.1 217.0,138.1 219.0,133.1 221.0,127.1 223.0,121.6 225.0,116.8 227.0,112.5 229.0,108.7 231.0,104.7 233.0,101.5 235.0,99.2 237.0,97.8 239.0,96.9 241.0,96.4 243.0,96.1 245.0,95.2 247.0,94.6 249.0,93.8 251.0,92.6 253.0,91.3 255.0,89.9 257.0,88.5 259.0,87.0 261.0,85.0 263.0,83.1 265.0,81.3 267.0,79.4 269.0,78.0 271.0,76.9 273.0,76.1 275.0,75.2 277.0,74.6 279.0,73.9 281.0,73.5 283.0,73.0 285.0,72.6 287.0,72.1 289.0,71.3 291.0,70.6 293.0,69.5 295.0,68.5 297.0,67.7 299.0,67.0 301.0,66.8 303.0,66.7 305.0,66.9 307.0,67.5 309.0,67.9 311.0,68.4 313.0,68.6 315.0,69.0 317.0,69.5 319.0,70.0 321.0,70.4 323.0,71.1 325.0,71.7 327.0,72.1 329.0,72.5 331.0,72.4 333.0,72.2 335.0,72.3 337.0,71.9 339.0,71.5 341.0,71.4 343.0,70.6 345.0,69.7 347.0,69.1 349.0,68.5 351.0,67.9 353.0,67.2 355.0,66.7 357.0,65.6 359.0,64.4 361.0,63.1 363.0,62.0 365.0,61.8 367.0,61.7 369.0,61.4 371.0,61.5 373.0,61.2 375.0,61.1 377.0,61.2 379.0,61.6 381.0,62.4 383.0,63.3 385.0,64.1 387.0,64.7 389.0,65.3 391.0,65.7 393.0,66.1 395.0,66.4 397.0,66.2 399.0,66.2 401.0,66.0 403.0,66.0 405.0,66.3 407.0,66.3 409.0,66.4 411.0,67.3 413.0,67.9 415.0,68.3 417.0,68.8 419.0,69.3 421.0,69.9 423.0,70.7 425.0,71.8 427.0,72.2 429.0,72.4 431.0,73.0 433.0,73.5 435.0,73.9 437.0,74.5 439.0,75.3 441.0,76.1 443.0,77.4 445.0,78.7 447.0,80.3 449.0,81.9 451.0,83.1 453.0,84.2 455.0,84.8 457.0,85.7 459.0,86.2 461.0,86.5 463.0,87.4 465.0,88.4 467.0,89.2 469.0,90.1 471.0,91.0 473.0,91.9 475.0,92.9 477.0,94.5 479.0,96.2 481.0,98.1 483.0,100.3 485.0,103.4 487.0,106.8 489.0,111.3 491.0,115.4 493.0,118.7 495.0,122.4 497.0,125.3 499.0,127.0 501.0,127.8 503.0,128.4 505.0,129.5 507.0,130.3 509.0,131.4 511.0,132.5 513.0,133.2 515.0,133.8 517.0,134.4 519.0,134.6 521.0,135.1 523.0,135.5 525.0,135.9 528.5,136.3" stroke="#ff0000"/>
<polyline points="61.0,220.2 63.0,220.1 65.0,219.8 67.0,219.4 69.0,218.8 71.0,218.0 73.0,217.2 75.0,216.4 77.0,215.1 79.0,213.6 81.0,212.1 83.0,210.3 85.0,208.3 87.0,206.0 89.0,203.5 91.0,200.9 93.0,198.3 95.0,195.3 97.0,192.0 99.0,188.7 101.0,185.3 103.0,182.1 105.0,178.7 107.0,175.0 109.0,171.5 111.0,168.6 113.0,165.8 115.0,163.7 117.0,162.3 119.0,161.8 121.0,161.1 123.0,159.9 125.0,159.4 127.0,158.9 129.0,158.7 131.0,158.3 133.0,158.1 135.0,158.5 137.0,159.3 139.0,160.9 141.0,162.5 143.0,163.9 145.0,165.4 147.0,166.8 149.0,168.3 151.0,170.0 153.0,172.2 155.0,174.1 157.0,176.4 159.0,179.0 161.0,181.0 163.0,182.6 165.0,183.8 167.0,184.3 169.0,184.7 171.0,184.5 173.0,183.9 175.0,182.9 177.0,182.2 179.0,181.1 181.0,180.4 183.0,179.8 185.0,179.5 187.0,179.7 189.0,180.3 191.0,180.5 193.0,180.6 195.0,180.3 197.0,179.5 199.0,177.6 201.0,174.5 203.0,170.0 205.0,165.5 207.0,160.4 209.0,154.8 211.0,148.9 213.0,143.4 215.0,138.6 217.0,134.7 219.0,130.5 221.0,126.2 223.0,122.3 225.0,119.0 227.0,115.9 229.0,112.4 231.0,108.8 233.0,105.3 235.0,102.6 237.0,100.7 239.0,99.4 241.0,98.5 243.0,97.6 245.0,96.4 247.0,94.7 249.0,92.7 251.0,90.7 253.0,88.9 255.0,87.5 257.0,86.7 259.0,86.2 261.0,85.6 263.0,85.0 265.0,83.8 267.0,82.5 269.0,81.1 271.0,79.9 273.0,78.4 275.0,77.1 277.0,76.1 279.0,75.2 281.0,74.9 283.0,74.7 285.0,74.3 287.0,73.8 289.0,73.2 291.0,72.2 293.0,71.3 295.0,70.5 297.0,69.7 299.0,69.4 301.0,69.3 303.0,69.6 305.0,69.8 307.0,69.9 309.0,69.8 311.0,69.5 313.0,69.1 315.0,68.7 317.0,68.8 319.0,69.0 321.0,69.8 323.0,70.8 325.0,72.0 327.0,73.0 329.0,73.8 331.0,74.2 333.0,74.0 335.0,74.0 337.0,73.8 339.0,73.6 341.0,73.6 343.0,73.1 345.0,72.0 347.0,71.3 349.0,70.4 351.0,69.4 353.0,68.0 355.0,67.2 357.0,66.3 359.0,65.1 361.0,64.3 363.0,63.8 365.0,64.1 367.0,64.2 369.0,64.1 371.0,63.8 373.0,63.3 375.0,62.7 377.0,62.0 379.0,61.8 381.0,62.7 383.0,63.1 385.0,64.0 387.0,64.7 389.0,65.3 391.0,65.9 393.0,66.4 395.0,66.8 397.0,67.2 399.0,67.5 401.0,68.2 403.0,69.0 405.0,69.6 407.0,70.3 409.0,70.5 411.0,70.9 413.0,70.9 415.0,70.5 417.0,70.1 419.0,70.2 421.0,70.6 423.0,71.6 425.0,72.9 427.0,73.8 429.0,74.3 431.0,75.1 433.0,75.5 435.0,75.8 437.0,76.3 439.0,76.7 441.0,77.5 443.0,78.5 445.0,79.9 447.0,81.3 449.0,82.4 451.0,83.4 453.0,83.6 455.0,84.0 457.0,84.4 459.0,85.1 461.0,85.7 463.0,87.7 465.0,89.6 467.0,91.4 469.0,93.0 471.0,94.3 473.0,95.3 475.0,96.0 477.0,97.1 479.0,98.3 481.0,99.7 483.0,101.8 485.0,104.7 487.0,107.9 489.0,112.3 491.0,116.2 493.0,119.4 495.0,122.7 497.0,125.5 499.0,127.2 501.0,128.2 503.0,129.3 505.0,130.7 507.0,132.1 509.0,133.4 511.0,134.2 513.0,134.8 515.0,135.0 517.0,135.0 519.0,134.9 521.0,135.3 523.0,136.0 525.0,136.8 528.5,138.1" stroke="#0000ff"/>
<polyline points="61.0,219.4 63.0,219.3 65.0,219.1 67.0,218.9 69.0,218.4 71.0,217.8 73.0,217.1 75.0,215.9 77.0,214.2 79.0,212.3 81.0,210.3 83.0,208.2 85.0,206.3 87.0,204.3 89.0,202.1 91.0,199.9 93.0,198.0 95.0,195.2 97.0,192.2 99.0,188.6 101.0,185.2 103.0,181.9 105.0,178.5 107.0,175.5 109.0,172.6 111.0,170.1 113.0,167.3 115.0,164.7 117.0,162.2 119.0,160.4 121.0,158.2 123.0,156.0 125.0,155.1 127.0,155.3 129.0,156.4 131.0,157.4 133.0,158.1 135.0,159.1 137.0,159.7 139.0,160.0 141.0,160.9 143.0,161.4 145.0,162.4 147.0,164.2 149.0,166.4 151.0,168.8 153.0,171.1 155.0,173.5 157.0,175.5 159.0,177.9 161.0,179.7 163.0,181.1 165.0,182.3 167.0,183.2 169.0,184.1 171.0,184.5 173.0,184.3 175.0,183.4 177.0,182.1 179.0,180.6 181.0,179.1 183.0,177.7 185.0,177.0 187.0,176.8 189.0,177.6 191.0,178.3 193.0,178.5 195.0,178.5 197.0,177.6 199.0,175.5 201.0,171.7 203.0,167.1 205.0,162.0 207.0,156.8 209.0,151.3 211.0,145.8 213.0,140.9 215.0,136.4 217.0,131.6 219.0,126.0 221.0,120.0 223.0,115.1 225.0,111.4 227.0,109.2 229.0,107.7 231.0,106.8 233.0,106.1 235.0,105.6 237.0,104.4 239.0,102.6 241.0,100.2 243.0,97.3 245.0,94.2 247.0,91.7 249.0,89.4 251.0,87.9 253.0,86.7 255.0,85.7 257.0,84.3 259.0,83.1 261.0,81.6 263.0,80.2 265.0,79.3 267.0,78.5 269.0,78.3 271.0,78.6 273.0,79.0 275.0,78.7 277.0,77.9 279.0,76.7 281.0,75.6 283.0,74.3 285.0,73.1 287.0,72.2 289.0,71.8 291.0,71.6 293.0,71.7 295.0,71.5 297.0,71.3 299.0,71.2 301.0,70.8 303.0,70.3 305.0,70.2 307.0,70.1 309.0,70.0 311.0,70.1 313.0,70.1 315.0,70.0 317.0,69.6 319.0,69.2 321.0,68.4 323.0,68.2 325.0,68.3 327.0,68.8 329.0,69.7 331.0,70.7 333.0,71.9 335.0,73.2 337.0,73.7 339.0,74.1 341.0,73.8 343.0,72.7 345.0,71.3 347.0,70.0 349.0,69.2 351.0,68.3 353.0,67.8 355.0,67.5 357.0,66.8 359.0,65.6 361.0,64.1 363.0,63.0 365.0,62.6 367.0,62.5 369.0,62.8 371.0,63.3 373.0,63.8 375.0,63.9 377.0,64.0 379.0,63.7 381.0,63.4 383.0,62.8 385.0,62.0 387.0,61.3 389.0,61.0 391.0,61.7 393.0,62.9 395.0,64.2 397.0,65.3 399.0,66.3 401.0,67.0 403.0,67.7 405.0,68.2 407.0,68.8 409.0,69.3 411.0,70.6 413.0,71.7 415.0,72.5 417.0,73.0 419.0,73.0 421.0,72.8 423.0,72.7 425.0,72.5 427.0,72.3 429.0,72.4 431.0,73.4 433.0,74.7 435.0,76.2 437.0,77.6 439.0,78.8 441.0,79.6 443.0,80.0 445.0,80.2 447.0,80.4 449.0,80.7 451.0,81.3 453.0,81.7 455.0,82.3 457.0,83.1 459.0,83.7 461.0,84.0 463.0,85.0 465.0,86.3 467.0,87.6 469.0,89.4 471.0,91.4 473.0,94.0 475.0,96.3 477.0,98.7 479.0,101.0 481.0,102.8 483.0,104.3 485.0,106.0 487.0,108.1 489.0,111.4 491.0,114.9 493.0,118.1 495.0,121.8 497.0,125.2 499.0,127.1 501.0,128.3 503.0,128.8 505.0,129.6 507.0,130.2 509.0,131.1 511.0,132.0 513.0,132.8 515.0,133.3 517.0,133.7 519.0,133.6 521.0,133.5 523.0,133.3 525.0,132.9 528.5,132.4" stroke="#ff0000" stroke-dasharray="4 2"/>
<polyline points="61.0,220.3 63.0,220.3 65.0,220.1 67.0,219.9 69.0,219.3 71.0,218.8 73.0,218.2 75.0,217.4 77.0,216.2 79.0,214.6 81.0,212.9 83.0,211.0 85.0,209.1 87.0,206.7 89.0,204.4 91.0,201.9 93.0,199.4 95.0,196.7 97.0,193.4 99.0,189.8 101.0,186.4 103.0,183.3 105.0,180.0 107.0,176.7 109.0,173.9 111.0,171.2 113.0,168.8 115.0,166.4 117.0,164.5 119.0,163.2 121.0,161.7 123.0,160.1 125.0,159.6 127.0,159.7 129.0,160.4 131.0,160.9 133.0,161.5 135.0,162.6 137.0,163.5 139.0,164.7 141.0,165.9 143.0,166.9 145.0,168.0 147.0,169.2 149.0,170.9 151.0,172.5 153.0,174.4 155.0,176.3 157.0,178.0 159.0,180.2 161.0,181.8 163.0,183.3 165.0,184.4 167.0,185.2 169.0,185.8 171.0,186.1 173.0,185.8 175.0,184.9 177.0,183.9 179.0,182.7 181.0,181.5 183.0,180.4 185.0,180.1 187.0,180.1 189.0,181.0 191.0,181.5 193.0,181.8 195.0,181.6 197.0,180.8 199.0,179.2 201.0,176.1 203.0,171.7 205.0,167.2 207.0,162.5 209.0,157.8 211.0,153.0 213.0,148.6 215.0,144.2 217.0,140.3 219.0,135.0 221.0,128.8 223.0,123.3 225.0,119.0 227.0,115.5 229.0,112.5 231.0,109.7 233.0,107.4 235.0,105.7 237.0,104.3 239.0,103.0 241.0,101.6 243.0,100.1 245.0,98.2 247.0,96.7 249.0,95.0 251.0,93.5 253.0,92.3 255.0,91.1 257.0,89.9 259.0,88.7 261.0,87.4 263.0,86.1 265.0,84.9 267.0,83.8 269.0,83.1 271.0,82.8 273.0,82.3 275.0,81.5 277.0,80.4 279.0,79.4 281.0,78.4 283.0,77.4 285.0,76.4 287.0,75.5 289.0,74.6 291.0,73.8 293.0,73.2 295.0,72.6 297.0,71.8 299.0,71.5 301.0,71.2 303.0,71.0 305.0,71.0 307.0,71.2 309.0,71.4 311.0,71.5 313.0,71.7 315.0,71.8 317.0,71.9 319.0,71.8 321.0,71.9 323.0,72.4 325.0,72.9 327.0,73.7 329.0,74.5 331.0,75.0 333.0,75.7 335.0,76.3 337.0,76.5 339.0,76.4 341.0,76.2 343.0,75.2 345.0,74.1 347.0,72.9 349.0,71.9 351.0,70.9 353.0,69.9 355.0,69.0 357.0,67.8 359.0,66.6 361.0,65.1 363.0,64.1 365.0,63.7 367.0,63.8 369.0,63.8 371.0,64.1 373.0,64.4 375.0,64.3 377.0,64.3 379.0,64.6 381.0,65.1 383.0,65.5 385.0,65.7 387.0,66.0 389.0,66.5 391.0,66.9 393.0,67.8 395.0,68.7 397.0,69.1 399.0,69.8 401.0,70.3 403.0,70.8 405.0,71.3 407.0,71.9 409.0,72.3 411.0,73.1 413.0,73.6 415.0,73.8 417.0,74.0 419.0,73.8 421.0,73.9 423.0,73.8 425.0,74.3 427.0,74.2 429.0,74.5 431.0,75.1 433.0,76.0 435.0,76.9 437.0,77.8 439.0,79.0 441.0,79.9 443.0,81.0 445.0,82.1 447.0,83.0 449.0,84.2 451.0,85.2 453.0,86.0 455.0,86.5 457.0,87.4 459.0,88.0 461.0,88.4 463.0,89.5 465.0,91.0 467.0,92.1 469.0,93.5 471.0,95.2 473.0,96.7 475.0,98.0 477.0,99.8 479.0,101.3 481.0,102.9 483.0,104.7 485.0,106.7 487.0,109.3 489.0,113.0 491.0,116.6 493.0,119.7 495.0,123.2 497.0,126.2 499.0,127.9 501.0,128.9 503.0,129.7 505.0,130.9 507.0,132.1 509.0,133.4 511.0,134.4 513.0,135.5 515.0,136.1 517.0,136.7 519.0,137.0 521.0,137.4 523.0,137.6 525.0,137.8 528.5,138.1" stroke="#bf00bf"/>
<polyline points="61.0,220.4 63.0,220.1 65.0,220.0 67.0,219.5 69.0,219.0 71.0,218.3 73.0,217.7 75.0,217.0 77.0,215.8 79.0,214.1 81.0,212.5 83.0,210.6 85.0,208.6 87.0,206.4 89.0,204.1 91.0,201.9 93.0,199.6 95.0,197.0 97.0,194.0 99.0,190.5 101.0,187.3 103.0,183.9 105.0,180.4 107.0,177.1 109.0,174.1 111.0,171.5 113.0,169.2 115.0,167.1 117.0,165.5 119.0,164.3 121.0,162.8 123.0,160.8 125.0,159.6 127.0,158.9 129.0,159.0 131.0,159.1 133.0,159.6 135.0,160.7 137.0,161.7 139.0,163.0 141.0,164.4 143.0,165.3 145.0,166.4 147.0,167.7 149.0,169.4 151.0,171.6 153.0,173.9 155.0,176.3 157.0,178.5 159.0,181.1 161.0,183.0 163.0,184.3 165.0,185.3 167.0,186.0 169.0,186.5 171.0,186.7 173.0,186.2 175.0,185.6 177.0,184.7 179.0,183.4 181.0,182.0 183.0,180.8 185.0,180.2 187.0,180.1 189.0,180.5 191.0,181.0 193.0,181.0 195.0,181.0 197.0,180.2 199.0,178.5 201.0,175.0 203.0,170.7 205.0,165.8 207.0,160.7 209.0,155.5 211.0,150.5 213.0,146.4 215.0,143.2 217.0,140.6 219.0,137.3 221.0,132.6 223.0,128.0 225.0,124.3 227.0,120.8 229.0,117.8 231.0,115.2 233.0,113.1 235.0,111.8 237.0,110.8 239.0,109.6 241.0,107.9 243.0,105.9 245.0,103.0 247.0,100.3 249.0,97.6 251.0,95.4 253.0,93.6 255.0,92.5 257.0,91.5 259.0,90.5 261.0,89.3 263.0,87.7 265.0,86.0 267.0,84.4 269.0,83.1 271.0,82.3 273.0,81.9 275.0,81.5 277.0,81.0 279.0,80.5 281.0,80.2 283.0,79.5 285.0,78.7 287.0,77.8 289.0,77.0 291.0,76.3 293.0,75.8 295.0,75.5 297.0,75.3 299.0,75.2 301.0,75.1 303.0,74.7 305.0,74.4 307.0,74.0 309.0,73.4 311.0,73.1 313.0,72.7 315.0,72.8 317.0,73.0 319.0,73.1 321.0,73.3 323.0,73.8 325.0,74.2 327.0,74.7 329.0,75.0 331.0,75.4 333.0,75.9 335.0,76.5 337.0,77.0 339.0,77.3 341.0,77.4 343.0,76.6 345.0,75.6 347.0,74.3 349.0,73.3 351.0,72.1 353.0,71.3 355.0,70.9 357.0,70.3 359.0,69.4 361.0,68.6 363.0,67.8 365.0,67.5 367.0,66.8 369.0,66.4 371.0,66.0 373.0,65.6 375.0,65.5 377.0,65.3 379.0,65.5 381.0,66.0 383.0,66.3 385.0,66.1 387.0,66.2 389.0,66.1 391.0,66.2 393.0,67.1 395.0,67.9 397.0,68.6 399.0,69.6 401.0,70.5 403.0,71.4 405.0,72.1 407.0,72.5 409.0,72.6 411.0,73.3 413.0,73.7 415.0,74.2 417.0,74.8 419.0,75.4 421.0,76.1 423.0,76.8 425.0,77.4 427.0,77.5 429.0,77.3 431.0,77.6 433.0,77.9 435.0,78.6 437.0,79.3 439.0,80.3 441.0,81.1 443.0,82.0 445.0,82.8 447.0,83.4 449.0,83.9 451.0,84.2 453.0,84.5 455.0,84.9 457.0,86.0 459.0,87.0 461.0,88.0 463.0,89.7 465.0,91.6 467.0,92.9 469.0,94.4 471.0,95.6 473.0,97.1 475.0,98.6 477.0,100.6 479.0,102.5 481.0,104.7 483.0,107.0 485.0,109.5 487.0,112.4 489.0,116.0 491.0,119.4 493.0,122.2 495.0,125.5 497.0,128.3 499.0,130.2 501.0,131.4 503.0,132.4 505.0,133.6 507.0,134.2 509.0,134.9 511.0,135.4 513.0,135.8 515.0,136.2 517.0,136.6 519.0,136.9 521.0,137.6 523.0,138.4 525.0,139.0 528.5,139.8" stroke="#008000"/>
<polyline points="61.0,220.1 63.0,220.0 65.0,219.8 67.0,219.6 69.0,219.0 71.0,218.6 73.0,217.9 75.0,217.3 77.0,216.0 79.0,214.3 81.0,212.6 83.0,210.6 85.0,208.4 87.0,206.0 89.0,203.4 91.0,201.0 93.0,198.5 95.0,195.7 97.0,192.5 99.0,189.0 101.0,185.8 103.0,182.7 105.0,179.5 107.0,176.6 109.0,173.9 111.0,171.5 113.0,169.3 115.0,167.0 117.0,165.1 119.0,163.6 121.0,162.0 123.0,160.0 125.0,159.0 127.0,158.7 129.0,158.8 131.0,159.3 133.0,160.0 135.0,161.2 137.0,162.5 139.0,164.1 141.0,165.5 143.0,166.6 145.0,168.0 147.0,169.0 149.0,170.4 151.0,172.0 153.0,173.8 155.0,175.7 157.0,177.6 159.0,179.6 161.0,181.4 163.0,182.8 165.0,183.9 167.0,184.7 169.0,185.4 171.0,185.9 173.0,185.7 175.0,185.1 177.0,184.4 179.0,183.2 181.0,182.0 183.0,180.9 185.0,180.4 187.0,180.3 189.0,180.8 191.0,181.2 193.0,181.2 195.0,180.9 197.0,180.2 199.0,178.5 201.0,175.2 203.0,170.9 205.0,166.4 207.0,161.6 209.0,156.8 211.0,152.1 213.0,147.9 215.0,144.0 217.0,140.3 219.0,135.5 221.0,129.6 223.0,123.7 225.0,119.0 227.0,115.2 229.0,111.8 231.0,109.1 233.0,106.8 235.0,105.5 237.0,104.9 239.0,104.4 241.0,103.7 243.0,102.5 245.0,100.8 247.0,98.9 249.0,96.7 251.0,94.7 253.0,92.9 255.0,91.0 257.0,89.4 259.0,87.8 261.0,86.1 263.0,84.3 265.0,82.9 267.0,81.4 269.0,80.4 271.0,79.8 273.0,79.5 275.0,79.0 277.0,78.6 279.0,77.7 281.0,77.1 283.0,76.3 285.0,75.2 287.0,73.9 289.0,73.0 291.0,72.0 293.0,71.1 295.0,70.2 297.0,69.7 299.0,69.4 301.0,69.3 303.0,69.3 305.0,69.5 307.0,69.8 309.0,70.2 311.0,70.3 313.0,70.6 315.0,70.8 317.0,70.9 319.0,71.0 321.0,71.0 323.0,71.2 325.0,71.5 327.0,71.8 329.0,72.0 331.0,72.3 333.0,72.5 335.0,73.0 337.0,73.4 339.0,73.6 341.0,73.6 343.0,73.1 345.0,72.1 347.0,71.2 349.0,70.4 351.0,69.2 353.0,68.3 355.0,67.5 357.0,66.4 359.0,65.1 361.0,63.4 363.0,62.4 365.0,62.1 367.0,61.9 369.0,61.9 371.0,62.1 373.0,62.3 375.0,62.6 377.0,62.7 379.0,63.3 381.0,64.0 383.0,64.4 385.0,64.7 387.0,64.8 389.0,64.9 391.0,64.9 393.0,65.5 395.0,65.8 397.0,66.2 399.0,66.7 401.0,67.3 403.0,67.9 405.0,68.5 407.0,68.9 409.0,69.6 411.0,70.6 413.0,71.5 415.0,72.0 417.0,72.6 419.0,72.8 421.0,73.1 423.0,73.5 425.0,74.0 427.0,73.8 429.0,73.7 431.0,74.1 433.0,74.6 435.0,75.4 437.0,76.3 439.0,77.5 441.0,78.9 443.0,80.3 445.0,81.6 447.0,83.0 449.0,84.1 451.0,84.8 453.0,85.5 455.0,85.8 457.0,86.5 459.0,86.9 461.0,87.1 463.0,88.1 465.0,89.2 467.0,90.1 469.0,91.2 471.0,92.5 473.0,93.9 475.0,95.4 477.0,97.5 479.0,99.5 481.0,101.5 483.0,103.8 485.0,106.3 487.0,109.1 489.0,112.8 491.0,116.1 493.0,118.9 495.0,122.1 497.0,124.9 499.0,126.5 501.0,127.6 503.0,128.3 505.0,129.6 507.0,130.5 509.0,131.8 511.0,132.8 513.0,133.7 515.0,134.4 517.0,134.8 519.0,135.1 521.0,135.5 523.0,135.7 525.0,135.9 528.5,135.8" stroke="#ff0000"/>
<polyline points="61.0,221.1 63.0,220.8 65.0,220.7 67.0,220.4 69.0,220.0 71.0,219.6 73.0,219.0 75.0,218.2 77.0,217.0 79.0,215.4 81.0,213.7 83.0,211.9 85.0,209.9 87.0,207.8 89.0,205.3 91.0,202.8 93.0,200.1 95.0,197.2 97.0,193.7 99.0,190.4 101.0,187.4 103.0,184.7 105.0,182.1 107.0,180.2 109.0,178.3 111.0,176.4 113.0,174.4 115.0,172.1 117.0,169.9 119.0,168.1 121.0,166.6 123.0,165.2 125.0,164.4 127.0,164.4 129.0,164.5 131.0,164.8 133.0,165.2 135.0,165.7 137.0,166.6 139.0,167.8 141.0,169.3 143.0,170.8 145.0,172.2 147.0,173.8 149.0,175.2 151.0,176.6 153.0,178.1 155.0,179.4 157.0,180.9 159.0,182.6 161.0,184.3 163.0,185.9 165.0,187.4 167.0,188.7 169.0,189.6 171.0,190.2 173.0,190.0 175.0,189.3 177.0,188.4 179.0,186.9 181.0,185.4 183.0,184.1 185.0,183.8 187.0,183.8 189.0,184.2 191.0,184.1 193.0,184.0 195.0,183.4 197.0,182.0 199.0,180.0 201.0,176.5 203.0,172.0 205.0,167.5 207.0,162.9 209.0,158.6 211.0,154.2 213.0,149.9 215.0,145.5 217.0,141.0 219.0,135.1 221.0,128.5 223.0,122.4 225.0,118.2 227.0,114.7 229.0,111.9 231.0,109.4 233.0,107.0 235.0,105.4 237.0,104.2 239.0,103.4 241.0,102.8 243.0,102.5 245.0,102.3 247.0,101.8 249.0,101.2 251.0,99.9 253.0,98.2 255.0,96.0 257.0,93.3 259.0,90.8 261.0,88.5 263.0,86.6 265.0,85.3 267.0,84.3 269.0,83.9 271.0,83.8 273.0,83.8 275.0,83.5 277.0,82.7 279.0,82.0 281.0,81.6 283.0,81.1 285.0,80.5 287.0,80.3 289.0,79.9 291.0,79.4 293.0,78.7 295.0,77.9 297.0,77.2 299.0,76.4 301.0,76.1 303.0,76.1 305.0,76.2 307.0,76.8 309.0,77.4 311.0,78.1 313.0,78.4 315.0,78.6 317.0,78.6 319.0,78.4 321.0,78.0 323.0,77.8 325.0,77.6 327.0,77.8 329.0,78.1 331.0,78.3 333.0,78.2 335.0,78.3 337.0,78.1 339.0,77.8 341.0,77.2 343.0,76.5 345.0,75.8 347.0,75.1 349.0,74.6 351.0,74.1 353.0,73.4 355.0,72.6 357.0,71.3 359.0,69.7 361.0,67.8 363.0,66.4 365.0,65.8 367.0,65.7 369.0,65.9 371.0,66.4 373.0,66.8 375.0,67.1 377.0,67.2 379.0,67.4 381.0,67.7 383.0,68.0 385.0,68.2 387.0,68.6 389.0,68.9 391.0,69.4 393.0,69.7 395.0,69.8 397.0,69.5 399.0,69.4 401.0,69.3 403.0,69.5 405.0,70.1 407.0,70.8 409.0,72.0 411.0,73.8 413.0,75.4 415.0,76.6 417.0,77.2 419.0,77.7 421.0,77.9 423.0,78.3 425.0,78.7 427.0,79.0 429.0,79.5 431.0,80.3 433.0,81.1 435.0,81.9 437.0,82.6 439.0,83.2 441.0,84.0 443.0,84.9 445.0,86.2 447.0,87.6 449.0,89.1 451.0,90.4 453.0,91.5 455.0,92.2 457.0,92.6 459.0,92.5 461.0,92.2 463.0,92.5 465.0,93.0 467.0,93.8 469.0,95.1 471.0,96.7 473.0,98.4 475.0,100.2 477.0,102.2 479.0,104.1 481.0,105.9 483.0,108.1 485.0,110.8 487.0,113.8 489.0,118.1 491.0,121.8 493.0,125.2 495.0,128.1 497.0,130.5 499.0,131.6 501.0,132.1 503.0,132.2 505.0,133.1 507.0,133.7 509.0,135.0 511.0,136.3 513.0,137.4 515.0,138.3 517.0,138.9 519.0,139.2 521.0,139.3 523.0,139.4 525.0,139.3 528.5,139.2" stroke="#00bfbf"/>
<polyline points="61.0,219.4 63.0,219.3 65.0,218.9 67.0,218.5 69.0,217.8 71.0,217.1 73.0,216.5 75.0,215.6 77.0,214.3 79.0,212.7 81.0,211.0 83.0,208.9 85.0,206.4 87.0,203.8 89.0,201.4 91.0,198.8 93.0,196.6 95.0,194.0 97.0,190.9 99.0,187.3 101.0,183.8 103.0,180.2 105.0,176.0 107.0,172.1 109.0,168.5 111.0,165.7 113.0,163.9 115.0,162.4 117.0,161.3 119.0,160.5 121.0,159.0 123.0,156.4 125.0,154.6 127.0,153.1 129.0,152.5 131.0,152.5 133.0,152.9 135.0,154.3 137.0,155.9 139.0,157.5 141.0,159.1 143.0,159.8 145.0,160.8 147.0,161.8 149.0,163.7 151.0,166.0 153.0,168.7 155.0,171.5 157.0,174.1 159.0,177.0 161.0,178.8 163.0,179.9 165.0,180.4 167.0,180.7 169.0,180.9 171.0,181.0 173.0,181.0 175.0,180.6 177.0,180.2 179.0,179.7 181.0,178.8 183.0,178.0 185.0,177.2 187.0,176.8 189.0,177.3 191.0,177.6 193.0,177.9 195.0,177.7 197.0,177.1 199.0,175.3 201.0,171.8 203.0,167.3 205.0,161.9 207.0,156.0 209.0,149.8 211.0,143.4 213.0,138.6 215.0,135.0 217.0,132.6 219.0,129.7 221.0,125.7 223.0,121.1 225.0,116.5 227.0,112.0 229.0,108.1 231.0,104.7 233.0,102.4 235.0,101.6 237.0,101.6 239.0,101.8 241.0,101.3 243.0,99.8 245.0,97.2 247.0,94.1 249.0,91.2 251.0,89.0 253.0,87.9 255.0,87.7 257.0,87.6 259.0,87.4 261.0,86.5 263.0,84.9 265.0,82.7 267.0,80.3 269.0,78.2 271.0,77.1 273.0,76.5 275.0,76.3 277.0,76.4 279.0,76.5 281.0,76.7 283.0,76.1 285.0,75.3 287.0,74.0 289.0,72.6 291.0,71.7 293.0,70.8 295.0,70.7 297.0,70.7 299.0,71.0 301.0,71.2 303.0,71.2 305.0,70.7 307.0,70.3 309.0,69.8 311.0,69.4 313.0,69.3 315.0,69.7 317.0,70.4 319.0,71.3 321.0,72.1 323.0,72.9 325.0,73.3 327.0,73.4 329.0,73.1 331.0,73.0 333.0,73.0 335.0,73.5 337.0,74.1 339.0,75.0 341.0,75.4 343.0,74.9 345.0,73.8 347.0,72.4 349.0,71.0 351.0,69.8 353.0,68.9 355.0,68.6 357.0,68.3 359.0,68.0 361.0,67.4 363.0,66.8 365.0,66.6 367.0,65.8 369.0,64.9 371.0,64.3 373.0,63.6 375.0,63.5 377.0,63.9 379.0,64.9 381.0,66.1 383.0,66.8 385.0,67.3 387.0,67.0 389.0,66.6 391.0,66.1 393.0,66.4 395.0,66.9 397.0,67.7 399.0,68.6 401.0,69.7 403.0,70.5 405.0,70.9 407.0,70.7 409.0,70.2 411.0,70.1 413.0,70.2 415.0,70.5 417.0,71.3 419.0,72.2 421.0,73.5 423.0,74.8 425.0,75.6 427.0,75.5 429.0,75.0 431.0,74.7 433.0,74.7 435.0,75.1 437.0,76.0 439.0,77.3 441.0,78.9 443.0,80.3 445.0,81.5 447.0,82.3 449.0,82.7 451.0,82.9 453.0,82.8 455.0,83.0 457.0,84.3 459.0,85.6 461.0,86.9 463.0,89.0 465.0,90.8 467.0,91.6 469.0,92.3 471.0,92.9 473.0,93.5 475.0,94.4 477.0,96.5 479.0,99.0 481.0,101.7 483.0,104.5 485.0,107.7 487.0,110.7 489.0,114.2 491.0,117.5 493.0,120.0 495.0,123.2 497.0,126.3 499.0,128.4 501.0,130.2 503.0,131.4 505.0,132.8 507.0,133.7 509.0,134.2 511.0,134.5 513.0,134.6 515.0,134.8 517.0,135.2 519.0,135.8 521.0,136.8 523.0,137.9 525.0,138.7 528.5,139.1" stroke="#bf00bf"/>
<polyline points="61.0,220.0 63.0,219.8 65.0,219.8 67.0,219.3 69.0,218.9 71.0,218.2 73.0,217.7 75.0,216.8 77.0,215.6 79.0,214.0 81.0,212.3 83.0,210.5 85.0,208.5 87.0,206.0 89.0,203.6 91.0,201.2 93.0,198.6 95.0,195.5 97.0,192.3 99.0,188.7 101.0,185.5 103.0,182.2 105.0,179.1 107.0,176.1 109.0,173.5 111.0,170.9 113.0,168.5 115.0,166.2 117.0,164.1 119.0,162.6 121.0,160.9 123.0,158.9 125.0,157.5 127.0,156.9 129.0,156.8 131.0,156.9 133.0,157.0 135.0,157.9 137.0,159.0 139.0,160.8 141.0,162.6 143.0,164.2 145.0,166.0 147.0,167.8 149.0,169.6 151.0,171.4 153.0,173.6 155.0,175.5 157.0,177.3 159.0,179.4 161.0,181.0 163.0,182.2 165.0,183.1 167.0,184.0 169.0,184.4 171.0,184.7 173.0,184.5 175.0,183.9 177.0,183.2 179.0,182.3 181.0,181.1 183.0,180.4 185.0,180.1 187.0,180.1 189.0,180.7 191.0,181.0 193.0,181.0 195.0,180.8 197.0,179.7 199.0,177.9 201.0,174.6 203.0,170.3 205.0,165.8 207.0,161.2 209.0,156.7 211.0,152.1 213.0,148.4 215.0,144.9 217.0,141.9 219.0,137.8 221.0,132.3 223.0,127.1 225.0,122.7 227.0,119.0 229.0,115.5 231.0,112.2 233.0,109.3 235.0,107.0 237.0,105.4 239.0,103.9 241.0,102.6 243.0,101.0 245.0,99.2 247.0,97.3 249.0,95.0 251.0,92.9 253.0,90.7 255.0,88.5 257.0,86.5 259.0,84.6 261.0,82.7 263.0,81.0 265.0,79.4 267.0,77.9 269.0,76.8 271.0,76.1 273.0,75.7 275.0,75.2 277.0,74.6 279.0,74.2 281.0,73.7 283.0,73.2 285.0,72.5 287.0,71.8 289.0,70.9 291.0,70.0 293.0,68.9 295.0,68.1 297.0,67.3 299.0,66.4 301.0,66.3 303.0,66.1 305.0,66.2 307.0,66.4 309.0,66.9 311.0,66.9 313.0,67.1 315.0,67.3 317.0,67.2 319.0,67.2 321.0,67.3 323.0,67.7 325.0,68.2 327.0,68.8 329.0,69.2 331.0,69.7 333.0,69.9 335.0,70.1 337.0,70.4 339.0,70.6 341.0,70.9 343.0,70.4 345.0,69.9 347.0,69.4 349.0,69.0 351.0,68.4 353.0,67.7 355.0,67.2 357.0,66.1 359.0,64.7 361.0,63.1 363.0,62.0 365.0,61.4 367.0,61.1 369.0,61.1 371.0,60.9 373.0,60.6 375.0,60.4 377.0,60.2 379.0,60.0 381.0,60.9 383.0,61.2 385.0,61.5 387.0,61.6 389.0,62.0 391.0,62.0 393.0,62.7 395.0,62.9 397.0,63.2 399.0,63.5 401.0,63.7 403.0,64.1 405.0,64.8 407.0,65.3 409.0,65.9 411.0,67.0 413.0,68.0 415.0,68.5 417.0,69.2 419.0,69.5 421.0,69.9 423.0,70.4 425.0,71.0 427.0,71.1 429.0,70.9 431.0,71.4 433.0,71.6 435.0,72.0 437.0,72.5 439.0,73.3 441.0,74.0 443.0,75.1 445.0,76.2 447.0,77.7 449.0,79.0 451.0,80.0 453.0,80.9 455.0,81.2 457.0,82.2 459.0,82.8 461.0,83.0 463.0,84.2 465.0,85.7 467.0,86.8 469.0,88.3 471.0,89.7 473.0,91.4 475.0,93.0 477.0,95.1 479.0,97.3 481.0,99.4 483.0,101.7 485.0,104.5 487.0,107.7 489.0,112.0 491.0,115.7 493.0,118.8 495.0,122.1 497.0,124.8 499.0,126.2 501.0,126.8 503.0,127.1 505.0,128.3 507.0,129.1 509.0,130.2 511.0,131.3 513.0,131.9 515.0,132.6 517.0,132.9 519.0,133.2 521.0,133.5 523.0,134.0 525.0,134.3 528.5,134.6" stroke="#bf00bf"/>
<polyline points="61.0,221.3 63.0,221.1 65.0,220.8 67.0,220.6 69.0,220.0 71.0,219.5 73.0,219.1 75.0,218.5 77.0,217.5 79.0,216.1 81.0,214.8 83.0,213.1 85.0,211.4 87.0,209.2 89.0,207.0 91.0,204.6 93.0,202.3 95.0,199.3 97.0,196.0 99.0,192.6 101.0,189.2 103.0,185.9 105.0,182.8 107.0,179.9 109.0,177.3 111.0,174.6 113.0,172.7 115.0,170.5 117.0,168.8 119.0,167.4 121.0,166.4 123.0,164.8 125.0,163.9 127.0,163.4 129.0,163.3 131.0,163.3 133.0,163.4 135.0,164.1 137.0,165.1 139.0,166.3 141.0,168.1 143.0,169.4 145.0,171.0 147.0,172.7 149.0,174.5 151.0,176.3 153.0,178.2 155.0,180.3 157.0,182.1 159.0,183.8 161.0,185.1 163.0,186.5 165.0,187.4 167.0,187.8 169.0,188.1 171.0,188.2 173.0,187.7 175.0,186.7 177.0,185.8 179.0,184.7 181.0,183.3 183.0,182.3 185.0,182.1 187.0,182.2 189.0,182.9 191.0,183.1 193.0,183.4 195.0,183.2 197.0,182.3 199.0,180.7 201.0,177.3 203.0,173.0 205.0,168.3 207.0,163.8 209.0,159.4 211.0,155.1 213.0,151.6 215.0,148.5 217.0,146.4 219.0,142.7 221.0,137.5 223.0,132.6 225.0,128.2 227.0,124.5 229.0,121.0 231.0,117.4 233.0,114.2 235.0,111.7 237.0,109.4 239.0,107.4 241.0,105.6 243.0,103.7 245.0,101.8 247.0,100.1 249.0,98.4 251.0,97.0 253.0,95.7 255.0,94.7 257.0,93.5 259.0,92.1 261.0,90.5 263.0,88.7 265.0,87.2 267.0,85.5 269.0,84.4 271.0,83.5 273.0,83.0 275.0,82.2 277.0,81.5 279.0,81.1 281.0,80.9 283.0,80.2 285.0,79.8 287.0,79.3 289.0,78.8 291.0,78.2 293.0,77.5 295.0,76.7 297.0,76.0 299.0,75.4 301.0,74.7 303.0,74.1 305.0,73.7 307.0,73.3 309.0,73.0 311.0,72.9 313.0,72.8 315.0,73.0 317.0,73.3 319.0,73.7 321.0,74.2 323.0,74.9 325.0,75.5 327.0,76.4 329.0,76.9 331.0,77.4 333.0,77.7 335.0,78.0 337.0,78.1 339.0,78.0 341.0,77.9 343.0,77.0 345.0,76.0 347.0,75.2 349.0,74.4 351.0,73.7 353.0,72.9 355.0,72.5 357.0,71.7 359.0,70.8 361.0,69.5 363.0,68.5 365.0,67.8 367.0,67.3 369.0,66.5 371.0,66.2 373.0,65.8 375.0,65.3 377.0,65.1 379.0,65.0 381.0,65.4 383.0,65.9 385.0,66.5 387.0,67.0 389.0,67.7 391.0,68.5 393.0,69.3 395.0,70.1 397.0,70.8 399.0,71.3 401.0,71.7 403.0,72.1 405.0,72.6 407.0,72.7 409.0,73.0 411.0,73.8 413.0,74.4 415.0,74.7 417.0,75.2 419.0,75.7 421.0,76.3 423.0,76.9 425.0,77.4 427.0,77.8 429.0,77.9 431.0,78.2 433.0,78.4 435.0,78.8 437.0,79.0 439.0,79.3 441.0,79.7 443.0,80.3 445.0,81.2 447.0,82.2 449.0,83.1 451.0,84.2 453.0,85.1 455.0,86.2 457.0,87.4 459.0,88.5 461.0,89.5 463.0,91.1 465.0,92.8 467.0,94.2 469.0,95.5 471.0,96.8 473.0,98.3 475.0,99.4 477.0,101.0 479.0,102.8 481.0,104.6 483.0,106.5 485.0,109.3 487.0,112.4 489.0,116.4 491.0,120.3 493.0,123.4 495.0,126.7 497.0,129.4 499.0,131.0 501.0,131.9 503.0,132.4 505.0,133.2 507.0,133.7 509.0,134.8 511.0,135.4 513.0,136.0 515.0,136.6 517.0,137.2 519.0,137.7 521.0,138.4 523.0,139.2 525.0,140.1 528.5,141.3" stroke="#ff0000"/>
<polyline points="61.0,220.4 63.0,220.2 65.0,220.0 67.0,219.7 69.0,219.0 71.0,218.3 73.0,217.9 75.0,217.1 77.0,215.8 79.0,214.5 81.0,213.0 83.0,211.2 85.0,209.2 87.0,206.9 89.0,204.5 91.0,202.0 93.0,199.5 95.0,196.8 97.0,193.9 99.0,190.4 101.0,187.3 103.0,184.0 105.0,180.6 107.0,177.2 109.0,173.7 111.0,170.8 113.0,168.1 115.0,166.2 117.0,164.4 119.0,163.6 121.0,162.5 123.0,161.0 125.0,160.0 127.0,159.4 129.0,159.1 131.0,159.0 133.0,159.2 135.0,160.0 137.0,161.2 139.0,162.7 141.0,164.4 143.0,165.6 145.0,166.8 147.0,167.9 149.0,169.2 151.0,171.0 153.0,173.1 155.0,175.2 157.0,177.4 159.0,180.2 161.0,182.1 163.0,183.7 165.0,184.9 167.0,185.3 169.0,185.7 171.0,185.5 173.0,185.1 175.0,184.2 177.0,183.2 179.0,182.2 181.0,181.1 183.0,180.2 185.0,179.8 187.0,179.5 189.0,180.0 191.0,180.2 193.0,180.2 195.0,180.1 197.0,179.2 199.0,177.7 201.0,174.4 203.0,170.3 205.0,165.8 207.0,160.6 209.0,155.3 211.0,150.0 213.0,145.1 215.0,141.2 217.0,138.2 219.0,134.7 221.0,130.5 223.0,126.6 225.0,123.0 227.0,119.7 229.0,116.2 231.0,113.0 233.0,110.0 235.0,108.0 237.0,106.7 239.0,105.9 241.0,105.0 243.0,103.7 245.0,101.9 247.0,99.4 249.0,96.9 251.0,94.3 253.0,92.4 255.0,91.1 257.0,90.2 259.0,89.4 261.0,88.9 263.0,87.8 265.0,86.8 267.0,85.2 269.0,83.8 271.0,82.6 273.0,81.7 275.0,80.8 277.0,79.8 279.0,79.3 281.0,79.1 283.0,78.6 285.0,77.9 287.0,76.9 289.0,75.9 291.0,74.9 293.0,73.9 295.0,73.2 297.0,72.6 299.0,72.3 301.0,72.4 303.0,72.4 305.0,72.3 307.0,72.1 309.0,71.7 311.0,71.3 313.0,70.7 315.0,70.6 317.0,70.6 319.0,70.9 321.0,71.3 323.0,72.2 325.0,73.2 327.0,74.0 329.0,74.5 331.0,74.7 333.0,74.9 335.0,75.3 337.0,75.6 339.0,75.8 341.0,76.0 343.0,75.6 345.0,74.8 347.0,73.8 349.0,72.8 351.0,71.4 353.0,70.2 355.0,69.3 357.0,68.5 359.0,67.5 361.0,66.7 363.0,66.3 365.0,66.2 367.0,66.3 369.0,65.9 371.0,65.7 373.0,65.2 375.0,64.8 377.0,64.6 379.0,64.6 381.0,65.5 383.0,66.3 385.0,67.0 387.0,67.4 389.0,67.8 391.0,67.9 393.0,68.5 395.0,69.1 397.0,69.6 399.0,70.5 401.0,71.3 403.0,72.4 405.0,73.4 407.0,74.0 409.0,74.3 411.0,74.7 413.0,74.7 415.0,74.5 417.0,74.5 419.0,74.7 421.0,75.0 423.0,75.9 425.0,76.8 427.0,77.1 429.0,77.2 431.0,77.5 433.0,77.6 435.0,77.8 437.0,78.2 439.0,79.0 441.0,80.0 443.0,81.1 445.0,82.3 447.0,83.5 449.0,84.2 451.0,84.7 453.0,84.9 455.0,85.1 457.0,85.7 459.0,86.4 461.0,87.3 463.0,89.2 465.0,91.3 467.0,92.9 469.0,94.5 471.0,95.7 473.0,96.8 475.0,97.8 477.0,99.1 479.0,100.8 481.0,102.5 483.0,104.7 485.0,107.5 487.0,110.4 489.0,114.4 491.0,117.8 493.0,120.7 495.0,123.6 497.0,126.3 499.0,128.1 501.0,129.3 503.0,130.6 505.0,132.1 507.0,133.4 509.0,134.6 511.0,135.3 513.0,136.0 515.0,136.2 517.0,136.4 519.0,136.8 521.0,137.4 523.0,138.4 525.0,139.4 528.5,140.6" stroke="#008000"/>
<polyline points="61.0,222.3 63.0,222.0 65.0,221.8 67.0,221.4 69.0,220.9 71.0,220.6 73.0,220.1 75.0,219.5 77.0,218.3 79.0,217.1 81.0,215.6 83.0,213.9 85.0,212.1 87.0,210.0 89.0,207.6 91.0,205.2 93.0,202.7 95.0,200.1 97.0,197.3 99.0,194.3 101.0,191.4 103.0,189.0 105.0,186.4 107.0,184.2 109.0,182.1 111.0,179.9 113.0,177.8 115.0,176.0 117.0,174.3 119.0,173.3 121.0,172.9 123.0,172.2 125.0,171.6 127.0,171.2 129.0,170.8 131.0,170.1 133.0,169.7 135.0,169.8 137.0,170.3 139.0,171.2 141.0,172.0 143.0,172.9 145.0,173.7 147.0,174.4 149.0,175.4 151.0,176.6 153.0,177.9 155.0,179.6 157.0,181.5 159.0,183.7 161.0,185.3 163.0,187.0 165.0,188.5 167.0,189.3 169.0,189.6 171.0,190.0 173.0,189.4 175.0,188.9 177.0,188.2 179.0,187.0 181.0,186.0 183.0,185.1 185.0,185.0 187.0,185.4 189.0,185.9 191.0,186.0 193.0,186.1 195.0,185.9 197.0,185.2 199.0,184.1 201.0,181.4 203.0,177.0 205.0,172.9 207.0,168.7 209.0,164.5 211.0,160.4 213.0,156.2 215.0,152.7 217.0,150.1 219.0,146.2 221.0,141.4 223.0,136.9 225.0,133.3 227.0,130.4 229.0,127.4 231.0,124.6 233.0,122.0 235.0,120.2 237.0,118.9 239.0,118.2 241.0,117.5 243.0,116.6 245.0,115.4 247.0,113.4 249.0,110.9 251.0,107.9 253.0,104.9 255.0,101.8 257.0,99.6 259.0,97.4 261.0,95.4 263.0,93.5 265.0,91.8 267.0,89.7 269.0,88.1 271.0,86.6 273.0,85.1 275.0,83.7 277.0,82.4 279.0,81.4 281.0,81.1 283.0,80.7 285.0,80.5 287.0,80.0 289.0,79.5 291.0,79.0 293.0,78.3 295.0,77.8 297.0,77.4 299.0,77.4 301.0,77.6 303.0,77.8 305.0,78.2 307.0,78.3 309.0,78.3 311.0,78.0 313.0,77.6 315.0,77.3 317.0,77.3 319.0,77.4 321.0,77.5 323.0,78.1 325.0,78.7 327.0,79.2 329.0,79.6 331.0,79.8 333.0,79.6 335.0,79.6 337.0,79.4 339.0,79.1 341.0,79.0 343.0,78.3 345.0,77.7 347.0,77.0 349.0,76.2 351.0,75.3 353.0,74.3 355.0,73.5 357.0,72.8 359.0,72.0 361.0,71.5 363.0,71.3 365.0,71.6 367.0,71.5 369.0,71.8 371.0,71.6 373.0,71.6 375.0,71.1 377.0,71.0 379.0,71.0 381.0,71.1 383.0,71.5 385.0,72.1 387.0,72.3 389.0,72.5 391.0,72.6 393.0,72.3 395.0,72.2 397.0,72.0 399.0,72.1 401.0,72.3 403.0,73.1 405.0,73.8 407.0,74.4 409.0,74.9 411.0,75.4 413.0,75.8 415.0,75.8 417.0,75.9 419.0,76.1 421.0,76.6 423.0,77.6 425.0,78.9 427.0,80.0 429.0,80.7 431.0,81.6 433.0,81.9 435.0,82.4 437.0,82.7 439.0,83.1 441.0,83.8 443.0,84.9 445.0,85.9 447.0,86.9 449.0,87.8 451.0,88.4 453.0,88.4 455.0,88.4 457.0,88.6 459.0,88.7 461.0,89.1 463.0,90.4 465.0,92.3 467.0,93.9 469.0,95.7 471.0,97.2 473.0,98.5 475.0,99.8 477.0,101.3 479.0,103.1 481.0,105.0 483.0,107.6 485.0,110.9 487.0,114.5 489.0,119.1 491.0,123.3 493.0,126.6 495.0,129.7 497.0,132.3 499.0,133.9 501.0,135.0 503.0,136.1 505.0,137.4 507.0,138.6 509.0,139.6 511.0,140.4 513.0,140.8 515.0,140.8 517.0,140.8 519.0,140.7 521.0,140.8 523.0,141.2 525.0,141.7 528.5,142.6" stroke="#00bfbf"/>
<polyline points="61.0,221.5 63.0,221.3 65.0,221.0 67.0,220.9 69.0,220.4 71.0,219.8 73.0,219.4 75.0,218.6 77.0,217.6 79.0,216.2 81.0,214.9 83.0,213.3 85.0,211.3 87.0,209.0 89.0,206.5 91.0,203.8 93.0,201.0 95.0,197.8 97.0,194.5 99.0,191.0 101.0,188.2 103.0,185.4 105.0,182.7 107.0,180.4 109.0,178.0 111.0,175.8 113.0,173.6 115.0,171.3 117.0,169.6 119.0,168.3 121.0,167.6 123.0,166.3 125.0,165.7 127.0,165.3 129.0,164.9 131.0,164.4 133.0,163.8 135.0,164.1 137.0,164.9 139.0,166.4 141.0,168.6 143.0,170.4 145.0,172.3 147.0,173.7 149.0,175.0 151.0,176.2 153.0,177.6 155.0,179.1 157.0,180.5 159.0,182.6 161.0,184.1 163.0,185.6 165.0,186.9 167.0,187.8 169.0,188.3 171.0,188.4 173.0,188.0 175.0,187.2 177.0,186.5 179.0,185.5 181.0,184.5 183.0,183.7 185.0,183.9 187.0,184.1 189.0,184.5 191.0,184.6 193.0,184.6 195.0,184.0 197.0,183.0 199.0,181.5 201.0,178.2 203.0,173.9 205.0,169.8 207.0,165.6 209.0,161.6 211.0,157.1 213.0,152.8 215.0,148.7 217.0,145.1 219.0,140.1 221.0,134.6 223.0,129.6 225.0,125.4 227.0,121.7 229.0,118.0 231.0,114.2 233.0,110.4 235.0,107.7 237.0,105.7 239.0,104.7 241.0,104.3 243.0,104.3 245.0,104.2 247.0,103.8 249.0,102.7 251.0,100.8 253.0,98.5 255.0,95.8 257.0,93.3 259.0,91.0 261.0,89.1 263.0,87.5 265.0,85.9 267.0,84.4 269.0,83.2 271.0,82.2 273.0,81.1 275.0,80.0 277.0,78.9 279.0,78.3 281.0,78.0 283.0,77.9 285.0,77.8 287.0,77.6 289.0,77.1 291.0,76.3 293.0,75.1 295.0,74.0 297.0,73.0 299.0,72.1 301.0,71.9 303.0,72.0 305.0,72.5 307.0,73.1 309.0,73.7 311.0,73.9 313.0,73.9 315.0,74.0 317.0,74.1 319.0,74.2 321.0,74.4 323.0,75.1 325.0,75.8 327.0,76.4 329.0,76.8 331.0,76.9 333.0,76.7 335.0,76.3 337.0,75.6 339.0,75.3 341.0,74.9 343.0,74.5 345.0,74.1 347.0,73.8 349.0,73.4 351.0,72.9 353.0,72.0 355.0,71.0 357.0,69.8 359.0,68.4 361.0,66.8 363.0,66.1 365.0,66.0 367.0,66.0 369.0,66.0 371.0,66.1 373.0,65.8 375.0,65.5 377.0,65.1 379.0,65.2 381.0,65.7 383.0,66.6 385.0,67.5 387.0,68.3 389.0,69.1 391.0,69.5 393.0,69.7 395.0,69.6 397.0,68.9 399.0,68.5 401.0,68.4 403.0,68.6 405.0,69.1 407.0,69.9 409.0,70.7 411.0,71.9 413.0,72.6 415.0,72.8 417.0,73.1 419.0,73.3 421.0,73.6 423.0,74.6 425.0,75.7 427.0,76.4 429.0,77.1 431.0,77.7 433.0,78.2 435.0,78.3 437.0,78.4 439.0,78.5 441.0,79.1 443.0,80.1 445.0,81.6 447.0,83.4 449.0,85.2 451.0,86.7 453.0,87.6 455.0,88.1 457.0,88.5 459.0,88.5 461.0,88.5 463.0,89.4 465.0,90.6 467.0,91.9 469.0,93.6 471.0,95.0 473.0,96.2 475.0,97.2 477.0,98.7 479.0,100.2 481.0,101.9 483.0,104.3 485.0,107.6 487.0,111.3 489.0,116.3 491.0,120.4 493.0,123.9 495.0,127.0 497.0,129.2 499.0,130.4 501.0,130.9 503.0,131.3 505.0,132.5 507.0,133.5 509.0,134.8 511.0,135.9 513.0,136.9 515.0,137.4 517.0,137.8 519.0,137.8 521.0,138.1 523.0,138.4 525.0,138.8 528.5,139.7" stroke="#bf00bf" stroke-dasharray="4 2"/>
<polyline points="61.0,219.2 63.0,218.9 65.0,218.8 67.0,218.3 69.0,217.7 71.0,216.8 73.0,216.1 75.0,215.0 77.0,213.5 79.0,211.9 81.0,210.0 83.0,208.1 85.0,205.9 87.0,203.7 89.0,201.2 91.0,198.7 93.0,196.4 95.0,193.3 97.0,190.0 99.0,186.0 101.0,182.2 103.0,178.6 105.0,174.6 107.0,171.0 109.0,167.6 111.0,164.8 113.0,162.7 115.0,160.9 117.0,159.3 119.0,158.5 121.0,157.1 123.0,155.0 125.0,153.8 127.0,153.4 129.0,153.3 131.0,153.5 133.0,153.3 135.0,153.9 137.0,154.5 139.0,155.5 141.0,156.8 143.0,157.9 145.0,159.3 147.0,161.4 149.0,163.7 151.0,166.3 153.0,168.9 155.0,171.4 157.0,173.7 159.0,176.2 161.0,177.9 163.0,179.1 165.0,179.6 167.0,180.3 169.0,180.5 171.0,180.7 173.0,180.6 175.0,179.9 177.0,179.1 179.0,178.3 181.0,177.4 183.0,176.9 185.0,176.3 187.0,176.5 189.0,177.4 191.0,177.9 193.0,178.2 195.0,178.0 197.0,177.0 199.0,174.7 201.0,170.9 203.0,166.1 205.0,160.8 207.0,155.1 209.0,149.1 211.0,142.9 213.0,137.9 215.0,133.6 217.0,129.9 219.0,125.8 221.0,121.4 223.0,117.1 225.0,113.5 227.0,110.1 229.0,107.4 231.0,104.4 233.0,101.8 235.0,100.0 237.0,98.3 239.0,96.6 241.0,94.8 243.0,92.5 245.0,90.2 247.0,88.0 249.0,86.2 251.0,85.0 253.0,84.2 255.0,83.5 257.0,82.9 259.0,82.0 261.0,80.6 263.0,78.8 265.0,77.1 267.0,75.2 269.0,73.6 271.0,72.4 273.0,71.7 275.0,70.7 277.0,70.1 279.0,69.3 281.0,68.7 283.0,68.0 285.0,67.2 287.0,66.6 289.0,66.0 291.0,65.3 293.0,64.8 295.0,64.3 297.0,63.9 299.0,63.4 301.0,63.1 303.0,62.8 305.0,62.6 307.0,62.5 309.0,62.6 311.0,62.7 313.0,62.7 315.0,63.2 317.0,63.6 319.0,63.9 321.0,64.5 323.0,65.1 325.0,65.9 327.0,66.7 329.0,67.3 331.0,67.9 333.0,68.1 335.0,68.5 337.0,68.5 339.0,68.6 341.0,68.4 343.0,67.4 345.0,66.1 347.0,65.2 349.0,64.6 351.0,64.0 353.0,63.5 355.0,63.3 357.0,62.8 359.0,62.1 361.0,60.8 363.0,60.0 365.0,59.7 367.0,59.4 369.0,59.1 371.0,58.9 373.0,58.6 375.0,58.2 377.0,58.0 379.0,57.8 381.0,58.4 383.0,58.7 385.0,58.9 387.0,59.0 389.0,59.3 391.0,60.0 393.0,60.9 395.0,62.0 397.0,62.7 399.0,63.3 401.0,63.6 403.0,63.8 405.0,63.8 407.0,63.4 409.0,63.1 411.0,63.6 413.0,64.0 415.0,64.3 417.0,64.6 419.0,65.2 421.0,65.8 423.0,66.7 425.0,67.7 427.0,67.8 429.0,68.0 431.0,68.8 433.0,69.5 435.0,70.4 437.0,71.1 439.0,72.0 441.0,72.8 443.0,73.6 445.0,74.4 447.0,75.2 449.0,76.1 451.0,77.0 453.0,77.6 455.0,78.3 457.0,79.7 459.0,80.7 461.0,81.4 463.0,83.1 465.0,84.6 467.0,85.6 469.0,86.8 471.0,87.8 473.0,89.0 475.0,90.1 477.0,91.8 479.0,93.7 481.0,95.4 483.0,97.5 485.0,100.1 487.0,103.1 489.0,107.2 491.0,111.3 493.0,114.8 495.0,118.8 497.0,122.4 499.0,124.5 501.0,125.7 503.0,126.2 505.0,127.3 507.0,127.9 509.0,128.7 511.0,129.3 513.0,129.8 515.0,130.0 517.0,130.2 519.0,130.2 521.0,130.7 523.0,131.3 525.0,131.6 528.5,131.8" stroke="#ff0000"/>
<polyline points="61.0,221.7 63.0,221.6 65.0,221.5 67.0,221.4 69.0,220.9 71.0,220.6 73.0,220.2 75.0,219.5 77.0,218.5 79.0,217.2 81.0,216.2 83.0,215.0 85.0,213.5 87.0,211.5 89.0,209.2 91.0,206.7 93.0,203.8 95.0,200.8 97.0,197.6 99.0,194.3 101.0,191.8 103.0,189.7 105.0,187.8 107.0,186.1 109.0,184.6 111.0,182.4 113.0,179.9 115.0,177.4 117.0,174.9 119.0,173.5 121.0,173.0 123.0,173.0 125.0,173.2 127.0,173.3 129.0,173.2 131.0,172.9 133.0,172.5 135.0,172.5 137.0,172.9 139.0,174.3 141.0,176.1 143.0,178.0 145.0,179.8 147.0,181.1 149.0,181.9 151.0,182.3 153.0,182.9 155.0,183.6 157.0,184.7 159.0,185.9 161.0,187.5 163.0,189.2 165.0,190.9 167.0,191.8 169.0,192.3 171.0,192.5 173.0,191.6 175.0,190.4 177.0,189.3 179.0,187.8 181.0,186.4 183.0,185.6 185.0,185.7 187.0,186.2 189.0,186.6 191.0,186.6 193.0,186.5 195.0,185.8 197.0,184.7 199.0,183.3 201.0,180.3 203.0,176.5 205.0,172.9 207.0,169.5 209.0,166.4 211.0,163.1 213.0,158.9 215.0,154.7 217.0,150.7 219.0,145.2 221.0,138.8 223.0,133.6 225.0,129.6 227.0,126.4 229.0,122.9 231.0,118.7 233.0,114.4 235.0,110.5 237.0,107.2 239.0,105.0 241.0,103.9 243.0,103.9 245.0,104.0 247.0,104.0 249.0,103.0 251.0,101.1 253.0,98.3 255.0,94.9 257.0,91.8 259.0,89.3 261.0,87.6 263.0,86.6 265.0,86.2 267.0,85.9 269.0,85.5 271.0,85.2 273.0,84.3 275.0,83.0 277.0,81.6 279.0,80.9 281.0,80.7 283.0,80.5 285.0,80.8 287.0,80.9 289.0,80.7 291.0,80.1 293.0,78.9 295.0,77.3 297.0,75.7 299.0,74.5 301.0,73.9 303.0,73.8 305.0,74.4 307.0,75.2 309.0,75.6 311.0,76.1 313.0,76.0 315.0,75.4 317.0,75.0 319.0,74.5 321.0,74.5 323.0,75.0 325.0,76.0 327.0,77.2 329.0,78.4 331.0,78.8 333.0,78.9 335.0,78.7 337.0,78.1 339.0,77.4 341.0,76.9 343.0,76.6 345.0,76.5 347.0,76.5 349.0,76.6 351.0,76.1 353.0,75.1 355.0,73.8 357.0,72.0 359.0,70.0 361.0,68.0 363.0,66.9 365.0,66.7 367.0,66.8 369.0,67.0 371.0,67.2 373.0,67.0 375.0,66.4 377.0,65.4 379.0,64.8 381.0,64.8 383.0,65.4 385.0,66.3 387.0,67.6 389.0,69.0 391.0,69.8 393.0,70.5 395.0,70.4 397.0,69.8 399.0,69.2 401.0,69.1 403.0,69.4 405.0,70.6 407.0,72.2 409.0,73.8 411.0,75.4 413.0,76.5 415.0,76.9 417.0,76.8 419.0,76.2 421.0,76.0 423.0,76.3 425.0,77.2 427.0,77.9 429.0,79.0 431.0,79.9 433.0,80.4 435.0,80.2 437.0,79.8 439.0,79.5 441.0,79.5 443.0,80.2 445.0,81.5 447.0,83.8 449.0,86.0 451.0,87.9 453.0,89.2 455.0,89.8 457.0,90.1 459.0,89.8 461.0,89.5 463.0,90.4 465.0,92.0 467.0,93.7 469.0,96.2 471.0,98.5 473.0,100.2 475.0,101.7 477.0,102.9 479.0,103.8 481.0,105.2 483.0,107.1 485.0,110.0 487.0,113.5 489.0,118.3 491.0,122.7 493.0,126.1 495.0,128.7 497.0,130.5 499.0,131.2 501.0,131.1 503.0,131.2 505.0,132.0 507.0,133.3 509.0,134.9 511.0,136.4 513.0,137.7 515.0,138.4 517.0,138.8 519.0,138.7 521.0,138.8 523.0,139.1 525.0,139.6 528.5,141.3" stroke="#00bfbf"/>
<polyline points="61.0,220.9 63.0,220.7 65.0,220.5 67.0,220.1 69.0,219.5 71.0,218.8 73.0,218.4 75.0,217.7 77.0,216.4 79.0,214.7 81.0,213.2 83.0,211.1 85.0,209.1 87.0,206.8 89.0,204.4 91.0,201.9 93.0,199.7 95.0,196.8 97.0,193.6 99.0,190.1 101.0,186.6 103.0,183.4 105.0,179.8 107.0,176.6 109.0,173.5 111.0,170.9 113.0,168.8 115.0,166.8 117.0,165.2 119.0,164.0 121.0,162.7 123.0,160.9 125.0,160.0 127.0,159.5 129.0,159.6 131.0,159.8 133.0,160.2 135.0,161.1 137.0,162.0 139.0,163.4 141.0,164.7 143.0,165.6 145.0,166.7 147.0,168.2 149.0,170.1 151.0,172.1 153.0,174.3 155.0,176.5 157.0,178.8 159.0,181.1 161.0,182.8 163.0,184.3 165.0,185.2 167.0,186.0 169.0,186.5 171.0,186.6 173.0,186.4 175.0,185.8 177.0,185.2 179.0,184.0 181.0,182.7 183.0,181.8 185.0,181.3 187.0,181.4 189.0,182.0 191.0,182.6 193.0,182.8 195.0,182.8 197.0,182.2 199.0,180.7 201.0,177.5 203.0,172.9 205.0,168.3 207.0,163.5 209.0,158.7 211.0,154.2 213.0,150.2 215.0,147.1 217.0,144.4 219.0,140.6 221.0,135.4 223.0,130.4 225.0,126.1 227.0,122.5 229.0,119.3 231.0,116.5 233.0,114.1 235.0,112.6 237.0,111.3 239.0,110.1 241.0,108.4 243.0,106.4 245.0,104.1 247.0,101.4 249.0,99.2 251.0,97.2 253.0,95.7 255.0,94.3 257.0,93.3 259.0,92.0 261.0,90.4 263.0,88.7 265.0,86.7 267.0,85.1 269.0,83.6 271.0,82.7 273.0,82.1 275.0,81.5 277.0,80.7 279.0,80.0 281.0,79.6 283.0,78.9 285.0,78.0 287.0,77.5 289.0,76.8 291.0,76.2 293.0,75.9 295.0,75.6 297.0,75.4 299.0,75.4 301.0,75.3 303.0,75.1 305.0,74.9 307.0,74.7 309.0,74.7 311.0,74.5 313.0,74.7 315.0,74.7 317.0,75.2 319.0,75.6 321.0,76.0 323.0,76.5 325.0,76.9 327.0,77.4 329.0,77.8 331.0,78.2 333.0,78.7 335.0,79.1 337.0,79.4 339.0,79.6 341.0,79.3 343.0,78.5 345.0,77.4 347.0,76.0 349.0,74.8 351.0,73.7 353.0,73.0 355.0,72.4 357.0,71.6 359.0,71.0 361.0,70.1 363.0,69.3 365.0,68.8 367.0,68.5 369.0,67.9 371.0,67.7 373.0,67.6 375.0,67.4 377.0,67.3 379.0,67.6 381.0,68.1 383.0,68.4 385.0,68.3 387.0,68.3 389.0,68.4 391.0,68.6 393.0,69.1 395.0,69.8 397.0,70.3 399.0,70.9 401.0,71.6 403.0,72.0 405.0,72.5 407.0,72.6 409.0,72.6 411.0,73.0 413.0,73.5 415.0,73.8 417.0,74.2 419.0,74.8 421.0,75.4 423.0,76.0 425.0,76.8 427.0,77.0 429.0,77.4 431.0,77.9 433.0,78.7 435.0,79.4 437.0,80.4 439.0,81.2 441.0,82.3 443.0,83.3 445.0,84.3 447.0,85.1 449.0,85.8 451.0,86.4 453.0,87.0 455.0,87.8 457.0,88.8 459.0,89.8 461.0,90.8 463.0,92.4 465.0,93.8 467.0,95.2 469.0,96.6 471.0,97.7 473.0,99.0 475.0,100.4 477.0,102.2 479.0,104.1 481.0,106.1 483.0,108.4 485.0,111.0 487.0,113.7 489.0,117.4 491.0,121.0 493.0,124.2 495.0,127.3 497.0,130.2 499.0,132.1 501.0,133.4 503.0,134.3 505.0,135.4 507.0,136.2 509.0,136.8 511.0,137.4 513.0,137.8 515.0,138.3 517.0,138.4 519.0,138.8 521.0,139.3 523.0,140.0 525.0,140.3 528.5,140.6" stroke="#0000ff"/>
<polyline points="61.0,220.9 63.0,220.8 65.0,220.5 67.0,220.2 69.0,219.5 71.0,218.7 73.0,218.2 75.0,217.5 77.0,216.2 79.0,214.8 81.0,213.5 83.0,211.7 85.0,209.9 87.0,207.5 89.0,205.0 91.0,202.2 93.0,199.5 95.0,196.6 97.0,193.4 99.0,190.1 101.0,187.3 103.0,184.3 105.0,181.4 107.0,178.3 109.0,175.3 111.0,172.4 113.0,169.9 115.0,167.7 117.0,166.0 119.0,165.4 121.0,164.8 123.0,163.9 125.0,163.2 127.0,162.6 129.0,161.9 131.0,161.2 133.0,160.7 135.0,161.1 137.0,162.1 139.0,164.0 141.0,166.1 143.0,167.9 145.0,169.4 147.0,170.7 149.0,172.1 151.0,173.2 153.0,174.8 155.0,176.6 157.0,178.6 159.0,180.8 161.0,183.0 163.0,184.5 165.0,185.7 167.0,186.4 169.0,186.7 171.0,186.6 173.0,186.0 175.0,185.1 177.0,184.4 179.0,183.6 181.0,182.8 183.0,182.1 185.0,181.9 187.0,182.2 189.0,182.7 191.0,182.7 193.0,182.6 195.0,182.2 197.0,181.3 199.0,179.7 201.0,176.7 203.0,172.7 205.0,168.3 207.0,163.6 209.0,158.7 211.0,153.3 213.0,148.3 215.0,143.5 217.0,139.7 219.0,135.6 221.0,130.9 223.0,126.8 225.0,123.3 227.0,119.7 229.0,115.8 231.0,111.7 233.0,107.7 235.0,104.8 237.0,103.2 239.0,102.3 241.0,102.1 243.0,101.9 245.0,101.4 247.0,100.1 249.0,98.1 251.0,95.6 253.0,92.9 255.0,90.5 257.0,88.9 259.0,87.8 261.0,86.8 263.0,85.9 265.0,84.7 267.0,83.4 269.0,82.1 271.0,80.7 273.0,79.4 275.0,77.9 277.0,76.8 279.0,76.3 281.0,76.3 283.0,76.4 285.0,76.3 287.0,76.1 289.0,75.4 291.0,74.3 293.0,73.2 295.0,72.1 297.0,71.2 299.0,70.7 301.0,70.8 303.0,71.0 305.0,71.5 307.0,72.0 309.0,72.1 311.0,71.9 313.0,71.4 315.0,71.0 317.0,70.9 319.0,71.0 321.0,71.6 323.0,72.6 325.0,73.7 327.0,74.6 329.0,75.1 331.0,75.1 333.0,74.6 335.0,74.4 337.0,73.9 339.0,73.8 341.0,73.8 343.0,73.6 345.0,73.1 347.0,72.6 349.0,72.0 351.0,71.0 353.0,69.8 355.0,68.7 357.0,67.6 359.0,66.4 361.0,65.3 363.0,64.9 365.0,65.0 367.0,65.3 369.0,65.2 371.0,64.8 373.0,64.4 375.0,63.5 377.0,63.0 379.0,62.7 381.0,63.5 383.0,64.5 385.0,65.4 387.0,66.2 389.0,66.9 391.0,67.3 393.0,67.4 395.0,67.3 397.0,67.1 399.0,66.9 401.0,67.5 403.0,68.4 405.0,69.4 407.0,70.2 409.0,70.8 411.0,71.6 413.0,71.9 415.0,71.6 417.0,71.4 419.0,71.5 421.0,72.1 423.0,73.2 425.0,74.7 427.0,75.7 429.0,76.5 431.0,77.1 433.0,77.2 435.0,77.2 437.0,77.3 439.0,77.6 441.0,78.3 443.0,79.5 445.0,81.2 447.0,82.9 449.0,84.3 451.0,85.3 453.0,85.8 455.0,85.6 457.0,85.9 459.0,86.2 461.0,86.5 463.0,88.2 465.0,90.1 467.0,91.8 469.0,93.5 471.0,94.9 473.0,95.8 475.0,96.5 477.0,97.6 479.0,99.0 481.0,100.7 483.0,103.1 485.0,106.3 487.0,110.1 489.0,114.7 491.0,118.8 493.0,121.9 495.0,124.6 497.0,127.0 499.0,128.3 501.0,129.0 503.0,129.8 505.0,131.1 507.0,132.5 509.0,133.8 511.0,134.8 513.0,135.3 515.0,135.3 517.0,135.2 519.0,135.1 521.0,135.2 523.0,135.8 525.0,136.4 528.5,137.8" stroke="#008000"/>
<polyline points="61.0,222.0 63.0,221.8 65.0,221.5 67.0,221.2 69.0,220.9 71.0,220.5 73.0,220.3 75.0,219.9 77.0,219.0 79.0,217.7 81.0,216.5 83.0,214.8 85.0,212.9 87.0,210.7 89.0,208.4 91.0,206.1 93.0,203.8 95.0,201.3 97.0,198.3 99.0,195.2 101.0,192.6 103.0,189.9 105.0,187.5 107.0,185.8 109.0,184.2 111.0,182.8 113.0,181.5 115.0,180.1 117.0,178.7 119.0,177.6 121.0,177.0 123.0,176.3 125.0,175.7 127.0,175.1 129.0,174.8 131.0,174.8 133.0,175.2 135.0,176.0 137.0,176.9 139.0,177.7 141.0,178.5 143.0,178.8 145.0,179.2 147.0,179.4 149.0,180.0 151.0,180.7 153.0,181.7 155.0,183.2 157.0,184.6 159.0,186.0 161.0,187.1 163.0,188.4 165.0,189.3 167.0,189.8 169.0,190.3 171.0,190.5 173.0,190.0 175.0,189.6 177.0,189.0 179.0,187.9 181.0,186.4 183.0,185.4 185.0,185.2 187.0,185.4 189.0,185.7 191.0,185.9 193.0,186.1 195.0,186.0 197.0,185.4 199.0,184.1 201.0,181.1 203.0,176.7 205.0,172.3 207.0,167.8 209.0,163.7 211.0,159.7 213.0,156.0 215.0,152.7 217.0,149.9 219.0,145.4 221.0,139.2 223.0,133.3 225.0,128.1 227.0,123.7 229.0,119.6 231.0,116.2 233.0,113.4 235.0,111.4 237.0,110.6 239.0,109.9 241.0,109.1 243.0,108.1 245.0,106.6 247.0,104.8 249.0,102.8 251.0,100.7 253.0,98.8 255.0,96.9 257.0,95.1 259.0,93.1 261.0,91.2 263.0,89.2 265.0,87.0 267.0,85.1 269.0,83.3 271.0,82.4 273.0,81.4 275.0,80.4 277.0,79.5 279.0,78.8 281.0,78.5 283.0,77.9 285.0,77.1 287.0,76.2 289.0,75.4 291.0,74.4 293.0,73.5 295.0,72.7 297.0,72.2 299.0,72.0 301.0,71.7 303.0,71.5 305.0,71.6 307.0,71.8 309.0,71.7 311.0,71.6 313.0,71.7 315.0,71.7 317.0,72.0 319.0,72.2 321.0,72.4 323.0,72.8 325.0,73.2 327.0,73.6 329.0,73.7 331.0,73.6 333.0,73.5 335.0,73.6 337.0,73.4 339.0,73.4 341.0,73.3 343.0,72.8 345.0,71.8 347.0,70.9 349.0,70.2 351.0,69.3 353.0,68.6 355.0,67.9 357.0,67.1 359.0,66.1 361.0,65.0 363.0,64.3 365.0,64.1 367.0,63.9 369.0,63.8 371.0,63.7 373.0,63.4 375.0,63.5 377.0,63.5 379.0,63.8 381.0,64.7 383.0,65.4 385.0,65.9 387.0,66.2 389.0,66.4 391.0,66.7 393.0,67.0 395.0,67.4 397.0,67.7 399.0,68.0 401.0,68.4 403.0,68.9 405.0,69.4 407.0,69.8 409.0,70.1 411.0,70.9 413.0,71.6 415.0,72.2 417.0,72.9 419.0,73.4 421.0,74.2 423.0,75.1 425.0,76.1 427.0,76.4 429.0,76.6 431.0,77.1 433.0,77.3 435.0,77.8 437.0,78.4 439.0,79.3 441.0,80.3 443.0,81.3 445.0,82.5 447.0,83.6 449.0,84.5 451.0,85.2 453.0,85.8 455.0,86.0 457.0,86.8 459.0,87.2 461.0,87.4 463.0,88.6 465.0,89.8 467.0,90.8 469.0,91.8 471.0,92.8 473.0,93.9 475.0,95.1 477.0,96.7 479.0,98.7 481.0,100.6 483.0,103.0 485.0,105.9 487.0,109.2 489.0,113.3 491.0,117.2 493.0,120.3 495.0,123.6 497.0,126.6 499.0,128.1 501.0,129.2 503.0,130.0 505.0,131.1 507.0,132.0 509.0,133.1 511.0,133.8 513.0,134.5 515.0,135.1 517.0,135.5 519.0,135.7 521.0,136.2 523.0,136.9 525.0,137.2 528.5,137.8" stroke="#0000ff"/>
<polyline points="61.0,220.0 63.0,219.8 65.0,219.6 67.0,219.4 69.0,218.8 71.0,218.1 73.0,217.4 75.0,216.0 77.0,214.6 79.0,212.9 81.0,211.0 83.0,209.2 85.0,207.3 87.0,205.2 89.0,203.0 91.0,200.5 93.0,198.0 95.0,195.0 97.0,191.6 99.0,187.9 101.0,184.6 103.0,181.3 105.0,178.1 107.0,175.2 109.0,172.3 111.0,169.5 113.0,167.1 115.0,164.7 117.0,162.7 119.0,161.3 121.0,160.1 123.0,158.8 125.0,158.4 127.0,158.4 129.0,158.8 131.0,158.9 133.0,158.8 135.0,158.8 137.0,158.8 139.0,159.6 141.0,160.8 143.0,162.1 145.0,163.8 147.0,165.6 149.0,167.7 151.0,169.9 153.0,172.0 155.0,174.2 157.0,176.1 159.0,178.3 161.0,180.2 163.0,181.8 165.0,183.0 167.0,183.9 169.0,184.6 171.0,184.9 173.0,184.6 175.0,183.4 177.0,182.5 179.0,181.3 181.0,180.2 183.0,179.5 185.0,179.3 187.0,179.7 189.0,180.4 191.0,180.8 193.0,181.0 195.0,180.7 197.0,179.6 199.0,177.5 201.0,173.8 203.0,169.3 205.0,164.4 207.0,159.3 209.0,154.0 211.0,148.5 213.0,143.3 215.0,138.3 217.0,133.4 219.0,128.2 221.0,122.9 223.0,118.6 225.0,115.5 227.0,113.2 229.0,111.1 231.0,108.9 233.0,106.5 235.0,104.3 237.0,102.2 239.0,100.3 241.0,98.2 243.0,96.7 245.0,95.0 247.0,93.7 249.0,92.2 251.0,90.9 253.0,89.5 255.0,87.9 257.0,86.2 259.0,84.6 261.0,83.1 263.0,81.7 265.0,80.5 267.0,79.4 269.0,78.7 271.0,77.9 273.0,77.4 275.0,76.3 277.0,74.9 279.0,73.9 281.0,73.0 283.0,72.5 285.0,72.0 287.0,71.8 289.0,71.7 291.0,71.6 293.0,71.2 295.0,70.9 297.0,70.3 299.0,69.9 301.0,69.5 303.0,69.4 305.0,69.5 307.0,69.8 309.0,70.2 311.0,70.4 313.0,70.3 315.0,70.2 317.0,70.1 319.0,69.7 321.0,69.5 323.0,70.0 325.0,70.7 327.0,71.7 329.0,72.6 331.0,73.3 333.0,73.7 335.0,74.1 337.0,73.9 339.0,73.4 341.0,72.8 343.0,71.7 345.0,70.7 347.0,69.8 349.0,69.4 351.0,68.8 353.0,68.2 355.0,67.7 357.0,66.8 359.0,65.6 361.0,64.2 363.0,63.4 365.0,63.3 367.0,63.6 369.0,63.9 371.0,64.1 373.0,64.1 375.0,63.8 377.0,63.3 379.0,62.7 381.0,62.6 383.0,62.6 385.0,62.4 387.0,62.6 389.0,63.0 391.0,63.9 393.0,64.7 395.0,65.6 397.0,65.8 399.0,66.1 401.0,66.0 403.0,66.3 405.0,66.5 407.0,66.9 409.0,67.4 411.0,68.5 413.0,69.4 415.0,69.6 417.0,69.7 419.0,69.8 421.0,69.7 423.0,70.3 425.0,71.2 427.0,71.8 429.0,72.9 431.0,74.3 433.0,75.4 435.0,76.4 437.0,77.2 439.0,77.6 441.0,78.0 443.0,78.6 445.0,79.3 447.0,80.3 449.0,81.3 451.0,82.3 453.0,83.1 455.0,83.6 457.0,84.3 459.0,84.8 461.0,84.8 463.0,86.0 465.0,87.4 467.0,88.8 469.0,90.6 471.0,92.5 473.0,94.2 475.0,95.7 477.0,97.5 479.0,99.0 481.0,100.5 483.0,102.1 485.0,104.6 487.0,107.5 489.0,112.0 491.0,116.2 493.0,120.0 495.0,123.9 497.0,127.0 499.0,128.7 501.0,129.7 503.0,130.2 505.0,131.0 507.0,132.0 509.0,132.9 511.0,133.9 513.0,134.6 515.0,135.2 517.0,135.3 519.0,135.0 521.0,135.0 523.0,135.0 525.0,135.0 528.5,135.5" stroke="#ff0000"/>
<polyline points="61.0,219.3 63.0,219.2 65.0,218.9 67.0,218.4 69.0,217.7 71.0,216.9 73.0,216.0 75.0,214.9 77.0,213.4 79.0,211.6 81.0,209.8 83.0,207.9 85.0,205.8 87.0,203.7 89.0,201.4 91.0,199.1 93.0,196.5 95.0,193.5 97.0,190.2 99.0,186.2 101.0,182.7 103.0,179.1 105.0,175.1 107.0,171.7 109.0,168.3 111.0,165.5 113.0,163.3 115.0,161.2 117.0,159.8 119.0,158.9 121.0,157.5 123.0,156.0 125.0,155.3 127.0,155.1 129.0,155.3 131.0,155.3 133.0,155.1 135.0,155.5 137.0,155.8 139.0,156.7 141.0,157.9 143.0,159.1 145.0,160.8 147.0,162.8 149.0,165.2 151.0,167.5 153.0,170.1 155.0,172.4 157.0,174.6 159.0,176.9 161.0,178.6 163.0,179.6 165.0,180.3 167.0,180.6 169.0,180.8 171.0,180.8 173.0,180.5 175.0,179.6 177.0,178.6 179.0,177.8 181.0,177.0 183.0,176.5 185.0,176.2 187.0,176.4 189.0,177.5 191.0,178.2 193.0,178.5 195.0,178.2 197.0,177.0 199.0,174.6 201.0,170.6 203.0,165.9 205.0,160.5 207.0,154.9 209.0,148.6 211.0,142.1 213.0,136.5 215.0,131.5 217.0,126.8 219.0,122.3 221.0,117.5 223.0,113.5 225.0,110.3 227.0,107.5 229.0,104.7 231.0,102.1 233.0,99.3 235.0,97.0 237.0,94.9 239.0,93.0 241.0,91.1 243.0,89.0 245.0,87.1 247.0,85.4 249.0,84.4 251.0,83.7 253.0,83.1 255.0,82.9 257.0,82.3 259.0,81.6 261.0,80.7 263.0,79.4 265.0,78.3 267.0,77.0 269.0,75.8 271.0,75.1 273.0,74.5 275.0,73.6 277.0,72.8 279.0,72.0 281.0,71.3 283.0,71.0 285.0,70.6 287.0,70.3 289.0,70.1 291.0,69.9 293.0,69.6 295.0,69.1 297.0,68.7 299.0,68.3 301.0,67.9 303.0,67.5 305.0,67.3 307.0,67.2 309.0,67.3 311.0,67.1 313.0,67.1 315.0,67.3 317.0,67.4 319.0,67.6 321.0,68.0 323.0,68.6 325.0,69.3 327.0,70.2 329.0,71.0 331.0,71.6 333.0,72.0 335.0,72.2 337.0,72.1 339.0,71.7 341.0,71.4 343.0,70.1 345.0,68.8 347.0,67.8 349.0,67.3 351.0,66.6 353.0,66.0 355.0,65.7 357.0,65.2 359.0,64.2 361.0,63.0 363.0,62.1 365.0,61.9 367.0,61.8 369.0,61.6 371.0,61.4 373.0,61.1 375.0,60.7 377.0,60.3 379.0,59.9 381.0,60.1 383.0,60.4 385.0,60.4 387.0,60.6 389.0,61.3 391.0,62.1 393.0,63.3 395.0,64.5 397.0,65.0 399.0,65.6 401.0,66.1 403.0,66.3 405.0,66.3 407.0,66.4 409.0,66.5 411.0,67.2 413.0,67.6 415.0,68.1 417.0,68.5 419.0,68.9 421.0,69.3 423.0,70.4 425.0,71.3 427.0,71.9 429.0,72.6 431.0,73.5 433.0,74.6 435.0,75.5 437.0,76.3 439.0,76.8 441.0,77.3 443.0,78.0 445.0,78.6 447.0,79.5 449.0,80.3 451.0,81.1 453.0,82.0 455.0,82.7 457.0,83.8 459.0,84.9 461.0,85.5 463.0,87.0 465.0,88.5 467.0,89.7 469.0,91.0 471.0,92.2 473.0,93.4 475.0,94.6 477.0,96.1 479.0,97.5 481.0,99.0 483.0,100.7 485.0,103.0 487.0,105.8 489.0,110.1 491.0,114.1 493.0,117.9 495.0,121.8 497.0,124.9 499.0,126.9 501.0,128.0 503.0,128.5 505.0,129.3 507.0,130.0 509.0,130.8 511.0,131.5 513.0,131.9 515.0,132.3 517.0,132.3 519.0,132.3 521.0,132.6 523.0,133.0 525.0,133.4 528.5,134.1" stroke="#bf00bf"/>
<polyline points="61.0,219.1 63.0,219.1 65.0,219.0 67.0,218.7 69.0,218.0 71.0,217.1 73.0,216.4 75.0,215.1 77.0,213.9 79.0,212.3 81.0,210.8 83.0,208.9 85.0,207.1 87.0,204.8 89.0,202.2 91.0,199.5 93.0,196.5 95.0,193.3 97.0,189.8 99.0,186.3 101.0,183.1 103.0,180.2 105.0,177.3 107.0,174.4 109.0,171.6 111.0,168.8 113.0,166.0 115.0,163.3 117.0,161.2 119.0,160.0 121.0,158.8 123.0,157.3 125.0,156.7 127.0,156.1 129.0,155.9 131.0,155.4 133.0,154.8 135.0,154.8 137.0,155.2 139.0,156.8 141.0,158.8 143.0,161.1 145.0,163.4 147.0,165.5 149.0,167.3 151.0,168.9 153.0,170.5 155.0,172.2 157.0,173.7 159.0,176.1 161.0,177.8 163.0,179.2 165.0,180.1 167.0,180.9 169.0,181.4 171.0,181.4 173.0,180.9 175.0,180.0 177.0,179.0 179.0,178.3 181.0,177.6 183.0,177.1 185.0,177.0 187.0,177.1 189.0,177.9 191.0,178.2 193.0,178.0 195.0,177.3 197.0,175.8 199.0,173.4 201.0,169.7 203.0,165.8 205.0,161.2 207.0,156.3 209.0,151.2 211.0,145.6 213.0,140.5 215.0,135.5 217.0,130.7 219.0,126.0 221.0,121.5 223.0,117.9 225.0,115.1 227.0,112.6 229.0,110.0 231.0,106.9 233.0,103.6 235.0,100.7 237.0,98.6 239.0,97.3 241.0,96.4 243.0,96.3 245.0,96.3 247.0,95.9 249.0,95.0 251.0,93.2 253.0,90.9 255.0,88.3 257.0,85.8 259.0,83.5 261.0,81.9 263.0,80.7 265.0,79.8 267.0,79.0 269.0,78.1 271.0,77.5 273.0,76.7 275.0,75.6 277.0,74.4 279.0,73.6 281.0,73.2 283.0,73.0 285.0,73.0 287.0,72.7 289.0,72.5 291.0,71.6 293.0,70.3 295.0,68.9 297.0,67.6 299.0,66.6 301.0,66.0 303.0,66.2 305.0,66.6 307.0,67.4 309.0,68.2 311.0,68.4 313.0,68.4 315.0,68.3 317.0,67.8 319.0,67.5 321.0,67.4 323.0,68.0 325.0,68.8 327.0,69.8 329.0,70.5 331.0,70.9 333.0,70.8 335.0,70.5 337.0,69.9 339.0,69.5 341.0,69.4 343.0,69.1 345.0,68.7 347.0,68.6 349.0,68.8 351.0,68.5 353.0,67.6 355.0,66.8 357.0,65.3 359.0,63.7 361.0,61.9 363.0,60.9 365.0,60.9 367.0,61.2 369.0,61.7 371.0,61.8 373.0,61.7 375.0,61.4 377.0,60.7 379.0,60.5 381.0,61.0 383.0,61.7 385.0,62.3 387.0,63.3 389.0,64.3 391.0,65.0 393.0,65.6 395.0,65.6 397.0,65.3 399.0,64.8 401.0,64.8 403.0,65.2 405.0,65.8 407.0,66.8 409.0,67.9 411.0,69.4 413.0,70.7 415.0,70.8 417.0,70.9 419.0,70.9 421.0,70.9 423.0,71.6 425.0,72.6 427.0,73.1 429.0,73.8 431.0,74.6 433.0,75.1 435.0,75.3 437.0,75.2 439.0,75.2 441.0,75.4 443.0,76.3 445.0,77.7 447.0,79.5 449.0,81.3 451.0,82.9 453.0,83.9 455.0,84.3 457.0,84.4 459.0,84.3 461.0,83.8 463.0,84.6 465.0,85.9 467.0,87.3 469.0,88.9 471.0,90.7 473.0,92.2 475.0,93.5 477.0,94.9 479.0,96.3 481.0,97.8 483.0,99.8 485.0,102.8 487.0,106.4 489.0,111.4 491.0,115.5 493.0,119.1 495.0,122.4 497.0,124.8 499.0,125.8 501.0,126.1 503.0,126.3 505.0,127.3 507.0,128.5 509.0,130.0 511.0,131.5 513.0,132.6 515.0,133.2 517.0,133.3 519.0,133.3 521.0,133.2 523.0,133.5 525.0,133.8 528.5,134.6" stroke="#0000ff"/>
<polyline points="61.0,219.4 63.0,219.2 65.0,219.3 67.0,218.8 69.0,218.2 71.0,217.4 73.0,216.3 75.0,215.1 77.0,213.6 79.0,211.8 81.0,210.3 83.0,208.6 85.0,207.0 87.0,205.0 89.0,202.9 91.0,200.4 93.0,197.8 95.0,194.7 97.0,191.3 99.0,187.6 101.0,184.4 103.0,181.0 105.0,177.5 107.0,174.4 109.0,170.9 111.0,167.7 113.0,164.7 115.0,161.8 117.0,159.7 119.0,158.6 121.0,157.5 123.0,156.4 125.0,156.3 127.0,156.6 129.0,157.1 131.0,156.8 133.0,156.2 135.0,155.7 137.0,155.6 139.0,156.0 141.0,157.5 143.0,158.9 145.0,161.0 147.0,163.0 149.0,165.2 151.0,167.4 153.0,169.6 155.0,171.7 157.0,173.7 159.0,176.4 161.0,178.3 163.0,180.1 165.0,181.2 167.0,181.9 169.0,182.4 171.0,182.4 173.0,181.8 175.0,180.2 177.0,178.7 179.0,177.6 181.0,176.5 183.0,175.9 185.0,175.6 187.0,175.7 189.0,176.7 191.0,177.2 193.0,177.1 195.0,176.7 197.0,175.3 199.0,172.9 201.0,169.0 203.0,164.8 205.0,160.1 207.0,155.0 209.0,149.4 211.0,143.3 213.0,137.8 215.0,132.6 217.0,128.1 219.0,124.0 221.0,120.4 223.0,118.3 225.0,117.1 227.0,116.3 229.0,115.5 231.0,113.8 233.0,111.6 235.0,108.9 237.0,106.2 239.0,103.6 241.0,101.5 243.0,99.7 245.0,98.2 247.0,96.8 249.0,95.5 251.0,94.0 253.0,92.1 255.0,90.2 257.0,88.4 259.0,86.9 261.0,85.8 263.0,85.0 265.0,84.4 267.0,83.7 269.0,83.1 271.0,82.3 273.0,81.2 275.0,79.6 277.0,77.8 279.0,76.2 281.0,75.1 283.0,74.6 285.0,74.3 287.0,74.4 289.0,74.3 291.0,74.2 293.0,73.5 295.0,72.9 297.0,71.9 299.0,71.2 301.0,70.7 303.0,70.5 305.0,70.6 307.0,70.6 309.0,70.9 311.0,70.8 313.0,70.3 315.0,69.8 317.0,69.1 319.0,68.7 321.0,68.7 323.0,69.3 325.0,70.6 327.0,72.1 329.0,73.5 331.0,74.7 333.0,75.2 335.0,75.4 337.0,75.2 339.0,74.6 341.0,74.0 343.0,72.9 345.0,71.9 347.0,71.3 349.0,71.0 351.0,70.3 353.0,69.7 355.0,68.8 357.0,68.0 359.0,66.6 361.0,65.4 363.0,65.0 365.0,65.1 367.0,65.6 369.0,66.1 371.0,66.5 373.0,66.3 375.0,65.7 377.0,64.8 379.0,63.9 381.0,63.6 383.0,63.5 385.0,63.8 387.0,64.4 389.0,65.5 391.0,66.8 393.0,68.0 395.0,68.7 397.0,69.1 399.0,69.3 401.0,69.7 403.0,70.1 405.0,70.7 407.0,71.4 409.0,72.0 411.0,72.9 413.0,73.5 415.0,73.2 417.0,72.8 419.0,72.1 421.0,71.8 423.0,72.2 425.0,73.0 427.0,73.8 429.0,74.9 431.0,76.4 433.0,77.5 435.0,78.2 437.0,78.5 439.0,78.4 441.0,78.4 443.0,78.6 445.0,79.1 447.0,80.0 449.0,81.0 451.0,82.1 453.0,82.8 455.0,83.2 457.0,83.7 459.0,84.1 461.0,84.2 463.0,85.7 465.0,87.6 467.0,89.6 469.0,92.1 471.0,94.2 473.0,96.1 475.0,97.4 477.0,98.7 479.0,99.6 481.0,100.6 483.0,101.9 485.0,104.1 487.0,107.3 489.0,111.8 491.0,116.3 493.0,120.3 495.0,124.1 497.0,127.0 499.0,128.6 501.0,129.5 503.0,130.2 505.0,131.1 507.0,132.4 509.0,133.6 511.0,134.8 513.0,135.6 515.0,136.0 517.0,135.9 519.0,135.7 521.0,135.4 523.0,135.6 525.0,135.7 528.5,137.2" stroke="#ff0000"/>
<polyline points="61.0,218.9 63.0,218.8 65.0,218.6 67.0,218.1 69.0,217.6 71.0,216.9 73.0,216.0 75.0,214.9 77.0,213.6 79.0,211.8 81.0,209.8 83.0,207.9 85.0,205.5 87.0,203.2 89.0,200.7 91.0,198.2 93.0,195.7 95.0,192.9 97.0,189.6 99.0,186.0 101.0,182.6 103.0,179.2 105.0,175.3 107.0,171.9 109.0,168.7 111.0,166.0 113.0,163.6 115.0,161.6 117.0,160.0 119.0,159.0 121.0,157.4 123.0,155.3 125.0,154.2 127.0,153.7 129.0,153.9 131.0,154.3 133.0,154.6 135.0,155.5 137.0,156.4 139.0,157.8 141.0,159.0 143.0,159.9 145.0,161.3 147.0,162.5 149.0,164.5 151.0,166.5 153.0,168.8 155.0,171.0 157.0,173.1 159.0,175.6 161.0,177.4 163.0,178.6 165.0,179.3 167.0,180.1 169.0,180.4 171.0,180.7 173.0,180.5 175.0,179.8 177.0,178.9 179.0,178.1 181.0,177.3 183.0,176.4 185.0,175.6 187.0,175.6 189.0,176.2 191.0,176.7 193.0,176.7 195.0,176.5 197.0,175.4 199.0,173.2 201.0,169.4 203.0,164.9 205.0,159.8 207.0,154.2 209.0,148.1 211.0,141.6 213.0,136.3 215.0,131.5 217.0,127.0 219.0,122.5 221.0,117.7 223.0,113.3 225.0,109.5 227.0,106.4 229.0,103.8 231.0,101.5 233.0,99.6 235.0,98.5 237.0,97.8 239.0,97.3 241.0,96.4 243.0,95.2 245.0,93.6 247.0,91.6 249.0,89.8 251.0,88.3 253.0,87.0 255.0,86.1 257.0,85.4 259.0,84.3 261.0,83.1 263.0,81.8 265.0,80.2 267.0,79.0 269.0,77.7 271.0,77.1 273.0,76.7 275.0,76.2 277.0,75.5 279.0,74.9 281.0,74.2 283.0,73.3 285.0,72.5 287.0,71.6 289.0,70.6 291.0,69.8 293.0,68.9 295.0,68.3 297.0,68.0 299.0,67.7 301.0,67.6 303.0,67.6 305.0,67.5 307.0,67.7 309.0,67.8 311.0,67.8 313.0,67.9 315.0,68.1 317.0,68.3 319.0,68.5 321.0,68.6 323.0,68.9 325.0,69.3 327.0,69.9 329.0,70.3 331.0,70.5 333.0,70.8 335.0,71.2 337.0,71.5 339.0,71.6 341.0,71.6 343.0,70.8 345.0,69.7 347.0,68.6 349.0,67.8 351.0,66.7 353.0,66.0 355.0,65.4 357.0,64.4 359.0,63.5 361.0,62.2 363.0,61.3 365.0,61.1 367.0,61.0 369.0,61.0 371.0,61.2 373.0,61.1 375.0,61.2 377.0,61.4 379.0,61.7 381.0,62.5 383.0,63.0 385.0,63.2 387.0,63.3 389.0,63.4 391.0,63.7 393.0,64.4 395.0,65.1 397.0,65.6 399.0,66.4 401.0,66.8 403.0,67.5 405.0,67.7 407.0,68.1 409.0,68.3 411.0,69.0 413.0,69.5 415.0,70.0 417.0,70.5 419.0,70.7 421.0,71.3 423.0,71.9 425.0,72.5 427.0,72.4 429.0,72.5 431.0,73.0 433.0,73.8 435.0,74.5 437.0,75.5 439.0,76.6 441.0,77.8 443.0,78.8 445.0,80.1 447.0,81.0 449.0,81.8 451.0,82.6 453.0,83.0 455.0,83.5 457.0,84.2 459.0,84.8 461.0,85.2 463.0,86.4 465.0,87.7 467.0,88.4 469.0,89.7 471.0,90.7 473.0,92.0 475.0,93.3 477.0,95.2 479.0,97.2 481.0,98.9 483.0,101.1 485.0,103.5 487.0,106.4 489.0,110.1 491.0,113.7 493.0,117.0 495.0,120.4 497.0,123.5 499.0,125.6 501.0,126.7 503.0,127.6 505.0,128.8 507.0,130.1 509.0,131.1 511.0,132.1 513.0,132.8 515.0,133.4 517.0,133.9 519.0,134.2 521.0,134.6 523.0,135.2 525.0,135.5 528.5,135.8" stroke="#ff0000"/>
<polyline points="61.0,221.2 63.0,221.1 65.0,221.1 67.0,220.7 69.0,220.3 71.0,219.8 73.0,219.6 75.0,218.9 77.0,217.9 79.0,216.4 81.0,214.8 83.0,213.0 85.0,211.0 87.0,208.9 89.0,206.5 91.0,204.0 93.0,201.5 95.0,198.7 97.0,195.4 99.0,191.9 101.0,188.9 103.0,185.9 105.0,182.8 107.0,180.3 109.0,177.6 111.0,175.1 113.0,172.6 115.0,170.0 117.0,167.9 119.0,166.4 121.0,165.0 123.0,163.6 125.0,163.0 127.0,162.7 129.0,163.1 131.0,163.7 133.0,164.1 135.0,165.2 137.0,166.3 139.0,167.8 141.0,169.4 143.0,170.6 145.0,171.9 147.0,173.1 149.0,174.6 151.0,176.0 153.0,177.6 155.0,179.2 157.0,180.9 159.0,182.8 161.0,184.5 163.0,186.2 165.0,187.5 167.0,188.6 169.0,189.3 171.0,189.7 173.0,189.1 175.0,188.2 177.0,187.3 179.0,185.9 181.0,184.4 183.0,183.2 185.0,183.0 187.0,183.2 189.0,183.7 191.0,183.9 193.0,184.1 195.0,183.9 197.0,183.3 199.0,181.9 201.0,178.8 203.0,174.7 205.0,170.6 207.0,166.4 209.0,162.5 211.0,158.7 213.0,154.9 215.0,151.5 217.0,148.2 219.0,143.1 221.0,136.7 223.0,130.9 225.0,126.4 227.0,122.5 229.0,119.1 231.0,116.0 233.0,113.2 235.0,111.2 237.0,109.6 239.0,108.1 241.0,106.8 243.0,105.4 245.0,103.7 247.0,101.9 249.0,99.9 251.0,97.8 253.0,95.9 255.0,93.9 257.0,91.9 259.0,90.2 261.0,88.5 263.0,87.1 265.0,85.8 267.0,84.7 269.0,83.9 271.0,83.3 273.0,82.9 275.0,82.1 277.0,81.0 279.0,80.0 281.0,79.4 283.0,78.3 285.0,77.4 287.0,76.7 289.0,75.7 291.0,74.8 293.0,73.9 295.0,72.9 297.0,72.1 299.0,71.5 301.0,71.2 303.0,71.0 305.0,71.1 307.0,71.4 309.0,71.7 311.0,71.8 313.0,71.9 315.0,71.9 317.0,72.0 319.0,71.9 321.0,71.9 323.0,72.4 325.0,73.1 327.0,73.7 329.0,74.4 331.0,75.2 333.0,75.5 335.0,76.1 337.0,76.3 339.0,76.4 341.0,76.3 343.0,75.7 345.0,74.6 347.0,73.7 349.0,72.8 351.0,72.1 353.0,71.1 355.0,70.1 357.0,68.8 359.0,67.4 361.0,65.7 363.0,64.7 365.0,64.4 367.0,64.3 369.0,64.3 371.0,64.4 373.0,64.5 375.0,64.4 377.0,64.6 379.0,64.6 381.0,65.1 383.0,65.5 385.0,65.9 387.0,66.2 389.0,66.8 391.0,67.3 393.0,68.0 395.0,68.6 397.0,68.8 399.0,69.4 401.0,69.8 403.0,70.4 405.0,71.3 407.0,71.8 409.0,72.6 411.0,73.6 413.0,74.3 415.0,74.7 417.0,74.6 419.0,74.7 421.0,74.5 423.0,74.8 425.0,75.1 427.0,75.0 429.0,75.1 431.0,75.8 433.0,76.4 435.0,77.0 437.0,77.7 439.0,78.5 441.0,79.3 443.0,80.4 445.0,81.7 447.0,83.0 449.0,84.3 451.0,85.4 453.0,86.3 455.0,86.8 457.0,87.7 459.0,88.1 461.0,88.4 463.0,89.5 465.0,91.0 467.0,92.2 469.0,93.8 471.0,95.5 473.0,97.0 475.0,98.5 477.0,100.2 479.0,102.0 481.0,103.6 483.0,105.5 485.0,107.8 487.0,110.5 489.0,114.3 491.0,117.9 493.0,120.8 495.0,124.0 497.0,126.6 499.0,128.2 501.0,129.0 503.0,129.8 505.0,130.9 507.0,132.2 509.0,133.5 511.0,134.8 513.0,135.8 515.0,136.7 517.0,137.3 519.0,137.6 521.0,138.0 523.0,138.5 525.0,138.8 528.5,139.5" stroke="#008000" stroke-dasharray="4 2"/>
<polyline points="61.0,220.0 63.0,219.9 65.0,219.9 67.0,219.6 69.0,219.1 71.0,218.5 73.0,217.9 75.0,216.8 77.0,215.3 79.0,213.5 81.0,211.8 83.0,209.9 85.0,208.0 87.0,205.8 89.0,203.4 91.0,200.9 93.0,198.7 95.0,196.0 97.0,192.9 99.0,189.6 101.0,186.6 103.0,183.6 105.0,180.2 107.0,177.0 109.0,173.6 111.0,170.0 113.0,166.4 115.0,163.1 117.0,160.6 119.0,159.0 121.0,157.7 123.0,156.2 125.0,156.0 127.0,156.7 129.0,157.6 131.0,158.3 133.0,158.9 135.0,159.8 137.0,160.9 139.0,162.2 141.0,163.7 143.0,164.8 145.0,166.0 147.0,167.3 149.0,168.6 151.0,170.1 153.0,171.8 155.0,173.7 157.0,175.7 159.0,178.3 161.0,180.7 163.0,182.4 165.0,183.9 167.0,185.1 169.0,185.7 171.0,185.9 173.0,185.1 175.0,184.0 177.0,182.7 179.0,181.2 181.0,179.9 183.0,178.8 185.0,178.3 187.0,178.3 189.0,179.3 191.0,179.5 193.0,179.9 195.0,180.0 197.0,179.3 199.0,177.8 201.0,174.9 203.0,171.1 205.0,167.1 207.0,162.7 209.0,158.0 211.0,152.9 213.0,147.9 215.0,142.6 217.0,137.5 219.0,132.0 221.0,126.1 223.0,121.5 225.0,118.4 227.0,116.2 229.0,114.1 231.0,112.1 233.0,110.0 235.0,108.3 237.0,106.8 239.0,105.2 241.0,103.6 243.0,101.6 245.0,99.2 247.0,96.7 249.0,93.9 251.0,91.0 253.0,88.3 255.0,86.1 257.0,84.4 259.0,83.4 261.0,83.1 263.0,82.9 265.0,83.0 267.0,83.1 269.0,83.1 271.0,83.1 273.0,82.6 275.0,81.7 277.0,80.1 279.0,78.8 281.0,77.7 283.0,76.4 285.0,75.6 287.0,74.5 289.0,73.9 291.0,72.8 293.0,72.1 295.0,71.4 297.0,70.9 299.0,70.7 301.0,70.7 303.0,71.1 305.0,71.6 307.0,72.1 309.0,72.2 311.0,72.1 313.0,71.5 315.0,70.8 317.0,69.9 319.0,69.2 321.0,69.0 323.0,69.2 325.0,70.2 327.0,71.5 329.0,72.7 331.0,74.1 333.0,75.2 335.0,75.9 337.0,76.6 339.0,76.9 341.0,76.8 343.0,76.3 345.0,75.4 347.0,74.5 349.0,73.2 351.0,71.9 353.0,70.4 355.0,68.9 357.0,67.4 359.0,65.7 361.0,64.1 363.0,63.5 365.0,63.7 367.0,64.4 369.0,65.0 371.0,65.6 373.0,65.7 375.0,65.6 377.0,65.3 379.0,64.8 381.0,64.6 383.0,64.4 385.0,64.2 387.0,64.3 389.0,64.3 391.0,65.0 393.0,65.7 395.0,66.4 397.0,67.0 399.0,67.9 401.0,68.8 403.0,70.2 405.0,71.5 407.0,72.8 409.0,73.9 411.0,75.0 413.0,75.4 415.0,75.1 417.0,74.3 419.0,73.3 421.0,72.4 423.0,72.2 425.0,72.3 427.0,72.4 429.0,73.0 431.0,74.0 433.0,75.1 435.0,76.1 437.0,77.2 439.0,78.1 441.0,79.1 443.0,80.1 445.0,81.3 447.0,82.5 449.0,83.5 451.0,84.2 453.0,84.4 455.0,84.4 457.0,84.4 459.0,84.4 461.0,84.6 463.0,86.1 465.0,88.2 467.0,90.5 469.0,93.2 471.0,95.6 473.0,97.8 475.0,99.8 477.0,101.5 479.0,103.0 481.0,104.3 483.0,105.6 485.0,107.5 487.0,109.9 489.0,113.2 491.0,116.6 493.0,119.5 495.0,122.6 497.0,125.3 499.0,126.9 501.0,128.0 503.0,129.0 505.0,130.6 507.0,132.3 509.0,133.9 511.0,135.5 513.0,136.5 515.0,136.9 517.0,137.0 519.0,136.7 521.0,136.5 523.0,136.4 525.0,136.3 528.5,137.0" stroke="#ff0000"/>
<polyline points="61.0,219.4 63.0,219.3 65.0,219.1 67.0,218.7 69.0,218.0 71.0,217.3 73.0,216.6 75.0,215.8 77.0,214.5 79.0,213.0 81.0,211.4 83.0,209.4 85.0,207.4 87.0,205.1 89.0,202.7 91.0,200.1 93.0,197.6 95.0,194.6 97.0,191.2 99.0,187.5 101.0,184.0 103.0,180.7 105.0,177.0 107.0,173.8 109.0,170.7 111.0,168.2 113.0,166.1 115.0,163.9 117.0,162.2 119.0,161.0 121.0,159.4 123.0,157.2 125.0,155.8 127.0,155.0 129.0,154.8 131.0,154.8 133.0,154.8 135.0,155.7 137.0,156.9 139.0,158.6 141.0,160.5 143.0,162.1 145.0,163.9 147.0,165.7 149.0,167.7 151.0,169.8 153.0,172.1 155.0,174.1 157.0,176.1 159.0,178.3 161.0,180.1 163.0,181.0 165.0,181.7 167.0,182.1 169.0,182.4 171.0,182.5 173.0,182.5 175.0,181.6 177.0,180.8 179.0,179.9 181.0,179.0 183.0,178.1 185.0,177.6 187.0,177.5 189.0,177.9 191.0,178.2 193.0,178.0 195.0,177.7 197.0,176.6 199.0,174.3 201.0,170.6 203.0,166.0 205.0,161.0 207.0,155.5 209.0,149.9 211.0,144.0 213.0,139.1 215.0,135.0 217.0,131.1 219.0,127.0 221.0,122.0 223.0,117.3 225.0,113.0 227.0,109.1 229.0,105.3 231.0,101.7 233.0,98.5 235.0,96.4 237.0,94.6 239.0,93.6 241.0,92.3 243.0,91.0 245.0,89.6 247.0,87.9 249.0,86.5 251.0,85.2 253.0,84.2 255.0,83.3 257.0,82.4 259.0,81.3 261.0,80.2 263.0,78.8 265.0,77.3 267.0,76.0 269.0,74.9 271.0,74.2 273.0,74.0 275.0,73.6 277.0,73.5 279.0,73.3 281.0,73.1 283.0,72.8 285.0,72.4 287.0,71.7 289.0,71.0 291.0,70.0 293.0,69.1 295.0,68.2 297.0,67.4 299.0,66.6 301.0,66.2 303.0,65.9 305.0,65.8 307.0,65.8 309.0,66.0 311.0,66.1 313.0,66.1 315.0,66.4 317.0,66.8 319.0,67.0 321.0,67.3 323.0,68.0 325.0,68.7 327.0,69.0 329.0,69.5 331.0,69.8 333.0,69.8 335.0,70.2 337.0,70.3 339.0,70.4 341.0,70.6 343.0,70.2 345.0,69.3 347.0,68.8 349.0,68.3 351.0,67.6 353.0,67.0 355.0,66.4 357.0,65.6 359.0,64.3 361.0,63.0 363.0,61.7 365.0,61.3 367.0,60.8 369.0,60.4 371.0,59.9 373.0,59.5 375.0,59.2 377.0,59.1 379.0,59.2 381.0,60.0 383.0,60.8 385.0,61.2 387.0,61.7 389.0,62.1 391.0,62.5 393.0,63.2 395.0,64.0 397.0,64.5 399.0,64.9 401.0,65.3 403.0,65.7 405.0,66.3 407.0,66.5 409.0,66.8 411.0,67.8 413.0,68.5 415.0,69.2 417.0,69.9 419.0,70.4 421.0,71.0 423.0,71.8 425.0,72.5 427.0,72.5 429.0,72.3 431.0,72.4 433.0,72.6 435.0,72.8 437.0,73.3 439.0,74.0 441.0,74.8 443.0,75.8 445.0,77.1 447.0,78.3 449.0,79.5 451.0,80.5 453.0,81.4 455.0,82.1 457.0,83.3 459.0,84.1 461.0,84.6 463.0,86.1 465.0,87.5 467.0,88.5 469.0,89.6 471.0,90.7 473.0,91.8 475.0,93.1 477.0,94.9 479.0,97.0 481.0,99.0 483.0,101.1 485.0,103.9 487.0,107.0 489.0,111.2 491.0,114.9 493.0,117.9 495.0,121.1 497.0,124.0 499.0,125.5 501.0,126.1 503.0,126.6 505.0,127.5 507.0,128.2 509.0,129.3 511.0,130.2 513.0,130.8 515.0,131.2 517.0,131.7 519.0,132.1 521.0,132.7 523.0,133.4 525.0,134.1 528.5,134.4" stroke="#00bfbf"/>
<polyline points="61.0,219.5 63.0,219.4 65.0,219.2 67.0,219.0 69.0,218.3 71.0,217.7 73.0,217.0 75.0,216.1 77.0,214.9 79.0,213.4 81.0,211.5 83.0,209.6 85.0,207.5 87.0,205.1 89.0,202.7 91.0,200.1 93.0,197.3 95.0,194.4 97.0,191.1 99.0,187.3 101.0,184.0 103.0,180.6 105.0,177.1 107.0,174.1 109.0,171.0 111.0,168.5 113.0,166.2 115.0,164.2 117.0,162.5 119.0,161.4 121.0,160.0 123.0,158.2 125.0,157.1 127.0,156.5 129.0,156.5 131.0,156.7 133.0,156.7 135.0,157.5 137.0,158.3 139.0,159.8 141.0,161.4 143.0,162.8 145.0,164.4 147.0,165.9 149.0,167.8 151.0,169.7 153.0,171.8 155.0,173.5 157.0,175.4 159.0,177.7 161.0,179.3 163.0,180.5 165.0,181.2 167.0,181.9 169.0,182.2 171.0,182.4 173.0,182.2 175.0,181.4 177.0,180.7 179.0,179.8 181.0,178.9 183.0,178.2 185.0,177.9 187.0,177.8 189.0,178.5 191.0,178.9 193.0,178.8 195.0,178.6 197.0,177.5 199.0,175.4 201.0,171.8 203.0,167.4 205.0,162.8 207.0,157.8 209.0,152.5 211.0,147.5 213.0,143.2 215.0,139.6 217.0,136.5 219.0,132.6 221.0,127.8 223.0,123.4 225.0,119.6 227.0,116.2 229.0,113.1 231.0,110.3 233.0,107.7 235.0,105.9 237.0,104.5 239.0,103.5 241.0,102.6 243.0,101.5 245.0,100.1 247.0,98.8 249.0,97.1 251.0,95.7 253.0,94.1 255.0,92.4 257.0,90.8 259.0,89.2 261.0,87.2 263.0,85.4 265.0,83.7 267.0,81.9 269.0,80.7 271.0,79.9 273.0,79.1 275.0,78.4 277.0,77.6 279.0,76.9 281.0,76.4 283.0,75.6 285.0,74.8 287.0,74.1 289.0,73.2 291.0,72.3 293.0,71.2 295.0,70.3 297.0,69.4 299.0,68.9 301.0,68.5 303.0,68.3 305.0,68.5 307.0,68.5 309.0,68.9 311.0,69.0 313.0,69.3 315.0,69.6 317.0,69.9 319.0,70.2 321.0,70.5 323.0,71.0 325.0,71.6 327.0,72.1 329.0,72.6 331.0,72.9 333.0,72.8 335.0,73.2 337.0,73.1 339.0,73.1 341.0,73.0 343.0,72.3 345.0,71.4 347.0,70.6 349.0,70.0 351.0,69.2 353.0,68.4 355.0,67.8 357.0,66.7 359.0,65.5 361.0,64.2 363.0,63.1 365.0,62.6 367.0,62.5 369.0,62.4 371.0,62.2 373.0,62.1 375.0,62.1 377.0,62.2 379.0,62.5 381.0,63.3 383.0,64.1 385.0,64.6 387.0,64.9 389.0,65.4 391.0,65.9 393.0,66.5 395.0,67.1 397.0,67.3 399.0,67.6 401.0,67.8 403.0,68.1 405.0,68.2 407.0,68.5 409.0,68.9 411.0,69.6 413.0,70.5 415.0,70.8 417.0,71.2 419.0,71.5 421.0,71.8 423.0,72.5 425.0,73.1 427.0,73.2 429.0,73.4 431.0,73.6 433.0,74.1 435.0,74.5 437.0,75.2 439.0,76.0 441.0,77.0 443.0,78.1 445.0,79.3 447.0,80.5 449.0,81.9 451.0,83.0 453.0,83.8 455.0,84.4 457.0,85.4 459.0,86.0 461.0,86.4 463.0,87.5 465.0,88.6 467.0,89.7 469.0,91.0 471.0,92.0 473.0,93.1 475.0,94.5 477.0,96.1 479.0,98.0 481.0,99.9 483.0,102.0 485.0,104.8 487.0,107.8 489.0,112.0 491.0,115.9 493.0,119.0 495.0,122.4 497.0,125.3 499.0,127.0 501.0,127.8 503.0,128.3 505.0,129.4 507.0,130.2 509.0,131.4 511.0,132.5 513.0,133.3 515.0,133.8 517.0,134.3 519.0,134.5 521.0,135.0 523.0,135.5 525.0,135.8 528.5,136.0" stroke="#0000ff"/>
<polyline points="61.0,221.3 63.0,220.8 65.0,220.6 67.0,220.1 69.0,219.7 71.0,219.2 73.0,218.8 75.0,218.0 77.0,216.6 79.0,215.2 81.0,213.4 83.0,211.5 85.0,209.5 87.0,207.4 89.0,205.3 91.0,203.1 93.0,200.9 95.0,198.2 97.0,194.9 99.0,191.2 101.0,187.6 103.0,184.1 105.0,180.3 107.0,177.1 109.0,174.3 111.0,172.2 113.0,170.5 115.0,169.0 117.0,167.6 119.0,166.6 121.0,165.4 123.0,163.9 125.0,162.9 127.0,162.6 129.0,162.8 131.0,163.3 133.0,163.7 135.0,164.5 137.0,165.0 139.0,165.7 141.0,166.3 143.0,166.7 145.0,167.4 147.0,168.8 149.0,170.8 151.0,173.1 153.0,175.7 155.0,178.0 157.0,180.2 159.0,182.1 161.0,183.7 163.0,184.8 165.0,185.6 167.0,186.0 169.0,186.5 171.0,186.8 173.0,186.7 175.0,186.1 177.0,185.4 179.0,184.4 181.0,183.2 183.0,182.1 185.0,181.9 187.0,182.3 189.0,183.0 191.0,183.8 193.0,184.3 195.0,184.5 197.0,184.0 199.0,182.6 201.0,179.2 203.0,174.2 205.0,169.2 207.0,163.9 209.0,158.7 211.0,153.9 213.0,149.8 215.0,146.4 217.0,143.6 219.0,139.3 221.0,133.3 223.0,127.7 225.0,122.8 227.0,118.8 229.0,115.4 231.0,112.7 233.0,110.5 235.0,109.1 237.0,107.9 239.0,106.3 241.0,103.9 243.0,101.2 245.0,98.3 247.0,95.8 249.0,94.0 251.0,92.8 253.0,92.5 255.0,92.3 257.0,92.0 259.0,91.1 261.0,89.4 263.0,87.2 265.0,84.9 267.0,82.6 269.0,80.9 271.0,79.9 273.0,79.0 275.0,78.2 277.0,77.4 279.0,76.4 281.0,75.8 283.0,74.8 285.0,73.7 287.0,72.9 289.0,72.5 291.0,72.1 293.0,72.0 295.0,72.0 297.0,72.0 299.0,71.8 301.0,71.5 303.0,70.9 305.0,70.4 307.0,70.0 309.0,69.5 311.0,69.4 313.0,69.4 315.0,69.8 317.0,70.4 319.0,70.9 321.0,71.4 323.0,71.8 325.0,72.4 327.0,73.0 329.0,73.3 331.0,74.0 333.0,74.3 335.0,74.9 337.0,75.2 339.0,75.0 341.0,74.5 343.0,73.1 345.0,71.4 347.0,69.9 349.0,68.7 351.0,67.9 353.0,67.5 355.0,67.5 357.0,67.2 359.0,66.9 361.0,66.1 363.0,65.3 365.0,64.7 367.0,64.3 369.0,63.9 371.0,63.7 373.0,63.5 375.0,63.4 377.0,63.3 379.0,63.6 381.0,64.0 383.0,64.1 385.0,63.9 387.0,64.0 389.0,64.0 391.0,64.9 393.0,66.1 395.0,67.3 397.0,68.3 399.0,69.2 401.0,69.8 403.0,70.0 405.0,69.9 407.0,69.3 409.0,68.9 411.0,69.0 413.0,69.5 415.0,69.9 417.0,70.4 419.0,71.2 421.0,72.0 423.0,72.8 425.0,73.7 427.0,73.9 429.0,74.1 431.0,75.0 433.0,75.9 435.0,77.0 437.0,78.2 439.0,79.2 441.0,80.1 443.0,80.6 445.0,81.1 447.0,81.3 449.0,81.7 451.0,82.1 453.0,82.8 455.0,83.7 457.0,85.0 459.0,86.6 461.0,87.6 463.0,89.4 465.0,90.8 467.0,91.5 469.0,92.5 471.0,93.4 473.0,94.4 475.0,95.6 477.0,97.2 479.0,99.1 481.0,101.0 483.0,102.7 485.0,105.1 487.0,107.7 489.0,111.5 491.0,115.3 493.0,118.8 495.0,123.0 497.0,126.5 499.0,129.0 501.0,130.4 503.0,131.4 505.0,132.3 507.0,132.9 509.0,133.2 511.0,133.6 513.0,134.0 515.0,134.3 517.0,134.6 519.0,135.0 521.0,135.6 523.0,136.4 525.0,136.8 528.5,137.2" stroke="#bf00bf"/>
<polyline points="61.0,222.2 63.0,221.9 65.0,221.6 67.0,221.3 69.0,221.0 71.0,220.8 73.0,220.5 75.0,220.2 77.0,219.0 79.0,217.8 81.0,216.4 83.0,214.8 85.0,212.9 87.0,210.8 89.0,208.6 91.0,206.1 93.0,203.8 95.0,201.3 97.0,198.2 99.0,195.0 101.0,192.1 103.0,189.6 105.0,187.2 107.0,185.3 109.0,183.7 111.0,181.8 113.0,180.3 115.0,178.4 117.0,176.5 119.0,175.1 121.0,174.0 123.0,173.1 125.0,172.3 127.0,171.9 129.0,171.8 131.0,171.9 133.0,172.4 135.0,173.3 137.0,174.4 139.0,175.5 141.0,176.5 143.0,177.4 145.0,178.2 147.0,179.0 149.0,179.9 151.0,181.0 153.0,182.2 155.0,183.7 157.0,185.1 159.0,186.4 161.0,187.7 163.0,189.0 165.0,190.1 167.0,190.8 169.0,191.4 171.0,191.7 173.0,191.3 175.0,190.7 177.0,190.0 179.0,188.6 181.0,187.1 183.0,185.7 185.0,185.6 187.0,185.6 189.0,186.0 191.0,186.1 193.0,186.3 195.0,186.0 197.0,185.2 199.0,184.2 201.0,181.2 203.0,176.7 205.0,172.6 207.0,168.7 209.0,165.2 211.0,161.9 213.0,158.7 215.0,156.2 217.0,154.2 219.0,149.9 221.0,143.7 223.0,137.7 225.0,132.8 227.0,128.5 229.0,125.1 231.0,121.8 233.0,119.0 235.0,116.9 237.0,115.6 239.0,114.1 241.0,112.7 243.0,111.1 245.0,109.3 247.0,107.2 249.0,104.9 251.0,102.7 253.0,100.3 255.0,97.8 257.0,95.5 259.0,93.2 261.0,90.9 263.0,88.9 265.0,86.9 267.0,85.3 269.0,84.2 271.0,83.5 273.0,83.0 275.0,82.6 277.0,81.8 279.0,81.4 281.0,81.1 283.0,80.6 285.0,80.1 287.0,79.3 289.0,78.8 291.0,78.3 293.0,77.6 295.0,76.9 297.0,76.3 299.0,75.9 301.0,75.6 303.0,75.4 305.0,75.5 307.0,75.6 309.0,75.7 311.0,75.8 313.0,76.0 315.0,76.1 317.0,76.4 319.0,76.5 321.0,76.6 323.0,77.0 325.0,77.4 327.0,77.6 329.0,78.1 331.0,78.4 333.0,78.4 335.0,79.1 337.0,79.3 339.0,79.3 341.0,79.1 343.0,78.5 345.0,78.1 347.0,77.1 349.0,76.4 351.0,75.5 353.0,74.8 355.0,74.1 357.0,73.0 359.0,72.0 361.0,70.6 363.0,69.6 365.0,68.9 367.0,68.3 369.0,68.0 371.0,67.7 373.0,67.5 375.0,67.4 377.0,67.4 379.0,67.5 381.0,67.7 383.0,68.0 385.0,68.2 387.0,68.6 389.0,68.7 391.0,68.8 393.0,69.2 395.0,69.4 397.0,69.6 399.0,70.0 401.0,70.2 403.0,70.8 405.0,71.2 407.0,71.9 409.0,72.5 411.0,73.6 413.0,74.5 415.0,75.2 417.0,75.8 419.0,76.3 421.0,76.7 423.0,77.3 425.0,77.9 427.0,78.0 429.0,78.3 431.0,78.6 433.0,79.0 435.0,79.4 437.0,79.9 439.0,80.6 441.0,81.4 443.0,82.4 445.0,83.7 447.0,84.9 449.0,85.9 451.0,87.0 453.0,88.0 455.0,88.7 457.0,89.5 459.0,90.3 461.0,90.6 463.0,91.9 465.0,93.2 467.0,94.7 469.0,96.1 471.0,97.6 473.0,99.2 475.0,100.8 477.0,102.8 479.0,104.8 481.0,107.0 483.0,109.4 485.0,112.4 487.0,115.6 489.0,119.5 491.0,123.0 493.0,126.0 495.0,129.0 497.0,131.2 499.0,132.6 501.0,133.3 503.0,133.9 505.0,134.7 507.0,135.4 509.0,136.1 511.0,137.0 513.0,137.6 515.0,138.2 517.0,138.6 519.0,139.0 521.0,139.5 523.0,139.8 525.0,140.2 528.5,140.5" stroke="#ff0000"/>
<polyline points="61.0,220.5 63.0,220.3 65.0,220.0 67.0,219.6 69.0,219.2 71.0,218.6 73.0,218.2 75.0,217.6 77.0,216.6 79.0,215.2 81.0,213.6 83.0,212.1 85.0,210.1 87.0,207.8 89.0,205.4 91.0,202.8 93.0,200.2 95.0,197.3 97.0,193.6 99.0,189.7 101.0,186.2 103.0,182.7 105.0,179.2 107.0,175.9 109.0,173.1 111.0,170.8 113.0,169.0 115.0,167.3 117.0,165.7 119.0,164.7 121.0,163.3 123.0,161.6 125.0,160.3 127.0,159.7 129.0,159.6 131.0,159.7 133.0,159.9 135.0,160.7 137.0,162.0 139.0,163.5 141.0,165.3 143.0,166.7 145.0,168.4 147.0,170.2 149.0,172.0 151.0,174.0 153.0,175.9 155.0,177.9 157.0,179.6 159.0,181.4 161.0,182.8 163.0,183.7 165.0,184.5 167.0,184.7 169.0,185.1 171.0,185.2 173.0,184.9 175.0,184.3 177.0,183.4 179.0,182.6 181.0,181.5 183.0,180.8 185.0,180.5 187.0,180.8 189.0,181.5 191.0,181.9 193.0,182.1 195.0,181.8 197.0,181.0 199.0,179.1 201.0,175.7 203.0,171.1 205.0,166.5 207.0,161.7 209.0,156.9 211.0,152.4 213.0,148.6 215.0,145.7 217.0,143.2 219.0,139.3 221.0,133.7 223.0,128.1 225.0,123.1 227.0,118.5 229.0,114.1 231.0,110.1 233.0,106.6 235.0,103.8 237.0,101.8 239.0,100.2 241.0,98.9 243.0,97.6 245.0,96.1 247.0,95.0 249.0,94.1 251.0,93.4 253.0,93.0 255.0,92.4 257.0,91.6 259.0,90.5 261.0,89.0 263.0,87.1 265.0,85.4 267.0,83.3 269.0,82.1 271.0,81.3 273.0,80.7 275.0,80.2 277.0,79.7 279.0,79.4 281.0,79.2 283.0,78.7 285.0,78.1 287.0,77.4 289.0,76.7 291.0,75.9 293.0,74.9 295.0,74.1 297.0,73.2 299.0,72.3 301.0,71.6 303.0,71.0 305.0,70.5 307.0,70.2 309.0,70.4 311.0,70.6 313.0,70.8 315.0,71.4 317.0,72.2 319.0,72.8 321.0,73.7 323.0,74.5 325.0,75.2 327.0,75.8 329.0,76.1 331.0,76.5 333.0,76.7 335.0,76.7 337.0,76.8 339.0,76.7 341.0,76.4 343.0,75.5 345.0,74.6 347.0,73.6 349.0,72.8 351.0,72.1 353.0,71.5 355.0,71.0 357.0,70.2 359.0,69.0 361.0,67.7 363.0,66.3 365.0,65.5 367.0,64.8 369.0,64.1 371.0,63.6 373.0,63.2 375.0,62.8 377.0,62.9 379.0,63.3 381.0,64.3 383.0,65.2 385.0,66.2 387.0,66.9 389.0,67.5 391.0,68.4 393.0,69.3 395.0,70.0 397.0,70.4 399.0,70.7 401.0,71.1 403.0,71.2 405.0,71.2 407.0,71.2 409.0,71.2 411.0,71.7 413.0,72.1 415.0,72.7 417.0,73.3 419.0,73.8 421.0,74.4 423.0,75.3 425.0,75.8 427.0,75.8 429.0,75.6 431.0,75.9 433.0,75.8 435.0,76.2 437.0,76.3 439.0,77.1 441.0,77.7 443.0,78.5 445.0,79.8 447.0,81.1 449.0,82.3 451.0,83.8 453.0,85.1 455.0,86.3 457.0,87.8 459.0,89.1 461.0,90.1 463.0,91.6 465.0,92.9 467.0,93.7 469.0,94.8 471.0,95.5 473.0,96.4 475.0,97.4 477.0,98.8 479.0,100.5 481.0,102.5 483.0,104.7 485.0,107.5 487.0,110.5 489.0,114.7 491.0,118.4 493.0,121.6 495.0,125.2 497.0,127.9 499.0,129.4 501.0,130.4 503.0,130.9 505.0,131.6 507.0,132.4 509.0,133.3 511.0,134.2 513.0,135.0 515.0,135.7 517.0,136.5 519.0,137.4 521.0,138.5 523.0,139.7 525.0,140.4 528.5,141.5" stroke="#008000"/>
<polyline points="61.0,219.8 63.0,219.6 65.0,219.3 67.0,219.0 69.0,218.2 71.0,217.5 73.0,216.5 75.0,215.7 77.0,214.6 79.0,212.9 81.0,211.3 83.0,209.6 85.0,207.5 87.0,205.2 89.0,202.8 91.0,200.3 93.0,197.7 95.0,194.8 97.0,191.5 99.0,187.9 101.0,184.6 103.0,181.1 105.0,177.5 107.0,174.2 109.0,171.3 111.0,168.8 113.0,167.1 115.0,165.5 117.0,164.4 119.0,163.8 121.0,162.6 123.0,160.8 125.0,159.5 127.0,158.5 129.0,157.8 131.0,157.2 133.0,156.8 135.0,156.9 137.0,157.5 139.0,158.8 141.0,160.3 143.0,161.6 145.0,163.2 147.0,164.7 149.0,167.0 151.0,169.2 153.0,171.5 155.0,174.0 157.0,176.1 159.0,178.5 161.0,180.2 163.0,181.5 165.0,182.1 167.0,182.5 169.0,182.7 171.0,182.7 173.0,182.5 175.0,181.6 177.0,180.9 179.0,180.4 181.0,179.5 183.0,178.9 185.0,178.6 187.0,178.7 189.0,179.2 191.0,179.4 193.0,179.4 195.0,179.1 197.0,177.7 199.0,175.5 201.0,171.7 203.0,166.9 205.0,161.5 207.0,155.8 209.0,149.7 211.0,143.4 213.0,138.3 215.0,134.3 217.0,131.0 219.0,127.9 221.0,124.1 223.0,120.3 225.0,116.9 227.0,113.4 229.0,110.1 231.0,106.6 233.0,103.5 235.0,101.2 237.0,99.6 239.0,98.6 241.0,97.4 243.0,96.3 245.0,94.7 247.0,93.1 249.0,91.4 251.0,90.0 253.0,88.8 255.0,87.9 257.0,86.9 259.0,85.9 261.0,84.4 263.0,82.6 265.0,80.5 267.0,78.2 269.0,76.1 271.0,74.6 273.0,73.6 275.0,72.5 277.0,72.0 279.0,71.5 281.0,71.5 283.0,71.3 285.0,71.1 287.0,70.8 289.0,70.3 291.0,69.5 293.0,68.8 295.0,68.0 297.0,67.6 299.0,67.1 301.0,66.8 303.0,66.5 305.0,66.1 307.0,66.1 309.0,65.8 311.0,65.7 313.0,65.7 315.0,65.8 317.0,66.1 319.0,66.5 321.0,67.3 323.0,68.1 325.0,68.8 327.0,69.4 329.0,69.5 331.0,69.4 333.0,69.2 335.0,69.1 337.0,68.7 339.0,68.4 341.0,68.4 343.0,67.8 345.0,66.8 347.0,66.2 349.0,65.8 351.0,65.2 353.0,64.8 355.0,64.5 357.0,64.2 359.0,63.6 361.0,62.7 363.0,62.2 365.0,62.0 367.0,61.7 369.0,61.2 371.0,60.6 373.0,60.0 375.0,59.4 377.0,59.0 379.0,59.0 381.0,60.1 383.0,60.7 385.0,61.3 387.0,61.7 389.0,62.3 391.0,62.5 393.0,63.3 395.0,63.9 397.0,64.3 399.0,64.6 401.0,64.8 403.0,65.2 405.0,65.3 407.0,65.2 409.0,65.1 411.0,65.6 413.0,66.0 415.0,66.3 417.0,67.0 419.0,67.9 421.0,69.1 423.0,70.7 425.0,72.0 427.0,72.8 429.0,73.2 431.0,73.5 433.0,73.8 435.0,74.0 437.0,74.3 439.0,74.8 441.0,75.3 443.0,76.1 445.0,77.1 447.0,78.0 449.0,78.8 451.0,79.5 453.0,80.0 455.0,80.6 457.0,81.6 459.0,82.5 461.0,83.2 463.0,84.9 465.0,86.4 467.0,87.4 469.0,88.3 471.0,89.1 473.0,89.8 475.0,90.7 477.0,92.0 479.0,93.8 481.0,95.9 483.0,98.4 485.0,101.4 487.0,105.0 489.0,109.6 491.0,113.8 493.0,117.4 495.0,121.1 497.0,124.1 499.0,126.0 501.0,126.9 503.0,127.5 505.0,128.4 507.0,129.0 509.0,129.8 511.0,130.2 513.0,130.3 515.0,130.3 517.0,130.4 519.0,130.4 521.0,131.0 523.0,131.7 525.0,132.3 528.5,133.0" stroke="#0000ff"/>
<polyline points="61.0,221.8 63.0,221.5 65.0,221.2 67.0,220.9 69.0,220.3 71.0,219.7 73.0,219.4 75.0,218.7 77.0,217.5 79.0,216.1 81.0,214.7 83.0,213.0 85.0,211.4 87.0,209.4 89.0,207.2 91.0,204.9 93.0,202.5 95.0,199.7 97.0,196.2 99.0,192.5 101.0,189.0 103.0,185.7 105.0,182.3 107.0,179.5 109.0,176.9 111.0,174.7 113.0,172.8 115.0,171.3 117.0,169.7 119.0,168.8 121.0,168.2 123.0,167.0 125.0,166.4 127.0,166.0 129.0,165.8 131.0,165.5 133.0,165.2 135.0,165.3 137.0,165.5 139.0,166.2 141.0,167.3 143.0,168.4 145.0,169.9 147.0,171.7 149.0,173.8 151.0,175.8 153.0,177.9 155.0,180.2 157.0,182.1 159.0,184.0 161.0,185.4 163.0,186.8 165.0,187.6 167.0,188.3 169.0,188.5 171.0,188.8 173.0,188.2 175.0,187.3 177.0,186.7 179.0,185.6 181.0,184.5 183.0,183.5 185.0,183.6 187.0,184.3 189.0,185.0 191.0,185.6 193.0,186.0 195.0,185.9 197.0,185.2 199.0,183.6 201.0,180.3 203.0,175.5 205.0,170.8 207.0,166.1 209.0,161.5 211.0,157.5 213.0,153.6 215.0,150.8 217.0,148.5 219.0,144.9 221.0,139.6 223.0,134.7 225.0,130.7 227.0,127.3 229.0,123.8 231.0,120.5 233.0,117.4 235.0,114.7 237.0,112.2 239.0,109.9 241.0,107.6 243.0,105.4 245.0,103.3 247.0,101.7 249.0,100.4 251.0,99.6 253.0,98.6 255.0,97.5 257.0,96.3 259.0,94.7 261.0,92.7 263.0,90.6 265.0,88.2 267.0,86.1 269.0,84.2 271.0,82.9 273.0,81.6 275.0,80.4 277.0,79.1 279.0,78.1 281.0,77.7 283.0,77.3 285.0,77.0 287.0,76.7 289.0,76.6 291.0,76.5 293.0,76.3 295.0,75.8 297.0,75.4 299.0,74.7 301.0,74.0 303.0,73.5 305.0,72.9 307.0,72.5 309.0,72.2 311.0,72.0 313.0,72.0 315.0,72.3 317.0,72.6 319.0,73.3 321.0,73.9 323.0,74.5 325.0,75.5 327.0,76.3 329.0,77.1 331.0,77.5 333.0,77.7 335.0,77.8 337.0,77.4 339.0,76.9 341.0,76.1 343.0,74.8 345.0,73.5 347.0,72.5 349.0,71.8 351.0,71.2 353.0,71.1 355.0,70.9 357.0,70.6 359.0,69.9 361.0,69.2 363.0,68.5 365.0,68.1 367.0,67.7 369.0,67.1 371.0,66.7 373.0,66.3 375.0,65.8 377.0,65.3 379.0,65.1 381.0,65.3 383.0,65.6 385.0,66.1 387.0,66.5 389.0,67.6 391.0,68.6 393.0,69.6 395.0,70.6 397.0,71.2 399.0,71.6 401.0,71.7 403.0,71.7 405.0,71.6 407.0,71.4 409.0,71.1 411.0,71.6 413.0,71.9 415.0,72.3 417.0,72.7 419.0,73.3 421.0,74.1 423.0,75.3 425.0,76.6 427.0,77.2 429.0,78.0 431.0,78.9 433.0,79.6 435.0,80.2 437.0,80.5 439.0,80.6 441.0,80.8 443.0,81.2 445.0,81.7 447.0,82.2 449.0,83.1 451.0,84.0 453.0,84.9 455.0,86.0 457.0,87.4 459.0,88.7 461.0,89.7 463.0,91.2 465.0,92.8 467.0,93.9 469.0,95.2 471.0,96.3 473.0,97.3 475.0,98.2 477.0,99.5 479.0,100.9 481.0,102.5 483.0,104.3 485.0,106.9 487.0,110.0 489.0,114.6 491.0,118.9 493.0,122.8 495.0,126.6 497.0,129.8 499.0,131.7 501.0,132.9 503.0,133.4 505.0,134.1 507.0,134.6 509.0,135.2 511.0,135.6 513.0,136.1 515.0,136.4 517.0,136.7 519.0,136.9 521.0,137.6 523.0,138.4 525.0,139.1 528.5,140.3" stroke="#bf00bf"/>
<polyline points="61.0,221.4 63.0,221.1 65.0,221.0 67.0,220.7 69.0,220.1 71.0,219.5 73.0,219.1 75.0,218.5 77.0,217.2 79.0,215.7 81.0,214.1 83.0,212.3 85.0,210.3 87.0,208.1 89.0,205.6 91.0,203.3 93.0,201.2 95.0,198.7 97.0,195.8 99.0,192.8 101.0,189.8 103.0,186.8 105.0,183.6 107.0,180.6 109.0,177.7 111.0,175.0 113.0,172.8 115.0,170.9 117.0,169.4 119.0,168.5 121.0,167.6 123.0,166.6 125.0,165.9 127.0,165.5 129.0,165.6 131.0,165.7 133.0,166.3 135.0,167.3 137.0,168.4 139.0,169.8 141.0,170.8 143.0,171.6 145.0,172.1 147.0,172.8 149.0,173.7 151.0,174.9 153.0,176.6 155.0,178.6 157.0,180.8 159.0,183.1 161.0,184.8 163.0,186.4 165.0,187.6 167.0,188.0 169.0,188.4 171.0,188.4 173.0,188.1 175.0,187.2 177.0,186.5 179.0,185.4 181.0,184.2 183.0,183.1 185.0,183.0 187.0,183.1 189.0,183.5 191.0,183.8 193.0,184.3 195.0,184.4 197.0,183.9 199.0,183.0 201.0,180.2 203.0,175.9 205.0,171.2 207.0,166.5 209.0,161.8 211.0,156.8 213.0,152.1 215.0,148.1 217.0,145.0 219.0,140.7 221.0,135.5 223.0,130.6 225.0,126.3 227.0,122.5 229.0,119.3 231.0,116.4 233.0,114.2 235.0,112.9 237.0,112.4 239.0,111.9 241.0,111.4 243.0,110.1 245.0,107.9 247.0,105.2 249.0,102.2 251.0,99.6 253.0,97.4 255.0,96.0 257.0,95.1 259.0,94.2 261.0,93.5 263.0,92.4 265.0,91.1 267.0,89.5 269.0,88.1 271.0,87.0 273.0,85.9 275.0,85.0 277.0,83.9 279.0,83.2 281.0,83.0 283.0,82.1 285.0,81.2 287.0,80.3 289.0,79.4 291.0,78.5 293.0,77.9 295.0,77.5 297.0,77.5 299.0,77.6 301.0,77.8 303.0,78.0 305.0,77.8 307.0,77.7 309.0,77.1 311.0,76.5 313.0,75.9 315.0,75.6 317.0,75.5 319.0,75.6 321.0,76.0 323.0,76.4 325.0,76.9 327.0,77.5 329.0,77.8 331.0,77.9 333.0,78.0 335.0,78.4 337.0,78.6 339.0,78.9 341.0,78.7 343.0,78.0 345.0,76.9 347.0,75.4 349.0,74.0 351.0,72.4 353.0,71.1 355.0,70.2 357.0,69.3 359.0,68.7 361.0,68.1 363.0,67.9 365.0,67.9 367.0,68.1 369.0,67.9 371.0,67.6 373.0,67.6 375.0,67.4 377.0,67.3 379.0,67.5 381.0,68.1 383.0,68.7 385.0,69.1 387.0,69.2 389.0,69.4 391.0,69.3 393.0,69.7 395.0,70.2 397.0,71.0 399.0,72.1 401.0,73.2 403.0,74.6 405.0,75.5 407.0,76.3 409.0,76.7 411.0,77.1 413.0,77.0 415.0,77.3 417.0,77.2 419.0,77.8 421.0,78.3 423.0,79.3 425.0,80.5 427.0,80.8 429.0,81.3 431.0,81.8 433.0,82.4 435.0,83.0 437.0,83.9 439.0,84.7 441.0,86.1 443.0,87.4 445.0,88.5 447.0,89.2 449.0,89.7 451.0,89.9 453.0,89.7 455.0,89.6 457.0,89.8 459.0,90.4 461.0,91.2 463.0,92.9 465.0,94.8 467.0,96.2 469.0,97.8 471.0,98.8 473.0,99.9 475.0,100.9 477.0,102.3 479.0,103.8 481.0,105.6 483.0,107.8 485.0,110.3 487.0,113.1 489.0,116.7 491.0,119.9 493.0,122.5 495.0,125.6 497.0,128.3 499.0,130.1 501.0,131.6 503.0,133.0 505.0,134.5 507.0,135.6 509.0,136.7 511.0,137.3 513.0,137.7 515.0,137.7 517.0,137.7 519.0,137.7 521.0,138.1 523.0,138.8 525.0,139.2 528.5,140.3" stroke="#ff0000"/>
<polyline points="61.0,221.1 63.0,220.8 65.0,220.7 67.0,220.3 69.0,219.8 71.0,219.2 73.0,218.7 75.0,217.9 77.0,216.7 79.0,215.2 81.0,213.5 83.0,211.7 85.0,209.8 87.0,207.7 89.0,205.4 91.0,203.0 93.0,200.5 95.0,197.8 97.0,194.5 99.0,191.0 101.0,187.9 103.0,184.8 105.0,181.7 107.0,179.0 109.0,176.7 111.0,174.4 113.0,172.5 115.0,170.5 117.0,168.8 119.0,167.7 121.0,166.7 123.0,165.4 125.0,164.9 127.0,164.5 129.0,164.6 131.0,164.6 133.0,164.6 135.0,165.1 137.0,165.8 139.0,166.6 141.0,167.9 143.0,169.0 145.0,170.1 147.0,171.7 149.0,173.4 151.0,175.1 153.0,177.0 155.0,178.9 157.0,180.5 159.0,182.4 161.0,184.0 163.0,185.3 165.0,186.3 167.0,187.1 169.0,187.6 171.0,187.8 173.0,187.5 175.0,186.8 177.0,185.9 179.0,184.9 181.0,183.7 183.0,182.9 185.0,182.7 187.0,183.0 189.0,183.8 191.0,184.3 193.0,184.4 195.0,184.4 197.0,183.5 199.0,181.9 201.0,178.6 203.0,173.8 205.0,169.3 207.0,164.4 209.0,159.8 211.0,155.3 213.0,151.1 215.0,147.2 217.0,143.8 219.0,139.3 221.0,133.6 223.0,128.5 225.0,124.3 227.0,120.9 229.0,118.0 231.0,115.2 233.0,112.8 235.0,111.0 237.0,109.4 239.0,108.1 241.0,106.6 243.0,104.9 245.0,103.5 247.0,101.8 249.0,100.5 251.0,99.1 253.0,97.4 255.0,96.0 257.0,94.4 259.0,92.7 261.0,90.8 263.0,88.8 265.0,87.1 267.0,85.3 269.0,84.1 271.0,83.3 273.0,82.4 275.0,81.6 277.0,80.5 279.0,79.7 281.0,79.2 283.0,78.5 285.0,78.0 287.0,77.5 289.0,77.2 291.0,76.7 293.0,76.3 295.0,76.0 297.0,75.6 299.0,75.2 301.0,74.8 303.0,74.6 305.0,74.4 307.0,74.4 309.0,74.3 311.0,74.4 313.0,74.3 315.0,74.3 317.0,74.5 319.0,74.6 321.0,74.7 323.0,75.2 325.0,75.5 327.0,76.0 329.0,76.4 331.0,76.6 333.0,76.8 335.0,76.9 337.0,76.9 339.0,76.3 341.0,75.8 343.0,74.8 345.0,73.7 347.0,72.6 349.0,71.9 351.0,71.2 353.0,70.5 355.0,70.2 357.0,69.3 359.0,68.4 361.0,67.2 363.0,66.5 365.0,66.2 367.0,66.0 369.0,65.8 371.0,65.7 373.0,65.7 375.0,65.4 377.0,65.2 379.0,65.1 381.0,65.4 383.0,65.8 385.0,66.0 387.0,66.3 389.0,66.8 391.0,67.3 393.0,68.2 395.0,68.8 397.0,69.1 399.0,69.5 401.0,69.8 403.0,70.1 405.0,70.5 407.0,70.7 409.0,71.2 411.0,72.2 413.0,72.7 415.0,73.6 417.0,73.8 419.0,74.4 421.0,75.0 423.0,75.9 425.0,76.9 427.0,77.4 429.0,78.2 431.0,79.1 433.0,79.9 435.0,80.7 437.0,81.4 439.0,82.1 441.0,82.6 443.0,83.3 445.0,84.1 447.0,84.9 449.0,85.8 451.0,86.7 453.0,87.4 455.0,87.9 457.0,88.8 459.0,89.5 461.0,89.9 463.0,91.0 465.0,92.4 467.0,93.4 469.0,94.6 471.0,96.0 473.0,97.2 475.0,98.4 477.0,100.1 479.0,101.7 481.0,103.3 483.0,105.4 485.0,108.0 487.0,111.0 489.0,115.1 491.0,119.2 493.0,122.5 495.0,126.1 497.0,128.8 499.0,130.5 501.0,131.4 503.0,132.1 505.0,133.1 507.0,133.7 509.0,134.5 511.0,135.3 513.0,135.8 515.0,136.2 517.0,136.4 519.0,136.5 521.0,136.9 523.0,137.2 525.0,137.6 528.5,138.1" stroke="#00bfbf" stroke-dasharray="4 2"/>
<polyline points="61.0,222.2 63.0,221.9 65.0,221.6 67.0,221.5 69.0,221.1 71.0,220.9 73.0,220.6 75.0,220.3 77.0,219.3 79.0,218.1 81.0,216.9 83.0,215.3 85.0,213.6 87.0,211.6 89.0,209.5 91.0,207.2 93.0,204.9 95.0,202.2 97.0,199.1 99.0,195.9 101.0,193.2 103.0,190.8 105.0,188.4 107.0,186.9 109.0,185.7 111.0,184.5 113.0,183.2 115.0,182.1 117.0,180.7 119.0,180.1 121.0,179.9 123.0,179.9 125.0,180.0 127.0,180.0 129.0,180.1 131.0,180.2 133.0,180.4 135.0,181.0 137.0,181.5 139.0,181.9 141.0,182.3 143.0,182.6 145.0,182.7 147.0,183.0 149.0,183.4 151.0,183.9 153.0,184.5 155.0,185.4 157.0,186.5 159.0,187.6 161.0,188.6 163.0,189.8 165.0,190.6 167.0,191.1 169.0,191.4 171.0,191.5 173.0,190.9 175.0,190.1 177.0,189.4 179.0,188.1 181.0,186.7 183.0,185.6 185.0,185.7 187.0,186.1 189.0,186.4 191.0,186.8 193.0,187.0 195.0,186.9 197.0,186.0 199.0,184.9 201.0,181.8 203.0,177.3 205.0,172.9 207.0,168.6 209.0,164.7 211.0,161.1 213.0,157.3 215.0,153.9 217.0,151.1 219.0,146.2 221.0,139.9 223.0,134.0 225.0,129.2 227.0,125.1 229.0,121.5 231.0,118.1 233.0,115.2 235.0,112.9 237.0,111.4 239.0,110.2 241.0,109.1 243.0,108.3 245.0,107.4 247.0,106.3 249.0,105.2 251.0,104.0 253.0,102.4 255.0,100.9 257.0,99.1 259.0,97.2 261.0,95.3 263.0,93.1 265.0,91.1 267.0,89.2 269.0,87.8 271.0,86.8 273.0,85.7 275.0,84.4 277.0,83.2 279.0,82.4 281.0,81.8 283.0,81.0 285.0,80.3 287.0,79.7 289.0,79.0 291.0,78.4 293.0,77.7 295.0,76.9 297.0,76.3 299.0,75.6 301.0,75.2 303.0,74.9 305.0,74.8 307.0,74.9 309.0,74.9 311.0,75.0 313.0,75.1 315.0,75.4 317.0,75.6 319.0,75.9 321.0,76.1 323.0,76.5 325.0,77.1 327.0,77.7 329.0,78.0 331.0,78.1 333.0,78.0 335.0,77.9 337.0,77.5 339.0,77.1 341.0,76.4 343.0,75.3 345.0,74.1 347.0,73.0 349.0,72.3 351.0,71.5 353.0,70.7 355.0,70.0 357.0,69.0 359.0,67.9 361.0,66.6 363.0,65.7 365.0,65.4 367.0,65.3 369.0,65.2 371.0,65.1 373.0,65.2 375.0,64.9 377.0,65.0 379.0,65.1 381.0,65.8 383.0,66.5 385.0,67.2 387.0,67.9 389.0,68.7 391.0,69.4 393.0,70.3 395.0,70.8 397.0,71.0 399.0,71.2 401.0,71.5 403.0,71.8 405.0,72.0 407.0,72.3 409.0,72.9 411.0,73.6 413.0,74.4 415.0,74.8 417.0,75.1 419.0,75.7 421.0,76.2 423.0,77.1 425.0,78.0 427.0,78.6 429.0,79.4 431.0,80.0 433.0,80.9 435.0,81.3 437.0,81.9 439.0,82.5 441.0,83.2 443.0,84.1 445.0,85.1 447.0,86.4 449.0,87.5 451.0,88.5 453.0,89.5 455.0,90.4 457.0,91.2 459.0,91.8 461.0,92.1 463.0,92.9 465.0,94.0 467.0,95.0 469.0,96.0 471.0,97.0 473.0,97.9 475.0,98.9 477.0,100.1 479.0,101.6 481.0,103.1 483.0,105.0 485.0,107.7 487.0,110.6 489.0,114.9 491.0,118.9 493.0,122.3 495.0,125.6 497.0,128.4 499.0,130.0 501.0,130.8 503.0,131.4 505.0,132.3 507.0,133.2 509.0,134.2 511.0,135.0 513.0,135.8 515.0,136.3 517.0,136.7 519.0,136.9 521.0,137.3 523.0,137.8 525.0,138.2 528.5,138.9" stroke="#00bfbf"/>
<polyline points="61.0,219.7 63.0,219.8 65.0,219.4 67.0,219.0 69.0,218.2 71.0,217.3 73.0,216.4 75.0,215.2 77.0,213.6 79.0,211.9 81.0,210.4 83.0,208.4 85.0,206.5 87.0,204.5 89.0,202.1 91.0,199.6 93.0,197.1 95.0,194.2 97.0,190.9 99.0,187.2 101.0,183.9 103.0,180.4 105.0,176.7 107.0,173.2 109.0,169.7 111.0,166.7 113.0,164.2 115.0,162.2 117.0,160.9 119.0,160.4 121.0,159.7 123.0,158.8 125.0,158.3 127.0,158.2 129.0,158.2 131.0,157.8 133.0,157.2 135.0,156.8 137.0,156.9 139.0,157.4 141.0,158.6 143.0,159.5 145.0,161.0 147.0,163.0 149.0,165.1 151.0,167.3 153.0,169.7 155.0,172.2 157.0,174.5 159.0,177.3 161.0,179.4 163.0,180.9 165.0,182.0 167.0,182.7 169.0,183.0 171.0,183.0 173.0,182.4 175.0,181.3 177.0,180.3 179.0,179.2 181.0,178.5 183.0,177.9 185.0,177.7 187.0,177.8 189.0,178.6 191.0,179.3 193.0,179.3 195.0,179.1 197.0,177.8 199.0,175.7 201.0,171.8 203.0,167.1 205.0,161.8 207.0,156.0 209.0,149.7 211.0,142.8 213.0,136.6 215.0,131.0 217.0,126.0 219.0,121.8 221.0,118.1 223.0,115.1 225.0,112.8 227.0,110.8 229.0,108.8 231.0,106.2 233.0,103.5 235.0,100.8 237.0,98.7 239.0,96.6 241.0,94.8 243.0,93.1 245.0,91.4 247.0,89.6 249.0,87.9 251.0,86.5 253.0,85.3 255.0,84.4 257.0,83.7 259.0,83.0 261.0,82.3 263.0,81.4 265.0,80.1 267.0,78.8 269.0,77.2 271.0,75.5 273.0,74.1 275.0,72.6 277.0,71.0 279.0,70.0 281.0,69.3 283.0,68.9 285.0,68.7 287.0,68.6 289.0,68.5 291.0,68.3 293.0,67.8 295.0,67.4 297.0,66.9 299.0,66.6 301.0,66.6 303.0,66.6 305.0,66.5 307.0,66.5 309.0,66.3 311.0,66.2 313.0,65.8 315.0,65.5 317.0,65.3 319.0,65.4 321.0,65.7 323.0,66.6 325.0,67.9 327.0,69.2 329.0,70.0 331.0,70.7 333.0,70.7 335.0,70.8 337.0,70.2 339.0,69.6 341.0,69.3 343.0,67.9 345.0,66.9 347.0,65.9 349.0,65.3 351.0,64.7 353.0,64.0 355.0,63.7 357.0,63.0 359.0,62.3 361.0,61.4 363.0,61.2 365.0,61.8 367.0,62.1 369.0,62.2 371.0,62.0 373.0,61.6 375.0,60.8 377.0,59.8 379.0,59.2 381.0,59.3 383.0,59.4 385.0,59.8 387.0,60.3 389.0,60.9 391.0,61.7 393.0,62.8 395.0,63.6 397.0,64.0 399.0,64.6 401.0,65.0 403.0,65.3 405.0,65.7 407.0,65.8 409.0,65.7 411.0,66.1 413.0,66.3 415.0,66.0 417.0,65.6 419.0,65.8 421.0,66.2 423.0,67.4 425.0,69.1 427.0,70.2 429.0,71.4 431.0,72.8 433.0,74.0 435.0,74.7 437.0,75.2 439.0,75.6 441.0,76.1 443.0,76.6 445.0,77.1 447.0,77.8 449.0,78.6 451.0,79.3 453.0,79.7 455.0,79.9 457.0,80.7 459.0,81.2 461.0,81.8 463.0,83.6 465.0,85.6 467.0,87.3 469.0,89.0 471.0,90.4 473.0,91.6 475.0,92.5 477.0,93.6 479.0,94.7 481.0,95.9 483.0,97.5 485.0,100.1 487.0,103.4 489.0,108.2 491.0,112.6 493.0,116.5 495.0,120.7 497.0,124.1 499.0,126.0 501.0,127.2 503.0,128.0 505.0,129.3 507.0,130.1 509.0,131.2 511.0,131.8 513.0,132.1 515.0,132.0 517.0,131.6 519.0,131.2 521.0,131.1 523.0,131.3 525.0,131.8 528.5,132.9" stroke="#008000"/>
<polyline points="61.0,221.9 63.0,221.4 65.0,221.1 67.0,220.8 69.0,220.4 71.0,220.1 73.0,219.7 75.0,219.3 77.0,218.1 79.0,216.6 81.0,215.0 83.0,213.3 85.0,211.1 87.0,209.1 89.0,207.0 91.0,204.5 93.0,202.3 95.0,199.5 97.0,196.2 99.0,192.5 101.0,189.1 103.0,185.9 105.0,182.7 107.0,180.0 109.0,177.7 111.0,175.8 113.0,174.1 115.0,172.3 117.0,170.5 119.0,169.1 121.0,167.4 123.0,165.8 125.0,164.7 127.0,164.0 129.0,163.9 131.0,164.2 133.0,164.6 135.0,165.2 137.0,166.0 139.0,166.9 141.0,167.7 143.0,168.6 145.0,169.7 147.0,171.3 149.0,173.3 151.0,175.5 153.0,177.7 155.0,179.9 157.0,181.7 159.0,183.9 161.0,185.2 163.0,186.7 165.0,188.0 167.0,188.8 169.0,189.5 171.0,189.8 173.0,189.6 175.0,189.1 177.0,188.4 179.0,187.2 181.0,185.6 183.0,184.4 185.0,184.1 187.0,184.3 189.0,184.9 191.0,185.4 193.0,185.7 195.0,185.7 197.0,184.9 199.0,183.5 201.0,180.0 203.0,175.1 205.0,170.3 207.0,165.4 209.0,160.9 211.0,156.8 213.0,153.2 215.0,150.2 217.0,147.4 219.0,142.9 221.0,136.5 223.0,130.2 225.0,124.9 227.0,120.8 229.0,117.2 231.0,114.2 233.0,112.0 235.0,110.3 237.0,109.0 239.0,107.2 241.0,105.3 243.0,103.1 245.0,100.8 247.0,98.7 249.0,97.1 251.0,95.8 253.0,95.1 255.0,94.2 257.0,92.9 259.0,90.9 261.0,88.9 263.0,86.4 265.0,84.1 267.0,82.0 269.0,80.6 271.0,79.8 273.0,79.3 275.0,78.8 277.0,78.2 279.0,77.6 281.0,76.9 283.0,76.2 285.0,75.4 287.0,74.8 289.0,74.2 291.0,73.9 293.0,73.6 295.0,73.3 297.0,73.0 299.0,72.6 301.0,72.1 303.0,71.5 305.0,71.1 307.0,70.9 309.0,70.9 311.0,70.9 313.0,71.2 315.0,71.8 317.0,72.2 319.0,72.6 321.0,72.8 323.0,73.3 325.0,73.6 327.0,73.9 329.0,74.2 331.0,74.5 333.0,75.0 335.0,75.5 337.0,75.7 339.0,75.8 341.0,75.4 343.0,74.3 345.0,73.1 347.0,72.0 349.0,71.3 351.0,70.7 353.0,70.5 355.0,70.2 357.0,69.9 359.0,69.2 361.0,68.3 363.0,67.3 365.0,66.5 367.0,65.9 369.0,65.5 371.0,65.3 373.0,65.2 375.0,65.4 377.0,65.5 379.0,65.7 381.0,66.1 383.0,66.2 385.0,66.4 387.0,66.2 389.0,66.4 391.0,67.1 393.0,67.8 395.0,68.7 397.0,69.2 399.0,69.9 401.0,70.1 403.0,70.1 405.0,69.9 407.0,69.8 409.0,69.7 411.0,70.5 413.0,71.3 415.0,72.0 417.0,72.9 419.0,73.7 421.0,74.4 423.0,75.0 425.0,75.6 427.0,75.6 429.0,75.7 431.0,76.3 433.0,76.9 435.0,77.8 437.0,78.7 439.0,79.4 441.0,80.0 443.0,80.6 445.0,81.2 447.0,81.7 449.0,82.6 451.0,83.2 453.0,84.1 455.0,85.1 457.0,86.4 459.0,87.5 461.0,88.3 463.0,89.6 465.0,90.7 467.0,91.5 469.0,92.5 471.0,93.6 473.0,94.8 475.0,96.4 477.0,98.5 479.0,100.4 481.0,102.7 483.0,104.8 485.0,107.3 487.0,110.2 489.0,114.3 491.0,118.0 493.0,121.7 495.0,125.4 497.0,128.5 499.0,130.6 501.0,131.9 503.0,132.4 505.0,133.1 507.0,133.5 509.0,134.1 511.0,134.9 513.0,135.4 515.0,136.0 517.0,136.7 519.0,137.3 521.0,138.1 523.0,138.7 525.0,139.1 528.5,139.3" stroke="#bf00bf"/>
<polyline points="61.0,221.8 63.0,221.6 65.0,221.2 67.0,221.0 69.0,220.6 71.0,220.4 73.0,220.1 75.0,219.6 77.0,218.7 79.0,217.2 81.0,215.9 83.0,214.2 85.0,212.2 87.0,210.2 89.0,207.9 91.0,205.3 93.0,202.9 95.0,200.2 97.0,196.7 99.0,193.6 101.0,190.6 103.0,188.0 105.0,185.7 107.0,183.9 109.0,182.6 111.0,181.2 113.0,179.8 115.0,177.9 117.0,176.0 119.0,174.5 121.0,173.1 123.0,172.0 125.0,170.9 127.0,170.4 129.0,170.1 131.0,169.9 133.0,170.1 135.0,170.6 137.0,171.3 139.0,172.3 141.0,173.5 143.0,174.6 145.0,175.9 147.0,177.1 149.0,178.2 151.0,179.4 153.0,180.8 155.0,182.1 157.0,183.3 159.0,184.8 161.0,186.0 163.0,187.3 165.0,188.5 167.0,189.2 169.0,190.0 171.0,190.4 173.0,190.3 175.0,189.7 177.0,189.1 179.0,188.0 181.0,186.4 183.0,185.4 185.0,185.2 187.0,185.4 189.0,185.8 191.0,186.0 193.0,186.0 195.0,185.7 197.0,184.7 199.0,183.2 201.0,179.8 203.0,175.4 205.0,171.0 207.0,166.9 209.0,163.1 211.0,159.7 213.0,156.4 215.0,153.5 217.0,150.6 219.0,145.8 221.0,139.1 223.0,132.9 225.0,127.7 227.0,123.5 229.0,119.9 231.0,116.5 233.0,113.7 235.0,111.8 237.0,110.3 239.0,109.3 241.0,108.4 243.0,107.6 245.0,106.6 247.0,105.6 249.0,104.4 251.0,102.9 253.0,101.0 255.0,98.5 257.0,96.0 259.0,93.1 261.0,90.3 263.0,87.7 265.0,85.5 267.0,83.8 269.0,82.7 271.0,82.0 273.0,81.7 275.0,81.1 277.0,80.6 279.0,80.0 281.0,79.8 283.0,79.4 285.0,79.0 287.0,78.5 289.0,78.1 291.0,77.5 293.0,76.8 295.0,76.0 297.0,75.1 299.0,74.4 301.0,74.0 303.0,73.6 305.0,73.7 307.0,74.0 309.0,74.4 311.0,74.8 313.0,75.2 315.0,75.6 317.0,76.0 319.0,76.0 321.0,75.9 323.0,76.0 325.0,76.2 327.0,76.3 329.0,76.6 331.0,76.5 333.0,76.4 335.0,76.5 337.0,76.5 339.0,76.3 341.0,76.1 343.0,75.3 345.0,74.8 347.0,74.2 349.0,74.0 351.0,73.6 353.0,73.2 355.0,72.7 357.0,71.9 359.0,70.6 361.0,69.1 363.0,67.9 365.0,67.1 367.0,66.5 369.0,66.5 371.0,66.4 373.0,66.6 375.0,66.7 377.0,66.7 379.0,67.0 381.0,67.4 383.0,67.9 385.0,68.3 387.0,68.8 389.0,69.0 391.0,69.4 393.0,69.6 395.0,69.8 397.0,69.6 399.0,69.4 401.0,69.2 403.0,69.2 405.0,69.5 407.0,69.8 409.0,70.5 411.0,72.0 413.0,73.3 415.0,74.2 417.0,75.3 419.0,75.9 421.0,76.5 423.0,77.3 425.0,77.7 427.0,77.9 429.0,78.1 431.0,78.5 433.0,79.1 435.0,79.3 437.0,79.7 439.0,80.2 441.0,80.8 443.0,81.7 445.0,82.8 447.0,83.9 449.0,85.3 451.0,86.7 453.0,87.6 455.0,88.5 457.0,89.3 459.0,89.7 461.0,89.6 463.0,90.3 465.0,91.1 467.0,91.9 469.0,93.0 471.0,94.4 473.0,95.9 475.0,97.5 477.0,99.6 479.0,101.7 481.0,104.1 483.0,106.5 485.0,109.7 487.0,113.0 489.0,117.4 491.0,121.6 493.0,124.9 495.0,128.1 497.0,130.5 499.0,131.8 501.0,132.4 503.0,132.6 505.0,133.2 507.0,133.9 509.0,134.7 511.0,135.8 513.0,136.6 515.0,137.4 517.0,137.9 519.0,138.4 521.0,138.8 523.0,139.2 525.0,139.4 528.5,139.6" stroke="#00bfbf"/>
<polyline points="61.0,222.5 63.0,222.0 65.0,221.8 67.0,221.7 69.0,221.2 71.0,221.0 73.0,220.8 75.0,220.2 77.0,219.2 79.0,217.9 81.0,216.6 83.0,215.1 85.0,213.4 87.0,211.6 89.0,209.3 91.0,207.2 93.0,204.9 95.0,202.3 97.0,199.4 99.0,196.2 101.0,193.5 103.0,190.9 105.0,188.4 107.0,186.6 109.0,185.0 111.0,183.2 113.0,181.7 115.0,180.0 117.0,178.4 119.0,177.3 121.0,176.9 123.0,176.6 125.0,176.5 127.0,176.5 129.0,176.8 131.0,177.0 133.0,177.2 135.0,177.6 137.0,178.1 139.0,178.6 141.0,179.0 143.0,179.3 145.0,179.7 147.0,180.0 149.0,180.8 151.0,181.6 153.0,182.8 155.0,184.0 157.0,185.4 159.0,186.9 161.0,188.3 163.0,189.5 165.0,190.8 167.0,191.2 169.0,191.6 171.0,191.7 173.0,191.2 175.0,190.3 177.0,189.4 179.0,188.0 181.0,186.5 183.0,185.3 185.0,185.2 187.0,185.5 189.0,186.2 191.0,186.3 193.0,187.0 195.0,186.7 197.0,186.0 199.0,185.0 201.0,182.0 203.0,177.6 205.0,173.5 207.0,169.4 209.0,165.4 211.0,162.0 213.0,158.5 215.0,155.3 217.0,153.0 219.0,148.7 221.0,142.8 223.0,137.4 225.0,133.3 227.0,129.9 229.0,127.0 231.0,124.0 233.0,121.5 235.0,119.4 237.0,117.7 239.0,116.0 241.0,114.5 243.0,112.9 245.0,111.1 247.0,109.3 249.0,107.5 251.0,105.6 253.0,103.7 255.0,101.8 257.0,100.0 259.0,98.2 261.0,96.3 263.0,94.6 265.0,92.9 267.0,91.2 269.0,90.0 271.0,89.2 273.0,88.3 275.0,87.1 277.0,85.9 279.0,84.9 281.0,84.4 283.0,83.7 285.0,83.1 287.0,82.6 289.0,82.1 291.0,81.7 293.0,81.3 295.0,80.9 297.0,80.5 299.0,80.0 301.0,80.0 303.0,79.6 305.0,79.4 307.0,79.4 309.0,79.2 311.0,79.0 313.0,78.8 315.0,78.7 317.0,79.0 319.0,79.0 321.0,79.3 323.0,79.7 325.0,80.2 327.0,80.7 329.0,81.5 331.0,81.9 333.0,82.3 335.0,82.5 337.0,82.6 339.0,82.3 341.0,81.6 343.0,80.8 345.0,79.7 347.0,78.5 349.0,77.4 351.0,76.4 353.0,75.6 355.0,74.9 357.0,74.0 359.0,73.1 361.0,72.3 363.0,71.5 365.0,71.2 367.0,70.9 369.0,70.8 371.0,70.8 373.0,70.7 375.0,70.4 377.0,70.4 379.0,70.3 381.0,70.5 383.0,70.7 385.0,71.1 387.0,71.5 389.0,72.0 391.0,72.6 393.0,73.3 395.0,73.6 397.0,74.1 399.0,74.5 401.0,74.9 403.0,75.4 405.0,75.9 407.0,76.6 409.0,76.9 411.0,77.6 413.0,78.1 415.0,78.4 417.0,78.6 419.0,79.0 421.0,79.3 423.0,80.0 425.0,80.7 427.0,81.3 429.0,81.8 431.0,82.6 433.0,83.5 435.0,84.0 437.0,84.6 439.0,85.1 441.0,85.6 443.0,86.4 445.0,87.2 447.0,88.1 449.0,89.1 451.0,89.8 453.0,90.6 455.0,91.1 457.0,91.9 459.0,92.6 461.0,93.4 463.0,94.5 465.0,96.2 467.0,97.6 469.0,99.0 471.0,100.6 473.0,102.0 475.0,103.4 477.0,104.9 479.0,106.4 481.0,108.1 483.0,110.2 485.0,112.5 487.0,115.6 489.0,119.6 491.0,123.5 493.0,126.7 495.0,129.8 497.0,132.5 499.0,134.1 501.0,135.3 503.0,136.1 505.0,137.0 507.0,137.9 509.0,138.7 511.0,139.5 513.0,140.2 515.0,140.6 517.0,141.1 519.0,141.5 521.0,141.8 523.0,142.1 525.0,142.7 528.5,143.8" stroke="#008000"/>
</g>
<rect x="61.0" y="24.35" width="467.5" height="200.65" fill="none" stroke="#3c3c3c" stroke-width="1.1"/>
<path d="M138.92 225.0v-5M138.92 24.35v5M216.83 225.0v-5M216.83 24.35v5M294.75 225.0v-5M294.75 24.35v5M372.67 225.0v-5M372.67 24.35v5M450.58 225.0v-5M450.58 24.35v5M61.0 174.84h5.2M528.5 174.84h-5.2M61.0 124.67h5.2M528.5 124.67h-5.2M61.0 74.51h5.2M528.5 74.51h-5.2" stroke="#222" stroke-width="1" fill="none"/>
<g font-size="13.5" letter-spacing="0.4"><text x="61.0" y="239.5" text-anchor="middle">400</text><text x="138.9" y="239.5" text-anchor="middle">500</text><text x="216.8" y="239.5" text-anchor="middle">600</text><text x="294.8" y="239.5" text-anchor="middle">700</text><text x="372.7" y="239.5" text-anchor="middle">800</text><text x="450.6" y="239.5" text-anchor="middle">900</text><text x="528.5" y="239.5" text-anchor="middle">1000</text><text x="57.5" y="229.0" text-anchor="end">0</text><text x="57.5" y="178.8" text-anchor="end">0.2</text><text x="57.5" y="128.7" text-anchor="end">0.4</text><text x="57.5" y="78.5" text-anchor="end">0.6</text><text x="57.5" y="28.3" text-anchor="end">0.8</text></g>
<text x="6" y="17.9" font-size="15.5" letter-spacing="0.3">(a)</text>
<text x="243.1" y="255" font-size="13.6"><tspan letter-spacing="0.1">Wavelength </tspan><tspan letter-spacing="-0.4">(nm)</tspan></text>
<text transform="translate(32.4,172.3) rotate(-90)" font-size="13.6"><tspan letter-spacing="-0.02">Reflectance</tspan><tspan letter-spacing="-1.0"> </tspan><tspan font-size="14.6" letter-spacing="0.12">(%)</tspan></text>
</svg>
</body></html>
